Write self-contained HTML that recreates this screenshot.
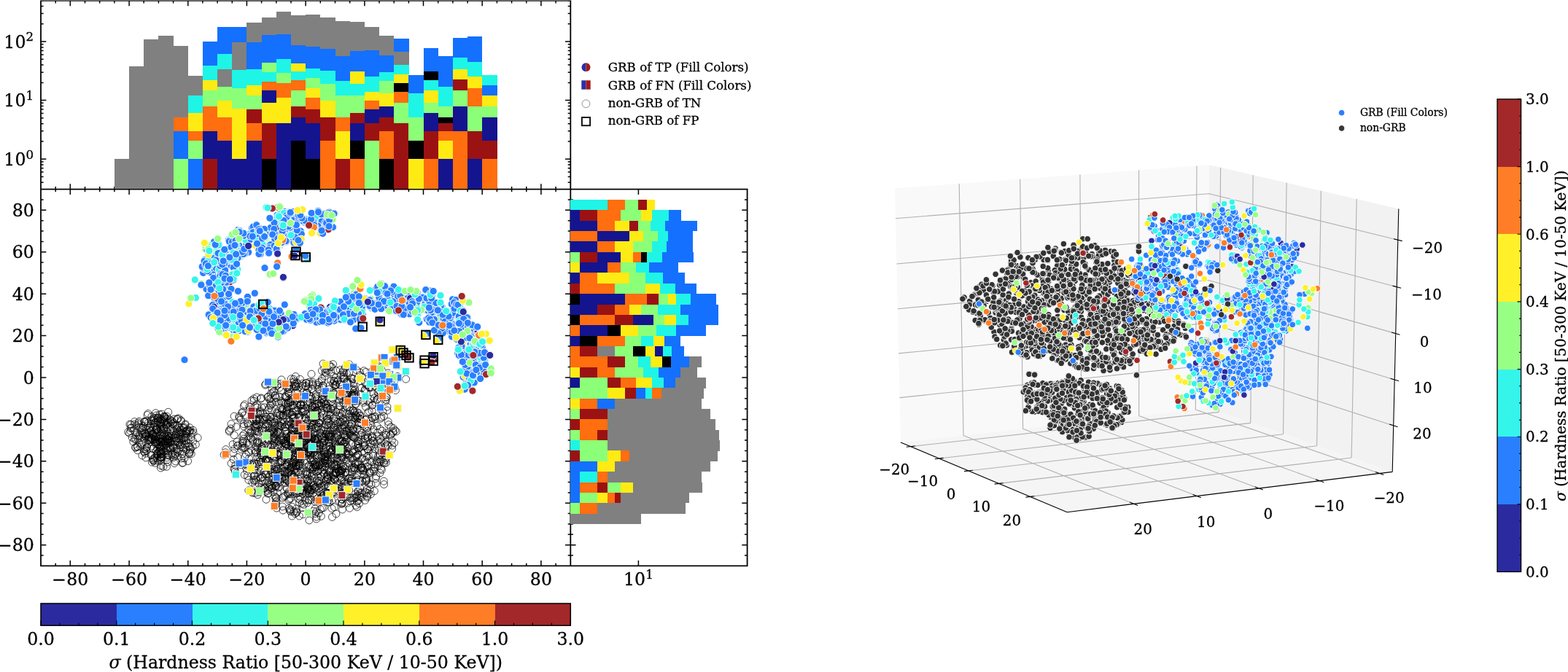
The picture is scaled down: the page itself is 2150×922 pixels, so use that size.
<!DOCTYPE html>
<html lang="en"><head><meta charset="utf-8"><title>GRB t-SNE hardness ratio</title>
<style>html,body{margin:0;padding:0;background:#fff}body{width:2150px;height:922px;overflow:hidden}svg{display:block}text{white-space:pre;stroke:#000;stroke-width:.3px;stroke-linejoin:round}</style>
</head><body>
<svg width="2150" height="922" viewBox="0 0 2150 922" font-family='"DejaVu Serif","Liberation Serif",serif' fill="#000">
<defs>
<circle id="t" r="5" fill="none" stroke="#000" stroke-opacity=".75" stroke-width=".95"/><rect id="p" x="-5.7" y="-5.7" width="11.4" height="11.4" fill="none" stroke="#000" stroke-width="2"/><circle id="cN" r="5.1" fill="#2b2b9f" stroke="#fff" stroke-width="1"/><rect id="sN" x="-5" y="-5" width="10" height="10" fill="#2b2b9f" stroke="#f4f4f4" stroke-width="1"/><circle id="cB" r="5.1" fill="#2a7fff" stroke="#fff" stroke-width="1"/><rect id="sB" x="-5" y="-5" width="10" height="10" fill="#2a7fff" stroke="#f4f4f4" stroke-width="1"/><circle id="cC" r="5.1" fill="#35f5eb" stroke="#fff" stroke-width="1"/><rect id="sC" x="-5" y="-5" width="10" height="10" fill="#35f5eb" stroke="#f4f4f4" stroke-width="1"/><circle id="cG" r="5.1" fill="#98ff85" stroke="#fff" stroke-width="1"/><rect id="sG" x="-5" y="-5" width="10" height="10" fill="#98ff85" stroke="#f4f4f4" stroke-width="1"/><circle id="cY" r="5.1" fill="#fff02a" stroke="#fff" stroke-width="1"/><rect id="sY" x="-5" y="-5" width="10" height="10" fill="#fff02a" stroke="#f4f4f4" stroke-width="1"/><circle id="cO" r="5.1" fill="#ff7d26" stroke="#fff" stroke-width="1"/><rect id="sO" x="-5" y="-5" width="10" height="10" fill="#ff7d26" stroke="#f4f4f4" stroke-width="1"/><circle id="cR" r="5.1" fill="#a2282a" stroke="#fff" stroke-width="1"/><rect id="sR" x="-5" y="-5" width="10" height="10" fill="#a2282a" stroke="#f4f4f4" stroke-width="1"/>
<circle id="d" r="4.3" fill="#333" stroke="#fff" stroke-width="1"/><circle id="eN" r="4.3" fill="#2b2b9f" stroke="#fff" stroke-width="1"/><circle id="eB" r="4.3" fill="#2a7fff" stroke="#fff" stroke-width="1"/><circle id="eC" r="4.3" fill="#35f5eb" stroke="#fff" stroke-width="1"/><circle id="eG" r="4.3" fill="#98ff85" stroke="#fff" stroke-width="1"/><circle id="eY" r="4.3" fill="#fff02a" stroke="#fff" stroke-width="1"/><circle id="eO" r="4.3" fill="#ff7d26" stroke="#fff" stroke-width="1"/><circle id="eR" r="4.3" fill="#a2282a" stroke="#fff" stroke-width="1"/>
<clipPath id="cm"><rect x="56.0" y="259.6" width="726.3" height="516.8"/></clipPath>
</defs>
<g id="scatter" clip-path="url(#cm)">
<use href="#t" x="429.6" y="676.7"/><use href="#t" x="441.0" y="522.8"/><use href="#t" x="180.5" y="586.9"/><use href="#t" x="400.6" y="609.3"/><use href="#t" x="409.2" y="600.2"/><use href="#t" x="210.8" y="582.6"/><use href="#t" x="236.7" y="624.1"/><use href="#t" x="372.0" y="640.1"/><use href="#t" x="433.8" y="712.0"/><use href="#t" x="197.9" y="616.3"/><use href="#t" x="437.1" y="634.7"/><use href="#t" x="506.8" y="531.2"/><use href="#t" x="370.9" y="610.5"/><use href="#t" x="413.5" y="564.2"/><use href="#t" x="392.1" y="564.8"/><use href="#t" x="338.3" y="607.9"/><use href="#t" x="376.6" y="644.5"/><use href="#t" x="443.6" y="666.2"/><use href="#t" x="461.4" y="638.4"/><use href="#t" x="434.2" y="563.9"/><use href="#t" x="386.2" y="651.3"/><use href="#t" x="467.3" y="645.7"/><use href="#t" x="467.2" y="612.7"/><use href="#t" x="499.6" y="651.5"/><use href="#t" x="217.8" y="573.2"/><use href="#t" x="217.0" y="620.3"/><use href="#t" x="443.1" y="610.8"/><use href="#t" x="190.7" y="582.2"/><use href="#t" x="437.8" y="660.2"/><use href="#t" x="257.2" y="589.3"/><use href="#t" x="330.9" y="616.6"/><use href="#t" x="386.9" y="561.7"/><use href="#t" x="393.1" y="563.2"/><use href="#t" x="482.2" y="641.6"/><use href="#t" x="188.6" y="612.6"/><use href="#t" x="470.0" y="667.1"/><use href="#t" x="400.1" y="524.9"/><use href="#t" x="234.0" y="579.4"/><use href="#t" x="376.6" y="622.0"/><use href="#t" x="446.8" y="554.7"/><use href="#t" x="454.9" y="617.7"/><use href="#t" x="436.7" y="646.3"/><use href="#t" x="190.0" y="580.1"/><use href="#t" x="435.3" y="528.1"/><use href="#t" x="400.4" y="708.0"/><use href="#t" x="254.9" y="597.5"/><use href="#t" x="447.9" y="571.0"/><use href="#t" x="371.3" y="665.5"/><use href="#t" x="457.8" y="522.2"/><use href="#t" x="390.4" y="608.6"/><use href="#t" x="460.5" y="527.7"/><use href="#t" x="419.6" y="588.4"/><use href="#t" x="429.2" y="573.8"/><use href="#t" x="340.9" y="583.8"/><use href="#t" x="363.0" y="574.8"/><use href="#t" x="411.8" y="620.1"/><use href="#t" x="469.5" y="644.4"/><use href="#t" x="397.4" y="700.6"/><use href="#t" x="494.0" y="575.1"/><use href="#t" x="466.6" y="605.2"/><use href="#t" x="446.1" y="510.2"/><use href="#t" x="484.3" y="599.3"/><use href="#t" x="370.2" y="524.8"/><use href="#t" x="382.3" y="653.9"/><use href="#t" x="400.5" y="569.2"/><use href="#t" x="466.5" y="620.0"/><use href="#t" x="524.1" y="591.2"/><use href="#t" x="332.3" y="612.2"/><use href="#t" x="374.1" y="653.1"/><use href="#t" x="219.3" y="612.8"/><use href="#t" x="446.3" y="660.9"/><use href="#t" x="428.1" y="615.5"/><use href="#t" x="529.2" y="535.8"/><use href="#t" x="427.5" y="671.7"/><use href="#t" x="368.0" y="544.0"/><use href="#t" x="415.5" y="565.3"/><use href="#t" x="433.1" y="543.7"/><use href="#t" x="503.3" y="671.3"/><use href="#t" x="185.8" y="613.8"/><use href="#t" x="345.1" y="594.7"/><use href="#t" x="407.3" y="659.1"/><use href="#t" x="411.2" y="621.6"/><use href="#t" x="412.9" y="561.0"/><use href="#t" x="457.7" y="612.7"/><use href="#t" x="332.3" y="565.2"/><use href="#t" x="416.6" y="543.7"/><use href="#t" x="323.4" y="649.7"/><use href="#t" x="213.2" y="580.0"/><use href="#t" x="201.1" y="597.0"/><use href="#t" x="380.3" y="676.1"/><use href="#t" x="349.9" y="664.9"/><use href="#t" x="527.3" y="517.4"/><use href="#t" x="249.8" y="635.3"/><use href="#t" x="440.1" y="653.7"/><use href="#t" x="372.4" y="596.6"/><use href="#t" x="388.5" y="569.4"/><use href="#t" x="471.4" y="607.5"/><use href="#t" x="406.1" y="637.8"/><use href="#t" x="400.9" y="568.7"/><use href="#t" x="359.6" y="613.3"/><use href="#t" x="351.1" y="577.5"/><use href="#t" x="225.7" y="572.9"/><use href="#t" x="252.7" y="586.1"/><use href="#t" x="525.0" y="510.1"/><use href="#t" x="179.0" y="587.4"/><use href="#t" x="354.4" y="675.2"/><use href="#t" x="417.1" y="615.4"/><use href="#t" x="345.1" y="549.3"/><use href="#t" x="375.2" y="598.3"/><use href="#t" x="475.0" y="631.2"/><use href="#t" x="443.1" y="559.6"/><use href="#t" x="443.9" y="619.4"/><use href="#t" x="210.0" y="577.6"/><use href="#t" x="220.1" y="575.8"/><use href="#t" x="457.6" y="573.8"/><use href="#t" x="526.0" y="634.0"/><use href="#t" x="403.7" y="615.2"/><use href="#t" x="380.7" y="564.7"/><use href="#t" x="392.3" y="605.1"/><use href="#t" x="234.2" y="588.8"/><use href="#t" x="254.1" y="581.8"/><use href="#t" x="504.7" y="584.9"/><use href="#t" x="385.8" y="602.9"/><use href="#t" x="344.5" y="601.4"/><use href="#t" x="482.6" y="647.8"/><use href="#t" x="427.3" y="561.8"/><use href="#t" x="227.1" y="605.3"/><use href="#t" x="451.3" y="500.6"/><use href="#t" x="449.9" y="631.6"/><use href="#t" x="398.3" y="651.4"/><use href="#t" x="378.1" y="657.2"/><use href="#t" x="352.3" y="606.7"/><use href="#t" x="545.1" y="516.5"/><use href="#t" x="384.0" y="593.2"/><use href="#t" x="221.2" y="622.0"/><use href="#t" x="516.8" y="584.4"/><use href="#t" x="454.9" y="676.8"/><use href="#t" x="542.4" y="535.5"/><use href="#t" x="385.6" y="550.5"/><use href="#t" x="223.1" y="617.2"/><use href="#t" x="208.1" y="601.7"/><use href="#t" x="338.7" y="646.2"/><use href="#t" x="501.9" y="656.6"/><use href="#t" x="424.8" y="616.5"/><use href="#t" x="374.0" y="589.1"/><use href="#t" x="409.2" y="531.3"/><use href="#t" x="341.4" y="629.0"/><use href="#t" x="198.7" y="578.4"/><use href="#t" x="495.9" y="532.3"/><use href="#t" x="481.1" y="659.8"/><use href="#t" x="515.1" y="656.6"/><use href="#t" x="244.5" y="618.0"/><use href="#t" x="391.0" y="545.1"/><use href="#t" x="467.6" y="630.9"/><use href="#t" x="471.4" y="582.6"/><use href="#t" x="207.9" y="571.5"/><use href="#t" x="355.9" y="674.9"/><use href="#t" x="423.9" y="524.2"/><use href="#t" x="490.8" y="573.7"/><use href="#t" x="502.2" y="575.0"/><use href="#t" x="214.3" y="570.0"/><use href="#t" x="376.3" y="620.1"/><use href="#t" x="239.2" y="635.6"/><use href="#t" x="421.5" y="689.8"/><use href="#t" x="223.9" y="640.2"/><use href="#t" x="442.7" y="680.3"/><use href="#t" x="484.2" y="631.4"/><use href="#t" x="468.5" y="646.0"/><use href="#t" x="233.4" y="605.6"/><use href="#t" x="457.5" y="623.1"/><use href="#t" x="423.3" y="589.1"/><use href="#t" x="454.7" y="550.9"/><use href="#t" x="221.6" y="626.7"/><use href="#t" x="247.6" y="619.0"/><use href="#t" x="526.4" y="530.8"/><use href="#t" x="379.8" y="623.2"/><use href="#t" x="379.9" y="529.4"/><use href="#t" x="196.2" y="584.5"/><use href="#t" x="186.6" y="596.7"/><use href="#t" x="378.4" y="667.5"/><use href="#t" x="507.2" y="532.0"/><use href="#t" x="370.2" y="664.1"/><use href="#t" x="418.0" y="604.1"/><use href="#t" x="508.7" y="612.4"/><use href="#t" x="392.3" y="591.1"/><use href="#t" x="430.6" y="577.8"/><use href="#t" x="431.9" y="704.9"/><use href="#t" x="221.0" y="589.5"/><use href="#t" x="350.6" y="591.5"/><use href="#t" x="399.7" y="650.9"/><use href="#t" x="409.7" y="573.8"/><use href="#t" x="319.2" y="609.7"/><use href="#t" x="469.1" y="543.2"/><use href="#t" x="271.1" y="600.6"/><use href="#t" x="383.1" y="646.4"/><use href="#t" x="212.5" y="573.6"/><use href="#t" x="391.0" y="591.9"/><use href="#t" x="388.8" y="604.1"/><use href="#t" x="484.3" y="587.9"/><use href="#t" x="458.9" y="600.8"/><use href="#t" x="450.4" y="577.5"/><use href="#t" x="255.5" y="604.5"/><use href="#t" x="486.2" y="645.0"/><use href="#t" x="425.6" y="580.7"/><use href="#t" x="453.8" y="659.9"/><use href="#t" x="366.9" y="632.2"/><use href="#t" x="409.1" y="572.5"/><use href="#t" x="521.0" y="623.9"/><use href="#t" x="396.1" y="661.0"/><use href="#t" x="209.7" y="630.6"/><use href="#t" x="389.8" y="579.0"/><use href="#t" x="471.9" y="519.4"/><use href="#t" x="419.9" y="568.1"/><use href="#t" x="367.7" y="673.1"/><use href="#t" x="385.3" y="580.0"/><use href="#t" x="482.7" y="662.2"/><use href="#t" x="424.7" y="570.6"/><use href="#t" x="411.1" y="660.5"/><use href="#t" x="394.7" y="677.9"/><use href="#t" x="468.5" y="691.2"/><use href="#t" x="350.0" y="556.9"/><use href="#t" x="457.9" y="586.9"/><use href="#t" x="404.6" y="529.3"/><use href="#t" x="384.2" y="621.7"/><use href="#t" x="430.0" y="641.0"/><use href="#t" x="464.9" y="647.9"/><use href="#t" x="380.6" y="643.7"/><use href="#t" x="482.0" y="643.1"/><use href="#t" x="381.6" y="620.7"/><use href="#t" x="352.3" y="583.9"/><use href="#t" x="211.5" y="594.0"/><use href="#t" x="384.9" y="604.2"/><use href="#t" x="414.7" y="674.0"/><use href="#t" x="443.1" y="499.0"/><use href="#t" x="438.0" y="638.5"/><use href="#t" x="487.6" y="610.5"/><use href="#t" x="469.4" y="616.5"/><use href="#t" x="231.5" y="601.0"/><use href="#t" x="228.0" y="585.8"/><use href="#t" x="486.3" y="635.4"/><use href="#t" x="262.7" y="594.0"/><use href="#t" x="438.6" y="638.1"/><use href="#t" x="487.9" y="569.4"/><use href="#t" x="237.8" y="627.6"/><use href="#t" x="503.9" y="640.1"/><use href="#t" x="214.7" y="580.0"/><use href="#t" x="190.3" y="586.2"/><use href="#t" x="510.2" y="556.2"/><use href="#t" x="452.9" y="632.6"/><use href="#t" x="490.3" y="634.6"/><use href="#t" x="401.2" y="586.5"/><use href="#t" x="397.1" y="598.7"/><use href="#t" x="543.3" y="592.0"/><use href="#t" x="480.0" y="595.8"/><use href="#t" x="382.2" y="605.5"/><use href="#t" x="440.4" y="565.8"/><use href="#t" x="207.9" y="590.3"/><use href="#t" x="207.5" y="577.2"/><use href="#t" x="228.5" y="591.5"/><use href="#t" x="464.1" y="609.7"/><use href="#t" x="448.7" y="677.8"/><use href="#t" x="380.4" y="576.1"/><use href="#t" x="337.5" y="642.0"/><use href="#t" x="467.2" y="638.0"/><use href="#t" x="486.5" y="573.0"/><use href="#t" x="224.7" y="574.9"/><use href="#t" x="475.4" y="612.3"/><use href="#t" x="371.3" y="546.7"/><use href="#t" x="486.3" y="542.4"/><use href="#t" x="408.0" y="596.6"/><use href="#t" x="243.3" y="575.1"/><use href="#t" x="428.0" y="627.8"/><use href="#t" x="508.2" y="678.2"/><use href="#t" x="466.8" y="606.4"/><use href="#t" x="428.1" y="578.8"/><use href="#t" x="360.2" y="654.9"/><use href="#t" x="378.9" y="646.1"/><use href="#t" x="342.3" y="635.8"/><use href="#t" x="371.4" y="540.0"/><use href="#t" x="224.9" y="571.5"/><use href="#t" x="504.3" y="599.4"/><use href="#t" x="485.1" y="529.8"/><use href="#t" x="402.6" y="677.4"/><use href="#t" x="422.2" y="660.4"/><use href="#t" x="221.8" y="619.8"/><use href="#t" x="399.3" y="597.6"/><use href="#t" x="534.3" y="535.1"/><use href="#t" x="240.1" y="622.5"/><use href="#t" x="221.8" y="568.2"/><use href="#t" x="433.0" y="541.2"/><use href="#t" x="386.0" y="535.9"/><use href="#t" x="482.6" y="541.6"/><use href="#t" x="230.3" y="618.9"/><use href="#t" x="411.9" y="625.3"/><use href="#t" x="377.3" y="667.0"/><use href="#t" x="493.2" y="514.9"/><use href="#t" x="480.3" y="655.8"/><use href="#t" x="477.4" y="525.1"/><use href="#t" x="485.2" y="536.8"/><use href="#t" x="446.7" y="591.0"/><use href="#t" x="400.8" y="674.9"/><use href="#t" x="425.1" y="543.5"/><use href="#t" x="426.5" y="573.1"/><use href="#t" x="530.7" y="610.2"/><use href="#t" x="436.1" y="639.0"/><use href="#t" x="522.3" y="606.1"/><use href="#t" x="231.4" y="598.5"/><use href="#t" x="453.2" y="541.3"/><use href="#t" x="531.0" y="563.2"/><use href="#t" x="339.4" y="653.0"/><use href="#t" x="427.9" y="559.0"/><use href="#t" x="187.3" y="593.9"/><use href="#t" x="450.8" y="676.9"/><use href="#t" x="473.2" y="647.8"/><use href="#t" x="460.3" y="590.3"/><use href="#t" x="254.7" y="600.2"/><use href="#t" x="422.1" y="600.1"/><use href="#t" x="419.1" y="591.1"/><use href="#t" x="466.3" y="652.4"/><use href="#t" x="369.6" y="594.5"/><use href="#t" x="363.8" y="645.8"/><use href="#t" x="230.3" y="580.8"/><use href="#t" x="422.2" y="669.5"/><use href="#t" x="255.9" y="594.8"/><use href="#t" x="516.1" y="511.5"/><use href="#t" x="437.4" y="659.2"/><use href="#t" x="481.1" y="597.6"/><use href="#t" x="204.2" y="593.5"/><use href="#t" x="512.3" y="540.6"/><use href="#t" x="486.1" y="592.4"/><use href="#t" x="217.5" y="592.1"/><use href="#t" x="469.1" y="643.9"/><use href="#t" x="434.8" y="617.3"/><use href="#t" x="235.8" y="577.8"/><use href="#t" x="357.9" y="624.1"/><use href="#t" x="465.6" y="688.2"/><use href="#t" x="419.8" y="625.5"/><use href="#t" x="370.6" y="644.6"/><use href="#t" x="444.8" y="650.1"/><use href="#t" x="530.4" y="545.1"/><use href="#t" x="383.4" y="544.2"/><use href="#t" x="254.9" y="593.2"/><use href="#t" x="372.4" y="669.5"/><use href="#t" x="444.0" y="621.8"/><use href="#t" x="462.6" y="589.1"/><use href="#t" x="380.7" y="663.4"/><use href="#t" x="454.7" y="627.8"/><use href="#t" x="477.7" y="624.7"/><use href="#t" x="354.9" y="633.9"/><use href="#t" x="524.3" y="518.9"/><use href="#t" x="472.7" y="585.7"/><use href="#t" x="489.2" y="688.1"/><use href="#t" x="449.8" y="656.8"/><use href="#t" x="503.4" y="680.5"/><use href="#t" x="396.5" y="577.8"/><use href="#t" x="438.7" y="571.2"/><use href="#t" x="446.2" y="665.4"/><use href="#t" x="462.7" y="633.4"/><use href="#t" x="363.6" y="586.0"/><use href="#t" x="469.5" y="588.7"/><use href="#t" x="360.4" y="566.5"/><use href="#t" x="470.4" y="565.3"/><use href="#t" x="535.9" y="596.0"/><use href="#t" x="434.6" y="679.7"/><use href="#t" x="230.7" y="598.2"/><use href="#t" x="252.9" y="604.4"/><use href="#t" x="447.5" y="583.2"/><use href="#t" x="433.6" y="574.6"/><use href="#t" x="483.9" y="621.1"/><use href="#t" x="349.3" y="651.6"/><use href="#t" x="411.9" y="682.2"/><use href="#t" x="190.8" y="607.2"/><use href="#t" x="420.5" y="602.8"/><use href="#t" x="452.8" y="620.6"/><use href="#t" x="446.7" y="684.9"/><use href="#t" x="421.4" y="673.1"/><use href="#t" x="449.0" y="656.4"/><use href="#t" x="514.5" y="616.0"/><use href="#t" x="477.1" y="628.3"/><use href="#t" x="514.4" y="552.0"/><use href="#t" x="216.3" y="572.9"/><use href="#t" x="510.6" y="598.3"/><use href="#t" x="429.2" y="528.8"/><use href="#t" x="500.4" y="534.3"/><use href="#t" x="389.3" y="681.2"/><use href="#t" x="532.2" y="511.9"/><use href="#t" x="220.4" y="582.6"/><use href="#t" x="221.1" y="622.8"/><use href="#t" x="438.3" y="664.4"/><use href="#t" x="355.3" y="664.5"/><use href="#t" x="463.4" y="612.0"/><use href="#t" x="381.3" y="624.4"/><use href="#t" x="365.5" y="629.4"/><use href="#t" x="475.6" y="524.3"/><use href="#t" x="349.2" y="636.8"/><use href="#t" x="218.9" y="568.9"/><use href="#t" x="434.3" y="638.7"/><use href="#t" x="351.3" y="582.4"/><use href="#t" x="372.8" y="618.0"/><use href="#t" x="406.8" y="601.8"/><use href="#t" x="488.7" y="660.0"/><use href="#t" x="224.3" y="594.5"/><use href="#t" x="411.2" y="609.6"/><use href="#t" x="503.9" y="615.8"/><use href="#t" x="393.8" y="558.6"/><use href="#t" x="421.3" y="651.7"/><use href="#t" x="453.6" y="615.2"/><use href="#t" x="385.9" y="584.9"/><use href="#t" x="488.7" y="626.5"/><use href="#t" x="208.0" y="612.3"/><use href="#t" x="512.9" y="646.4"/><use href="#t" x="482.0" y="542.9"/><use href="#t" x="204.7" y="600.1"/><use href="#t" x="442.5" y="680.1"/><use href="#t" x="414.3" y="691.0"/><use href="#t" x="486.2" y="564.9"/><use href="#t" x="445.9" y="626.0"/><use href="#t" x="433.8" y="586.6"/><use href="#t" x="414.7" y="677.5"/><use href="#t" x="419.7" y="610.3"/><use href="#t" x="510.6" y="600.7"/><use href="#t" x="397.2" y="578.7"/><use href="#t" x="519.5" y="618.2"/><use href="#t" x="419.5" y="574.3"/><use href="#t" x="350.3" y="585.3"/><use href="#t" x="194.6" y="590.4"/><use href="#t" x="526.5" y="664.6"/><use href="#t" x="426.3" y="631.4"/><use href="#t" x="220.2" y="623.7"/><use href="#t" x="395.9" y="686.3"/><use href="#t" x="359.9" y="575.9"/><use href="#t" x="491.0" y="624.2"/><use href="#t" x="369.8" y="587.0"/><use href="#t" x="446.6" y="538.7"/><use href="#t" x="184.6" y="582.3"/><use href="#t" x="404.1" y="600.7"/><use href="#t" x="420.2" y="525.4"/><use href="#t" x="377.3" y="543.2"/><use href="#t" x="385.8" y="634.3"/><use href="#t" x="225.3" y="571.3"/><use href="#t" x="436.1" y="586.2"/><use href="#t" x="482.2" y="682.6"/><use href="#t" x="460.7" y="508.4"/><use href="#t" x="500.7" y="674.8"/><use href="#t" x="194.9" y="625.0"/><use href="#t" x="228.4" y="640.3"/><use href="#t" x="530.9" y="558.1"/><use href="#t" x="425.0" y="547.1"/><use href="#t" x="449.1" y="574.7"/><use href="#t" x="335.2" y="651.5"/><use href="#t" x="491.4" y="549.7"/><use href="#t" x="352.6" y="559.2"/><use href="#t" x="376.1" y="627.2"/><use href="#t" x="507.3" y="649.1"/><use href="#t" x="375.5" y="625.5"/><use href="#t" x="470.4" y="552.4"/><use href="#t" x="407.7" y="600.0"/><use href="#t" x="212.7" y="635.2"/><use href="#t" x="227.6" y="614.6"/><use href="#t" x="257.6" y="632.7"/><use href="#t" x="502.4" y="675.9"/><use href="#t" x="369.4" y="668.5"/><use href="#t" x="460.9" y="705.0"/><use href="#t" x="527.1" y="619.6"/><use href="#t" x="403.7" y="627.2"/><use href="#t" x="485.2" y="641.4"/><use href="#t" x="445.7" y="632.5"/><use href="#t" x="346.2" y="570.8"/><use href="#t" x="398.7" y="550.7"/><use href="#t" x="216.2" y="632.1"/><use href="#t" x="349.6" y="676.5"/><use href="#t" x="333.1" y="606.9"/><use href="#t" x="359.2" y="605.7"/><use href="#t" x="470.3" y="641.5"/><use href="#t" x="431.3" y="602.7"/><use href="#t" x="336.2" y="614.3"/><use href="#t" x="347.9" y="635.6"/><use href="#t" x="483.8" y="562.7"/><use href="#t" x="454.4" y="596.5"/><use href="#t" x="332.6" y="598.1"/><use href="#t" x="449.6" y="636.4"/><use href="#t" x="378.6" y="682.5"/><use href="#t" x="223.1" y="575.5"/><use href="#t" x="484.0" y="534.0"/><use href="#t" x="374.7" y="600.9"/><use href="#t" x="503.1" y="626.7"/><use href="#t" x="242.4" y="615.6"/><use href="#t" x="480.2" y="687.4"/><use href="#t" x="236.8" y="581.7"/><use href="#t" x="471.4" y="520.1"/><use href="#t" x="491.0" y="687.1"/><use href="#t" x="430.3" y="593.1"/><use href="#t" x="411.2" y="625.7"/><use href="#t" x="358.5" y="634.5"/><use href="#t" x="408.9" y="623.9"/><use href="#t" x="246.0" y="596.1"/><use href="#t" x="498.4" y="552.3"/><use href="#t" x="391.0" y="612.0"/><use href="#t" x="228.9" y="612.0"/><use href="#t" x="397.7" y="645.9"/><use href="#t" x="493.4" y="613.7"/><use href="#t" x="385.9" y="520.9"/><use href="#t" x="422.3" y="667.9"/><use href="#t" x="386.9" y="632.5"/><use href="#t" x="462.4" y="627.4"/><use href="#t" x="421.1" y="650.4"/><use href="#t" x="410.1" y="610.2"/><use href="#t" x="349.0" y="591.0"/><use href="#t" x="212.3" y="579.7"/><use href="#t" x="395.4" y="676.7"/><use href="#t" x="484.2" y="563.7"/><use href="#t" x="249.3" y="623.1"/><use href="#t" x="433.5" y="581.6"/><use href="#t" x="483.8" y="589.6"/><use href="#t" x="396.9" y="624.5"/><use href="#t" x="444.7" y="678.6"/><use href="#t" x="487.7" y="553.9"/><use href="#t" x="333.1" y="614.6"/><use href="#t" x="459.6" y="648.9"/><use href="#t" x="216.9" y="577.7"/><use href="#t" x="416.3" y="543.5"/><use href="#t" x="463.1" y="585.1"/><use href="#t" x="458.9" y="539.3"/><use href="#t" x="356.9" y="646.5"/><use href="#t" x="474.0" y="639.5"/><use href="#t" x="399.0" y="582.2"/><use href="#t" x="359.9" y="627.9"/><use href="#t" x="461.1" y="595.5"/><use href="#t" x="260.1" y="586.7"/><use href="#t" x="449.0" y="630.7"/><use href="#t" x="437.4" y="599.9"/><use href="#t" x="210.0" y="595.9"/><use href="#t" x="373.5" y="553.8"/><use href="#t" x="432.0" y="545.5"/><use href="#t" x="468.0" y="546.1"/><use href="#t" x="443.1" y="624.7"/><use href="#t" x="457.2" y="664.0"/><use href="#t" x="496.2" y="641.3"/><use href="#t" x="365.2" y="641.0"/><use href="#t" x="405.0" y="563.1"/><use href="#t" x="228.9" y="597.2"/><use href="#t" x="367.0" y="623.6"/><use href="#t" x="365.4" y="572.3"/><use href="#t" x="460.4" y="527.5"/><use href="#t" x="469.3" y="625.4"/><use href="#t" x="447.9" y="579.2"/><use href="#t" x="361.9" y="576.8"/><use href="#t" x="470.8" y="639.2"/><use href="#t" x="352.9" y="567.7"/><use href="#t" x="366.9" y="603.4"/><use href="#t" x="517.8" y="593.4"/><use href="#t" x="456.6" y="546.8"/><use href="#t" x="380.8" y="583.9"/><use href="#t" x="517.4" y="598.8"/><use href="#t" x="336.8" y="636.6"/><use href="#t" x="526.3" y="571.1"/><use href="#t" x="364.1" y="630.6"/><use href="#t" x="498.2" y="549.7"/><use href="#t" x="377.0" y="647.4"/><use href="#t" x="400.3" y="638.0"/><use href="#t" x="401.3" y="565.5"/><use href="#t" x="406.9" y="660.7"/><use href="#t" x="405.6" y="608.8"/><use href="#t" x="483.0" y="686.5"/><use href="#t" x="454.3" y="598.8"/><use href="#t" x="435.5" y="624.6"/><use href="#t" x="345.7" y="636.3"/><use href="#t" x="464.1" y="670.3"/><use href="#t" x="454.8" y="602.7"/><use href="#t" x="435.9" y="653.4"/><use href="#t" x="470.8" y="576.4"/><use href="#t" x="506.1" y="530.9"/><use href="#t" x="509.9" y="572.4"/><use href="#t" x="471.8" y="511.3"/><use href="#t" x="535.5" y="597.2"/><use href="#t" x="427.1" y="614.8"/><use href="#t" x="249.5" y="607.2"/><use href="#t" x="420.2" y="646.2"/><use href="#t" x="375.7" y="536.6"/><use href="#t" x="344.2" y="592.6"/><use href="#t" x="485.2" y="541.4"/><use href="#t" x="456.5" y="557.8"/><use href="#t" x="214.4" y="618.4"/><use href="#t" x="357.0" y="563.8"/><use href="#t" x="213.7" y="609.6"/><use href="#t" x="435.3" y="662.0"/><use href="#t" x="440.5" y="589.0"/><use href="#t" x="400.9" y="547.8"/><use href="#t" x="376.3" y="587.5"/><use href="#t" x="499.0" y="645.6"/><use href="#t" x="447.3" y="608.8"/><use href="#t" x="423.4" y="677.5"/><use href="#t" x="357.4" y="655.8"/><use href="#t" x="406.2" y="599.0"/><use href="#t" x="436.2" y="616.5"/><use href="#t" x="414.8" y="641.8"/><use href="#t" x="431.1" y="571.4"/><use href="#t" x="458.4" y="523.3"/><use href="#t" x="500.4" y="585.9"/><use href="#t" x="472.0" y="663.4"/><use href="#t" x="432.6" y="604.3"/><use href="#t" x="202.6" y="584.0"/><use href="#t" x="340.9" y="589.4"/><use href="#t" x="513.3" y="609.5"/><use href="#t" x="447.1" y="595.6"/><use href="#t" x="433.7" y="604.5"/><use href="#t" x="473.4" y="504.2"/><use href="#t" x="378.1" y="692.1"/><use href="#t" x="192.7" y="613.1"/><use href="#t" x="432.7" y="668.3"/><use href="#t" x="395.4" y="566.7"/><use href="#t" x="511.9" y="643.8"/><use href="#t" x="376.5" y="612.3"/><use href="#t" x="249.3" y="590.0"/><use href="#t" x="420.9" y="589.4"/><use href="#t" x="469.9" y="510.5"/><use href="#t" x="409.6" y="657.0"/><use href="#t" x="393.3" y="615.3"/><use href="#t" x="375.3" y="620.2"/><use href="#t" x="459.9" y="612.5"/><use href="#t" x="486.9" y="637.3"/><use href="#t" x="474.6" y="541.0"/><use href="#t" x="521.5" y="630.6"/><use href="#t" x="407.9" y="539.4"/><use href="#t" x="397.7" y="598.7"/><use href="#t" x="441.5" y="519.9"/><use href="#t" x="444.2" y="607.3"/><use href="#t" x="224.9" y="586.7"/><use href="#t" x="456.6" y="499.7"/><use href="#t" x="410.4" y="547.5"/><use href="#t" x="179.0" y="591.6"/><use href="#t" x="501.8" y="660.6"/><use href="#t" x="435.9" y="666.7"/><use href="#t" x="426.0" y="620.4"/><use href="#t" x="510.5" y="573.8"/><use href="#t" x="476.1" y="548.9"/><use href="#t" x="369.6" y="622.5"/><use href="#t" x="411.9" y="554.8"/><use href="#t" x="500.7" y="602.0"/><use href="#t" x="458.7" y="636.9"/><use href="#t" x="423.7" y="603.7"/><use href="#t" x="214.5" y="594.1"/><use href="#t" x="438.4" y="535.8"/><use href="#t" x="410.6" y="675.8"/><use href="#t" x="323.9" y="585.6"/><use href="#t" x="509.6" y="633.7"/><use href="#t" x="490.9" y="623.0"/><use href="#t" x="446.3" y="639.5"/><use href="#t" x="188.3" y="613.1"/><use href="#t" x="435.4" y="602.4"/><use href="#t" x="255.2" y="617.3"/><use href="#t" x="446.7" y="511.9"/><use href="#t" x="441.8" y="547.0"/><use href="#t" x="493.9" y="681.8"/><use href="#t" x="359.0" y="591.6"/><use href="#t" x="317.0" y="581.7"/><use href="#t" x="450.6" y="607.4"/><use href="#t" x="240.7" y="583.6"/><use href="#t" x="475.6" y="681.7"/><use href="#t" x="406.2" y="599.4"/><use href="#t" x="339.4" y="580.6"/><use href="#t" x="344.7" y="618.0"/><use href="#t" x="427.5" y="600.9"/><use href="#t" x="382.2" y="582.6"/><use href="#t" x="447.0" y="595.9"/><use href="#t" x="335.2" y="569.9"/><use href="#t" x="348.9" y="659.8"/><use href="#t" x="215.4" y="628.8"/><use href="#t" x="431.6" y="655.9"/><use href="#t" x="463.5" y="663.6"/><use href="#t" x="390.7" y="637.3"/><use href="#t" x="407.9" y="673.8"/><use href="#t" x="349.8" y="617.7"/><use href="#t" x="377.3" y="542.6"/><use href="#t" x="321.5" y="615.9"/><use href="#t" x="368.8" y="622.0"/><use href="#t" x="392.4" y="625.5"/><use href="#t" x="201.2" y="577.6"/><use href="#t" x="335.8" y="626.6"/><use href="#t" x="413.3" y="625.4"/><use href="#t" x="433.7" y="701.8"/><use href="#t" x="426.0" y="628.7"/><use href="#t" x="446.3" y="636.0"/><use href="#t" x="490.8" y="611.4"/><use href="#t" x="243.2" y="620.4"/><use href="#t" x="412.2" y="554.0"/><use href="#t" x="476.4" y="623.2"/><use href="#t" x="522.9" y="572.4"/><use href="#t" x="403.3" y="645.1"/><use href="#t" x="389.8" y="627.6"/><use href="#t" x="392.5" y="657.1"/><use href="#t" x="509.4" y="646.5"/><use href="#t" x="393.5" y="561.6"/><use href="#t" x="487.3" y="682.9"/><use href="#t" x="230.1" y="634.0"/><use href="#t" x="262.2" y="622.6"/><use href="#t" x="395.8" y="530.7"/><use href="#t" x="541.7" y="590.6"/><use href="#t" x="493.7" y="570.5"/><use href="#t" x="406.8" y="701.9"/><use href="#t" x="539.1" y="591.9"/><use href="#t" x="535.9" y="585.7"/><use href="#t" x="458.8" y="640.1"/><use href="#t" x="488.4" y="636.6"/><use href="#t" x="505.4" y="676.7"/><use href="#t" x="192.3" y="601.0"/><use href="#t" x="419.4" y="675.7"/><use href="#t" x="488.1" y="693.4"/><use href="#t" x="386.9" y="656.6"/><use href="#t" x="439.0" y="610.7"/><use href="#t" x="506.4" y="552.4"/><use href="#t" x="501.5" y="558.2"/><use href="#t" x="228.8" y="627.9"/><use href="#t" x="400.8" y="615.0"/><use href="#t" x="465.0" y="570.0"/><use href="#t" x="368.3" y="662.4"/><use href="#t" x="355.4" y="607.9"/><use href="#t" x="556.6" y="520.1"/><use href="#t" x="445.0" y="604.8"/><use href="#t" x="415.5" y="619.4"/><use href="#t" x="422.5" y="621.4"/><use href="#t" x="492.4" y="615.1"/><use href="#t" x="179.6" y="582.5"/><use href="#t" x="444.5" y="644.5"/><use href="#t" x="503.5" y="682.2"/><use href="#t" x="503.9" y="527.9"/><use href="#t" x="497.8" y="644.4"/><use href="#t" x="401.2" y="556.6"/><use href="#t" x="395.0" y="648.1"/><use href="#t" x="250.8" y="622.9"/><use href="#t" x="484.2" y="645.0"/><use href="#t" x="428.3" y="583.5"/><use href="#t" x="431.6" y="624.5"/><use href="#t" x="424.7" y="657.6"/><use href="#t" x="417.6" y="595.5"/><use href="#t" x="228.6" y="601.7"/><use href="#t" x="376.4" y="627.6"/><use href="#t" x="431.0" y="603.8"/><use href="#t" x="392.4" y="569.6"/><use href="#t" x="448.9" y="689.0"/><use href="#t" x="362.0" y="669.7"/><use href="#t" x="491.3" y="609.2"/><use href="#t" x="461.4" y="616.7"/><use href="#t" x="406.5" y="564.1"/><use href="#t" x="372.7" y="562.9"/><use href="#t" x="206.2" y="587.2"/><use href="#t" x="460.6" y="565.1"/><use href="#t" x="408.7" y="639.4"/><use href="#t" x="423.3" y="670.7"/><use href="#t" x="442.5" y="607.8"/><use href="#t" x="432.1" y="554.5"/><use href="#t" x="352.3" y="636.2"/><use href="#t" x="468.5" y="627.7"/><use href="#t" x="199.8" y="595.2"/><use href="#t" x="401.1" y="665.2"/><use href="#t" x="414.1" y="606.0"/><use href="#t" x="215.7" y="625.2"/><use href="#t" x="357.5" y="631.1"/><use href="#t" x="450.7" y="685.9"/><use href="#t" x="412.5" y="621.2"/><use href="#t" x="424.3" y="685.5"/><use href="#t" x="459.8" y="608.8"/><use href="#t" x="186.1" y="602.2"/><use href="#t" x="230.9" y="623.9"/><use href="#t" x="190.7" y="578.2"/><use href="#t" x="347.4" y="598.8"/><use href="#t" x="252.0" y="587.8"/><use href="#t" x="531.6" y="519.2"/><use href="#t" x="388.2" y="576.3"/><use href="#t" x="439.2" y="698.7"/><use href="#t" x="197.9" y="619.9"/><use href="#t" x="451.5" y="580.7"/><use href="#t" x="426.7" y="685.7"/><use href="#t" x="391.0" y="657.8"/><use href="#t" x="540.2" y="524.1"/><use href="#t" x="414.9" y="591.1"/><use href="#t" x="419.7" y="530.2"/><use href="#t" x="405.2" y="614.2"/><use href="#t" x="462.8" y="642.0"/><use href="#t" x="448.5" y="560.3"/><use href="#t" x="349.0" y="653.0"/><use href="#t" x="435.2" y="547.8"/><use href="#t" x="456.0" y="617.6"/><use href="#t" x="214.1" y="605.0"/><use href="#t" x="452.6" y="599.1"/><use href="#t" x="244.7" y="573.9"/><use href="#t" x="391.3" y="680.2"/><use href="#t" x="255.2" y="591.7"/><use href="#t" x="466.4" y="566.9"/><use href="#t" x="528.6" y="631.2"/><use href="#t" x="432.0" y="698.1"/><use href="#t" x="489.8" y="565.8"/><use href="#t" x="363.7" y="528.2"/><use href="#t" x="209.8" y="615.8"/><use href="#t" x="207.3" y="624.1"/><use href="#t" x="200.6" y="589.7"/><use href="#t" x="401.2" y="586.9"/><use href="#t" x="362.5" y="611.2"/><use href="#t" x="231.3" y="603.1"/><use href="#t" x="366.6" y="659.6"/><use href="#t" x="369.9" y="671.1"/><use href="#t" x="396.8" y="528.7"/><use href="#t" x="415.9" y="597.4"/><use href="#t" x="408.1" y="631.7"/><use href="#t" x="411.5" y="635.4"/><use href="#t" x="433.4" y="671.5"/><use href="#t" x="366.9" y="575.4"/><use href="#t" x="484.1" y="590.8"/><use href="#t" x="426.3" y="604.8"/><use href="#t" x="426.4" y="603.4"/><use href="#t" x="388.1" y="570.4"/><use href="#t" x="406.4" y="618.7"/><use href="#t" x="220.4" y="589.5"/><use href="#t" x="222.5" y="607.0"/><use href="#t" x="197.8" y="579.2"/><use href="#t" x="406.2" y="621.7"/><use href="#t" x="368.3" y="631.7"/><use href="#t" x="425.4" y="624.4"/><use href="#t" x="514.5" y="571.3"/><use href="#t" x="404.9" y="550.2"/><use href="#t" x="210.9" y="574.1"/><use href="#t" x="415.1" y="607.5"/><use href="#t" x="451.0" y="607.1"/><use href="#t" x="491.2" y="637.4"/><use href="#t" x="494.6" y="645.1"/><use href="#t" x="465.8" y="632.2"/><use href="#t" x="409.5" y="620.2"/><use href="#t" x="220.4" y="607.1"/><use href="#t" x="437.8" y="612.3"/><use href="#t" x="400.2" y="589.0"/><use href="#t" x="462.9" y="623.6"/><use href="#t" x="334.2" y="602.0"/><use href="#t" x="366.8" y="545.0"/><use href="#t" x="485.8" y="550.5"/><use href="#t" x="398.6" y="546.6"/><use href="#t" x="358.3" y="546.0"/><use href="#t" x="471.5" y="660.6"/><use href="#t" x="472.6" y="672.5"/><use href="#t" x="465.4" y="646.8"/><use href="#t" x="371.1" y="626.0"/><use href="#t" x="374.5" y="593.8"/><use href="#t" x="476.9" y="662.2"/><use href="#t" x="441.4" y="627.6"/><use href="#t" x="498.8" y="508.7"/><use href="#t" x="217.2" y="604.6"/><use href="#t" x="525.0" y="598.5"/><use href="#t" x="264.7" y="605.3"/><use href="#t" x="374.0" y="638.6"/><use href="#t" x="228.7" y="571.2"/><use href="#t" x="478.8" y="635.7"/><use href="#t" x="352.8" y="626.9"/><use href="#t" x="252.9" y="600.2"/><use href="#t" x="513.7" y="641.0"/><use href="#t" x="452.1" y="528.9"/><use href="#t" x="363.9" y="674.3"/><use href="#t" x="401.9" y="634.5"/><use href="#t" x="221.0" y="627.9"/><use href="#t" x="493.7" y="570.1"/><use href="#t" x="349.8" y="621.0"/><use href="#t" x="467.6" y="621.8"/><use href="#t" x="388.4" y="646.5"/><use href="#t" x="309.0" y="620.8"/><use href="#t" x="410.8" y="639.6"/><use href="#t" x="455.1" y="546.3"/><use href="#t" x="494.0" y="581.0"/><use href="#t" x="466.0" y="527.4"/><use href="#t" x="442.1" y="603.0"/><use href="#t" x="348.0" y="550.0"/><use href="#t" x="411.4" y="520.3"/><use href="#t" x="226.7" y="605.8"/><use href="#t" x="220.4" y="642.0"/><use href="#t" x="403.6" y="586.5"/><use href="#t" x="351.1" y="640.0"/><use href="#t" x="501.8" y="527.2"/><use href="#t" x="448.4" y="676.0"/><use href="#t" x="479.4" y="546.8"/><use href="#t" x="508.9" y="547.3"/><use href="#t" x="371.2" y="614.1"/><use href="#t" x="254.3" y="610.3"/><use href="#t" x="485.3" y="641.8"/><use href="#t" x="383.3" y="569.1"/><use href="#t" x="378.3" y="666.1"/><use href="#t" x="386.5" y="656.8"/><use href="#t" x="419.4" y="581.1"/><use href="#t" x="455.1" y="697.7"/><use href="#t" x="433.5" y="647.6"/><use href="#t" x="449.1" y="626.4"/><use href="#t" x="424.6" y="605.2"/><use href="#t" x="246.5" y="590.5"/><use href="#t" x="211.1" y="632.4"/><use href="#t" x="398.6" y="624.3"/><use href="#t" x="434.2" y="571.6"/><use href="#t" x="379.0" y="687.6"/><use href="#t" x="378.7" y="656.3"/><use href="#t" x="448.0" y="559.6"/><use href="#t" x="451.4" y="689.2"/><use href="#t" x="215.7" y="573.9"/><use href="#t" x="421.1" y="538.1"/><use href="#t" x="422.6" y="576.6"/><use href="#t" x="374.3" y="580.7"/><use href="#t" x="364.7" y="632.8"/><use href="#t" x="397.0" y="533.7"/><use href="#t" x="210.1" y="585.7"/><use href="#t" x="205.9" y="591.6"/><use href="#t" x="476.3" y="589.5"/><use href="#t" x="441.3" y="530.9"/><use href="#t" x="367.4" y="677.3"/><use href="#t" x="495.9" y="682.4"/><use href="#t" x="444.6" y="604.9"/><use href="#t" x="224.0" y="605.3"/><use href="#t" x="406.1" y="639.9"/><use href="#t" x="487.1" y="550.1"/><use href="#t" x="399.5" y="659.0"/><use href="#t" x="388.0" y="604.0"/><use href="#t" x="232.8" y="575.8"/><use href="#t" x="396.9" y="662.8"/><use href="#t" x="529.2" y="628.5"/><use href="#t" x="420.4" y="657.7"/><use href="#t" x="423.6" y="526.8"/><use href="#t" x="495.9" y="581.5"/><use href="#t" x="502.1" y="658.8"/><use href="#t" x="204.1" y="604.2"/><use href="#t" x="466.5" y="615.1"/><use href="#t" x="382.8" y="655.6"/><use href="#t" x="332.7" y="608.6"/><use href="#t" x="449.8" y="667.6"/><use href="#t" x="475.8" y="596.9"/><use href="#t" x="506.4" y="648.8"/><use href="#t" x="485.3" y="683.2"/><use href="#t" x="396.1" y="697.6"/><use href="#t" x="230.6" y="607.3"/><use href="#t" x="471.7" y="599.8"/><use href="#t" x="429.7" y="701.3"/><use href="#t" x="491.4" y="583.3"/><use href="#t" x="471.3" y="617.2"/><use href="#t" x="408.4" y="526.7"/><use href="#t" x="467.5" y="514.6"/><use href="#t" x="385.3" y="577.8"/><use href="#t" x="219.9" y="596.6"/><use href="#t" x="243.4" y="607.0"/><use href="#t" x="397.8" y="677.9"/><use href="#t" x="443.7" y="627.2"/><use href="#t" x="260.8" y="617.3"/><use href="#t" x="225.5" y="605.7"/><use href="#t" x="500.2" y="611.4"/><use href="#t" x="454.9" y="550.7"/><use href="#t" x="395.9" y="674.5"/><use href="#t" x="393.2" y="669.4"/><use href="#t" x="496.1" y="676.0"/><use href="#t" x="366.1" y="630.9"/><use href="#t" x="309.7" y="616.6"/><use href="#t" x="402.7" y="520.4"/><use href="#t" x="195.5" y="595.8"/><use href="#t" x="219.5" y="580.0"/><use href="#t" x="401.5" y="574.2"/><use href="#t" x="202.7" y="609.2"/><use href="#t" x="398.2" y="600.8"/><use href="#t" x="448.2" y="632.3"/><use href="#t" x="239.3" y="625.1"/><use href="#t" x="215.8" y="615.7"/><use href="#t" x="502.8" y="634.4"/><use href="#t" x="233.9" y="584.4"/><use href="#t" x="398.6" y="683.7"/><use href="#t" x="233.3" y="600.7"/><use href="#t" x="431.1" y="620.1"/><use href="#t" x="491.7" y="614.6"/><use href="#t" x="406.1" y="642.5"/><use href="#t" x="253.1" y="609.2"/><use href="#t" x="403.7" y="653.8"/><use href="#t" x="228.3" y="582.9"/><use href="#t" x="322.8" y="638.4"/><use href="#t" x="466.1" y="579.2"/><use href="#t" x="356.9" y="620.6"/><use href="#t" x="393.0" y="582.8"/><use href="#t" x="444.3" y="554.8"/><use href="#t" x="221.2" y="605.9"/><use href="#t" x="515.2" y="663.0"/><use href="#t" x="210.5" y="629.1"/><use href="#t" x="395.8" y="548.8"/><use href="#t" x="508.3" y="577.5"/><use href="#t" x="353.6" y="586.6"/><use href="#t" x="454.4" y="654.4"/><use href="#t" x="526.3" y="660.2"/><use href="#t" x="419.8" y="674.2"/><use href="#t" x="202.8" y="603.6"/><use href="#t" x="395.2" y="558.8"/><use href="#t" x="430.7" y="645.9"/><use href="#t" x="506.1" y="564.5"/><use href="#t" x="198.3" y="595.1"/><use href="#t" x="441.5" y="697.1"/><use href="#t" x="404.4" y="626.2"/><use href="#t" x="428.3" y="634.1"/><use href="#t" x="238.5" y="600.4"/><use href="#t" x="514.7" y="574.5"/><use href="#t" x="425.2" y="649.6"/><use href="#t" x="387.2" y="616.2"/><use href="#t" x="441.1" y="548.6"/><use href="#t" x="426.7" y="672.2"/><use href="#t" x="469.5" y="618.9"/><use href="#t" x="453.8" y="510.7"/><use href="#t" x="220.1" y="619.4"/><use href="#t" x="473.9" y="568.1"/><use href="#t" x="250.4" y="601.6"/><use href="#t" x="492.2" y="680.3"/><use href="#t" x="491.0" y="608.6"/><use href="#t" x="500.1" y="641.6"/><use href="#t" x="420.5" y="539.5"/><use href="#t" x="418.8" y="656.8"/><use href="#t" x="423.3" y="620.3"/><use href="#t" x="472.6" y="606.8"/><use href="#t" x="379.2" y="697.1"/><use href="#t" x="458.7" y="657.4"/><use href="#t" x="394.8" y="538.2"/><use href="#t" x="389.9" y="606.6"/><use href="#t" x="514.7" y="504.4"/><use href="#t" x="458.6" y="657.7"/><use href="#t" x="209.9" y="631.8"/><use href="#t" x="353.6" y="654.0"/><use href="#t" x="425.7" y="568.9"/><use href="#t" x="332.6" y="605.1"/><use href="#t" x="213.1" y="607.3"/><use href="#t" x="431.3" y="687.9"/><use href="#t" x="215.3" y="589.4"/><use href="#t" x="514.0" y="529.7"/><use href="#t" x="458.9" y="607.3"/><use href="#t" x="437.6" y="616.1"/><use href="#t" x="464.3" y="562.0"/><use href="#t" x="503.9" y="550.5"/><use href="#t" x="458.7" y="528.8"/><use href="#t" x="243.8" y="594.8"/><use href="#t" x="188.9" y="601.9"/><use href="#t" x="400.2" y="641.1"/><use href="#t" x="258.3" y="612.4"/><use href="#t" x="453.8" y="568.8"/><use href="#t" x="451.5" y="595.5"/><use href="#t" x="242.8" y="574.8"/><use href="#t" x="217.5" y="609.7"/><use href="#t" x="201.2" y="614.0"/><use href="#t" x="510.0" y="563.6"/><use href="#t" x="486.5" y="600.7"/><use href="#t" x="483.5" y="503.4"/><use href="#t" x="414.6" y="696.6"/><use href="#t" x="409.4" y="635.0"/><use href="#t" x="260.5" y="619.9"/><use href="#t" x="260.0" y="613.0"/><use href="#t" x="416.5" y="692.3"/><use href="#t" x="481.1" y="523.9"/><use href="#t" x="410.9" y="638.4"/><use href="#t" x="436.1" y="646.0"/><use href="#t" x="404.5" y="583.1"/><use href="#t" x="346.6" y="603.4"/><use href="#t" x="462.6" y="628.8"/><use href="#t" x="224.9" y="588.0"/><use href="#t" x="325.0" y="606.1"/><use href="#t" x="490.2" y="519.3"/><use href="#t" x="478.0" y="581.6"/><use href="#t" x="453.0" y="503.1"/><use href="#t" x="446.4" y="681.4"/><use href="#t" x="394.0" y="567.0"/><use href="#t" x="372.1" y="647.8"/><use href="#t" x="524.3" y="541.1"/><use href="#t" x="347.4" y="574.7"/><use href="#t" x="206.5" y="603.2"/><use href="#t" x="515.9" y="653.7"/><use href="#t" x="418.8" y="686.0"/><use href="#t" x="366.4" y="581.0"/><use href="#t" x="512.6" y="512.6"/><use href="#t" x="519.4" y="535.7"/><use href="#t" x="417.6" y="609.9"/><use href="#t" x="474.5" y="664.1"/><use href="#t" x="199.4" y="598.9"/><use href="#t" x="505.3" y="625.5"/><use href="#t" x="426.5" y="544.2"/><use href="#t" x="421.6" y="601.1"/><use href="#t" x="417.2" y="614.5"/><use href="#t" x="386.4" y="604.4"/><use href="#t" x="478.5" y="567.6"/><use href="#t" x="387.5" y="561.9"/><use href="#t" x="184.5" y="602.5"/><use href="#t" x="322.5" y="646.8"/><use href="#t" x="214.9" y="607.0"/><use href="#t" x="427.4" y="653.1"/><use href="#t" x="459.8" y="614.9"/><use href="#t" x="216.0" y="622.4"/><use href="#t" x="366.3" y="640.2"/><use href="#t" x="451.3" y="682.4"/><use href="#t" x="453.7" y="561.2"/><use href="#t" x="207.1" y="581.3"/><use href="#t" x="348.7" y="585.2"/><use href="#t" x="233.4" y="606.9"/><use href="#t" x="379.5" y="661.4"/><use href="#t" x="521.1" y="648.9"/><use href="#t" x="424.9" y="629.0"/><use href="#t" x="392.2" y="609.4"/><use href="#t" x="471.2" y="650.8"/><use href="#t" x="539.6" y="530.6"/><use href="#t" x="396.4" y="540.4"/><use href="#t" x="489.9" y="614.1"/><use href="#t" x="481.7" y="659.9"/><use href="#t" x="473.9" y="582.5"/><use href="#t" x="472.1" y="583.8"/><use href="#t" x="535.5" y="526.3"/><use href="#t" x="418.0" y="540.4"/><use href="#t" x="243.3" y="625.3"/><use href="#t" x="537.8" y="527.9"/><use href="#t" x="471.8" y="553.9"/><use href="#t" x="405.7" y="667.7"/><use href="#t" x="470.0" y="627.2"/><use href="#t" x="506.0" y="663.7"/><use href="#t" x="400.7" y="616.1"/><use href="#t" x="450.4" y="599.2"/><use href="#t" x="378.9" y="595.0"/><use href="#t" x="348.9" y="644.6"/><use href="#t" x="465.4" y="674.5"/><use href="#t" x="216.9" y="602.7"/><use href="#t" x="443.9" y="685.0"/><use href="#t" x="474.1" y="549.6"/><use href="#t" x="517.7" y="634.1"/><use href="#t" x="400.4" y="607.2"/><use href="#t" x="515.5" y="502.0"/><use href="#t" x="396.2" y="540.0"/><use href="#t" x="351.4" y="581.3"/><use href="#t" x="426.7" y="622.0"/><use href="#t" x="443.4" y="634.4"/><use href="#t" x="355.8" y="582.0"/><use href="#t" x="346.4" y="676.2"/><use href="#t" x="479.3" y="558.5"/><use href="#t" x="242.2" y="595.8"/><use href="#t" x="480.2" y="683.4"/><use href="#t" x="487.4" y="574.2"/><use href="#t" x="460.9" y="643.1"/><use href="#t" x="427.9" y="600.8"/><use href="#t" x="522.1" y="612.8"/><use href="#t" x="239.7" y="609.8"/><use href="#t" x="403.4" y="581.3"/><use href="#t" x="219.5" y="631.7"/><use href="#t" x="325.5" y="611.7"/><use href="#t" x="410.4" y="708.0"/><use href="#t" x="419.1" y="529.7"/><use href="#t" x="473.7" y="648.6"/><use href="#t" x="493.6" y="669.6"/><use href="#t" x="370.8" y="572.7"/><use href="#t" x="422.5" y="532.8"/><use href="#t" x="357.4" y="668.2"/><use href="#t" x="496.6" y="660.5"/><use href="#t" x="460.8" y="649.7"/><use href="#t" x="203.5" y="598.7"/><use href="#t" x="416.3" y="623.0"/><use href="#t" x="268.3" y="609.9"/><use href="#t" x="528.6" y="612.7"/><use href="#t" x="394.3" y="595.4"/><use href="#t" x="219.9" y="622.0"/><use href="#t" x="473.4" y="591.4"/><use href="#t" x="496.1" y="641.5"/><use href="#t" x="449.3" y="623.2"/><use href="#t" x="470.8" y="508.2"/><use href="#t" x="422.6" y="553.8"/><use href="#t" x="234.5" y="615.1"/><use href="#t" x="219.1" y="584.6"/><use href="#t" x="410.2" y="612.6"/><use href="#t" x="457.4" y="652.1"/><use href="#t" x="218.0" y="618.7"/><use href="#t" x="252.9" y="628.8"/><use href="#t" x="242.2" y="605.0"/><use href="#t" x="385.9" y="632.9"/><use href="#t" x="446.0" y="632.4"/><use href="#t" x="340.2" y="581.5"/><use href="#t" x="497.4" y="642.9"/><use href="#t" x="445.2" y="622.7"/><use href="#t" x="405.6" y="537.4"/><use href="#t" x="432.2" y="559.1"/><use href="#t" x="259.3" y="621.6"/><use href="#t" x="483.0" y="541.5"/><use href="#t" x="433.3" y="615.3"/><use href="#t" x="491.3" y="673.2"/><use href="#t" x="375.5" y="626.2"/><use href="#t" x="500.4" y="524.9"/><use href="#t" x="352.5" y="592.1"/><use href="#t" x="351.2" y="620.1"/><use href="#t" x="352.7" y="608.0"/><use href="#t" x="403.2" y="530.3"/><use href="#t" x="340.9" y="620.8"/><use href="#t" x="208.3" y="595.8"/><use href="#t" x="417.5" y="587.8"/><use href="#t" x="406.7" y="607.3"/><use href="#t" x="524.2" y="622.1"/><use href="#t" x="497.8" y="646.0"/><use href="#t" x="500.9" y="576.3"/><use href="#t" x="342.9" y="594.3"/><use href="#t" x="214.2" y="599.7"/><use href="#t" x="226.1" y="571.9"/><use href="#t" x="222.0" y="584.7"/><use href="#t" x="487.7" y="570.8"/><use href="#t" x="489.4" y="695.7"/><use href="#t" x="328.1" y="573.1"/><use href="#t" x="421.7" y="613.1"/><use href="#t" x="532.3" y="528.1"/><use href="#t" x="369.4" y="575.8"/><use href="#t" x="412.8" y="646.2"/><use href="#t" x="476.3" y="538.4"/><use href="#t" x="382.9" y="610.0"/><use href="#t" x="487.2" y="677.8"/><use href="#t" x="491.5" y="633.4"/><use href="#t" x="224.6" y="590.0"/><use href="#t" x="481.3" y="539.1"/><use href="#t" x="399.2" y="641.4"/><use href="#t" x="409.9" y="603.1"/><use href="#t" x="259.6" y="622.4"/><use href="#t" x="220.4" y="579.9"/><use href="#t" x="441.5" y="508.7"/><use href="#t" x="521.8" y="561.0"/><use href="#t" x="385.2" y="642.0"/><use href="#t" x="474.7" y="673.3"/><use href="#t" x="408.3" y="559.6"/><use href="#t" x="326.0" y="627.4"/><use href="#t" x="262.2" y="599.8"/><use href="#t" x="175.7" y="592.8"/><use href="#t" x="444.9" y="505.5"/><use href="#t" x="363.7" y="658.8"/><use href="#t" x="487.6" y="555.0"/><use href="#t" x="447.6" y="658.0"/><use href="#t" x="345.1" y="674.8"/><use href="#t" x="177.5" y="594.4"/><use href="#t" x="472.4" y="620.6"/><use href="#t" x="230.0" y="602.3"/><use href="#t" x="184.5" y="578.6"/><use href="#t" x="523.3" y="644.6"/><use href="#t" x="521.3" y="511.4"/><use href="#t" x="440.6" y="667.4"/><use href="#t" x="441.7" y="639.5"/><use href="#t" x="461.8" y="524.1"/><use href="#t" x="489.9" y="588.1"/><use href="#t" x="220.5" y="627.8"/><use href="#t" x="485.8" y="616.8"/><use href="#t" x="440.5" y="589.9"/><use href="#t" x="415.4" y="705.8"/><use href="#t" x="383.7" y="661.9"/><use href="#t" x="511.2" y="625.3"/><use href="#t" x="480.6" y="628.4"/><use href="#t" x="210.4" y="576.3"/><use href="#t" x="451.7" y="612.3"/><use href="#t" x="250.7" y="614.3"/><use href="#t" x="230.0" y="599.1"/><use href="#t" x="219.0" y="619.5"/><use href="#t" x="447.0" y="614.2"/><use href="#t" x="352.8" y="555.9"/><use href="#t" x="356.7" y="565.5"/><use href="#t" x="220.8" y="638.8"/><use href="#t" x="475.5" y="678.2"/><use href="#t" x="392.7" y="599.1"/><use href="#t" x="427.7" y="556.7"/><use href="#t" x="410.2" y="637.1"/><use href="#t" x="231.6" y="595.4"/><use href="#t" x="471.1" y="595.1"/><use href="#t" x="446.5" y="626.2"/><use href="#t" x="203.0" y="567.5"/><use href="#t" x="427.8" y="598.8"/><use href="#t" x="476.3" y="523.0"/><use href="#t" x="411.7" y="594.4"/><use href="#t" x="409.8" y="594.2"/><use href="#t" x="442.1" y="681.8"/><use href="#t" x="216.9" y="592.5"/><use href="#t" x="432.4" y="564.5"/><use href="#t" x="238.2" y="605.8"/><use href="#t" x="248.3" y="593.2"/><use href="#t" x="528.6" y="532.0"/><use href="#t" x="402.1" y="597.6"/><use href="#t" x="411.4" y="626.7"/><use href="#t" x="453.5" y="565.9"/><use href="#t" x="444.2" y="649.8"/><use href="#t" x="532.8" y="582.7"/><use href="#t" x="435.1" y="563.3"/><use href="#t" x="477.3" y="657.4"/><use href="#t" x="373.8" y="538.7"/><use href="#t" x="247.1" y="610.0"/><use href="#t" x="469.5" y="605.5"/><use href="#t" x="444.0" y="551.9"/><use href="#t" x="391.6" y="662.7"/><use href="#t" x="511.1" y="604.4"/><use href="#t" x="464.8" y="603.2"/><use href="#t" x="482.5" y="581.5"/><use href="#t" x="219.4" y="606.2"/><use href="#t" x="374.8" y="600.2"/><use href="#t" x="454.7" y="620.3"/><use href="#t" x="427.0" y="513.2"/><use href="#t" x="426.4" y="592.4"/><use href="#t" x="385.3" y="600.9"/><use href="#t" x="347.9" y="653.2"/><use href="#t" x="391.2" y="543.6"/><use href="#t" x="209.4" y="603.2"/><use href="#t" x="425.0" y="671.4"/><use href="#t" x="403.5" y="654.2"/><use href="#t" x="373.8" y="648.8"/><use href="#t" x="399.3" y="595.6"/><use href="#t" x="478.7" y="672.7"/><use href="#t" x="522.7" y="503.7"/><use href="#t" x="197.5" y="602.2"/><use href="#t" x="517.9" y="501.5"/><use href="#t" x="459.9" y="571.7"/><use href="#t" x="459.2" y="637.9"/><use href="#t" x="242.2" y="588.4"/><use href="#t" x="357.4" y="568.3"/><use href="#t" x="512.9" y="516.7"/><use href="#t" x="511.6" y="622.4"/><use href="#t" x="518.0" y="537.9"/><use href="#t" x="488.8" y="625.4"/><use href="#t" x="475.7" y="542.1"/><use href="#t" x="495.1" y="597.2"/><use href="#t" x="500.3" y="600.9"/><use href="#t" x="456.6" y="526.9"/><use href="#t" x="376.1" y="605.7"/><use href="#t" x="422.1" y="662.8"/><use href="#t" x="465.2" y="543.5"/><use href="#t" x="403.9" y="662.1"/><use href="#t" x="532.3" y="611.4"/><use href="#t" x="456.8" y="539.3"/><use href="#t" x="441.5" y="647.2"/><use href="#t" x="228.6" y="617.3"/><use href="#t" x="457.3" y="585.9"/><use href="#t" x="401.4" y="550.2"/><use href="#t" x="509.1" y="583.7"/><use href="#t" x="191.1" y="599.0"/><use href="#t" x="192.8" y="586.7"/><use href="#t" x="410.3" y="571.5"/><use href="#t" x="426.2" y="640.5"/><use href="#t" x="475.8" y="559.0"/><use href="#t" x="479.0" y="572.6"/><use href="#t" x="373.0" y="591.6"/><use href="#t" x="488.5" y="655.7"/><use href="#t" x="473.1" y="642.8"/><use href="#t" x="461.3" y="637.0"/><use href="#t" x="438.5" y="684.6"/><use href="#t" x="415.7" y="588.6"/><use href="#t" x="459.9" y="671.6"/><use href="#t" x="491.8" y="579.6"/><use href="#t" x="397.8" y="566.6"/><use href="#t" x="475.1" y="592.0"/><use href="#t" x="494.0" y="574.6"/><use href="#t" x="458.5" y="656.5"/><use href="#t" x="462.2" y="596.3"/><use href="#t" x="444.1" y="590.6"/><use href="#t" x="428.6" y="526.7"/><use href="#t" x="370.3" y="578.0"/><use href="#t" x="422.3" y="568.1"/><use href="#t" x="405.5" y="530.5"/><use href="#t" x="453.0" y="660.3"/><use href="#t" x="454.9" y="686.6"/><use href="#t" x="358.1" y="643.1"/><use href="#t" x="440.2" y="663.2"/><use href="#t" x="220.2" y="612.3"/><use href="#t" x="421.9" y="551.3"/><use href="#t" x="409.5" y="618.3"/><use href="#t" x="410.5" y="689.8"/><use href="#t" x="468.1" y="654.6"/><use href="#t" x="492.1" y="663.1"/><use href="#t" x="194.1" y="593.1"/><use href="#t" x="411.8" y="555.8"/><use href="#t" x="438.8" y="576.9"/><use href="#t" x="198.1" y="578.3"/><use href="#t" x="511.7" y="605.4"/><use href="#t" x="408.8" y="588.3"/><use href="#t" x="331.9" y="566.8"/><use href="#t" x="236.7" y="610.6"/><use href="#t" x="450.1" y="583.6"/><use href="#t" x="460.4" y="517.9"/><use href="#t" x="218.7" y="605.4"/><use href="#t" x="376.4" y="612.4"/><use href="#t" x="459.8" y="528.8"/><use href="#t" x="501.7" y="536.5"/><use href="#t" x="418.8" y="593.8"/><use href="#t" x="505.1" y="618.8"/><use href="#t" x="504.1" y="616.2"/><use href="#t" x="459.4" y="540.9"/><use href="#t" x="465.6" y="592.2"/><use href="#t" x="404.6" y="704.8"/><use href="#t" x="378.3" y="688.8"/><use href="#t" x="529.1" y="533.3"/><use href="#t" x="369.4" y="547.7"/><use href="#t" x="440.6" y="553.1"/><use href="#t" x="391.9" y="609.4"/><use href="#t" x="389.9" y="552.1"/><use href="#t" x="407.7" y="552.6"/><use href="#t" x="353.9" y="567.1"/><use href="#t" x="260.7" y="590.8"/><use href="#t" x="537.6" y="611.2"/><use href="#t" x="410.5" y="594.3"/><use href="#t" x="411.7" y="654.1"/><use href="#t" x="212.7" y="606.5"/><use href="#t" x="440.3" y="708.3"/><use href="#t" x="476.6" y="690.1"/><use href="#t" x="397.6" y="632.3"/><use href="#t" x="352.9" y="648.4"/><use href="#t" x="376.6" y="584.7"/><use href="#t" x="392.7" y="594.9"/><use href="#t" x="245.8" y="593.2"/><use href="#t" x="429.3" y="607.1"/><use href="#t" x="454.7" y="618.6"/><use href="#t" x="485.4" y="566.6"/><use href="#t" x="468.7" y="691.2"/><use href="#t" x="234.4" y="597.9"/><use href="#t" x="475.0" y="622.2"/><use href="#t" x="508.2" y="608.0"/><use href="#t" x="226.2" y="610.0"/><use href="#t" x="358.7" y="616.4"/><use href="#t" x="378.7" y="640.5"/><use href="#t" x="236.4" y="581.6"/><use href="#t" x="462.4" y="669.2"/><use href="#t" x="462.9" y="578.6"/><use href="#t" x="391.1" y="586.0"/><use href="#t" x="330.1" y="575.8"/><use href="#t" x="353.3" y="678.8"/><use href="#t" x="234.7" y="607.0"/><use href="#t" x="398.4" y="643.5"/><use href="#t" x="422.0" y="613.7"/><use href="#t" x="220.5" y="574.7"/><use href="#t" x="431.7" y="558.7"/><use href="#t" x="469.1" y="689.6"/><use href="#t" x="379.3" y="622.3"/><use href="#t" x="469.5" y="699.0"/><use href="#t" x="422.2" y="671.9"/><use href="#t" x="413.1" y="630.0"/><use href="#t" x="241.8" y="595.0"/><use href="#t" x="433.7" y="568.0"/><use href="#t" x="320.2" y="630.3"/><use href="#t" x="440.4" y="683.5"/><use href="#t" x="449.3" y="575.3"/><use href="#t" x="231.7" y="625.2"/><use href="#t" x="523.7" y="630.0"/><use href="#t" x="386.9" y="564.4"/><use href="#t" x="351.3" y="658.7"/><use href="#t" x="500.8" y="631.5"/><use href="#t" x="214.9" y="622.9"/><use href="#t" x="250.8" y="634.9"/><use href="#t" x="474.0" y="609.9"/><use href="#t" x="424.0" y="713.9"/><use href="#t" x="371.2" y="551.0"/><use href="#t" x="504.9" y="601.1"/><use href="#t" x="485.0" y="519.9"/><use href="#t" x="480.2" y="584.4"/><use href="#t" x="406.3" y="677.1"/><use href="#t" x="223.0" y="588.7"/><use href="#t" x="457.3" y="516.1"/><use href="#t" x="234.7" y="595.6"/><use href="#t" x="364.1" y="571.9"/><use href="#t" x="441.8" y="641.3"/><use href="#t" x="482.8" y="655.6"/><use href="#t" x="399.1" y="581.2"/><use href="#t" x="376.6" y="579.4"/><use href="#t" x="479.9" y="563.9"/><use href="#t" x="248.6" y="628.9"/><use href="#t" x="454.5" y="582.8"/><use href="#t" x="229.8" y="603.2"/><use href="#t" x="397.9" y="552.6"/><use href="#t" x="478.7" y="511.6"/><use href="#t" x="521.5" y="550.1"/><use href="#t" x="466.4" y="649.3"/><use href="#t" x="529.1" y="544.9"/><use href="#t" x="403.7" y="631.1"/><use href="#t" x="427.8" y="547.3"/><use href="#t" x="424.9" y="675.4"/><use href="#t" x="216.4" y="598.4"/><use href="#t" x="188.6" y="617.8"/><use href="#t" x="394.7" y="643.6"/><use href="#t" x="443.0" y="529.2"/><use href="#t" x="233.5" y="614.6"/><use href="#t" x="426.9" y="586.4"/><use href="#t" x="372.8" y="666.5"/><use href="#t" x="440.5" y="553.5"/><use href="#t" x="503.3" y="587.3"/><use href="#t" x="442.1" y="542.1"/><use href="#t" x="334.4" y="584.9"/><use href="#t" x="307.1" y="624.0"/><use href="#t" x="467.4" y="646.5"/><use href="#t" x="368.1" y="620.3"/><use href="#t" x="407.6" y="534.7"/><use href="#t" x="405.3" y="516.5"/><use href="#t" x="513.3" y="673.7"/><use href="#t" x="461.4" y="618.6"/><use href="#t" x="464.4" y="616.7"/><use href="#t" x="400.8" y="666.4"/><use href="#t" x="228.9" y="583.0"/><use href="#t" x="199.8" y="615.5"/><use href="#t" x="430.1" y="576.7"/><use href="#t" x="357.0" y="618.6"/><use href="#t" x="429.3" y="621.5"/><use href="#t" x="335.5" y="554.9"/><use href="#t" x="214.7" y="608.5"/><use href="#t" x="491.1" y="658.4"/><use href="#t" x="422.6" y="620.2"/><use href="#t" x="518.4" y="524.9"/><use href="#t" x="246.0" y="587.0"/><use href="#t" x="451.1" y="667.0"/><use href="#t" x="395.4" y="624.3"/><use href="#t" x="229.5" y="603.9"/><use href="#t" x="516.2" y="632.5"/><use href="#t" x="432.3" y="669.2"/><use href="#t" x="419.5" y="584.7"/><use href="#t" x="489.3" y="508.1"/><use href="#t" x="517.6" y="523.9"/><use href="#t" x="453.9" y="522.3"/><use href="#t" x="422.8" y="591.1"/><use href="#t" x="447.8" y="576.6"/><use href="#t" x="240.9" y="605.5"/><use href="#t" x="429.4" y="595.7"/><use href="#t" x="256.7" y="591.2"/><use href="#t" x="414.3" y="672.1"/><use href="#t" x="355.2" y="592.4"/><use href="#t" x="352.1" y="545.0"/><use href="#t" x="379.1" y="643.5"/><use href="#t" x="219.3" y="601.5"/><use href="#t" x="496.6" y="517.1"/><use href="#t" x="413.2" y="598.5"/><use href="#t" x="487.6" y="598.3"/><use href="#t" x="408.6" y="667.5"/><use href="#t" x="362.0" y="591.4"/><use href="#t" x="474.5" y="543.1"/><use href="#t" x="240.7" y="597.4"/><use href="#t" x="226.0" y="577.7"/><use href="#t" x="376.2" y="608.1"/><use href="#t" x="481.7" y="518.6"/><use href="#t" x="496.4" y="594.2"/><use href="#t" x="381.5" y="567.2"/><use href="#t" x="391.6" y="553.9"/><use href="#t" x="360.2" y="587.7"/><use href="#t" x="334.3" y="595.9"/><use href="#t" x="446.3" y="540.3"/><use href="#t" x="510.4" y="508.8"/><use href="#t" x="459.3" y="658.7"/><use href="#t" x="258.2" y="603.3"/><use href="#t" x="209.6" y="594.8"/><use href="#t" x="458.4" y="695.9"/><use href="#t" x="420.3" y="613.9"/><use href="#t" x="396.2" y="647.6"/><use href="#t" x="224.4" y="619.6"/><use href="#t" x="418.2" y="572.8"/><use href="#t" x="191.1" y="597.5"/><use href="#t" x="200.7" y="618.6"/><use href="#t" x="502.7" y="596.1"/><use href="#t" x="417.8" y="564.3"/><use href="#t" x="238.0" y="580.0"/><use href="#t" x="420.0" y="647.7"/><use href="#t" x="513.5" y="572.1"/><use href="#t" x="487.4" y="643.3"/><use href="#t" x="372.6" y="643.3"/><use href="#t" x="475.4" y="618.5"/><use href="#t" x="517.7" y="605.3"/><use href="#t" x="397.8" y="658.6"/><use href="#t" x="427.1" y="533.6"/><use href="#t" x="437.8" y="669.3"/><use href="#t" x="343.1" y="562.0"/><use href="#t" x="449.6" y="596.5"/><use href="#t" x="451.5" y="598.2"/><use href="#t" x="468.8" y="533.7"/><use href="#t" x="230.3" y="605.2"/><use href="#t" x="361.0" y="625.9"/><use href="#t" x="404.5" y="630.9"/><use href="#t" x="223.2" y="625.7"/><use href="#t" x="495.4" y="642.2"/><use href="#t" x="417.7" y="605.6"/><use href="#t" x="403.5" y="674.3"/><use href="#t" x="432.7" y="641.2"/><use href="#t" x="511.0" y="555.7"/><use href="#t" x="397.6" y="551.6"/><use href="#t" x="468.2" y="684.9"/><use href="#t" x="385.6" y="632.3"/><use href="#t" x="264.1" y="612.6"/><use href="#t" x="367.1" y="611.1"/><use href="#t" x="485.1" y="600.4"/><use href="#t" x="360.7" y="619.8"/><use href="#t" x="408.7" y="647.8"/><use href="#t" x="456.9" y="627.4"/><use href="#t" x="406.6" y="703.5"/><use href="#t" x="473.8" y="599.4"/><use href="#t" x="418.9" y="650.6"/><use href="#t" x="382.8" y="668.3"/><use href="#t" x="408.6" y="683.7"/><use href="#t" x="539.3" y="587.6"/><use href="#t" x="265.0" y="593.6"/><use href="#t" x="248.1" y="576.6"/><use href="#t" x="355.4" y="575.5"/><use href="#t" x="449.0" y="508.3"/><use href="#t" x="483.4" y="519.5"/><use href="#t" x="346.6" y="638.5"/><use href="#t" x="463.3" y="597.5"/><use href="#t" x="221.1" y="617.4"/><use href="#t" x="393.7" y="636.8"/><use href="#t" x="414.7" y="529.1"/><use href="#t" x="468.3" y="667.8"/><use href="#t" x="362.4" y="617.9"/><use href="#t" x="529.0" y="548.3"/><use href="#t" x="468.6" y="659.0"/><use href="#t" x="183.4" y="590.4"/><use href="#t" x="449.0" y="592.3"/><use href="#t" x="456.5" y="616.7"/><use href="#t" x="390.5" y="648.0"/><use href="#t" x="469.1" y="579.4"/><use href="#t" x="368.1" y="676.5"/><use href="#t" x="432.3" y="597.0"/><use href="#t" x="509.0" y="665.0"/><use href="#t" x="227.8" y="575.4"/><use href="#t" x="419.8" y="525.4"/><use href="#t" x="468.9" y="685.2"/><use href="#t" x="451.9" y="599.6"/><use href="#t" x="259.1" y="591.1"/><use href="#t" x="429.5" y="557.2"/><use href="#t" x="445.9" y="629.2"/><use href="#t" x="490.7" y="674.8"/><use href="#t" x="445.2" y="630.8"/><use href="#t" x="398.7" y="702.1"/><use href="#t" x="487.8" y="541.0"/><use href="#t" x="512.2" y="589.3"/><use href="#t" x="452.8" y="591.0"/><use href="#t" x="470.3" y="574.3"/><use href="#t" x="358.6" y="612.8"/><use href="#t" x="465.5" y="646.4"/><use href="#t" x="420.3" y="594.3"/><use href="#t" x="364.6" y="592.0"/><use href="#t" x="437.0" y="580.4"/><use href="#t" x="414.6" y="573.9"/><use href="#t" x="365.0" y="685.3"/><use href="#t" x="453.6" y="634.1"/><use href="#t" x="432.4" y="565.9"/><use href="#t" x="427.5" y="617.9"/><use href="#t" x="241.4" y="601.2"/><use href="#t" x="393.0" y="531.2"/><use href="#t" x="372.4" y="578.8"/><use href="#t" x="320.9" y="643.2"/><use href="#t" x="437.6" y="614.8"/><use href="#t" x="518.3" y="639.1"/><use href="#t" x="489.7" y="571.7"/><use href="#t" x="429.5" y="667.0"/><use href="#t" x="228.9" y="631.0"/><use href="#t" x="353.9" y="574.4"/><use href="#t" x="431.8" y="602.8"/><use href="#t" x="384.1" y="634.8"/><use href="#t" x="339.7" y="636.7"/><use href="#t" x="380.9" y="591.6"/><use href="#t" x="524.9" y="564.6"/><use href="#t" x="363.2" y="669.8"/><use href="#t" x="215.3" y="586.9"/><use href="#t" x="513.4" y="545.9"/><use href="#t" x="471.3" y="517.3"/><use href="#t" x="464.8" y="556.5"/><use href="#t" x="374.3" y="658.1"/><use href="#t" x="426.8" y="609.8"/><use href="#t" x="362.7" y="558.9"/><use href="#t" x="444.7" y="549.1"/><use href="#t" x="445.6" y="620.6"/><use href="#t" x="506.8" y="612.9"/><use href="#t" x="458.3" y="590.0"/><use href="#t" x="233.6" y="576.9"/><use href="#t" x="465.7" y="617.1"/><use href="#t" x="474.4" y="623.9"/><use href="#t" x="233.4" y="613.2"/><use href="#t" x="388.4" y="617.0"/><use href="#t" x="393.1" y="638.6"/><use href="#t" x="379.5" y="570.8"/><use href="#t" x="481.7" y="591.9"/><use href="#t" x="386.8" y="599.0"/><use href="#t" x="484.0" y="573.1"/><use href="#t" x="204.7" y="602.9"/><use href="#t" x="428.5" y="562.8"/><use href="#t" x="203.3" y="601.0"/><use href="#t" x="433.9" y="709.1"/><use href="#t" x="330.3" y="637.8"/><use href="#t" x="367.5" y="649.9"/><use href="#t" x="381.3" y="623.6"/><use href="#t" x="448.7" y="644.1"/><use href="#t" x="479.5" y="550.0"/><use href="#t" x="334.7" y="614.3"/><use href="#t" x="449.0" y="651.8"/><use href="#t" x="478.6" y="623.0"/><use href="#t" x="435.6" y="564.3"/><use href="#t" x="461.2" y="582.7"/><use href="#t" x="407.5" y="555.8"/><use href="#t" x="431.0" y="637.9"/><use href="#t" x="451.4" y="644.0"/><use href="#t" x="481.9" y="576.2"/><use href="#t" x="337.9" y="638.4"/><use href="#t" x="369.2" y="526.5"/><use href="#t" x="224.0" y="609.9"/><use href="#t" x="402.9" y="701.9"/><use href="#t" x="202.0" y="569.5"/><use href="#t" x="435.3" y="601.1"/><use href="#t" x="498.7" y="612.7"/><use href="#t" x="479.4" y="588.5"/><use href="#t" x="423.0" y="686.5"/><use href="#t" x="529.2" y="594.2"/><use href="#t" x="414.5" y="663.5"/><use href="#t" x="372.2" y="590.9"/><use href="#t" x="399.4" y="612.8"/><use href="#t" x="357.8" y="624.1"/><use href="#t" x="376.5" y="527.3"/><use href="#t" x="352.1" y="576.5"/><use href="#t" x="386.7" y="655.3"/><use href="#t" x="368.7" y="603.9"/><use href="#t" x="425.3" y="622.8"/><use href="#t" x="442.0" y="595.1"/><use href="#t" x="406.8" y="587.0"/><use href="#t" x="386.0" y="552.5"/><use href="#t" x="430.1" y="650.6"/><use href="#t" x="482.4" y="628.5"/><use href="#t" x="220.2" y="602.1"/><use href="#t" x="253.8" y="583.1"/><use href="#t" x="527.6" y="608.7"/><use href="#t" x="411.1" y="642.4"/><use href="#t" x="461.1" y="610.0"/><use href="#t" x="236.6" y="621.6"/><use href="#t" x="501.6" y="510.4"/><use href="#t" x="466.0" y="542.0"/><use href="#t" x="377.0" y="681.3"/><use href="#t" x="403.3" y="654.9"/><use href="#t" x="453.5" y="560.7"/><use href="#t" x="411.5" y="589.1"/><use href="#t" x="252.6" y="601.0"/><use href="#t" x="432.7" y="639.0"/><use href="#t" x="197.3" y="619.6"/><use href="#t" x="346.7" y="606.0"/><use href="#t" x="393.8" y="659.2"/><use href="#t" x="443.6" y="676.9"/><use href="#t" x="404.4" y="526.6"/><use href="#t" x="206.3" y="605.8"/><use href="#t" x="437.4" y="580.1"/><use href="#t" x="384.2" y="648.7"/><use href="#t" x="221.6" y="592.0"/><use href="#t" x="425.0" y="643.5"/><use href="#t" x="433.1" y="640.7"/><use href="#t" x="363.2" y="605.2"/><use href="#t" x="428.8" y="524.3"/><use href="#t" x="392.7" y="544.9"/><use href="#t" x="394.7" y="552.5"/><use href="#t" x="529.3" y="634.8"/><use href="#t" x="467.6" y="626.5"/><use href="#t" x="409.4" y="657.4"/><use href="#t" x="430.1" y="571.4"/><use href="#t" x="405.8" y="530.1"/><use href="#t" x="374.9" y="675.0"/><use href="#t" x="395.3" y="553.4"/><use href="#t" x="436.9" y="524.9"/><use href="#t" x="247.4" y="613.4"/><use href="#t" x="516.9" y="548.2"/><use href="#t" x="423.8" y="638.4"/><use href="#t" x="403.8" y="572.1"/><use href="#t" x="421.9" y="551.2"/><use href="#t" x="388.7" y="606.9"/><use href="#t" x="198.3" y="594.5"/><use href="#t" x="406.0" y="634.2"/><use href="#t" x="541.3" y="531.4"/><use href="#t" x="434.9" y="687.8"/><use href="#t" x="378.7" y="545.7"/><use href="#t" x="497.1" y="628.6"/><use href="#t" x="410.2" y="628.8"/><use href="#t" x="495.0" y="541.1"/><use href="#t" x="470.1" y="615.3"/><use href="#t" x="429.4" y="642.1"/><use href="#t" x="359.8" y="590.3"/><use href="#t" x="444.4" y="667.0"/><use href="#t" x="517.2" y="548.3"/><use href="#t" x="431.9" y="601.5"/><use href="#t" x="441.2" y="626.5"/><use href="#t" x="437.2" y="556.9"/><use href="#t" x="462.0" y="593.5"/><use href="#t" x="449.3" y="654.3"/><use href="#t" x="528.9" y="597.1"/><use href="#t" x="460.3" y="648.9"/><use href="#t" x="230.7" y="565.3"/><use href="#t" x="493.7" y="676.7"/><use href="#t" x="540.6" y="607.6"/><use href="#t" x="403.0" y="572.9"/><use href="#t" x="392.8" y="610.9"/><use href="#t" x="481.9" y="657.0"/><use href="#t" x="437.0" y="704.1"/><use href="#t" x="454.7" y="503.6"/><use href="#t" x="357.0" y="672.6"/><use href="#t" x="415.1" y="560.6"/><use href="#t" x="399.8" y="654.1"/><use href="#t" x="380.8" y="593.5"/><use href="#t" x="450.9" y="596.3"/><use href="#t" x="402.2" y="636.2"/><use href="#t" x="455.1" y="639.1"/><use href="#t" x="245.7" y="607.3"/><use href="#t" x="386.4" y="581.7"/><use href="#t" x="213.7" y="598.5"/><use href="#t" x="426.2" y="661.5"/><use href="#t" x="355.9" y="628.3"/><use href="#t" x="239.7" y="584.4"/><use href="#t" x="452.3" y="648.8"/><use href="#t" x="461.3" y="648.6"/><use href="#t" x="430.5" y="614.3"/><use href="#t" x="487.6" y="618.9"/><use href="#t" x="204.7" y="587.5"/><use href="#t" x="466.7" y="557.0"/><use href="#t" x="483.5" y="599.5"/><use href="#t" x="462.9" y="643.4"/><use href="#t" x="506.7" y="647.0"/><use href="#t" x="401.1" y="579.6"/><use href="#t" x="240.7" y="632.9"/><use href="#t" x="244.3" y="601.0"/><use href="#t" x="477.0" y="615.1"/><use href="#t" x="479.7" y="593.8"/><use href="#t" x="482.3" y="598.4"/><use href="#t" x="243.3" y="583.5"/><use href="#t" x="435.1" y="607.9"/><use href="#t" x="421.9" y="619.8"/><use href="#t" x="405.6" y="621.4"/><use href="#t" x="529.8" y="534.3"/><use href="#t" x="398.1" y="641.4"/><use href="#t" x="406.4" y="697.9"/><use href="#t" x="260.1" y="592.5"/><use href="#t" x="358.6" y="669.9"/><use href="#t" x="368.2" y="639.4"/><use href="#t" x="395.3" y="606.4"/><use href="#t" x="428.3" y="558.0"/><use href="#t" x="410.3" y="582.8"/><use href="#t" x="353.2" y="614.2"/><use href="#t" x="400.6" y="695.5"/><use href="#t" x="422.5" y="606.4"/><use href="#t" x="522.0" y="633.0"/><use href="#t" x="384.9" y="559.8"/><use href="#t" x="195.4" y="587.2"/><use href="#t" x="494.2" y="522.7"/><use href="#t" x="491.5" y="605.1"/><use href="#t" x="247.9" y="595.4"/><use href="#t" x="456.5" y="562.0"/><use href="#t" x="407.9" y="676.9"/><use href="#t" x="518.9" y="541.2"/><use href="#t" x="399.3" y="519.8"/><use href="#t" x="438.8" y="636.3"/><use href="#t" x="424.7" y="552.1"/><use href="#t" x="537.5" y="615.9"/><use href="#t" x="364.3" y="527.0"/><use href="#t" x="537.3" y="604.4"/><use href="#t" x="426.1" y="617.3"/><use href="#t" x="383.5" y="651.3"/><use href="#t" x="428.3" y="589.4"/><use href="#t" x="486.1" y="539.5"/><use href="#t" x="518.3" y="626.4"/><use href="#t" x="469.1" y="669.4"/><use href="#t" x="442.5" y="601.3"/><use href="#t" x="373.9" y="610.5"/><use href="#t" x="187.2" y="583.9"/><use href="#t" x="225.4" y="578.9"/><use href="#t" x="397.0" y="684.7"/><use href="#t" x="520.9" y="588.6"/><use href="#t" x="461.5" y="600.7"/><use href="#t" x="418.8" y="608.2"/><use href="#t" x="457.3" y="675.4"/><use href="#t" x="343.5" y="600.2"/><use href="#t" x="442.2" y="573.4"/><use href="#t" x="419.1" y="678.0"/><use href="#t" x="317.1" y="635.7"/><use href="#t" x="441.0" y="678.7"/><use href="#t" x="224.9" y="608.1"/><use href="#t" x="429.7" y="665.9"/><use href="#t" x="384.7" y="526.6"/><use href="#t" x="448.0" y="538.7"/><use href="#t" x="213.4" y="589.1"/><use href="#t" x="395.7" y="627.2"/><use href="#t" x="321.9" y="644.1"/><use href="#t" x="472.5" y="613.4"/><use href="#t" x="371.8" y="659.4"/><use href="#t" x="314.4" y="592.1"/><use href="#t" x="402.1" y="614.4"/><use href="#t" x="459.5" y="578.0"/><use href="#t" x="261.6" y="615.5"/><use href="#t" x="443.9" y="599.1"/><use href="#t" x="438.9" y="593.6"/><use href="#t" x="374.0" y="602.5"/><use href="#t" x="451.9" y="646.8"/><use href="#t" x="319.9" y="621.9"/><use href="#t" x="489.0" y="681.8"/><use href="#t" x="419.6" y="664.8"/><use href="#t" x="449.7" y="666.9"/><use href="#t" x="437.3" y="579.5"/><use href="#t" x="490.1" y="605.3"/><use href="#t" x="500.5" y="686.4"/><use href="#t" x="353.5" y="605.9"/><use href="#t" x="396.5" y="645.5"/><use href="#t" x="417.5" y="667.5"/><use href="#t" x="493.7" y="511.1"/><use href="#t" x="434.6" y="554.8"/><use href="#t" x="382.4" y="589.2"/><use href="#t" x="412.7" y="556.0"/><use href="#t" x="357.7" y="547.1"/><use href="#t" x="395.5" y="610.9"/><use href="#t" x="400.5" y="651.0"/><use href="#t" x="375.6" y="592.3"/><use href="#t" x="436.8" y="553.7"/><use href="#t" x="500.2" y="597.9"/><use href="#t" x="430.7" y="670.2"/><use href="#t" x="231.1" y="614.3"/><use href="#t" x="475.3" y="512.2"/><use href="#t" x="383.1" y="532.0"/><use href="#t" x="415.2" y="615.6"/><use href="#t" x="181.3" y="600.3"/><use href="#t" x="391.8" y="618.5"/><use href="#t" x="327.9" y="571.1"/><use href="#t" x="398.3" y="699.1"/><use href="#t" x="519.1" y="612.9"/><use href="#t" x="519.8" y="634.3"/><use href="#t" x="229.5" y="607.9"/><use href="#t" x="213.4" y="599.2"/><use href="#t" x="376.5" y="663.7"/><use href="#t" x="503.0" y="659.6"/><use href="#t" x="334.4" y="557.1"/><use href="#t" x="413.8" y="670.5"/><use href="#t" x="394.3" y="647.9"/><use href="#t" x="383.9" y="584.1"/><use href="#t" x="402.2" y="573.4"/><use href="#t" x="429.8" y="572.5"/><use href="#t" x="405.4" y="638.9"/><use href="#t" x="476.1" y="600.9"/><use href="#t" x="364.2" y="581.9"/><use href="#t" x="347.9" y="564.5"/><use href="#t" x="369.6" y="593.5"/><use href="#t" x="397.8" y="602.8"/><use href="#t" x="212.5" y="627.8"/><use href="#t" x="482.9" y="571.3"/><use href="#t" x="449.4" y="651.0"/><use href="#t" x="507.1" y="671.6"/><use href="#t" x="226.7" y="599.0"/><use href="#t" x="443.7" y="696.7"/><use href="#t" x="384.2" y="647.9"/><use href="#t" x="371.2" y="555.3"/><use href="#t" x="412.7" y="588.2"/><use href="#t" x="360.0" y="654.5"/><use href="#t" x="435.1" y="611.9"/><use href="#t" x="233.7" y="617.6"/><use href="#t" x="251.3" y="586.9"/><use href="#t" x="243.5" y="590.3"/><use href="#t" x="370.3" y="556.5"/><use href="#t" x="459.7" y="614.6"/><use href="#t" x="201.4" y="613.6"/><use href="#t" x="369.2" y="628.8"/><use href="#t" x="237.7" y="613.6"/><use href="#t" x="410.9" y="572.1"/><use href="#t" x="432.6" y="634.6"/><use href="#t" x="443.0" y="614.6"/><use href="#t" x="491.9" y="566.9"/><use href="#t" x="451.8" y="534.0"/><use href="#t" x="423.5" y="703.8"/><use href="#t" x="202.7" y="594.8"/><use href="#t" x="413.5" y="614.1"/><use href="#t" x="365.1" y="650.6"/><use href="#t" x="457.0" y="652.6"/><use href="#t" x="452.2" y="569.3"/><use href="#t" x="411.6" y="629.9"/><use href="#t" x="456.6" y="554.4"/><use href="#t" x="214.4" y="589.2"/><use href="#t" x="207.2" y="601.4"/><use href="#t" x="435.4" y="683.6"/><use href="#t" x="202.8" y="580.7"/><use href="#t" x="489.8" y="680.1"/><use href="#t" x="390.3" y="646.6"/><use href="#t" x="448.6" y="677.2"/><use href="#t" x="447.4" y="505.9"/><use href="#t" x="438.5" y="623.8"/><use href="#t" x="424.6" y="667.3"/><use href="#t" x="401.4" y="606.4"/><use href="#t" x="456.8" y="650.6"/><use href="#t" x="381.1" y="668.8"/><use href="#t" x="399.9" y="605.4"/><use href="#t" x="361.5" y="648.1"/><use href="#t" x="425.2" y="673.1"/><use href="#t" x="380.6" y="615.5"/><use href="#t" x="441.1" y="557.4"/><use href="#t" x="209.4" y="597.9"/><use href="#t" x="372.9" y="533.3"/><use href="#t" x="513.7" y="637.1"/><use href="#t" x="399.7" y="602.2"/><use href="#t" x="521.9" y="537.7"/><use href="#t" x="460.8" y="620.5"/><use href="#t" x="430.7" y="581.8"/><use href="#t" x="221.3" y="627.7"/><use href="#t" x="397.1" y="584.5"/><use href="#t" x="223.5" y="602.6"/><use href="#t" x="440.9" y="624.0"/><use href="#t" x="529.0" y="596.2"/><use href="#t" x="395.9" y="634.0"/><use href="#t" x="248.6" y="602.8"/><use href="#t" x="466.4" y="507.5"/><use href="#t" x="473.9" y="556.8"/><use href="#t" x="463.4" y="521.8"/><use href="#t" x="491.5" y="580.6"/><use href="#t" x="372.9" y="669.9"/><use href="#t" x="368.1" y="619.5"/><use href="#t" x="400.2" y="650.5"/><use href="#t" x="248.3" y="578.0"/><use href="#t" x="447.0" y="501.4"/><use href="#t" x="208.4" y="634.1"/><use href="#t" x="238.9" y="575.0"/><use href="#t" x="334.2" y="581.7"/><use href="#t" x="345.9" y="662.1"/><use href="#t" x="467.2" y="578.9"/><use href="#t" x="440.4" y="597.3"/><use href="#t" x="483.2" y="619.8"/><use href="#t" x="494.5" y="641.3"/><use href="#t" x="246.7" y="610.8"/><use href="#t" x="475.6" y="525.9"/><use href="#t" x="421.6" y="657.4"/><use href="#t" x="427.2" y="609.3"/><use href="#t" x="410.6" y="664.1"/><use href="#t" x="473.6" y="667.6"/><use href="#t" x="401.4" y="556.0"/><use href="#t" x="403.6" y="523.6"/><use href="#t" x="410.7" y="685.2"/><use href="#t" x="390.6" y="631.3"/><use href="#t" x="486.6" y="534.6"/><use href="#t" x="393.6" y="658.8"/><use href="#t" x="514.0" y="526.6"/><use href="#t" x="350.7" y="587.6"/><use href="#t" x="194.7" y="609.5"/><use href="#t" x="479.4" y="697.2"/><use href="#t" x="492.5" y="690.8"/><use href="#t" x="340.7" y="610.7"/><use href="#t" x="395.8" y="639.3"/><use href="#t" x="393.6" y="564.7"/><use href="#t" x="507.7" y="632.7"/><use href="#t" x="460.2" y="541.6"/><use href="#t" x="428.1" y="644.2"/><use href="#t" x="502.5" y="656.8"/><use href="#t" x="378.7" y="683.9"/><use href="#t" x="212.4" y="602.9"/><use href="#t" x="224.6" y="579.7"/><use href="#t" x="384.4" y="569.7"/><use href="#t" x="368.0" y="581.2"/><use href="#t" x="475.1" y="603.9"/><use href="#t" x="314.3" y="590.4"/><use href="#t" x="444.7" y="586.4"/><use href="#t" x="416.0" y="551.7"/><use href="#t" x="442.4" y="635.2"/><use href="#t" x="340.9" y="658.5"/><use href="#t" x="478.7" y="499.7"/><use href="#t" x="381.7" y="636.5"/><use href="#t" x="321.1" y="571.1"/><use href="#t" x="422.5" y="639.9"/><use href="#t" x="394.1" y="532.4"/><use href="#t" x="221.9" y="577.2"/><use href="#t" x="458.5" y="623.2"/><use href="#t" x="402.9" y="632.9"/><use href="#t" x="436.8" y="533.5"/><use href="#t" x="416.3" y="562.7"/><use href="#t" x="388.0" y="700.1"/><use href="#t" x="414.7" y="526.2"/><use href="#t" x="438.6" y="609.3"/><use href="#t" x="442.6" y="547.9"/><use href="#t" x="473.6" y="578.4"/><use href="#t" x="399.9" y="595.7"/><use href="#t" x="401.0" y="620.0"/><use href="#t" x="538.8" y="593.7"/><use href="#t" x="384.2" y="633.8"/><use href="#t" x="230.3" y="579.1"/><use href="#t" x="458.4" y="639.0"/><use href="#t" x="422.8" y="599.1"/><use href="#t" x="213.5" y="566.7"/><use href="#t" x="494.6" y="603.5"/><use href="#t" x="199.1" y="598.1"/><use href="#t" x="445.2" y="516.3"/><use href="#t" x="177.9" y="582.2"/><use href="#t" x="245.6" y="602.1"/><use href="#t" x="499.5" y="621.4"/><use href="#t" x="348.0" y="658.4"/><use href="#t" x="342.1" y="558.1"/><use href="#t" x="215.5" y="605.5"/><use href="#t" x="199.9" y="627.9"/><use href="#t" x="504.0" y="591.5"/><use href="#t" x="360.6" y="633.2"/><use href="#t" x="451.5" y="603.2"/><use href="#t" x="482.7" y="535.2"/><use href="#t" x="528.6" y="550.9"/><use href="#t" x="460.3" y="674.9"/><use href="#t" x="466.3" y="656.2"/><use href="#t" x="381.5" y="527.1"/><use href="#t" x="371.2" y="571.6"/><use href="#t" x="199.5" y="622.2"/><use href="#t" x="359.9" y="659.9"/><use href="#t" x="396.2" y="583.2"/><use href="#t" x="420.6" y="631.8"/><use href="#t" x="447.8" y="654.5"/><use href="#t" x="408.6" y="599.3"/><use href="#t" x="473.9" y="606.5"/><use href="#t" x="216.7" y="577.8"/><use href="#t" x="432.7" y="587.9"/><use href="#t" x="436.3" y="585.4"/><use href="#t" x="467.1" y="571.9"/><use href="#t" x="510.3" y="600.2"/><use href="#t" x="340.8" y="672.9"/><use href="#t" x="258.2" y="608.3"/><use href="#t" x="405.4" y="648.6"/><use href="#t" x="387.4" y="695.0"/><use href="#t" x="446.2" y="627.2"/><use href="#t" x="431.8" y="637.2"/><use href="#t" x="442.7" y="529.0"/><use href="#t" x="316.4" y="588.1"/><use href="#t" x="237.8" y="591.2"/><use href="#t" x="219.9" y="627.6"/><use href="#t" x="376.2" y="595.0"/><use href="#t" x="407.1" y="525.0"/><use href="#t" x="220.1" y="588.4"/><use href="#t" x="453.5" y="637.2"/><use href="#t" x="413.8" y="611.4"/><use href="#t" x="455.5" y="709.4"/><use href="#t" x="416.5" y="556.5"/><use href="#t" x="473.1" y="596.8"/><use href="#t" x="220.0" y="615.0"/><use href="#t" x="430.0" y="632.0"/><use href="#t" x="413.4" y="581.8"/><use href="#t" x="525.4" y="538.2"/><use href="#t" x="356.2" y="575.8"/><use href="#t" x="380.4" y="656.9"/><use href="#t" x="495.9" y="629.4"/><use href="#t" x="419.2" y="602.0"/><use href="#t" x="400.4" y="597.2"/><use href="#t" x="207.2" y="624.8"/><use href="#t" x="337.5" y="623.6"/><use href="#t" x="446.4" y="559.3"/><use href="#t" x="249.7" y="593.9"/><use href="#t" x="446.3" y="554.5"/><use href="#t" x="326.0" y="611.2"/><use href="#t" x="247.4" y="598.8"/><use href="#t" x="364.1" y="649.8"/><use href="#t" x="394.9" y="601.2"/><use href="#t" x="345.1" y="577.8"/><use href="#t" x="264.7" y="590.3"/><use href="#t" x="377.8" y="602.7"/><use href="#t" x="521.8" y="602.1"/><use href="#t" x="358.9" y="602.9"/><use href="#t" x="489.2" y="651.5"/><use href="#t" x="400.6" y="634.6"/><use href="#t" x="484.8" y="543.0"/><use href="#t" x="428.9" y="564.5"/><use href="#t" x="408.9" y="567.8"/><use href="#t" x="478.3" y="656.2"/><use href="#t" x="449.6" y="560.2"/><use href="#t" x="401.9" y="659.2"/><use href="#t" x="449.8" y="603.0"/><use href="#t" x="235.0" y="623.3"/><use href="#t" x="393.6" y="671.0"/><use href="#t" x="496.8" y="659.2"/><use href="#t" x="400.1" y="665.6"/><use href="#t" x="493.0" y="590.2"/><use href="#t" x="403.0" y="583.1"/><use href="#t" x="445.4" y="544.2"/><use href="#t" x="470.7" y="537.5"/><use href="#t" x="471.4" y="515.0"/><use href="#t" x="351.1" y="612.9"/><use href="#t" x="212.0" y="602.0"/><use href="#t" x="422.0" y="671.0"/><use href="#t" x="521.8" y="574.2"/><use href="#t" x="484.6" y="526.1"/><use href="#t" x="499.9" y="535.8"/><use href="#t" x="215.2" y="589.1"/><use href="#t" x="387.3" y="682.9"/><use href="#t" x="340.8" y="598.2"/><use href="#t" x="420.7" y="539.2"/><use href="#t" x="351.4" y="577.4"/><use href="#t" x="222.0" y="612.1"/><use href="#t" x="382.6" y="553.3"/><use href="#t" x="446.3" y="639.9"/><use href="#t" x="497.5" y="606.9"/><use href="#t" x="358.6" y="558.9"/><use href="#t" x="374.8" y="574.5"/><use href="#t" x="504.2" y="566.1"/><use href="#t" x="227.0" y="599.0"/><use href="#t" x="526.9" y="635.7"/><use href="#t" x="522.2" y="643.0"/><use href="#t" x="458.8" y="584.1"/><use href="#t" x="380.5" y="605.4"/><use href="#t" x="364.5" y="630.6"/><use href="#t" x="437.4" y="530.6"/><use href="#t" x="465.7" y="549.0"/><use href="#t" x="480.9" y="569.9"/><use href="#t" x="469.4" y="587.0"/><use href="#t" x="461.0" y="677.1"/><use href="#t" x="348.0" y="546.9"/><use href="#t" x="396.6" y="533.3"/><use href="#t" x="470.7" y="609.5"/><use href="#t" x="468.7" y="605.1"/><use href="#t" x="434.7" y="636.8"/><use href="#t" x="360.3" y="671.1"/><use href="#t" x="529.6" y="605.9"/><use href="#t" x="182.8" y="606.1"/><use href="#t" x="379.2" y="566.8"/><use href="#t" x="468.8" y="568.2"/><use href="#t" x="532.2" y="578.5"/><use href="#t" x="352.0" y="575.3"/><use href="#t" x="466.2" y="528.0"/><use href="#t" x="449.8" y="565.0"/><use href="#t" x="185.9" y="614.2"/><use href="#t" x="373.6" y="604.4"/><use href="#t" x="369.5" y="559.6"/><use href="#t" x="321.1" y="597.0"/><use href="#t" x="368.1" y="562.3"/><use href="#t" x="378.3" y="551.4"/><use href="#t" x="434.7" y="659.6"/><use href="#t" x="369.3" y="655.2"/><use href="#t" x="467.7" y="649.5"/><use href="#t" x="381.4" y="586.6"/><use href="#t" x="430.7" y="681.4"/><use href="#t" x="220.8" y="630.4"/><use href="#sB" x="538.9" y="495.8"/><use href="#sG" x="544.9" y="495.3"/><use href="#sO" x="516.4" y="526.7"/><use href="#sY" x="513.9" y="521.9"/><use href="#sG" x="517.0" y="517.3"/><use href="#sB" x="526.0" y="522.2"/><use href="#sY" x="545.2" y="502.5"/><use href="#sO" x="515.5" y="506.9"/><use href="#sO" x="523.3" y="490.9"/><use href="#sY" x="513.3" y="497.9"/><use href="#sB" x="534.6" y="513.5"/><use href="#sB" x="545.9" y="518.1"/><use href="#sY" x="532.2" y="514.9"/><use href="#sB" x="515.8" y="509.7"/><use href="#sY" x="446.4" y="500.2"/><use href="#sY" x="475.4" y="500.2"/><use href="#sB" x="484.7" y="503.8"/><use href="#sG" x="374.8" y="524.7"/><use href="#sB" x="367.4" y="524.1"/><use href="#sO" x="391.4" y="526.7"/><use href="#sY" x="493.5" y="519.4"/><use href="#sB" x="474.6" y="530.6"/><use href="#sB" x="446.4" y="536.8"/><use href="#sG" x="454.8" y="542.8"/><use href="#sO" x="468.1" y="539.1"/><use href="#sO" x="406.3" y="543.9"/><use href="#sB" x="418.5" y="543.3"/><use href="#sO" x="476.6" y="550.9"/><use href="#sB" x="486.7" y="548.7"/><use href="#sC" x="501.1" y="543.9"/><use href="#sO" x="524.5" y="543.3"/><use href="#sB" x="521.4" y="559.1"/><use href="#sY" x="545.4" y="560.2"/><use href="#sR" x="345.1" y="563.6"/><use href="#sR" x="344.3" y="570.4"/><use href="#sG" x="430.3" y="570.1"/><use href="#sR" x="409.2" y="580.8"/><use href="#sO" x="414.8" y="587.0"/><use href="#sR" x="420.2" y="596.1"/><use href="#sO" x="500.5" y="580.0"/><use href="#sG" x="364.9" y="598.6"/><use href="#sO" x="403.5" y="601.7"/><use href="#sG" x="409.4" y="608.2"/><use href="#sC" x="428.1" y="613.3"/><use href="#sG" x="363.5" y="619.7"/><use href="#sY" x="373.9" y="621.4"/><use href="#sG" x="393.1" y="623.4"/><use href="#sO" x="412.5" y="624.3"/><use href="#sG" x="465.8" y="616.9"/><use href="#sR" x="525.3" y="619.2"/><use href="#sY" x="534.1" y="624.3"/><use href="#sO" x="309.3" y="623.1"/><use href="#sB" x="336.4" y="634.1"/><use href="#sB" x="327.9" y="635.8"/><use href="#sY" x="344.0" y="642.6"/><use href="#sY" x="365.4" y="640.3"/><use href="#sC" x="323.4" y="651.0"/><use href="#sB" x="379.3" y="655.3"/><use href="#sR" x="410.0" y="662.3"/><use href="#sO" x="402.1" y="659.2"/><use href="#sG" x="409.4" y="670.5"/><use href="#sO" x="401.3" y="669.7"/><use href="#sY" x="342.3" y="673.9"/><use href="#sG" x="356.1" y="673.9"/><use href="#sY" x="457.4" y="670.2"/><use href="#sY" x="476.8" y="671.9"/><use href="#sB" x="489.0" y="663.5"/><use href="#sY" x="451.5" y="679.2"/><use href="#sR" x="468.9" y="679.5"/><use href="#sO" x="437.1" y="686.9"/><use href="#sB" x="446.4" y="686.0"/><use href="#sO" x="376.2" y="694.5"/><use href="#sG" x="422.4" y="703.2"/><use href="#sY" x="538.0" y="479.9"/><use href="#sB" x="527.0" y="490.3"/><use href="#sB" x="544.5" y="490.3"/><use href="#sY" x="528.2" y="498.2"/><use href="#sO" x="540.9" y="494.0"/><use href="#sO" x="512.7" y="505.8"/><use href="#sG" x="521.7" y="505.8"/><use href="#sB" x="543.7" y="501.0"/><use href="#sB" x="508.4" y="514.3"/><use href="#sB" x="524.8" y="516.0"/><use href="#sG" x="539.4" y="517.9"/><use href="#sC" x="556.4" y="509.5"/><use href="#sN" x="516.3" y="523.6"/><use href="#sC" x="507.3" y="526.4"/><use href="#sB" x="533.8" y="523.6"/><use href="#sC" x="522.0" y="532.6"/><use href="#sB" x="540.9" y="530.6"/><use href="#sO" x="534.4" y="534.9"/><use href="#cB" x="616.6" y="443.7"/><use href="#cB" x="364.4" y="318.5"/><use href="#cB" x="385.0" y="432.6"/><use href="#cB" x="334.5" y="446.7"/><use href="#cB" x="621.7" y="438.9"/><use href="#cB" x="616.1" y="436.4"/><use href="#cB" x="597.5" y="427.0"/><use href="#cB" x="492.2" y="421.4"/><use href="#cB" x="302.9" y="351.9"/><use href="#cB" x="331.9" y="347.6"/><use href="#cB" x="312.8" y="436.1"/><use href="#cB" x="638.2" y="491.2"/><use href="#cB" x="356.0" y="336.9"/><use href="#cR" x="647.4" y="461.9"/><use href="#cB" x="486.5" y="435.8"/><use href="#cB" x="334.5" y="344.1"/><use href="#cB" x="350.3" y="332.7"/><use href="#cB" x="436.0" y="311.8"/><use href="#cB" x="385.8" y="321.9"/><use href="#cB" x="400.4" y="310.6"/><use href="#cC" x="382.9" y="327.0"/><use href="#cB" x="416.3" y="304.9"/><use href="#cB" x="629.1" y="488.3"/><use href="#cB" x="326.9" y="441.9"/><use href="#cB" x="500.3" y="409.2"/><use href="#cB" x="308.6" y="425.1"/><use href="#cB" x="670.0" y="509.8"/><use href="#cC" x="303.0" y="376.5"/><use href="#cB" x="433.8" y="442.2"/><use href="#cB" x="552.8" y="417.9"/><use href="#cB" x="304.7" y="418.1"/><use href="#cB" x="307.3" y="427.4"/><use href="#cB" x="361.2" y="327.1"/><use href="#cB" x="330.1" y="351.9"/><use href="#cC" x="485.7" y="429.7"/><use href="#cB" x="586.9" y="408.3"/><use href="#cB" x="667.5" y="505.5"/><use href="#cB" x="298.9" y="405.8"/><use href="#cB" x="624.5" y="444.2"/><use href="#cB" x="375.3" y="445.6"/><use href="#cN" x="641.5" y="497.9"/><use href="#cB" x="653.5" y="507.2"/><use href="#cB" x="326.5" y="425.3"/><use href="#cC" x="296.9" y="337.8"/><use href="#cB" x="544.4" y="425.7"/><use href="#cB" x="647.1" y="470.8"/><use href="#cB" x="489.0" y="432.7"/><use href="#cB" x="645.1" y="509.8"/><use href="#cB" x="299.0" y="381.9"/><use href="#cB" x="635.3" y="442.3"/><use href="#cB" x="300.0" y="347.4"/><use href="#cB" x="610.3" y="441.5"/><use href="#cB" x="617.5" y="440.5"/><use href="#cB" x="518.6" y="417.7"/><use href="#cB" x="638.3" y="482.5"/><use href="#cB" x="653.5" y="465.6"/><use href="#cB" x="655.9" y="463.5"/><use href="#cG" x="424.5" y="420.7"/><use href="#cC" x="571.6" y="432.4"/><use href="#cB" x="649.8" y="471.1"/><use href="#cO" x="606.6" y="440.3"/><use href="#cB" x="593.3" y="421.3"/><use href="#cB" x="644.8" y="490.2"/><use href="#cB" x="362.8" y="334.6"/><use href="#cC" x="490.6" y="427.7"/><use href="#cB" x="627.7" y="485.0"/><use href="#cB" x="291.8" y="356.5"/><use href="#cB" x="315.3" y="449.5"/><use href="#cB" x="374.9" y="335.5"/><use href="#cB" x="639.9" y="498.0"/><use href="#cC" x="421.9" y="433.2"/><use href="#cR" x="480.2" y="431.5"/><use href="#cB" x="632.9" y="413.5"/><use href="#cB" x="454.6" y="439.7"/><use href="#cB" x="295.6" y="367.8"/><use href="#cC" x="620.3" y="431.4"/><use href="#cC" x="620.7" y="447.5"/><use href="#cB" x="441.3" y="434.1"/><use href="#cB" x="606.0" y="420.6"/><use href="#cN" x="326.1" y="436.4"/><use href="#cO" x="651.4" y="456.6"/><use href="#cB" x="312.1" y="352.1"/><use href="#cG" x="428.4" y="404.7"/><use href="#cB" x="592.7" y="407.9"/><use href="#cG" x="382.5" y="308.4"/><use href="#cB" x="329.8" y="344.6"/><use href="#cB" x="496.6" y="426.6"/><use href="#cC" x="327.7" y="353.3"/><use href="#cB" x="635.1" y="486.0"/><use href="#cB" x="649.2" y="470.7"/><use href="#cB" x="397.7" y="290.4"/><use href="#cB" x="305.1" y="384.8"/><use href="#cB" x="403.0" y="431.4"/><use href="#cB" x="650.7" y="454.9"/><use href="#cB" x="571.1" y="407.3"/><use href="#cB" x="654.5" y="470.6"/><use href="#cB" x="329.7" y="431.3"/><use href="#cO" x="310.7" y="403.2"/><use href="#cB" x="383.9" y="308.3"/><use href="#cB" x="390.9" y="317.4"/><use href="#cB" x="586.5" y="406.2"/><use href="#cB" x="318.8" y="437.9"/><use href="#cB" x="343.8" y="331.6"/><use href="#cB" x="436.4" y="301.7"/><use href="#cC" x="308.1" y="370.8"/><use href="#cC" x="356.5" y="316.0"/><use href="#cB" x="307.3" y="385.1"/><use href="#cB" x="652.1" y="512.9"/><use href="#cB" x="388.5" y="438.2"/><use href="#cB" x="658.0" y="472.0"/><use href="#cB" x="306.4" y="357.4"/><use href="#cB" x="308.8" y="450.6"/><use href="#cB" x="487.3" y="422.7"/><use href="#cB" x="454.2" y="438.7"/><use href="#cC" x="359.0" y="340.5"/><use href="#cB" x="580.2" y="415.2"/><use href="#cC" x="324.8" y="367.2"/><use href="#cB" x="558.8" y="414.0"/><use href="#cB" x="324.2" y="451.4"/><use href="#cB" x="455.7" y="427.4"/><use href="#cB" x="293.5" y="371.8"/><use href="#cB" x="627.7" y="420.9"/><use href="#cN" x="430.3" y="293.9"/><use href="#cB" x="627.6" y="442.7"/><use href="#cB" x="297.4" y="334.4"/><use href="#cB" x="301.8" y="358.0"/><use href="#cC" x="284.1" y="342.2"/><use href="#cB" x="390.7" y="290.6"/><use href="#cY" x="635.0" y="441.8"/><use href="#cB" x="622.4" y="429.4"/><use href="#cB" x="529.4" y="394.6"/><use href="#cB" x="316.5" y="345.9"/><use href="#cB" x="365.5" y="326.8"/><use href="#cB" x="308.5" y="380.7"/><use href="#cB" x="459.3" y="433.6"/><use href="#cB" x="598.4" y="437.9"/><use href="#cB" x="459.2" y="431.9"/><use href="#cB" x="278.7" y="374.4"/><use href="#cB" x="359.4" y="324.8"/><use href="#cB" x="630.6" y="425.9"/><use href="#cB" x="481.9" y="404.9"/><use href="#cB" x="407.5" y="327.2"/><use href="#cB" x="496.6" y="420.4"/><use href="#cB" x="323.0" y="372.9"/><use href="#cB" x="318.2" y="329.4"/><use href="#cB" x="640.6" y="485.5"/><use href="#cB" x="622.2" y="419.8"/><use href="#cB" x="382.6" y="438.7"/><use href="#cC" x="430.9" y="311.6"/><use href="#cB" x="318.6" y="435.8"/><use href="#cB" x="303.6" y="423.0"/><use href="#cB" x="486.8" y="426.5"/><use href="#cB" x="330.0" y="444.6"/><use href="#cB" x="312.6" y="349.3"/><use href="#cB" x="621.1" y="430.3"/><use href="#cB" x="333.2" y="422.3"/><use href="#cB" x="332.1" y="340.9"/><use href="#cB" x="494.0" y="429.6"/><use href="#cB" x="383.8" y="336.7"/><use href="#cB" x="449.1" y="430.2"/><use href="#cB" x="332.9" y="438.9"/><use href="#cB" x="635.5" y="515.4"/><use href="#cB" x="289.7" y="356.9"/><use href="#cB" x="579.1" y="407.4"/><use href="#cB" x="597.5" y="442.2"/><use href="#cB" x="531.1" y="397.3"/><use href="#cB" x="579.9" y="415.8"/><use href="#cB" x="443.4" y="440.7"/><use href="#cG" x="597.9" y="418.6"/><use href="#cB" x="300.5" y="366.1"/><use href="#cG" x="620.9" y="440.1"/><use href="#cC" x="642.7" y="455.3"/><use href="#cC" x="338.2" y="323.9"/><use href="#cB" x="348.8" y="315.8"/><use href="#cC" x="519.8" y="399.6"/><use href="#cB" x="331.9" y="348.5"/><use href="#cB" x="372.1" y="335.8"/><use href="#cB" x="353.4" y="448.4"/><use href="#cB" x="328.8" y="345.3"/><use href="#cB" x="588.3" y="411.3"/><use href="#cB" x="439.2" y="307.7"/><use href="#cB" x="451.3" y="302.2"/><use href="#cB" x="362.4" y="432.3"/><use href="#cB" x="388.8" y="449.9"/><use href="#cB" x="324.5" y="350.3"/><use href="#cB" x="343.3" y="442.5"/><use href="#cB" x="653.7" y="468.8"/><use href="#cG" x="598.1" y="456.3"/><use href="#cB" x="643.6" y="528.7"/><use href="#cB" x="508.6" y="422.4"/><use href="#cB" x="639.8" y="450.4"/><use href="#cB" x="638.6" y="500.0"/><use href="#cB" x="293.8" y="444.0"/><use href="#cB" x="558.4" y="426.4"/><use href="#cB" x="295.0" y="372.6"/><use href="#cB" x="286.2" y="431.8"/><use href="#cB" x="596.9" y="419.4"/><use href="#cB" x="585.3" y="437.8"/><use href="#cB" x="303.4" y="346.9"/><use href="#cY" x="573.4" y="414.5"/><use href="#cB" x="391.7" y="308.5"/><use href="#cB" x="345.5" y="312.4"/><use href="#cB" x="306.7" y="448.3"/><use href="#cB" x="322.8" y="445.2"/><use href="#cC" x="633.4" y="424.6"/><use href="#cC" x="355.4" y="346.2"/><use href="#cB" x="352.6" y="320.4"/><use href="#cB" x="522.4" y="411.2"/><use href="#cB" x="309.6" y="355.8"/><use href="#cY" x="413.1" y="299.9"/><use href="#cC" x="351.4" y="326.0"/><use href="#cC" x="305.2" y="410.1"/><use href="#cB" x="365.6" y="435.3"/><use href="#cB" x="529.1" y="410.6"/><use href="#cB" x="336.6" y="416.9"/><use href="#cB" x="359.0" y="438.6"/><use href="#cG" x="388.7" y="330.3"/><use href="#cN" x="641.5" y="484.7"/><use href="#cC" x="342.2" y="320.6"/><use href="#cC" x="401.0" y="321.4"/><use href="#cB" x="301.9" y="375.4"/><use href="#cB" x="470.1" y="423.3"/><use href="#cG" x="336.2" y="425.2"/><use href="#cB" x="308.1" y="450.2"/><use href="#cB" x="645.6" y="496.5"/><use href="#cB" x="321.4" y="333.4"/><use href="#cB" x="319.3" y="354.3"/><use href="#cB" x="385.1" y="430.1"/><use href="#cB" x="291.7" y="361.2"/><use href="#cC" x="471.6" y="439.2"/><use href="#cB" x="589.8" y="417.2"/><use href="#cB" x="390.1" y="298.7"/><use href="#cB" x="337.8" y="334.2"/><use href="#cB" x="359.3" y="440.2"/><use href="#cB" x="510.3" y="421.4"/><use href="#cB" x="312.7" y="394.7"/><use href="#cB" x="386.7" y="333.0"/><use href="#cB" x="405.3" y="329.8"/><use href="#cB" x="350.1" y="424.1"/><use href="#cY" x="444.4" y="311.7"/><use href="#cB" x="651.8" y="496.0"/><use href="#cB" x="662.7" y="493.4"/><use href="#cC" x="332.3" y="342.9"/><use href="#cB" x="451.4" y="313.9"/><use href="#cB" x="643.0" y="464.1"/><use href="#cB" x="279.2" y="368.8"/><use href="#cB" x="399.0" y="309.0"/><use href="#cC" x="354.6" y="335.1"/><use href="#cB" x="642.0" y="454.0"/><use href="#cB" x="365.5" y="457.2"/><use href="#cB" x="528.6" y="402.4"/><use href="#cB" x="531.5" y="411.3"/><use href="#cC" x="287.7" y="338.3"/><use href="#cB" x="316.4" y="347.2"/><use href="#cB" x="382.9" y="455.3"/><use href="#cB" x="300.1" y="447.5"/><use href="#cB" x="440.0" y="307.7"/><use href="#cB" x="359.2" y="430.1"/><use href="#cC" x="569.0" y="429.2"/><use href="#cB" x="474.2" y="429.8"/><use href="#cC" x="569.2" y="403.4"/><use href="#cB" x="627.5" y="479.9"/><use href="#cB" x="444.3" y="434.6"/><use href="#cB" x="383.5" y="304.8"/><use href="#cB" x="393.6" y="445.4"/><use href="#cB" x="611.2" y="434.1"/><use href="#cB" x="379.9" y="295.3"/><use href="#cB" x="648.6" y="471.9"/><use href="#cB" x="377.7" y="456.2"/><use href="#cG" x="281.7" y="342.4"/><use href="#cB" x="284.8" y="368.7"/><use href="#cB" x="447.2" y="434.4"/><use href="#cC" x="663.1" y="509.0"/><use href="#cC" x="626.0" y="416.0"/><use href="#cC" x="384.5" y="290.7"/><use href="#cG" x="361.9" y="317.0"/><use href="#cC" x="325.8" y="369.7"/><use href="#cB" x="553.2" y="420.7"/><use href="#cC" x="630.5" y="441.7"/><use href="#cB" x="613.8" y="448.2"/><use href="#cB" x="386.7" y="327.9"/><use href="#cC" x="317.4" y="376.7"/><use href="#cB" x="298.4" y="380.1"/><use href="#cB" x="639.1" y="518.6"/><use href="#cB" x="429.7" y="426.7"/><use href="#cB" x="649.5" y="483.7"/><use href="#cB" x="637.9" y="490.5"/><use href="#cB" x="329.8" y="445.3"/><use href="#cB" x="329.9" y="346.8"/><use href="#cB" x="296.6" y="422.4"/><use href="#cB" x="353.5" y="443.9"/><use href="#cB" x="432.4" y="311.1"/><use href="#cB" x="628.5" y="444.8"/><use href="#cB" x="321.2" y="334.2"/><use href="#cG" x="400.5" y="305.7"/><use href="#cB" x="288.7" y="373.8"/><use href="#cB" x="543.0" y="400.0"/><use href="#cB" x="493.0" y="408.6"/><use href="#cB" x="351.9" y="444.4"/><use href="#cB" x="591.8" y="401.5"/><use href="#cB" x="322.6" y="329.0"/><use href="#cB" x="387.9" y="298.7"/><use href="#cB" x="550.1" y="417.1"/><use href="#cB" x="396.0" y="438.8"/><use href="#cB" x="462.2" y="436.8"/><use href="#cG" x="275.9" y="389.0"/><use href="#cB" x="406.3" y="328.8"/><use href="#cB" x="549.9" y="431.0"/><use href="#cB" x="385.2" y="315.9"/><use href="#cB" x="604.7" y="448.2"/><use href="#cB" x="488.0" y="405.4"/><use href="#cB" x="438.4" y="304.4"/><use href="#cG" x="321.9" y="355.5"/><use href="#cB" x="470.8" y="416.8"/><use href="#cB" x="356.2" y="315.2"/><use href="#cB" x="656.8" y="464.7"/><use href="#cB" x="471.0" y="434.5"/><use href="#cC" x="420.2" y="300.9"/><use href="#cB" x="356.9" y="314.5"/><use href="#cC" x="362.6" y="328.9"/><use href="#cC" x="321.8" y="366.4"/><use href="#cB" x="319.7" y="439.2"/><use href="#cC" x="529.3" y="411.6"/><use href="#cB" x="299.5" y="378.9"/><use href="#cB" x="604.4" y="419.8"/><use href="#cO" x="508.2" y="419.4"/><use href="#cB" x="539.9" y="393.1"/><use href="#cC" x="600.4" y="423.9"/><use href="#cB" x="381.3" y="462.2"/><use href="#cB" x="295.0" y="415.7"/><use href="#cC" x="621.6" y="448.9"/><use href="#cB" x="289.2" y="357.5"/><use href="#cB" x="303.4" y="420.5"/><use href="#cB" x="300.2" y="429.0"/><use href="#cB" x="313.9" y="386.7"/><use href="#cB" x="603.8" y="435.0"/><use href="#cN" x="586.6" y="412.0"/><use href="#cB" x="637.5" y="437.6"/><use href="#cB" x="326.2" y="315.5"/><use href="#cB" x="522.9" y="389.2"/><use href="#cC" x="612.5" y="444.7"/><use href="#cB" x="395.4" y="315.5"/><use href="#cB" x="328.7" y="429.4"/><use href="#cB" x="371.9" y="454.1"/><use href="#cB" x="326.4" y="431.7"/><use href="#cB" x="636.7" y="478.7"/><use href="#cB" x="334.2" y="347.9"/><use href="#cB" x="327.2" y="448.2"/><use href="#cB" x="443.2" y="307.5"/><use href="#cB" x="296.9" y="401.7"/><use href="#cC" x="644.0" y="485.3"/><use href="#cB" x="523.1" y="417.0"/><use href="#cB" x="278.2" y="366.9"/><use href="#cB" x="392.4" y="331.8"/><use href="#cB" x="572.2" y="421.9"/><use href="#cB" x="292.8" y="370.4"/><use href="#cB" x="351.4" y="315.8"/><use href="#cB" x="392.8" y="445.1"/><use href="#cB" x="631.9" y="435.2"/><use href="#cB" x="652.2" y="499.9"/><use href="#cB" x="585.3" y="425.9"/><use href="#cB" x="404.5" y="438.1"/><use href="#cB" x="634.6" y="483.3"/><use href="#cO" x="491.8" y="417.9"/><use href="#cB" x="313.8" y="406.8"/><use href="#cB" x="625.4" y="461.6"/><use href="#cB" x="439.1" y="441.6"/><use href="#cB" x="529.6" y="422.1"/><use href="#cB" x="440.6" y="438.9"/><use href="#cB" x="583.6" y="421.4"/><use href="#cB" x="363.8" y="436.3"/><use href="#cG" x="451.7" y="429.5"/><use href="#cB" x="321.0" y="382.8"/><use href="#cB" x="626.9" y="447.5"/><use href="#cB" x="335.4" y="439.4"/><use href="#cB" x="634.9" y="460.5"/><use href="#cB" x="372.1" y="341.9"/><use href="#cB" x="347.8" y="420.8"/><use href="#cB" x="637.5" y="447.2"/><use href="#cB" x="643.7" y="501.8"/><use href="#cB" x="519.6" y="417.9"/><use href="#cB" x="400.8" y="298.2"/><use href="#cB" x="377.3" y="327.2"/><use href="#cN" x="387.8" y="327.5"/><use href="#cB" x="283.0" y="396.6"/><use href="#cB" x="374.8" y="440.3"/><use href="#cB" x="387.7" y="319.3"/><use href="#cB" x="298.8" y="378.1"/><use href="#cB" x="520.8" y="418.2"/><use href="#cB" x="642.7" y="517.2"/><use href="#cB" x="651.3" y="452.6"/><use href="#cG" x="395.9" y="290.8"/><use href="#cB" x="371.5" y="313.0"/><use href="#cB" x="634.1" y="448.1"/><use href="#cB" x="624.9" y="451.2"/><use href="#cB" x="595.4" y="442.5"/><use href="#cB" x="309.1" y="359.2"/><use href="#cB" x="330.1" y="422.1"/><use href="#cG" x="322.7" y="369.7"/><use href="#cB" x="670.2" y="505.5"/><use href="#cB" x="624.3" y="445.4"/><use href="#cB" x="456.4" y="311.7"/><use href="#cB" x="323.8" y="442.7"/><use href="#cB" x="451.3" y="291.1"/><use href="#cB" x="466.9" y="438.9"/><use href="#cB" x="660.8" y="495.3"/><use href="#cB" x="356.3" y="345.3"/><use href="#cB" x="668.7" y="506.9"/><use href="#cB" x="656.8" y="507.7"/><use href="#cB" x="634.7" y="491.1"/><use href="#cB" x="308.6" y="420.0"/><use href="#cB" x="520.0" y="415.5"/><use href="#cB" x="321.5" y="342.4"/><use href="#cB" x="450.8" y="302.9"/><use href="#cB" x="283.6" y="342.0"/><use href="#cB" x="405.1" y="332.7"/><use href="#cB" x="395.2" y="291.2"/><use href="#cB" x="492.5" y="411.2"/><use href="#cB" x="382.8" y="308.6"/><use href="#cB" x="434.3" y="310.8"/><use href="#cB" x="595.1" y="434.6"/><use href="#cB" x="476.6" y="418.6"/><use href="#cB" x="634.3" y="435.7"/><use href="#cB" x="362.2" y="316.8"/><use href="#cB" x="313.4" y="329.2"/><use href="#cB" x="354.9" y="422.4"/><use href="#cG" x="296.1" y="342.8"/><use href="#cC" x="571.3" y="418.3"/><use href="#cB" x="298.0" y="449.4"/><use href="#cG" x="281.4" y="336.7"/><use href="#cB" x="630.1" y="410.0"/><use href="#cC" x="316.4" y="441.1"/><use href="#cB" x="294.0" y="409.1"/><use href="#cB" x="320.5" y="453.8"/><use href="#cB" x="623.4" y="412.6"/><use href="#cB" x="545.0" y="405.1"/><use href="#cB" x="446.0" y="297.7"/><use href="#cB" x="300.3" y="335.7"/><use href="#cB" x="477.1" y="422.5"/><use href="#cC" x="399.9" y="320.9"/><use href="#cB" x="654.2" y="478.3"/><use href="#cC" x="527.0" y="400.6"/><use href="#cR" x="640.0" y="524.3"/><use href="#cB" x="522.2" y="401.3"/><use href="#cB" x="652.9" y="473.8"/><use href="#cB" x="622.3" y="436.8"/><use href="#cB" x="640.6" y="519.7"/><use href="#cC" x="445.3" y="300.4"/><use href="#cB" x="559.3" y="406.0"/><use href="#cC" x="637.3" y="435.6"/><use href="#cC" x="294.1" y="427.8"/><use href="#cB" x="340.7" y="346.1"/><use href="#cB" x="292.8" y="403.1"/><use href="#cB" x="624.0" y="452.1"/><use href="#cB" x="594.5" y="421.2"/><use href="#cB" x="658.2" y="497.0"/><use href="#cB" x="335.8" y="348.1"/><use href="#cC" x="659.0" y="486.1"/><use href="#cC" x="318.9" y="414.6"/><use href="#cB" x="489.1" y="428.5"/><use href="#cB" x="571.7" y="412.3"/><use href="#cB" x="309.6" y="388.8"/><use href="#cB" x="669.7" y="509.5"/><use href="#cB" x="401.9" y="290.5"/><use href="#cN" x="356.8" y="449.2"/><use href="#cB" x="343.3" y="436.1"/><use href="#cB" x="484.8" y="428.1"/><use href="#cB" x="626.1" y="444.4"/><use href="#cB" x="305.9" y="362.4"/><use href="#cB" x="601.8" y="451.3"/><use href="#cB" x="441.5" y="294.8"/><use href="#cB" x="300.1" y="346.4"/><use href="#cB" x="302.4" y="429.4"/><use href="#cB" x="300.2" y="360.3"/><use href="#cY" x="379.3" y="309.0"/><use href="#cB" x="437.6" y="424.0"/><use href="#cB" x="651.2" y="484.3"/><use href="#cB" x="290.4" y="420.6"/><use href="#cN" x="390.8" y="304.3"/><use href="#cB" x="507.2" y="420.5"/><use href="#cB" x="323.8" y="418.8"/><use href="#cB" x="377.7" y="439.9"/><use href="#cB" x="361.8" y="447.2"/><use href="#cB" x="331.9" y="341.7"/><use href="#cB" x="372.7" y="334.7"/><use href="#cB" x="558.6" y="424.5"/><use href="#cB" x="309.8" y="428.9"/><use href="#cB" x="363.2" y="420.1"/><use href="#cB" x="570.5" y="406.4"/><use href="#cB" x="641.4" y="435.9"/><use href="#cB" x="347.1" y="311.2"/><use href="#cB" x="367.1" y="341.0"/><use href="#cB" x="625.7" y="447.6"/><use href="#cB" x="614.4" y="445.2"/><use href="#cB" x="471.4" y="419.9"/><use href="#cB" x="642.0" y="457.8"/><use href="#cB" x="297.1" y="357.6"/><use href="#cB" x="631.5" y="415.0"/><use href="#cB" x="333.3" y="443.0"/><use href="#cG" x="418.8" y="414.9"/><use href="#cY" x="425.2" y="412.5"/><use href="#cB" x="638.1" y="514.2"/><use href="#cB" x="595.6" y="434.7"/><use href="#cB" x="616.4" y="434.6"/><use href="#cB" x="447.2" y="296.3"/><use href="#cB" x="324.7" y="333.4"/><use href="#cN" x="593.5" y="432.9"/><use href="#cB" x="436.5" y="292.1"/><use href="#cB" x="507.1" y="419.9"/><use href="#cO" x="473.3" y="418.2"/><use href="#cB" x="423.6" y="304.4"/><use href="#cB" x="373.4" y="435.2"/><use href="#cB" x="494.2" y="430.1"/><use href="#cB" x="443.2" y="301.1"/><use href="#cB" x="357.0" y="348.7"/><use href="#cB" x="368.1" y="456.6"/><use href="#cB" x="341.8" y="448.0"/><use href="#cB" x="308.3" y="427.6"/><use href="#cB" x="589.5" y="399.1"/><use href="#cB" x="629.1" y="454.9"/><use href="#cG" x="525.5" y="418.4"/><use href="#cC" x="431.4" y="309.9"/><use href="#cB" x="289.2" y="367.9"/><use href="#cB" x="633.2" y="452.2"/><use href="#cB" x="596.1" y="441.2"/><use href="#cB" x="646.1" y="494.9"/><use href="#cG" x="426.6" y="406.7"/><use href="#cC" x="644.1" y="494.3"/><use href="#cB" x="303.2" y="433.5"/><use href="#cG" x="364.5" y="443.3"/><use href="#cB" x="550.4" y="402.1"/><use href="#cB" x="664.8" y="504.2"/><use href="#cB" x="631.1" y="430.9"/><use href="#cB" x="624.2" y="451.7"/><use href="#cC" x="402.4" y="294.5"/><use href="#cB" x="408.1" y="296.8"/><use href="#cO" x="312.9" y="437.2"/><use href="#cB" x="647.1" y="460.6"/><use href="#cB" x="590.2" y="408.2"/><use href="#cB" x="648.8" y="519.6"/><use href="#cG" x="343.3" y="435.9"/><use href="#cC" x="355.9" y="314.6"/><use href="#cB" x="617.9" y="447.3"/><use href="#cB" x="318.6" y="335.0"/><use href="#cC" x="627.4" y="443.0"/><use href="#cB" x="332.7" y="349.3"/><use href="#cB" x="341.5" y="433.7"/><use href="#cB" x="369.7" y="423.5"/><use href="#cB" x="400.2" y="444.5"/><use href="#cB" x="404.3" y="301.9"/><use href="#cB" x="316.5" y="428.8"/><use href="#cB" x="424.5" y="411.2"/><use href="#cB" x="478.7" y="413.4"/><use href="#cB" x="443.3" y="293.4"/><use href="#cB" x="547.4" y="428.4"/><use href="#cB" x="626.6" y="449.9"/><use href="#cB" x="514.1" y="424.3"/><use href="#cB" x="618.8" y="433.3"/><use href="#cN" x="403.7" y="320.2"/><use href="#cB" x="306.5" y="400.9"/><use href="#cB" x="310.2" y="378.1"/><use href="#cB" x="472.3" y="438.9"/><use href="#cB" x="437.3" y="312.1"/><use href="#cB" x="311.7" y="350.7"/><use href="#cB" x="323.4" y="353.1"/><use href="#cB" x="616.5" y="438.0"/><use href="#cB" x="638.8" y="517.2"/><use href="#cB" x="316.5" y="420.6"/><use href="#cB" x="322.3" y="340.6"/><use href="#cC" x="324.8" y="448.9"/><use href="#cB" x="362.3" y="431.8"/><use href="#cB" x="601.3" y="459.5"/><use href="#cB" x="628.2" y="451.0"/><use href="#cB" x="343.9" y="441.8"/><use href="#cB" x="446.6" y="429.0"/><use href="#cB" x="428.5" y="433.8"/><use href="#cB" x="626.3" y="419.2"/><use href="#cB" x="597.1" y="420.3"/><use href="#cB" x="635.6" y="479.4"/><use href="#cC" x="301.2" y="414.8"/><use href="#cC" x="339.8" y="329.0"/><use href="#cB" x="291.5" y="421.3"/><use href="#cC" x="296.7" y="349.4"/><use href="#cB" x="296.1" y="367.5"/><use href="#cB" x="572.1" y="425.4"/><use href="#cB" x="498.6" y="411.2"/><use href="#cB" x="384.5" y="452.9"/><use href="#cB" x="399.7" y="329.0"/><use href="#cY" x="317.8" y="435.9"/><use href="#cB" x="649.7" y="486.9"/><use href="#cC" x="355.0" y="336.4"/><use href="#cC" x="537.7" y="414.6"/><use href="#cN" x="310.0" y="376.6"/><use href="#cB" x="654.1" y="495.2"/><use href="#cB" x="651.5" y="464.5"/><use href="#cB" x="360.7" y="320.0"/><use href="#cB" x="608.0" y="443.8"/><use href="#cB" x="359.1" y="437.7"/><use href="#cB" x="383.1" y="324.1"/><use href="#cB" x="325.8" y="439.1"/><use href="#cB" x="543.6" y="410.9"/><use href="#cB" x="393.1" y="311.5"/><use href="#cB" x="643.7" y="474.1"/><use href="#cB" x="530.6" y="402.1"/><use href="#cC" x="315.2" y="328.2"/><use href="#cB" x="331.6" y="431.1"/><use href="#cB" x="644.2" y="464.6"/><use href="#cB" x="297.8" y="357.7"/><use href="#cB" x="650.7" y="498.3"/><use href="#cB" x="305.1" y="368.8"/><use href="#cB" x="314.0" y="357.8"/><use href="#cB" x="348.6" y="447.8"/><use href="#cB" x="653.7" y="513.7"/><use href="#cB" x="644.4" y="530.2"/><use href="#cB" x="278.8" y="368.0"/><use href="#cB" x="300.0" y="436.7"/><use href="#cG" x="534.0" y="419.5"/><use href="#cB" x="638.2" y="504.2"/><use href="#cY" x="523.3" y="390.6"/><use href="#cB" x="602.0" y="450.1"/><use href="#cB" x="587.2" y="426.4"/><use href="#cC" x="483.0" y="436.7"/><use href="#cB" x="293.4" y="398.3"/><use href="#cB" x="661.7" y="500.8"/><use href="#cB" x="479.2" y="426.8"/><use href="#cB" x="359.3" y="432.5"/><use href="#cB" x="362.0" y="448.0"/><use href="#cB" x="351.8" y="308.7"/><use href="#cB" x="379.5" y="339.9"/><use href="#cB" x="327.6" y="336.6"/><use href="#cB" x="362.6" y="326.7"/><use href="#cC" x="413.7" y="301.6"/><use href="#cC" x="383.2" y="300.9"/><use href="#cC" x="642.2" y="453.4"/><use href="#cB" x="326.5" y="435.6"/><use href="#cB" x="389.5" y="446.4"/><use href="#cB" x="465.1" y="423.3"/><use href="#cB" x="542.4" y="409.9"/><use href="#cB" x="352.0" y="328.5"/><use href="#cC" x="306.8" y="386.9"/><use href="#cB" x="319.5" y="328.9"/><use href="#cB" x="308.1" y="423.2"/><use href="#cB" x="538.0" y="402.0"/><use href="#cB" x="612.9" y="453.8"/><use href="#cB" x="642.3" y="524.9"/><use href="#cB" x="563.9" y="411.4"/><use href="#cB" x="620.6" y="410.8"/><use href="#cB" x="542.4" y="427.0"/><use href="#cB" x="363.2" y="321.4"/><use href="#cY" x="373.9" y="308.9"/><use href="#cB" x="571.3" y="422.0"/><use href="#cB" x="402.9" y="332.9"/><use href="#cB" x="637.7" y="445.2"/><use href="#cB" x="646.9" y="456.7"/><use href="#cN" x="304.8" y="426.6"/><use href="#cB" x="320.4" y="356.9"/><use href="#cB" x="531.3" y="402.3"/><use href="#cB" x="531.4" y="413.0"/><use href="#cB" x="448.5" y="433.6"/><use href="#cB" x="509.0" y="411.7"/><use href="#cB" x="400.1" y="311.6"/><use href="#cB" x="441.5" y="434.4"/><use href="#cG" x="355.6" y="333.7"/><use href="#cB" x="347.6" y="318.4"/><use href="#cB" x="540.8" y="409.9"/><use href="#cB" x="403.5" y="304.7"/><use href="#cB" x="303.4" y="353.1"/><use href="#cB" x="664.3" y="489.0"/><use href="#cB" x="613.7" y="454.1"/><use href="#cB" x="393.4" y="325.4"/><use href="#cC" x="426.1" y="439.3"/><use href="#cB" x="629.3" y="487.4"/><use href="#cB" x="295.3" y="415.3"/><use href="#cB" x="515.7" y="396.0"/><use href="#cB" x="520.3" y="404.4"/><use href="#cB" x="649.7" y="511.1"/><use href="#cB" x="346.6" y="438.4"/><use href="#cB" x="632.4" y="434.6"/><use href="#cB" x="328.7" y="437.9"/><use href="#cB" x="342.3" y="329.7"/><use href="#cB" x="380.1" y="342.5"/><use href="#cR" x="647.3" y="490.3"/><use href="#cB" x="407.3" y="328.7"/><use href="#cB" x="454.0" y="439.9"/><use href="#cB" x="491.3" y="416.7"/><use href="#cB" x="641.3" y="459.1"/><use href="#cB" x="308.2" y="372.6"/><use href="#cN" x="419.9" y="304.6"/><use href="#cC" x="306.8" y="400.8"/><use href="#cB" x="385.6" y="312.6"/><use href="#cC" x="635.4" y="426.9"/><use href="#cC" x="336.7" y="329.3"/><use href="#cB" x="636.8" y="449.7"/><use href="#cB" x="450.6" y="308.7"/><use href="#cB" x="382.1" y="434.6"/><use href="#cB" x="376.2" y="310.1"/><use href="#cB" x="590.0" y="422.1"/><use href="#cB" x="607.8" y="435.3"/><use href="#cB" x="441.1" y="303.7"/><use href="#cC" x="604.7" y="453.8"/><use href="#cB" x="313.9" y="384.4"/><use href="#cB" x="629.5" y="447.3"/><use href="#cB" x="368.0" y="347.5"/><use href="#cB" x="455.5" y="431.9"/><use href="#cB" x="293.5" y="331.9"/><use href="#cN" x="635.4" y="473.1"/><use href="#cC" x="620.4" y="426.5"/><use href="#cB" x="655.6" y="502.3"/><use href="#cC" x="307.0" y="426.3"/><use href="#cB" x="293.0" y="420.6"/><use href="#cB" x="661.2" y="476.5"/><use href="#cB" x="311.6" y="341.5"/><use href="#cG" x="601.4" y="437.5"/><use href="#cB" x="641.9" y="457.2"/><use href="#cN" x="604.5" y="428.1"/><use href="#cB" x="641.7" y="483.0"/><use href="#cB" x="466.7" y="438.3"/><use href="#cB" x="619.3" y="417.2"/><use href="#cB" x="601.1" y="441.3"/><use href="#cB" x="378.5" y="325.5"/><use href="#cG" x="364.8" y="327.4"/><use href="#cB" x="468.7" y="430.6"/><use href="#cB" x="605.7" y="434.1"/><use href="#cC" x="342.1" y="324.6"/><use href="#cB" x="368.3" y="436.3"/><use href="#cB" x="299.1" y="347.4"/><use href="#cB" x="663.5" y="513.0"/><use href="#cB" x="306.2" y="455.6"/><use href="#cB" x="296.6" y="424.2"/><use href="#cB" x="411.9" y="303.6"/><use href="#cC" x="324.1" y="336.4"/><use href="#cB" x="446.8" y="305.6"/><use href="#cB" x="630.0" y="411.1"/><use href="#cB" x="327.8" y="344.5"/><use href="#cB" x="524.2" y="396.2"/><use href="#cB" x="275.9" y="390.9"/><use href="#cB" x="302.5" y="391.3"/><use href="#cB" x="436.2" y="289.4"/><use href="#cB" x="403.0" y="312.9"/><use href="#cB" x="348.8" y="435.7"/><use href="#cB" x="648.0" y="472.8"/><use href="#cC" x="436.8" y="311.2"/><use href="#cB" x="571.8" y="414.5"/><use href="#cB" x="316.9" y="364.4"/><use href="#cB" x="397.1" y="295.9"/><use href="#cC" x="301.4" y="374.7"/><use href="#cB" x="511.4" y="414.7"/><use href="#cN" x="649.5" y="453.1"/><use href="#cC" x="611.9" y="435.9"/><use href="#cB" x="354.8" y="434.7"/><use href="#cC" x="350.3" y="425.7"/><use href="#cB" x="314.2" y="331.1"/><use href="#cB" x="328.3" y="316.5"/><use href="#cB" x="426.4" y="423.8"/><use href="#cB" x="547.1" y="425.0"/><use href="#cC" x="384.9" y="299.1"/><use href="#cB" x="534.5" y="416.8"/><use href="#cB" x="649.9" y="520.4"/><use href="#cB" x="308.9" y="383.5"/><use href="#cB" x="619.1" y="457.3"/><use href="#cC" x="300.2" y="369.7"/><use href="#cB" x="321.0" y="423.6"/><use href="#cB" x="607.3" y="457.1"/><use href="#cB" x="397.3" y="441.3"/><use href="#cO" x="375.5" y="323.2"/><use href="#cB" x="301.9" y="442.3"/><use href="#cB" x="388.9" y="320.6"/><use href="#cB" x="305.0" y="364.7"/><use href="#cB" x="301.9" y="395.5"/><use href="#cB" x="519.4" y="418.4"/><use href="#cB" x="636.3" y="477.2"/><use href="#cY" x="642.1" y="484.9"/><use href="#cB" x="665.4" y="494.2"/><use href="#cB" x="522.4" y="418.6"/><use href="#cB" x="452.9" y="296.6"/><use href="#cB" x="649.5" y="493.4"/><use href="#cB" x="303.8" y="429.6"/><use href="#cB" x="548.3" y="426.5"/><use href="#cB" x="549.0" y="422.8"/><use href="#cB" x="479.2" y="406.9"/><use href="#cB" x="585.3" y="422.0"/><use href="#cB" x="397.9" y="312.7"/><use href="#cB" x="386.4" y="309.5"/><use href="#cB" x="630.0" y="436.6"/><use href="#cR" x="315.2" y="386.9"/><use href="#cB" x="286.8" y="390.7"/><use href="#cB" x="522.7" y="423.7"/><use href="#cB" x="318.6" y="331.8"/><use href="#cB" x="588.6" y="437.1"/><use href="#cB" x="303.7" y="442.7"/><use href="#cN" x="623.3" y="416.9"/><use href="#cB" x="614.8" y="441.7"/><use href="#cB" x="332.2" y="438.9"/><use href="#cB" x="394.4" y="297.0"/><use href="#cB" x="333.0" y="346.1"/><use href="#cB" x="291.7" y="418.4"/><use href="#cC" x="321.6" y="348.1"/><use href="#cB" x="548.5" y="424.0"/><use href="#cB" x="383.4" y="318.7"/><use href="#cB" x="330.5" y="347.3"/><use href="#cG" x="485.6" y="401.6"/><use href="#cB" x="297.1" y="396.6"/><use href="#cB" x="308.1" y="374.2"/><use href="#cB" x="446.2" y="441.6"/><use href="#cB" x="319.3" y="423.9"/><use href="#cC" x="305.1" y="349.1"/><use href="#cB" x="561.2" y="415.9"/><use href="#cB" x="385.7" y="452.8"/><use href="#cB" x="654.0" y="489.0"/><use href="#cB" x="458.3" y="440.2"/><use href="#cB" x="605.8" y="450.6"/><use href="#cB" x="606.2" y="444.1"/><use href="#cB" x="325.4" y="325.4"/><use href="#cB" x="542.3" y="411.7"/><use href="#cB" x="359.4" y="329.9"/><use href="#cB" x="449.8" y="443.1"/><use href="#cB" x="312.5" y="443.5"/><use href="#cB" x="324.4" y="437.1"/><use href="#cG" x="404.0" y="321.3"/><use href="#cB" x="635.1" y="517.3"/><use href="#cC" x="391.8" y="436.2"/><use href="#cB" x="488.1" y="403.7"/><use href="#cB" x="441.3" y="422.6"/><use href="#cB" x="625.1" y="411.6"/><use href="#cB" x="469.1" y="421.1"/><use href="#cB" x="631.5" y="433.5"/><use href="#cB" x="593.8" y="422.8"/><use href="#cC" x="394.6" y="292.1"/><use href="#cB" x="392.9" y="437.2"/><use href="#cB" x="308.8" y="416.1"/><use href="#cB" x="372.5" y="315.6"/><use href="#cB" x="572.6" y="401.7"/><use href="#cB" x="624.9" y="455.6"/><use href="#cB" x="305.8" y="384.0"/><use href="#cC" x="287.6" y="336.8"/><use href="#cB" x="302.4" y="376.1"/><use href="#cB" x="561.5" y="430.8"/><use href="#cB" x="601.4" y="426.0"/><use href="#cB" x="657.5" y="483.9"/><use href="#cB" x="588.8" y="442.2"/><use href="#cB" x="519.1" y="415.3"/><use href="#cB" x="427.5" y="428.3"/><use href="#cB" x="647.2" y="491.1"/><use href="#cB" x="326.1" y="353.8"/><use href="#cB" x="586.8" y="400.3"/><use href="#cB" x="451.7" y="306.1"/><use href="#cB" x="444.2" y="314.1"/><use href="#cB" x="376.8" y="328.4"/><use href="#cB" x="372.0" y="456.6"/><use href="#cG" x="321.4" y="340.1"/><use href="#cB" x="550.1" y="420.1"/><use href="#cB" x="383.2" y="318.7"/><use href="#cB" x="324.0" y="431.1"/><use href="#cB" x="375.6" y="440.9"/><use href="#cB" x="331.4" y="345.4"/><use href="#cB" x="645.7" y="451.9"/><use href="#cB" x="629.9" y="448.4"/><use href="#cB" x="290.6" y="354.0"/><use href="#cY" x="637.2" y="515.7"/><use href="#cG" x="645.2" y="498.7"/><use href="#cB" x="633.2" y="483.5"/><use href="#cC" x="323.2" y="435.7"/><use href="#cC" x="498.1" y="415.3"/><use href="#cG" x="487.0" y="430.3"/><use href="#cB" x="327.9" y="325.7"/><use href="#cB" x="599.7" y="424.0"/><use href="#cC" x="288.1" y="393.2"/><use href="#cC" x="317.0" y="342.7"/><use href="#cC" x="470.3" y="424.3"/><use href="#cB" x="343.4" y="325.5"/><use href="#cB" x="609.9" y="443.5"/><use href="#cB" x="650.3" y="497.3"/><use href="#cG" x="553.9" y="429.2"/><use href="#cC" x="547.5" y="414.9"/><use href="#cB" x="547.7" y="410.8"/><use href="#cB" x="579.5" y="408.3"/><use href="#cC" x="528.0" y="395.1"/><use href="#cC" x="655.3" y="495.3"/><use href="#cB" x="280.8" y="356.5"/><use href="#cC" x="443.1" y="437.7"/><use href="#cB" x="644.9" y="488.6"/><use href="#cB" x="491.5" y="417.0"/><use href="#cB" x="340.4" y="435.1"/><use href="#cB" x="346.8" y="318.8"/><use href="#cB" x="554.7" y="426.1"/><use href="#cB" x="574.4" y="410.0"/><use href="#cB" x="531.3" y="397.3"/><use href="#cN" x="452.5" y="421.3"/><use href="#cB" x="624.2" y="445.5"/><use href="#cB" x="333.9" y="348.6"/><use href="#cB" x="636.3" y="494.1"/><use href="#cC" x="477.3" y="411.8"/><use href="#cB" x="318.0" y="348.2"/><use href="#cB" x="330.5" y="423.7"/><use href="#cB" x="649.9" y="488.5"/><use href="#cB" x="313.4" y="447.1"/><use href="#cB" x="459.0" y="422.0"/><use href="#cN" x="327.7" y="322.9"/><use href="#cB" x="317.2" y="353.9"/><use href="#cB" x="652.9" y="469.6"/><use href="#cB" x="652.0" y="480.3"/><use href="#cB" x="309.0" y="341.9"/><use href="#cB" x="543.4" y="426.4"/><use href="#cB" x="303.4" y="452.0"/><use href="#cB" x="638.2" y="446.1"/><use href="#cB" x="277.2" y="365.9"/><use href="#cB" x="407.2" y="305.8"/><use href="#cB" x="519.8" y="408.1"/><use href="#cB" x="352.2" y="452.5"/><use href="#cB" x="625.4" y="437.7"/><use href="#cB" x="377.5" y="312.9"/><use href="#cB" x="361.9" y="443.3"/><use href="#cB" x="306.7" y="397.9"/><use href="#cB" x="307.0" y="419.7"/><use href="#cB" x="311.8" y="443.7"/><use href="#cB" x="621.1" y="443.8"/><use href="#cB" x="324.6" y="432.4"/><use href="#cB" x="646.7" y="491.1"/><use href="#cB" x="644.8" y="525.3"/><use href="#cB" x="640.5" y="435.8"/><use href="#cB" x="407.6" y="309.5"/><use href="#cB" x="306.0" y="347.6"/><use href="#cB" x="470.4" y="430.0"/><use href="#cB" x="599.8" y="439.4"/><use href="#cB" x="554.2" y="429.2"/><use href="#cC" x="359.8" y="333.1"/><use href="#cY" x="632.0" y="484.6"/><use href="#cB" x="284.4" y="371.9"/><use href="#cB" x="294.3" y="392.9"/><use href="#cG" x="337.4" y="418.9"/><use href="#cB" x="312.4" y="383.0"/><use href="#cB" x="609.4" y="444.5"/><use href="#cC" x="432.7" y="298.0"/><use href="#cB" x="320.3" y="423.3"/><use href="#cB" x="632.7" y="459.7"/><use href="#cB" x="619.6" y="461.9"/><use href="#cC" x="468.1" y="435.1"/><use href="#cB" x="325.3" y="430.2"/><use href="#cB" x="393.1" y="303.2"/><use href="#cB" x="561.2" y="423.2"/><use href="#cB" x="616.3" y="449.4"/><use href="#cB" x="344.1" y="328.5"/><use href="#cB" x="649.9" y="489.1"/><use href="#cB" x="654.3" y="463.2"/><use href="#cY" x="382.3" y="315.7"/><use href="#cG" x="285.4" y="337.8"/><use href="#cB" x="616.3" y="439.5"/><use href="#cB" x="663.6" y="499.2"/><use href="#cC" x="360.8" y="424.6"/><use href="#cB" x="301.7" y="357.6"/><use href="#cB" x="405.1" y="300.1"/><use href="#cB" x="635.6" y="441.0"/><use href="#cB" x="571.1" y="401.8"/><use href="#cB" x="401.2" y="302.2"/><use href="#cB" x="657.5" y="481.6"/><use href="#cB" x="430.8" y="304.8"/><use href="#cB" x="652.1" y="485.8"/><use href="#cB" x="301.3" y="427.7"/><use href="#cB" x="403.9" y="319.3"/><use href="#cB" x="462.7" y="433.9"/><use href="#cB" x="436.0" y="310.1"/><use href="#cB" x="382.4" y="322.1"/><use href="#cB" x="446.6" y="428.4"/><use href="#cB" x="291.0" y="397.0"/><use href="#cB" x="371.2" y="312.3"/><use href="#cB" x="494.9" y="414.1"/><use href="#cB" x="317.0" y="339.1"/><use href="#cG" x="358.2" y="323.9"/><use href="#cB" x="484.8" y="438.7"/><use href="#cY" x="280.4" y="333.3"/><use href="#cB" x="433.1" y="434.9"/><use href="#cG" x="591.4" y="429.8"/><use href="#cB" x="325.1" y="430.8"/><use href="#cB" x="644.1" y="484.8"/><use href="#cB" x="376.3" y="426.2"/><use href="#cB" x="650.2" y="500.5"/><use href="#cB" x="526.8" y="395.5"/><use href="#cB" x="587.3" y="410.9"/><use href="#cC" x="332.0" y="344.4"/><use href="#cB" x="643.2" y="513.1"/><use href="#cB" x="365.5" y="456.1"/><use href="#cB" x="351.2" y="333.7"/><use href="#cB" x="608.5" y="437.4"/><use href="#cB" x="589.0" y="418.1"/><use href="#cB" x="388.4" y="454.6"/><use href="#cB" x="319.0" y="349.7"/><use href="#cC" x="582.1" y="421.1"/><use href="#cB" x="603.2" y="427.2"/><use href="#cB" x="418.2" y="430.5"/><use href="#cB" x="601.1" y="457.4"/><use href="#cB" x="422.2" y="433.2"/><use href="#cB" x="362.6" y="324.1"/><use href="#cB" x="366.8" y="454.9"/><use href="#cB" x="628.6" y="438.8"/><use href="#cC" x="319.9" y="348.5"/><use href="#cB" x="334.7" y="423.3"/><use href="#cR" x="450.0" y="315.0"/><use href="#cB" x="449.7" y="300.9"/><use href="#cB" x="391.5" y="313.9"/><use href="#cB" x="395.4" y="303.1"/><use href="#cB" x="379.9" y="345.1"/><use href="#cB" x="286.9" y="360.1"/><use href="#cB" x="397.5" y="438.4"/><use href="#cB" x="638.8" y="458.0"/><use href="#cB" x="473.9" y="422.1"/><use href="#cB" x="338.4" y="445.6"/><use href="#cB" x="326.4" y="442.7"/><use href="#cB" x="467.4" y="425.5"/><use href="#cC" x="626.3" y="438.1"/><use href="#cB" x="299.8" y="430.6"/><use href="#cB" x="306.0" y="360.6"/><use href="#cB" x="654.0" y="514.2"/><use href="#cC" x="299.5" y="429.5"/><use href="#cB" x="314.9" y="357.7"/><use href="#cB" x="643.7" y="519.8"/><use href="#cB" x="448.5" y="427.8"/><use href="#cB" x="618.8" y="442.6"/><use href="#cB" x="296.2" y="426.9"/><use href="#cB" x="642.6" y="454.5"/><use href="#cB" x="356.6" y="313.9"/><use href="#cB" x="616.7" y="442.4"/><use href="#cB" x="543.9" y="409.9"/><use href="#cB" x="282.0" y="364.1"/><use href="#cB" x="364.9" y="321.5"/><use href="#cB" x="517.7" y="393.3"/><use href="#cB" x="651.0" y="522.4"/><use href="#cB" x="332.3" y="345.5"/><use href="#cB" x="628.4" y="435.5"/><use href="#cB" x="344.4" y="433.2"/><use href="#cN" x="401.5" y="446.8"/><use href="#cG" x="373.7" y="321.1"/><use href="#cB" x="649.1" y="518.0"/><use href="#cN" x="626.0" y="434.2"/><use href="#cB" x="592.3" y="431.6"/><use href="#cB" x="396.5" y="304.1"/><use href="#cB" x="397.8" y="312.4"/><use href="#cB" x="327.4" y="317.8"/><use href="#cY" x="387.3" y="327.4"/><use href="#cB" x="653.3" y="498.5"/><use href="#cB" x="327.8" y="425.1"/><use href="#cG" x="306.6" y="440.5"/><use href="#cB" x="391.1" y="299.0"/><use href="#cB" x="372.3" y="446.3"/><use href="#cC" x="320.0" y="347.0"/><use href="#cB" x="327.5" y="453.9"/><use href="#cB" x="333.7" y="431.6"/><use href="#cB" x="645.4" y="522.0"/><use href="#cB" x="632.3" y="450.8"/><use href="#cB" x="375.5" y="317.6"/><use href="#cB" x="401.7" y="321.1"/><use href="#cB" x="302.2" y="393.1"/><use href="#cB" x="305.6" y="412.7"/><use href="#cB" x="448.0" y="308.6"/><use href="#cB" x="623.6" y="444.9"/><use href="#cC" x="353.8" y="317.8"/><use href="#cB" x="631.9" y="437.7"/><use href="#cB" x="644.7" y="455.6"/><use href="#cO" x="650.1" y="461.2"/><use href="#cB" x="339.8" y="455.1"/><use href="#cB" x="307.0" y="359.4"/><use href="#cG" x="316.5" y="440.9"/><use href="#cB" x="653.0" y="504.0"/><use href="#cC" x="631.7" y="423.1"/><use href="#cB" x="532.9" y="425.3"/><use href="#cB" x="638.9" y="439.6"/><use href="#cB" x="590.8" y="433.4"/><use href="#cB" x="308.9" y="347.4"/><use href="#cB" x="367.8" y="433.6"/><use href="#cB" x="334.9" y="421.9"/><use href="#cB" x="328.5" y="435.4"/><use href="#cC" x="311.9" y="353.2"/><use href="#cB" x="332.6" y="427.7"/><use href="#cB" x="655.2" y="505.8"/><use href="#cB" x="560.3" y="405.3"/><use href="#cB" x="535.6" y="398.9"/><use href="#cY" x="406.0" y="332.4"/><use href="#cB" x="371.0" y="335.7"/><use href="#cB" x="332.9" y="443.2"/><use href="#cB" x="369.9" y="339.8"/><use href="#cB" x="405.9" y="438.3"/><use href="#cB" x="301.8" y="364.6"/><use href="#cO" x="334.7" y="432.7"/><use href="#cB" x="387.9" y="297.1"/><use href="#cB" x="351.3" y="426.4"/><use href="#cC" x="565.9" y="424.2"/><use href="#cB" x="310.3" y="387.3"/><use href="#cB" x="363.1" y="446.5"/><use href="#cB" x="655.9" y="485.9"/><use href="#cB" x="430.5" y="306.3"/><use href="#cB" x="310.7" y="352.4"/><use href="#cB" x="299.5" y="451.7"/><use href="#cC" x="664.5" y="493.8"/><use href="#cB" x="551.1" y="403.2"/><use href="#cB" x="558.3" y="409.7"/><use href="#cB" x="641.3" y="503.0"/><use href="#cB" x="317.1" y="396.5"/><use href="#cB" x="538.9" y="413.7"/><use href="#cC" x="411.5" y="317.3"/><use href="#cB" x="341.3" y="449.4"/><use href="#cG" x="429.0" y="412.8"/><use href="#cB" x="315.6" y="356.3"/><use href="#cB" x="283.6" y="361.1"/><use href="#cB" x="393.7" y="300.2"/><use href="#cB" x="636.7" y="486.9"/><use href="#cB" x="617.6" y="436.1"/><use href="#cB" x="431.8" y="311.2"/><use href="#cB" x="583.8" y="397.6"/><use href="#cB" x="559.8" y="414.2"/><use href="#cB" x="651.7" y="468.6"/><use href="#cB" x="356.3" y="324.6"/><use href="#cB" x="354.5" y="445.6"/><use href="#cG" x="347.3" y="438.4"/><use href="#cC" x="632.2" y="452.0"/><use href="#cB" x="532.0" y="420.8"/><use href="#cB" x="565.7" y="427.8"/><use href="#cB" x="475.5" y="420.9"/><use href="#cB" x="355.8" y="423.2"/><use href="#cB" x="631.6" y="451.2"/><use href="#cB" x="591.3" y="429.4"/><use href="#cB" x="654.6" y="503.6"/><use href="#cG" x="508.9" y="410.0"/><use href="#cB" x="336.1" y="454.7"/><use href="#cB" x="626.0" y="455.2"/><use href="#cC" x="322.1" y="353.8"/><use href="#cC" x="389.6" y="292.4"/><use href="#cB" x="368.7" y="439.1"/><use href="#cB" x="639.9" y="512.5"/><use href="#cB" x="415.0" y="303.0"/><use href="#cB" x="324.4" y="374.7"/><use href="#cB" x="409.6" y="300.3"/><use href="#cB" x="404.6" y="320.3"/><use href="#cB" x="315.9" y="353.7"/><use href="#cB" x="361.7" y="323.9"/><use href="#cB" x="451.9" y="425.6"/><use href="#cB" x="632.4" y="450.9"/><use href="#cB" x="597.5" y="425.2"/><use href="#cG" x="363.2" y="326.6"/><use href="#cC" x="472.4" y="435.1"/><use href="#cB" x="469.8" y="417.8"/><use href="#cG" x="455.9" y="301.2"/><use href="#cB" x="631.8" y="441.1"/><use href="#cB" x="623.1" y="452.2"/><use href="#cO" x="311.9" y="377.3"/><use href="#cB" x="407.0" y="309.2"/><use href="#cY" x="634.6" y="473.0"/><use href="#cC" x="528.0" y="411.5"/><use href="#cB" x="663.2" y="490.8"/><use href="#cB" x="445.9" y="305.4"/><use href="#cB" x="296.6" y="335.5"/><use href="#cB" x="647.7" y="520.9"/><use href="#cB" x="470.1" y="424.9"/><use href="#cB" x="626.3" y="465.4"/><use href="#cB" x="306.4" y="348.9"/><use href="#cB" x="319.1" y="382.9"/><use href="#cB" x="309.8" y="356.5"/><use href="#cB" x="469.9" y="419.6"/><use href="#cB" x="280.1" y="358.2"/><use href="#cB" x="362.4" y="314.4"/><use href="#cB" x="651.8" y="516.3"/><use href="#cB" x="458.1" y="429.3"/><use href="#cB" x="589.7" y="412.4"/><use href="#cC" x="352.2" y="330.6"/><use href="#cB" x="292.8" y="381.4"/><use href="#cB" x="653.2" y="509.5"/><use href="#cB" x="376.7" y="431.2"/><use href="#cN" x="562.6" y="409.3"/><use href="#cB" x="660.9" y="502.1"/><use href="#cB" x="627.5" y="443.7"/><use href="#cB" x="300.8" y="360.2"/><use href="#cB" x="379.9" y="336.7"/><use href="#cY" x="439.2" y="320.4"/><use href="#cB" x="497.2" y="430.8"/><use href="#cB" x="464.8" y="425.4"/><use href="#cB" x="628.1" y="435.4"/><use href="#cB" x="527.6" y="392.7"/><use href="#cB" x="289.1" y="435.6"/><use href="#cB" x="640.3" y="452.6"/><use href="#cY" x="350.3" y="337.0"/><use href="#cB" x="459.7" y="422.9"/><use href="#cB" x="298.5" y="403.0"/><use href="#cG" x="357.4" y="437.0"/><use href="#cB" x="395.8" y="437.4"/><use href="#cB" x="307.6" y="361.9"/><use href="#cB" x="400.6" y="325.0"/><use href="#cB" x="297.2" y="446.6"/><use href="#cB" x="487.6" y="423.4"/><use href="#cB" x="510.2" y="415.1"/><use href="#cC" x="495.9" y="428.4"/><use href="#cB" x="573.1" y="431.0"/><use href="#cB" x="656.0" y="502.2"/><use href="#cB" x="355.0" y="343.1"/><use href="#cB" x="314.0" y="352.3"/><use href="#cB" x="650.9" y="448.2"/><use href="#cB" x="645.7" y="525.5"/><use href="#cB" x="536.3" y="420.4"/><use href="#cB" x="319.7" y="356.5"/><use href="#cB" x="305.8" y="396.8"/><use href="#cC" x="520.6" y="400.4"/><use href="#cB" x="622.6" y="415.0"/><use href="#cC" x="648.8" y="472.5"/><use href="#cG" x="650.7" y="496.7"/><use href="#cB" x="372.2" y="439.0"/><use href="#cB" x="651.1" y="482.5"/><use href="#cB" x="320.1" y="367.2"/><use href="#cB" x="308.7" y="370.9"/><use href="#cB" x="430.7" y="308.7"/><use href="#cC" x="573.2" y="429.1"/><use href="#cB" x="376.4" y="457.2"/><use href="#cB" x="650.3" y="525.0"/><use href="#cB" x="644.4" y="478.7"/><use href="#cB" x="319.0" y="447.5"/><use href="#cB" x="356.5" y="317.4"/><use href="#cC" x="317.7" y="356.3"/><use href="#cB" x="334.6" y="425.4"/><use href="#cB" x="598.0" y="423.2"/><use href="#cB" x="296.8" y="436.6"/><use href="#cB" x="633.1" y="475.0"/><use href="#cB" x="386.9" y="315.8"/><use href="#cB" x="634.8" y="426.3"/><use href="#cB" x="359.5" y="340.0"/><use href="#cB" x="632.5" y="486.9"/><use href="#cB" x="379.5" y="437.2"/><use href="#cB" x="301.9" y="378.7"/><use href="#cB" x="662.2" y="506.9"/><use href="#cB" x="482.9" y="430.6"/><use href="#cB" x="588.4" y="413.1"/><use href="#cB" x="637.9" y="500.5"/><use href="#cC" x="304.8" y="349.4"/><use href="#cB" x="631.9" y="450.5"/><use href="#cB" x="477.7" y="430.5"/><use href="#cB" x="636.8" y="440.1"/><use href="#cB" x="318.7" y="424.1"/><use href="#cB" x="529.1" y="402.0"/><use href="#cC" x="304.0" y="381.4"/><use href="#cB" x="392.7" y="295.9"/><use href="#cC" x="319.9" y="437.9"/><use href="#cB" x="371.7" y="450.1"/><use href="#cN" x="379.2" y="311.7"/><use href="#cB" x="552.0" y="419.3"/><use href="#cB" x="324.6" y="362.2"/><use href="#cB" x="418.5" y="302.7"/><use href="#cB" x="641.5" y="447.8"/><use href="#cC" x="334.5" y="436.5"/><use href="#cB" x="380.8" y="439.2"/><use href="#cB" x="653.7" y="510.6"/><use href="#cB" x="300.1" y="434.5"/><use href="#cB" x="517.2" y="401.7"/><use href="#cB" x="355.0" y="348.5"/><use href="#cC" x="356.2" y="440.5"/><use href="#cB" x="565.0" y="413.7"/><use href="#cB" x="387.5" y="318.8"/><use href="#cC" x="283.9" y="369.1"/><use href="#cB" x="461.1" y="435.1"/><use href="#cB" x="631.1" y="444.3"/><use href="#cB" x="420.4" y="438.4"/><use href="#cG" x="577.8" y="425.2"/><use href="#cG" x="419.2" y="411.8"/><use href="#cB" x="491.5" y="430.5"/><use href="#cB" x="644.9" y="462.2"/><use href="#cB" x="392.8" y="298.6"/><use href="#cB" x="645.9" y="460.1"/><use href="#cC" x="285.9" y="357.2"/><use href="#cB" x="426.5" y="300.7"/><use href="#cB" x="412.3" y="317.1"/><use href="#cB" x="384.0" y="324.7"/><use href="#cB" x="355.0" y="314.6"/><use href="#cB" x="457.5" y="437.8"/><use href="#cN" x="443.1" y="293.8"/><use href="#cC" x="380.2" y="297.6"/><use href="#cB" x="296.6" y="358.5"/><use href="#cB" x="618.8" y="432.9"/><use href="#cB" x="552.7" y="412.3"/><use href="#cB" x="330.2" y="322.4"/><use href="#cB" x="544.0" y="420.0"/><use href="#cB" x="323.6" y="453.7"/><use href="#cB" x="428.4" y="436.9"/><use href="#cB" x="407.8" y="321.6"/><use href="#cC" x="443.5" y="437.9"/><use href="#cB" x="303.4" y="430.7"/><use href="#cB" x="643.0" y="460.2"/><use href="#cB" x="554.7" y="423.1"/><use href="#cB" x="376.0" y="305.6"/><use href="#cB" x="323.0" y="330.0"/><use href="#cB" x="304.8" y="362.9"/><use href="#cB" x="339.5" y="450.0"/><use href="#cB" x="592.0" y="424.6"/><use href="#cB" x="654.9" y="505.4"/><use href="#cB" x="314.9" y="353.1"/><use href="#cB" x="409.3" y="295.4"/><use href="#cB" x="317.9" y="448.9"/><use href="#cB" x="317.3" y="433.8"/><use href="#cB" x="510.8" y="415.6"/><use href="#cB" x="628.7" y="434.7"/><use href="#cR" x="439.9" y="422.0"/><use href="#cG" x="625.1" y="453.4"/><use href="#cG" x="285.8" y="341.7"/><use href="#cB" x="334.2" y="323.4"/><use href="#cB" x="449.8" y="292.2"/><use href="#cB" x="601.9" y="435.8"/><use href="#cB" x="649.2" y="495.7"/><use href="#cB" x="567.2" y="400.5"/><use href="#cB" x="368.2" y="440.0"/><use href="#cB" x="412.2" y="322.3"/><use href="#cB" x="628.8" y="477.2"/><use href="#cB" x="493.5" y="418.5"/><use href="#cB" x="620.6" y="429.6"/><use href="#cB" x="303.8" y="387.6"/><use href="#cB" x="427.1" y="292.3"/><use href="#cB" x="333.6" y="429.5"/><use href="#cB" x="595.4" y="453.2"/><use href="#cB" x="413.3" y="321.1"/><use href="#cB" x="342.9" y="323.9"/><use href="#cB" x="406.5" y="306.8"/><use href="#cB" x="414.0" y="299.2"/><use href="#cB" x="648.6" y="498.1"/><use href="#cB" x="584.9" y="409.1"/><use href="#cB" x="629.3" y="433.9"/><use href="#cB" x="433.4" y="429.1"/><use href="#cC" x="645.3" y="522.5"/><use href="#cB" x="387.0" y="301.0"/><use href="#cG" x="361.7" y="322.2"/><use href="#cB" x="640.1" y="463.3"/><use href="#cC" x="296.1" y="338.0"/><use href="#cB" x="376.1" y="320.7"/><use href="#cB" x="411.8" y="295.2"/><use href="#cB" x="375.8" y="314.3"/><use href="#cB" x="469.5" y="429.0"/><use href="#cB" x="591.1" y="408.6"/><use href="#cB" x="531.4" y="410.6"/><use href="#cG" x="331.7" y="434.7"/><use href="#cB" x="334.8" y="341.6"/><use href="#cB" x="405.2" y="312.2"/><use href="#cB" x="297.7" y="409.7"/><use href="#cB" x="623.1" y="423.3"/><use href="#cB" x="373.7" y="321.8"/><use href="#cB" x="447.6" y="306.1"/><use href="#cB" x="300.2" y="399.3"/><use href="#cB" x="531.9" y="415.5"/><use href="#cB" x="545.6" y="406.3"/><use href="#cB" x="621.4" y="452.6"/><use href="#cB" x="431.5" y="413.2"/><use href="#cB" x="523.4" y="412.4"/><use href="#cB" x="392.0" y="330.7"/><use href="#cB" x="373.1" y="433.4"/><use href="#cN" x="293.4" y="421.1"/><use href="#cB" x="590.4" y="425.5"/><use href="#cB" x="455.0" y="436.2"/><use href="#cB" x="646.2" y="462.1"/><use href="#cB" x="645.3" y="463.9"/><use href="#cB" x="389.0" y="302.5"/><use href="#cB" x="370.8" y="454.6"/><use href="#cC" x="614.7" y="430.7"/><use href="#cB" x="482.7" y="408.8"/><use href="#cG" x="521.5" y="389.9"/><use href="#cB" x="298.1" y="357.8"/><use href="#cB" x="372.2" y="454.5"/><use href="#cB" x="615.2" y="434.1"/><use href="#cB" x="344.4" y="436.2"/><use href="#cB" x="322.0" y="336.5"/><use href="#cB" x="370.1" y="426.8"/><use href="#cC" x="299.8" y="336.3"/><use href="#cC" x="649.9" y="516.1"/><use href="#cB" x="307.5" y="447.1"/><use href="#cB" x="359.4" y="433.2"/><use href="#cB" x="301.4" y="440.9"/><use href="#cG" x="598.2" y="437.9"/><use href="#cB" x="526.4" y="413.5"/><use href="#cG" x="320.7" y="375.0"/><use href="#cB" x="625.6" y="417.8"/><use href="#cB" x="309.4" y="421.0"/><use href="#cB" x="390.3" y="447.4"/><use href="#cB" x="627.9" y="418.3"/><use href="#cG" x="644.3" y="498.0"/><use href="#cB" x="284.6" y="364.9"/><use href="#cB" x="312.7" y="438.7"/><use href="#cR" x="666.5" y="513.6"/><use href="#cB" x="620.7" y="449.6"/><use href="#cY" x="340.6" y="453.7"/><use href="#cB" x="453.6" y="424.3"/><use href="#cB" x="380.9" y="327.4"/><use href="#cB" x="488.6" y="411.3"/><use href="#cY" x="413.2" y="328.1"/><use href="#cB" x="629.6" y="454.3"/><use href="#cB" x="640.7" y="442.4"/><use href="#cB" x="597.7" y="415.4"/><use href="#cB" x="340.4" y="436.5"/><use href="#cB" x="302.8" y="403.7"/><use href="#cB" x="387.2" y="317.3"/><use href="#cB" x="647.3" y="445.8"/><use href="#cB" x="364.4" y="434.8"/><use href="#cB" x="342.4" y="447.8"/><use href="#cY" x="382.1" y="337.0"/><use href="#cB" x="453.1" y="438.3"/><use href="#cG" x="334.0" y="423.5"/><use href="#cB" x="282.4" y="361.7"/><use href="#cB" x="307.6" y="383.9"/><use href="#cB" x="531.0" y="403.1"/><use href="#cB" x="295.8" y="427.5"/><use href="#cY" x="499.6" y="410.0"/><use href="#cB" x="358.2" y="444.1"/><use href="#cB" x="352.5" y="334.2"/><use href="#cB" x="641.6" y="528.6"/><use href="#cB" x="588.3" y="422.2"/><use href="#cB" x="440.4" y="294.0"/><use href="#cC" x="380.4" y="447.8"/><use href="#cB" x="305.0" y="376.3"/><use href="#cC" x="288.3" y="364.2"/><use href="#cB" x="400.5" y="307.5"/><use href="#cB" x="631.0" y="439.5"/><use href="#cG" x="568.0" y="420.6"/><use href="#cB" x="649.7" y="467.8"/><use href="#cB" x="312.2" y="436.7"/><use href="#cC" x="631.5" y="426.3"/><use href="#cG" x="658.7" y="483.7"/><use href="#cB" x="324.6" y="416.5"/><use href="#cC" x="572.6" y="425.7"/><use href="#cB" x="456.8" y="420.1"/><use href="#cB" x="290.9" y="360.6"/><use href="#cB" x="359.6" y="327.2"/><use href="#cB" x="652.4" y="500.6"/><use href="#cB" x="411.3" y="333.3"/><use href="#cB" x="386.1" y="332.7"/><use href="#cC" x="368.4" y="424.4"/><use href="#cB" x="376.1" y="337.3"/><use href="#cB" x="389.0" y="310.9"/><use href="#cB" x="333.9" y="320.0"/><use href="#cB" x="332.0" y="415.7"/><use href="#cB" x="591.6" y="409.2"/><use href="#cB" x="488.6" y="403.9"/><use href="#cC" x="379.8" y="339.3"/><use href="#cB" x="587.6" y="436.4"/><use href="#cB" x="466.1" y="424.7"/><use href="#cB" x="285.4" y="364.8"/><use href="#cB" x="385.3" y="452.5"/><use href="#cB" x="372.5" y="439.1"/><use href="#cB" x="379.3" y="436.6"/><use href="#cB" x="362.6" y="324.6"/><use href="#cB" x="320.2" y="384.1"/><use href="#cB" x="657.6" y="484.5"/><use href="#cB" x="607.1" y="431.7"/><use href="#cB" x="362.9" y="426.9"/><use href="#cB" x="650.8" y="482.9"/><use href="#cB" x="657.6" y="504.5"/><use href="#cB" x="368.0" y="342.8"/><use href="#cB" x="436.5" y="291.0"/><use href="#cB" x="319.0" y="432.3"/><use href="#cC" x="430.7" y="416.0"/><use href="#cB" x="407.1" y="437.6"/><use href="#cB" x="451.2" y="441.8"/><use href="#cB" x="356.2" y="316.9"/><use href="#cB" x="287.2" y="390.7"/><use href="#cG" x="568.6" y="428.4"/><use href="#cB" x="394.5" y="450.0"/><use href="#cB" x="595.4" y="438.3"/><use href="#cB" x="495.9" y="438.7"/><use href="#cB" x="648.5" y="515.0"/><use href="#cB" x="407.3" y="315.9"/><use href="#cB" x="589.5" y="403.1"/><use href="#cB" x="369.4" y="430.8"/><use href="#cB" x="491.3" y="415.1"/><use href="#cB" x="652.9" y="507.5"/><use href="#cB" x="425.4" y="439.3"/><use href="#cB" x="397.6" y="293.2"/><use href="#cB" x="368.7" y="347.2"/><use href="#cC" x="438.6" y="430.9"/><use href="#cB" x="357.9" y="342.6"/><use href="#cB" x="395.4" y="310.8"/><use href="#cB" x="328.1" y="318.4"/><use href="#cC" x="634.3" y="441.1"/><use href="#cN" x="311.5" y="379.1"/><use href="#cC" x="569.0" y="403.9"/><use href="#cB" x="323.7" y="348.8"/><use href="#cB" x="398.2" y="291.5"/><use href="#cG" x="640.8" y="454.4"/><use href="#cB" x="589.7" y="438.1"/><use href="#cB" x="619.4" y="455.4"/><use href="#cC" x="535.1" y="414.9"/><use href="#cB" x="296.0" y="356.9"/><use href="#cC" x="629.6" y="441.0"/><use href="#cB" x="331.2" y="440.7"/><use href="#cB" x="618.9" y="447.4"/><use href="#cB" x="424.4" y="437.9"/><use href="#cB" x="306.8" y="443.4"/><use href="#cC" x="318.9" y="376.5"/><use href="#cC" x="386.2" y="308.8"/><use href="#cB" x="407.2" y="436.0"/><use href="#cB" x="548.8" y="405.5"/><use href="#cB" x="325.7" y="417.9"/><use href="#cB" x="288.7" y="400.0"/><use href="#cB" x="519.0" y="417.9"/><use href="#cB" x="327.5" y="417.2"/><use href="#cB" x="364.3" y="449.5"/><use href="#cB" x="565.6" y="416.5"/><use href="#cC" x="320.1" y="382.2"/><use href="#cC" x="590.2" y="404.4"/><use href="#cB" x="404.5" y="325.6"/><use href="#cB" x="295.2" y="335.7"/><use href="#cB" x="635.7" y="437.5"/><use href="#cC" x="324.7" y="374.8"/><use href="#cB" x="562.5" y="421.5"/><use href="#cB" x="616.0" y="446.5"/><use href="#cB" x="306.2" y="358.0"/><use href="#cB" x="296.4" y="391.7"/><use href="#cB" x="451.6" y="301.7"/><use href="#cB" x="592.8" y="442.8"/><use href="#cB" x="643.9" y="463.8"/><use href="#cC" x="375.4" y="453.2"/><use href="#cB" x="507.0" y="411.7"/><use href="#cB" x="641.3" y="443.1"/><use href="#cB" x="642.3" y="487.1"/><use href="#cB" x="442.6" y="320.4"/><use href="#cB" x="631.8" y="445.1"/><use href="#cB" x="342.6" y="434.4"/><use href="#cC" x="398.9" y="322.6"/><use href="#cB" x="477.0" y="414.3"/><use href="#cB" x="406.3" y="308.7"/><use href="#cB" x="441.0" y="316.3"/><use href="#cB" x="314.5" y="425.6"/><use href="#cB" x="601.2" y="446.1"/><use href="#cO" x="387.9" y="329.1"/><use href="#cB" x="509.4" y="415.8"/><use href="#cB" x="388.0" y="312.3"/><use href="#cB" x="665.6" y="500.6"/><use href="#cC" x="651.1" y="469.7"/><use href="#cB" x="629.4" y="443.6"/><use href="#cB" x="622.9" y="453.6"/><use href="#cB" x="371.8" y="431.5"/><use href="#cB" x="660.0" y="473.3"/><use href="#cB" x="600.3" y="425.7"/><use href="#cB" x="646.9" y="485.5"/><use href="#cB" x="379.1" y="341.5"/><use href="#cB" x="451.1" y="310.5"/><use href="#cB" x="458.1" y="293.1"/><use href="#cG" x="651.0" y="468.2"/><use href="#cB" x="550.8" y="420.0"/><use href="#cB" x="346.3" y="324.4"/><use href="#cB" x="307.8" y="342.4"/><use href="#cB" x="309.3" y="378.2"/><use href="#cC" x="657.8" y="472.0"/><use href="#cB" x="308.1" y="417.1"/><use href="#cC" x="382.5" y="296.9"/><use href="#cB" x="634.3" y="496.3"/><use href="#cB" x="628.8" y="477.1"/><use href="#cB" x="288.8" y="403.2"/><use href="#cG" x="643.0" y="415.1"/><use href="#cB" x="308.0" y="432.5"/><use href="#cB" x="637.2" y="534.2"/><use href="#cG" x="318.1" y="321.7"/><use href="#cO" x="362.0" y="420.0"/><use href="#cB" x="285.7" y="405.7"/><use href="#cB" x="302.4" y="439.7"/><use href="#cB" x="308.0" y="382.2"/><use href="#cC" x="267.3" y="383.9"/><use href="#cB" x="312.5" y="420.7"/><use href="#cC" x="546.4" y="397.6"/><use href="#cC" x="454.8" y="425.8"/><use href="#cC" x="474.3" y="398.4"/><use href="#cR" x="595.0" y="494.0"/><use href="#cG" x="449.0" y="294.4"/><use href="#cB" x="553.2" y="431.7"/><use href="#cO" x="380.6" y="284.6"/><use href="#cB" x="390.3" y="418.0"/><use href="#cN" x="632.3" y="468.8"/><use href="#cB" x="370.5" y="451.4"/><use href="#cC" x="327.0" y="451.4"/><use href="#cB" x="438.6" y="424.7"/><use href="#cB" x="320.3" y="428.0"/><use href="#cO" x="606.9" y="446.4"/><use href="#cO" x="493.9" y="396.2"/><use href="#cN" x="594.0" y="488.0"/><use href="#cB" x="406.0" y="343.0"/><use href="#cC" x="412.9" y="435.3"/><use href="#cB" x="367.2" y="414.6"/><use href="#cC" x="421.0" y="355.0"/><use href="#cC" x="299.1" y="387.3"/><use href="#cG" x="300.7" y="455.4"/><use href="#cB" x="442.5" y="432.5"/><use href="#cB" x="602.0" y="464.0"/><use href="#cC" x="353.8" y="449.2"/><use href="#cB" x="450.9" y="438.0"/><use href="#cB" x="363.8" y="444.2"/><use href="#cG" x="426.9" y="410.1"/><use href="#cB" x="253.0" y="493.7"/><use href="#cC" x="436.9" y="409.6"/><use href="#cY" x="495.0" y="390.6"/><use href="#cB" x="308.0" y="426.3"/><use href="#cR" x="647.9" y="536.2"/><use href="#cC" x="643.0" y="479.6"/><use href="#cB" x="664.5" y="483.5"/><use href="#cC" x="388.4" y="309.1"/><use href="#cY" x="519.0" y="444.0"/><use href="#cG" x="323.0" y="318.8"/><use href="#cB" x="495.0" y="450.0"/><use href="#cG" x="369.9" y="376.4"/><use href="#cC" x="424.1" y="415.7"/><use href="#cN" x="671.7" y="487.4"/><use href="#cB" x="358.8" y="430.8"/><use href="#cY" x="666.4" y="458.1"/><use href="#cB" x="470.4" y="431.9"/><use href="#cO" x="430.4" y="312.0"/><use href="#cG" x="298.6" y="327.6"/><use href="#cC" x="507.3" y="398.5"/><use href="#cY" x="671.3" y="467.3"/><use href="#cB" x="368.8" y="427.4"/><use href="#cB" x="574.7" y="442.5"/><use href="#cY" x="338.1" y="439.7"/><use href="#cC" x="472.1" y="438.0"/><use href="#cG" x="454.8" y="295.4"/><use href="#cN" x="388.4" y="438.6"/><use href="#cB" x="485.5" y="430.2"/><use href="#cB" x="361.0" y="453.7"/><use href="#cB" x="466.5" y="414.0"/><use href="#cR" x="556.0" y="486.0"/><use href="#cB" x="343.2" y="426.9"/><use href="#cR" x="546.4" y="425.9"/><use href="#cG" x="374.7" y="375.5"/><use href="#cC" x="482.1" y="418.5"/><use href="#cB" x="383.4" y="426.3"/><use href="#cB" x="483.3" y="407.3"/><use href="#cG" x="383.5" y="283.7"/><use href="#cC" x="300.7" y="395.6"/><use href="#cC" x="459.3" y="412.9"/><use href="#cB" x="419.0" y="351.0"/><use href="#cY" x="630.3" y="536.2"/><use href="#cO" x="551.3" y="412.2"/><use href="#cR" x="373.4" y="286.0"/><use href="#cB" x="654.7" y="448.3"/><use href="#cY" x="258.9" y="416.8"/><use href="#cY" x="549.0" y="480.0"/><use href="#cB" x="386.1" y="454.8"/><use href="#cB" x="594.2" y="399.5"/><use href="#cB" x="392.3" y="448.1"/><use href="#cB" x="492.2" y="406.8"/><use href="#cB" x="480.5" y="442.0"/><use href="#cC" x="628.4" y="479.6"/><use href="#cB" x="585.0" y="458.0"/><use href="#cB" x="313.6" y="403.4"/><use href="#cG" x="570.8" y="399.5"/><use href="#cB" x="309.7" y="446.4"/><use href="#cY" x="598.0" y="468.0"/><use href="#cO" x="400.0" y="352.0"/><use href="#cB" x="579.0" y="497.0"/><use href="#cB" x="372.7" y="457.6"/><use href="#cB" x="477.7" y="413.5"/><use href="#cG" x="417.4" y="413.5"/><use href="#cY" x="414.8" y="287.6"/><use href="#cC" x="354.9" y="418.5"/><use href="#cN" x="404.0" y="351.0"/><use href="#cB" x="329.8" y="413.5"/><use href="#cB" x="291.8" y="423.5"/><use href="#cC" x="457.6" y="421.3"/><use href="#cG" x="318.0" y="462.0"/><use href="#cO" x="656.7" y="460.0"/><use href="#cC" x="631.3" y="509.8"/><use href="#cG" x="488.8" y="424.1"/><use href="#cB" x="315.3" y="383.3"/><use href="#cB" x="289.0" y="397.3"/><use href="#cG" x="382.8" y="449.8"/><use href="#cB" x="349.3" y="402.3"/><use href="#cN" x="388.4" y="381.1"/><use href="#cR" x="648.9" y="487.4"/><use href="#cG" x="673.3" y="505.9"/><use href="#cY" x="310.2" y="459.8"/><use href="#cY" x="427.5" y="319.8"/><use href="#cB" x="339.5" y="407.3"/><use href="#cG" x="555.2" y="399.5"/><use href="#cN" x="521.0" y="439.0"/><use href="#cN" x="340.6" y="337.4"/><use href="#cB" x="332.0" y="425.2"/><use href="#cB" x="339.3" y="413.5"/><use href="#cB" x="342.6" y="434.7"/><use href="#cC" x="268.4" y="408.5"/><use href="#cB" x="433.0" y="424.7"/><use href="#cB" x="658.6" y="519.6"/><use href="#cO" x="316.9" y="468.2"/><use href="#cG" x="563.0" y="397.6"/><use href="#cC" x="661.5" y="468.8"/><use href="#cC" x="358.0" y="416.0"/><use href="#cG" x="533.7" y="426.8"/><use href="#cR" x="354.3" y="436.9"/><use href="#cC" x="299.1" y="448.1"/><use href="#cC" x="319.7" y="435.3"/><use href="#cN" x="504.4" y="414.2"/><use href="#cC" x="604.0" y="415.1"/><use href="#cN" x="382.2" y="442.0"/><use href="#cY" x="625.4" y="463.0"/><use href="#cY" x="634.2" y="412.2"/><use href="#cB" x="474.3" y="407.9"/><use href="#cC" x="604.0" y="405.4"/><use href="#cB" x="471.5" y="420.7"/><use href="#cO" x="361.0" y="423.5"/><use href="#cB" x="402.3" y="443.6"/><use href="#cR" x="627.4" y="530.3"/><use href="#cB" x="322.5" y="416.3"/><use href="#cB" x="493.3" y="438.0"/><use href="#cG" x="398.2" y="306.1"/><use href="#cG" x="490.0" y="384.5"/><use href="#cB" x="421.3" y="433.6"/><use href="#cO" x="380.6" y="360.8"/><use href="#cB" x="332.6" y="446.4"/><use href="#cC" x="572.7" y="438.6"/><use href="#cG" x="327.9" y="327.6"/><use href="#cC" x="319.7" y="449.2"/><use href="#cG" x="634.2" y="459.1"/><use href="#cC" x="293.7" y="359.8"/><use href="#cB" x="354.9" y="462.0"/><use href="#cR" x="423.6" y="309.1"/><use href="#cY" x="407.9" y="288.6"/><use href="#cG" x="261.7" y="409.0"/><use href="#cC" x="348.2" y="439.2"/><use href="#cG" x="396.2" y="429.7"/><use href="#cC" x="365.0" y="284.6"/><use href="#cR" x="633.2" y="406.4"/><use href="#cB" x="326.4" y="399.5"/><use href="#cC" x="611.8" y="426.8"/><use href="#cY" x="285.9" y="349.1"/><use href="#cR" x="497.8" y="436.9"/><use href="#cB" x="373.9" y="444.2"/><use href="#cB" x="342.6" y="449.2"/><use href="#cY" x="581.0" y="496.0"/><use href="#cB" x="379.6" y="365.7"/><use href="#cB" x="303.5" y="413.5"/><use href="#cB" x="457.6" y="432.5"/><use href="#cB" x="363.0" y="367.6"/><use href="#cN" x="635.2" y="427.8"/><use href="#cG" x="673.3" y="511.8"/><use href="#cB" x="369.9" y="299.3"/><use href="#cG" x="483.8" y="392.8"/><use href="#cB" x="298.0" y="429.1"/><use href="#cC" x="637.2" y="529.3"/><use href="#cC" x="286.9" y="344.2"/><use href="#cB" x="492.2" y="415.7"/><use href="#cB" x="408.9" y="329.6"/><use href="#cR" x="560.0" y="490.0"/><use href="#cY" x="324.2" y="462.0"/><use href="#cY" x="292.4" y="436.4"/><use href="#cN" x="388.4" y="380.3"/><use href="#cB" x="442.0" y="440.8"/><use href="#cB" x="329.2" y="432.5"/><use href="#cC" x="291.8" y="443.6"/><use href="#cB" x="429.1" y="430.8"/><use href="#cY" x="381.6" y="333.5"/><use href="#cB" x="286.8" y="387.8"/><use href="#cN" x="380.6" y="348.1"/><use href="#cY" x="385.5" y="325.7"/><use href="#cC" x="366.9" y="285.2"/><use href="#cR" x="592.0" y="497.0"/><use href="#cB" x="375.5" y="434.7"/><use href="#cB" x="487.7" y="450.9"/><use href="#cG" x="381.1" y="460.4"/><use href="#cB" x="401.2" y="434.7"/><use href="#cO" x="294.0" y="406.2"/><use href="#cY" x="581.0" y="461.0"/><use href="#cY" x="660.6" y="458.1"/><use href="#p" x="406.0" y="345.2"/><use href="#p" x="405.0" y="350.6"/><use href="#p" x="419.3" y="352.8"/><use href="#p" x="360.7" y="417.4"/><use href="#p" x="497.2" y="448.3"/><use href="#p" x="521.2" y="441.1"/><use href="#p" x="583.9" y="459.4"/><use href="#p" x="600.8" y="466.3"/><use href="#p" x="549.3" y="480.5"/><use href="#p" x="553.0" y="484.0"/><use href="#p" x="557.0" y="487.5"/><use href="#p" x="561.0" y="490.9"/><use href="#p" x="582.1" y="494.2"/><use href="#p" x="582.1" y="498.7"/><use href="#p" x="594.2" y="489.7"/><use href="#p" x="594.2" y="495.2"/>
</g>
<g id="axes" fill="none" stroke-linecap="butt">
<path d="M56 0.9H782.3M56 259.6H1024.6M56 776.4H1024.6M56 0.9V776.4M782.3 0.9V776.4M1024.6 259.6V776.4" stroke="#000" stroke-width="1.8" stroke-linecap="square"/>
<path d="M76.2 776.4v-3.6M76.2 256v7.2M76.2 0.9v3.6M96.3 776.4v-7.3M96.3 252.3v14.6M96.3 0.9v7.3M116.5 776.4v-3.6M116.5 256v7.2M116.5 0.9v3.6M136.7 776.4v-3.6M136.7 256v7.2M136.7 0.9v3.6M156.9 776.4v-3.6M156.9 256v7.2M156.9 0.9v3.6M177.1 776.4v-7.3M177.1 252.3v14.6M177.1 0.9v7.3M197.2 776.4v-3.6M197.2 256v7.2M197.2 0.9v3.6M217.4 776.4v-3.6M217.4 256v7.2M217.4 0.9v3.6M237.6 776.4v-3.6M237.6 256v7.2M237.6 0.9v3.6M257.8 776.4v-7.3M257.8 252.3v14.6M257.8 0.9v7.3M277.9 776.4v-3.6M277.9 256v7.2M277.9 0.9v3.6M298.1 776.4v-3.6M298.1 256v7.2M298.1 0.9v3.6M318.3 776.4v-3.6M318.3 256v7.2M318.3 0.9v3.6M338.4 776.4v-7.3M338.4 252.3v14.6M338.4 0.9v7.3M358.6 776.4v-3.6M358.6 256v7.2M358.6 0.9v3.6M378.8 776.4v-3.6M378.8 256v7.2M378.8 0.9v3.6M399 776.4v-3.6M399 256v7.2M399 0.9v3.6M419.1 776.4v-7.3M419.1 252.3v14.6M419.1 0.9v7.3M439.3 776.4v-3.6M439.3 256v7.2M439.3 0.9v3.6M459.5 776.4v-3.6M459.5 256v7.2M459.5 0.9v3.6M479.7 776.4v-3.6M479.7 256v7.2M479.7 0.9v3.6M499.9 776.4v-7.3M499.9 252.3v14.6M499.9 0.9v7.3M520 776.4v-3.6M520 256v7.2M520 0.9v3.6M540.2 776.4v-3.6M540.2 256v7.2M540.2 0.9v3.6M560.4 776.4v-3.6M560.4 256v7.2M560.4 0.9v3.6M580.5 776.4v-7.3M580.5 252.3v14.6M580.5 0.9v7.3M600.7 776.4v-3.6M600.7 256v7.2M600.7 0.9v3.6M620.9 776.4v-3.6M620.9 256v7.2M620.9 0.9v3.6M641.1 776.4v-3.6M641.1 256v7.2M641.1 0.9v3.6M661.2 776.4v-7.3M661.2 252.3v14.6M661.2 0.9v7.3M681.4 776.4v-3.6M681.4 256v7.2M681.4 0.9v3.6M701.6 776.4v-3.6M701.6 256v7.2M701.6 0.9v3.6M721.8 776.4v-3.6M721.8 256v7.2M721.8 0.9v3.6M741.9 776.4v-7.3M741.9 252.3v14.6M741.9 0.9v7.3M762.1 776.4v-3.6M762.1 256v7.2M762.1 0.9v3.6M56 762h3.6M778.7 762h7.2M1024.6 762h-3.6M56 747.7h7.3M775 747.7h14.6M1024.6 747.7h-7.3M56 733.3h3.6M778.7 733.3h7.2M1024.6 733.3h-3.6M56 719h3.6M778.7 719h7.2M1024.6 719h-3.6M56 704.6h3.6M778.7 704.6h7.2M1024.6 704.6h-3.6M56 690.3h7.3M775 690.3h14.6M1024.6 690.3h-7.3M56 675.9h3.6M778.7 675.9h7.2M1024.6 675.9h-3.6M56 661.6h3.6M778.7 661.6h7.2M1024.6 661.6h-3.6M56 647.2h3.6M778.7 647.2h7.2M1024.6 647.2h-3.6M56 632.8h7.3M775 632.8h14.6M1024.6 632.8h-7.3M56 618.5h3.6M778.7 618.5h7.2M1024.6 618.5h-3.6M56 604.1h3.6M778.7 604.1h7.2M1024.6 604.1h-3.6M56 589.8h3.6M778.7 589.8h7.2M1024.6 589.8h-3.6M56 575.4h7.3M775 575.4h14.6M1024.6 575.4h-7.3M56 561.1h3.6M778.7 561.1h7.2M1024.6 561.1h-3.6M56 546.7h3.6M778.7 546.7h7.2M1024.6 546.7h-3.6M56 532.4h3.6M778.7 532.4h7.2M1024.6 532.4h-3.6M56 518h7.3M775 518h14.6M1024.6 518h-7.3M56 503.6h3.6M778.7 503.6h7.2M1024.6 503.6h-3.6M56 489.3h3.6M778.7 489.3h7.2M1024.6 489.3h-3.6M56 474.9h3.6M778.7 474.9h7.2M1024.6 474.9h-3.6M56 460.6h7.3M775 460.6h14.6M1024.6 460.6h-7.3M56 446.2h3.6M778.7 446.2h7.2M1024.6 446.2h-3.6M56 431.9h3.6M778.7 431.9h7.2M1024.6 431.9h-3.6M56 417.5h3.6M778.7 417.5h7.2M1024.6 417.5h-3.6M56 403.2h7.3M775 403.2h14.6M1024.6 403.2h-7.3M56 388.8h3.6M778.7 388.8h7.2M1024.6 388.8h-3.6M56 374.4h3.6M778.7 374.4h7.2M1024.6 374.4h-3.6M56 360.1h3.6M778.7 360.1h7.2M1024.6 360.1h-3.6M56 345.7h7.3M775 345.7h14.6M1024.6 345.7h-7.3M56 331.4h3.6M778.7 331.4h7.2M1024.6 331.4h-3.6M56 317h3.6M778.7 317h7.2M1024.6 317h-3.6M56 302.7h3.6M778.7 302.7h7.2M1024.6 302.7h-3.6M56 288.3h7.3M775 288.3h14.6M1024.6 288.3h-7.3M56 274h3.6M778.7 274h7.2M1024.6 274h-3.6M56 250.3h3.6M782.3 250.3h-3.6M56 242.5h3.6M782.3 242.5h-3.6M56 236.1h3.6M782.3 236.1h-3.6M56 230.7h3.6M782.3 230.7h-3.6M56 226h3.6M782.3 226h-3.6M56 221.9h3.6M782.3 221.9h-3.6M56 218.2h7.3M782.3 218.2h-7.3M56 193.9h3.6M782.3 193.9h-3.6M56 179.8h3.6M782.3 179.8h-3.6M56 169.7h3.6M782.3 169.7h-3.6M56 161.9h3.6M782.3 161.9h-3.6M56 155.5h3.6M782.3 155.5h-3.6M56 150.1h3.6M782.3 150.1h-3.6M56 145.4h3.6M782.3 145.4h-3.6M56 141.3h3.6M782.3 141.3h-3.6M56 137.6h7.3M782.3 137.6h-7.3M56 113.4h3.6M782.3 113.4h-3.6M56 99.2h3.6M782.3 99.2h-3.6M56 89.1h3.6M782.3 89.1h-3.6M56 81.3h3.6M782.3 81.3h-3.6M56 74.9h3.6M782.3 74.9h-3.6M56 69.5h3.6M782.3 69.5h-3.6M56 64.9h3.6M782.3 64.9h-3.6M56 60.7h3.6M782.3 60.7h-3.6M56 57.1h7.3M782.3 57.1h-7.3M56 32.8h3.6M782.3 32.8h-3.6M56 18.6h3.6M782.3 18.6h-3.6M56 8.6h3.6M782.3 8.6h-3.6M56 0.7h3.6M782.3 0.7h-3.6M875.4 776.4v-7.3M875.4 259.6v7.3" stroke="#000" stroke-width="1.5"/>
</g>
<g id="tophist" shape-rendering="crispEdges">
<rect x="156.88" y="217.63" width="20.32" height="41.42" fill="#808080"/>
<rect x="177.05" y="90.80" width="20.32" height="168.25" fill="#808080"/>
<rect x="197.22" y="54.19" width="20.32" height="204.86" fill="#808080"/>
<rect x="217.40" y="49.21" width="20.32" height="209.84" fill="#808080"/>
<rect x="237.57" y="217.63" width="20.32" height="41.42" fill="#8cff78"/>
<rect x="237.57" y="179.55" width="20.32" height="38.08" fill="#1470ff"/>
<rect x="237.57" y="161.39" width="20.32" height="18.16" fill="#ff6e0f"/>
<rect x="237.57" y="63.27" width="20.32" height="98.13" fill="#808080"/>
<rect x="257.75" y="217.63" width="20.32" height="41.42" fill="#1470ff"/>
<rect x="257.75" y="193.32" width="20.32" height="24.31" fill="#8cff78"/>
<rect x="257.75" y="179.55" width="20.32" height="13.77" fill="#ff6e0f"/>
<rect x="257.75" y="155.24" width="20.32" height="24.31" fill="#ffeb14"/>
<rect x="257.75" y="130.93" width="20.32" height="24.31" fill="#1ef5e6"/>
<rect x="257.75" y="103.98" width="20.32" height="26.95" fill="#808080"/>
<rect x="277.93" y="217.63" width="20.32" height="41.42" fill="#9b1212"/>
<rect x="277.93" y="179.55" width="20.32" height="38.08" fill="#14148f"/>
<rect x="277.93" y="145.58" width="20.32" height="33.98" fill="#ff6e0f"/>
<rect x="277.93" y="123.61" width="20.32" height="21.97" fill="#8cff78"/>
<rect x="277.93" y="109.84" width="20.32" height="13.77" fill="#ffeb14"/>
<rect x="277.93" y="90.22" width="20.32" height="19.63" fill="#1ef5e6"/>
<rect x="277.93" y="56.82" width="20.32" height="33.39" fill="#1470ff"/>
<rect x="298.10" y="193.32" width="20.32" height="65.73" fill="#14148f"/>
<rect x="298.10" y="161.39" width="20.32" height="31.93" fill="#ff6e0f"/>
<rect x="298.10" y="137.67" width="20.32" height="23.73" fill="#ffeb14"/>
<rect x="298.10" y="118.63" width="20.32" height="19.04" fill="#8cff78"/>
<rect x="298.10" y="94.90" width="20.32" height="23.73" fill="#808080"/>
<rect x="298.10" y="73.81" width="20.32" height="21.09" fill="#1ef5e6"/>
<rect x="298.10" y="37.49" width="20.32" height="36.32" fill="#1470ff"/>
<rect x="318.27" y="217.63" width="20.32" height="41.42" fill="#14148f"/>
<rect x="318.27" y="149.38" width="20.32" height="68.25" fill="#ffeb14"/>
<rect x="318.27" y="120.97" width="20.32" height="28.41" fill="#8cff78"/>
<rect x="318.27" y="95.78" width="20.32" height="25.19" fill="#1ef5e6"/>
<rect x="318.27" y="57.70" width="20.32" height="38.08" fill="#808080"/>
<rect x="318.27" y="37.49" width="20.32" height="20.21" fill="#1470ff"/>
<rect x="338.45" y="193.32" width="20.32" height="65.73" fill="#14148f"/>
<rect x="338.45" y="169.30" width="20.32" height="24.02" fill="#ff6e0f"/>
<rect x="338.45" y="150.26" width="20.32" height="19.04" fill="#9b1212"/>
<rect x="338.45" y="130.93" width="20.32" height="19.33" fill="#8cff78"/>
<rect x="338.45" y="117.16" width="20.32" height="13.77" fill="#ffeb14"/>
<rect x="338.45" y="95.20" width="20.32" height="21.97" fill="#1ef5e6"/>
<rect x="338.45" y="57.70" width="20.32" height="37.49" fill="#1470ff"/>
<rect x="338.45" y="30.76" width="20.32" height="26.95" fill="#808080"/>
<rect x="358.62" y="217.63" width="20.32" height="41.42" fill="#000000"/>
<rect x="358.62" y="169.30" width="20.32" height="48.33" fill="#9b1212"/>
<rect x="358.62" y="140.60" width="20.32" height="28.71" fill="#ffeb14"/>
<rect x="358.62" y="123.61" width="20.32" height="16.99" fill="#14148f"/>
<rect x="358.62" y="111.89" width="20.32" height="11.72" fill="#ff6e0f"/>
<rect x="358.62" y="99.00" width="20.32" height="12.89" fill="#1ef5e6"/>
<rect x="358.62" y="85.82" width="20.32" height="13.18" fill="#8cff78"/>
<rect x="358.62" y="48.33" width="20.32" height="37.49" fill="#1470ff"/>
<rect x="358.62" y="24.02" width="20.32" height="24.31" fill="#808080"/>
<rect x="378.80" y="169.30" width="20.32" height="89.75" fill="#14148f"/>
<rect x="378.80" y="134.15" width="20.32" height="35.15" fill="#ffeb14"/>
<rect x="378.80" y="114.24" width="20.32" height="19.92" fill="#ff6e0f"/>
<rect x="378.80" y="100.47" width="20.32" height="13.77" fill="#8cff78"/>
<rect x="378.80" y="81.43" width="20.32" height="19.04" fill="#1ef5e6"/>
<rect x="378.80" y="46.87" width="20.32" height="34.56" fill="#1470ff"/>
<rect x="378.80" y="16.11" width="20.32" height="30.76" fill="#808080"/>
<rect x="398.97" y="193.32" width="20.32" height="65.73" fill="#000000"/>
<rect x="398.97" y="161.39" width="20.32" height="31.93" fill="#14148f"/>
<rect x="398.97" y="145.58" width="20.32" height="15.82" fill="#9b1212"/>
<rect x="398.97" y="123.61" width="20.32" height="21.97" fill="#8cff78"/>
<rect x="398.97" y="109.84" width="20.32" height="13.77" fill="#ff6e0f"/>
<rect x="398.97" y="98.13" width="20.32" height="11.72" fill="#1ef5e6"/>
<rect x="398.97" y="86.99" width="20.32" height="11.13" fill="#ffeb14"/>
<rect x="398.97" y="62.10" width="20.32" height="24.90" fill="#1470ff"/>
<rect x="398.97" y="21.09" width="20.32" height="41.01" fill="#808080"/>
<rect x="419.15" y="217.63" width="20.32" height="41.42" fill="#000000"/>
<rect x="419.15" y="169.30" width="20.32" height="48.33" fill="#14148f"/>
<rect x="419.15" y="150.26" width="20.32" height="19.04" fill="#9b1212"/>
<rect x="419.15" y="134.15" width="20.32" height="16.11" fill="#ff6e0f"/>
<rect x="419.15" y="120.97" width="20.32" height="13.18" fill="#ffeb14"/>
<rect x="419.15" y="106.91" width="20.32" height="14.06" fill="#8cff78"/>
<rect x="419.15" y="94.32" width="20.32" height="12.60" fill="#1ef5e6"/>
<rect x="419.15" y="64.44" width="20.32" height="29.88" fill="#1470ff"/>
<rect x="419.15" y="19.92" width="20.32" height="44.52" fill="#808080"/>
<rect x="439.32" y="193.32" width="20.32" height="65.73" fill="#ff6e0f"/>
<rect x="439.32" y="161.39" width="20.32" height="31.93" fill="#9b1212"/>
<rect x="439.32" y="137.67" width="20.32" height="23.73" fill="#ffeb14"/>
<rect x="439.32" y="114.82" width="20.32" height="22.85" fill="#8cff78"/>
<rect x="439.32" y="96.66" width="20.32" height="18.16" fill="#1ef5e6"/>
<rect x="439.32" y="66.78" width="20.32" height="29.88" fill="#1470ff"/>
<rect x="439.32" y="24.31" width="20.32" height="42.47" fill="#808080"/>
<rect x="459.50" y="217.63" width="20.32" height="41.42" fill="#9b1212"/>
<rect x="459.50" y="179.55" width="20.32" height="38.08" fill="#ffeb14"/>
<rect x="459.50" y="161.39" width="20.32" height="18.16" fill="#ff6e0f"/>
<rect x="459.50" y="130.93" width="20.32" height="30.46" fill="#8cff78"/>
<rect x="459.50" y="111.31" width="20.32" height="19.63" fill="#1ef5e6"/>
<rect x="459.50" y="76.74" width="20.32" height="34.56" fill="#1470ff"/>
<rect x="459.50" y="28.71" width="20.32" height="48.04" fill="#808080"/>
<rect x="479.68" y="217.63" width="20.32" height="41.42" fill="#ff6e0f"/>
<rect x="479.68" y="193.32" width="20.32" height="24.31" fill="#000000"/>
<rect x="479.68" y="169.30" width="20.32" height="24.02" fill="#14148f"/>
<rect x="479.68" y="155.24" width="20.32" height="14.06" fill="#9b1212"/>
<rect x="479.68" y="130.93" width="20.32" height="24.31" fill="#8cff78"/>
<rect x="479.68" y="115.11" width="20.32" height="15.82" fill="#1ef5e6"/>
<rect x="479.68" y="98.13" width="20.32" height="16.99" fill="#ffeb14"/>
<rect x="479.68" y="70.30" width="20.32" height="27.83" fill="#1470ff"/>
<rect x="479.68" y="29.58" width="20.32" height="40.71" fill="#808080"/>
<rect x="499.85" y="193.32" width="20.32" height="65.73" fill="#8cff78"/>
<rect x="499.85" y="169.30" width="20.32" height="24.02" fill="#9b1212"/>
<rect x="499.85" y="150.26" width="20.32" height="19.04" fill="#14148f"/>
<rect x="499.85" y="137.67" width="20.32" height="12.60" fill="#ff6e0f"/>
<rect x="499.85" y="125.95" width="20.32" height="11.72" fill="#ffeb14"/>
<rect x="499.85" y="105.45" width="20.32" height="20.50" fill="#1ef5e6"/>
<rect x="499.85" y="68.83" width="20.32" height="36.61" fill="#1470ff"/>
<rect x="499.85" y="37.49" width="20.32" height="31.34" fill="#808080"/>
<rect x="520.02" y="217.63" width="20.32" height="41.42" fill="#000000"/>
<rect x="520.02" y="179.55" width="20.32" height="38.08" fill="#ff6e0f"/>
<rect x="520.02" y="161.39" width="20.32" height="18.16" fill="#9b1212"/>
<rect x="520.02" y="145.58" width="20.32" height="15.82" fill="#14148f"/>
<rect x="520.02" y="128.00" width="20.32" height="17.57" fill="#ffeb14"/>
<rect x="520.02" y="111.31" width="20.32" height="16.70" fill="#8cff78"/>
<rect x="520.02" y="99.00" width="20.32" height="12.30" fill="#1ef5e6"/>
<rect x="520.02" y="75.57" width="20.32" height="23.43" fill="#1470ff"/>
<rect x="520.02" y="48.92" width="20.32" height="26.65" fill="#808080"/>
<rect x="540.20" y="169.30" width="20.32" height="89.75" fill="#9b1212"/>
<rect x="540.20" y="141.48" width="20.32" height="27.83" fill="#8cff78"/>
<rect x="540.20" y="125.95" width="20.32" height="15.52" fill="#ff6e0f"/>
<rect x="540.20" y="113.65" width="20.32" height="12.30" fill="#000000"/>
<rect x="540.20" y="101.64" width="20.32" height="12.01" fill="#ffeb14"/>
<rect x="540.20" y="89.34" width="20.32" height="12.30" fill="#1ef5e6"/>
<rect x="540.20" y="71.18" width="20.32" height="18.16" fill="#808080"/>
<rect x="540.20" y="52.72" width="20.32" height="18.45" fill="#1470ff"/>
<rect x="560.38" y="217.63" width="20.32" height="41.42" fill="#ffeb14"/>
<rect x="560.38" y="193.32" width="20.32" height="24.31" fill="#000000"/>
<rect x="560.38" y="161.39" width="20.32" height="31.93" fill="#8cff78"/>
<rect x="560.38" y="128.00" width="20.32" height="33.39" fill="#1ef5e6"/>
<rect x="560.38" y="102.52" width="20.32" height="25.48" fill="#1470ff"/>
<rect x="580.55" y="217.63" width="20.32" height="41.42" fill="#ff6e0f"/>
<rect x="580.55" y="179.55" width="20.32" height="38.08" fill="#9b1212"/>
<rect x="580.55" y="155.24" width="20.32" height="24.31" fill="#14148f"/>
<rect x="580.55" y="141.48" width="20.32" height="13.77" fill="#8cff78"/>
<rect x="580.55" y="123.61" width="20.32" height="17.87" fill="#ffeb14"/>
<rect x="580.55" y="109.84" width="20.32" height="13.77" fill="#1ef5e6"/>
<rect x="580.55" y="98.13" width="20.32" height="11.72" fill="#000000"/>
<rect x="580.55" y="65.91" width="20.32" height="32.22" fill="#1470ff"/>
<rect x="600.73" y="217.63" width="20.32" height="41.42" fill="#14148f"/>
<rect x="600.73" y="193.32" width="20.32" height="24.31" fill="#ffeb14"/>
<rect x="600.73" y="179.55" width="20.32" height="13.77" fill="#ff6e0f"/>
<rect x="600.73" y="169.30" width="20.32" height="10.25" fill="#9b1212"/>
<rect x="600.73" y="161.39" width="20.32" height="7.91" fill="#000000"/>
<rect x="600.73" y="145.58" width="20.32" height="15.82" fill="#8cff78"/>
<rect x="600.73" y="118.63" width="20.32" height="26.95" fill="#1ef5e6"/>
<rect x="600.73" y="77.33" width="20.32" height="41.30" fill="#1470ff"/>
<rect x="620.90" y="179.55" width="20.32" height="79.50" fill="#ff6e0f"/>
<rect x="620.90" y="145.58" width="20.32" height="33.98" fill="#14148f"/>
<rect x="620.90" y="123.61" width="20.32" height="21.97" fill="#8cff78"/>
<rect x="620.90" y="108.96" width="20.32" height="14.65" fill="#9b1212"/>
<rect x="620.90" y="95.20" width="20.32" height="13.77" fill="#ffeb14"/>
<rect x="620.90" y="78.50" width="20.32" height="16.70" fill="#1ef5e6"/>
<rect x="620.90" y="52.14" width="20.32" height="26.36" fill="#1470ff"/>
<rect x="641.08" y="217.63" width="20.32" height="41.42" fill="#14148f"/>
<rect x="641.08" y="179.55" width="20.32" height="38.08" fill="#9b1212"/>
<rect x="641.08" y="145.58" width="20.32" height="33.98" fill="#8cff78"/>
<rect x="641.08" y="120.97" width="20.32" height="24.60" fill="#ff6e0f"/>
<rect x="641.08" y="105.45" width="20.32" height="15.52" fill="#ffeb14"/>
<rect x="641.08" y="84.94" width="20.32" height="20.50" fill="#1ef5e6"/>
<rect x="641.08" y="50.38" width="20.32" height="34.56" fill="#1470ff"/>
<rect x="661.25" y="217.63" width="20.32" height="41.42" fill="#ff6e0f"/>
<rect x="661.25" y="193.32" width="20.32" height="24.31" fill="#9b1212"/>
<rect x="661.25" y="161.39" width="20.32" height="31.93" fill="#14148f"/>
<rect x="661.25" y="145.58" width="20.32" height="15.82" fill="#8cff78"/>
<rect x="661.25" y="130.93" width="20.32" height="14.65" fill="#ffeb14"/>
<rect x="661.25" y="117.16" width="20.32" height="13.77" fill="#1470ff"/>
<rect x="661.25" y="102.52" width="20.32" height="14.65" fill="#1ef5e6"/>
</g>
<g id="righthist" shape-rendering="crispEdges">
<rect x="781.70" y="273.96" width="51.42" height="14.51" fill="#1ef5e6"/>
<rect x="833.12" y="273.96" width="24.22" height="14.51" fill="#ff6e0f"/>
<rect x="857.33" y="273.96" width="18.10" height="14.51" fill="#8cff78"/>
<rect x="875.43" y="273.96" width="11.73" height="14.51" fill="#9b1212"/>
<rect x="887.16" y="273.96" width="10.96" height="14.51" fill="#ffeb14"/>
<rect x="781.70" y="288.31" width="13.18" height="14.51" fill="#14148f"/>
<rect x="794.88" y="288.31" width="24.22" height="14.51" fill="#9b1212"/>
<rect x="819.10" y="288.31" width="32.12" height="14.51" fill="#ff6e0f"/>
<rect x="851.22" y="288.31" width="27.53" height="14.51" fill="#8cff78"/>
<rect x="878.75" y="288.31" width="15.29" height="14.51" fill="#ffeb14"/>
<rect x="894.04" y="288.31" width="23.20" height="14.51" fill="#1ef5e6"/>
<rect x="917.24" y="288.31" width="17.08" height="14.51" fill="#1470ff"/>
<rect x="781.70" y="302.67" width="37.40" height="14.51" fill="#14148f"/>
<rect x="819.10" y="302.67" width="24.22" height="14.51" fill="#ff6e0f"/>
<rect x="843.32" y="302.67" width="19.63" height="14.51" fill="#ffeb14"/>
<rect x="862.94" y="302.67" width="12.49" height="14.51" fill="#9b1212"/>
<rect x="875.43" y="302.67" width="16.31" height="14.51" fill="#8cff78"/>
<rect x="891.75" y="302.67" width="20.14" height="14.51" fill="#1ef5e6"/>
<rect x="911.89" y="302.67" width="44.35" height="14.51" fill="#1470ff"/>
<rect x="781.70" y="317.02" width="37.40" height="14.51" fill="#ff6e0f"/>
<rect x="819.10" y="317.02" width="43.84" height="14.51" fill="#14148f"/>
<rect x="862.94" y="317.02" width="18.86" height="14.51" fill="#ffeb14"/>
<rect x="881.81" y="317.02" width="19.88" height="14.51" fill="#8cff78"/>
<rect x="901.69" y="317.02" width="14.53" height="14.51" fill="#1ef5e6"/>
<rect x="916.22" y="317.02" width="33.90" height="14.51" fill="#1470ff"/>
<rect x="781.70" y="331.38" width="37.40" height="14.51" fill="#14148f"/>
<rect x="819.10" y="331.38" width="24.22" height="14.51" fill="#ff6e0f"/>
<rect x="843.32" y="331.38" width="24.22" height="14.51" fill="#ffeb14"/>
<rect x="867.53" y="331.38" width="26.51" height="14.51" fill="#8cff78"/>
<rect x="894.04" y="331.38" width="20.14" height="14.51" fill="#1ef5e6"/>
<rect x="914.18" y="331.38" width="35.94" height="14.51" fill="#1470ff"/>
<rect x="781.70" y="345.73" width="13.18" height="14.51" fill="#8cff78"/>
<rect x="794.88" y="345.73" width="24.22" height="14.51" fill="#9b1212"/>
<rect x="819.10" y="345.73" width="32.12" height="14.51" fill="#14148f"/>
<rect x="851.22" y="345.73" width="16.31" height="14.51" fill="#ffeb14"/>
<rect x="867.53" y="345.73" width="11.22" height="14.51" fill="#ff6e0f"/>
<rect x="878.75" y="345.73" width="8.41" height="14.51" fill="#000000"/>
<rect x="887.16" y="345.73" width="20.65" height="14.51" fill="#1ef5e6"/>
<rect x="907.81" y="345.73" width="43.59" height="14.51" fill="#1470ff"/>
<rect x="781.70" y="360.09" width="13.18" height="14.51" fill="#ffeb14"/>
<rect x="794.88" y="360.09" width="38.24" height="14.51" fill="#14148f"/>
<rect x="833.12" y="360.09" width="18.10" height="14.51" fill="#ff6e0f"/>
<rect x="851.22" y="360.09" width="20.39" height="14.51" fill="#8cff78"/>
<rect x="871.61" y="360.09" width="18.10" height="14.51" fill="#1ef5e6"/>
<rect x="889.71" y="360.09" width="40.28" height="14.51" fill="#1470ff"/>
<rect x="781.70" y="374.44" width="13.18" height="14.51" fill="#14148f"/>
<rect x="794.88" y="374.44" width="24.22" height="14.51" fill="#ff6e0f"/>
<rect x="819.10" y="374.44" width="43.84" height="14.51" fill="#ffeb14"/>
<rect x="862.94" y="374.44" width="21.67" height="14.51" fill="#8cff78"/>
<rect x="884.61" y="374.44" width="24.47" height="14.51" fill="#1ef5e6"/>
<rect x="909.08" y="374.44" width="29.82" height="14.51" fill="#1470ff"/>
<rect x="781.70" y="388.80" width="13.18" height="14.51" fill="#9b1212"/>
<rect x="794.88" y="388.80" width="48.43" height="14.51" fill="#ff6e0f"/>
<rect x="843.32" y="388.80" width="41.29" height="14.51" fill="#8cff78"/>
<rect x="884.61" y="388.80" width="20.39" height="14.51" fill="#ffeb14"/>
<rect x="905.00" y="388.80" width="20.90" height="14.51" fill="#1ef5e6"/>
<rect x="925.90" y="388.80" width="29.06" height="14.51" fill="#1470ff"/>
<rect x="781.70" y="403.16" width="13.18" height="14.51" fill="#000000"/>
<rect x="794.88" y="403.16" width="62.45" height="14.51" fill="#14148f"/>
<rect x="857.33" y="403.16" width="29.82" height="14.51" fill="#ff6e0f"/>
<rect x="887.16" y="403.16" width="16.06" height="14.51" fill="#9b1212"/>
<rect x="903.22" y="403.16" width="12.75" height="14.51" fill="#8cff78"/>
<rect x="915.96" y="403.16" width="11.47" height="14.51" fill="#ffeb14"/>
<rect x="927.43" y="403.16" width="19.88" height="14.51" fill="#1ef5e6"/>
<rect x="947.32" y="403.16" width="34.92" height="14.51" fill="#1470ff"/>
<rect x="781.70" y="417.51" width="37.40" height="14.51" fill="#14148f"/>
<rect x="819.10" y="417.51" width="24.22" height="14.51" fill="#9b1212"/>
<rect x="843.32" y="417.51" width="19.63" height="14.51" fill="#ff6e0f"/>
<rect x="862.94" y="417.51" width="15.80" height="14.51" fill="#ffeb14"/>
<rect x="878.75" y="417.51" width="22.94" height="14.51" fill="#8cff78"/>
<rect x="901.69" y="417.51" width="31.35" height="14.51" fill="#1ef5e6"/>
<rect x="933.04" y="417.51" width="51.49" height="14.51" fill="#1470ff"/>
<rect x="781.70" y="431.87" width="13.18" height="14.51" fill="#000000"/>
<rect x="794.88" y="431.87" width="48.43" height="14.51" fill="#ff6e0f"/>
<rect x="843.32" y="431.87" width="24.22" height="14.51" fill="#9b1212"/>
<rect x="867.53" y="431.87" width="28.55" height="14.51" fill="#14148f"/>
<rect x="896.08" y="431.87" width="15.29" height="14.51" fill="#8cff78"/>
<rect x="911.38" y="431.87" width="15.80" height="14.51" fill="#ffeb14"/>
<rect x="927.18" y="431.87" width="16.82" height="14.51" fill="#1ef5e6"/>
<rect x="944.00" y="431.87" width="40.79" height="14.51" fill="#1470ff"/>
<rect x="781.70" y="446.22" width="13.18" height="14.51" fill="#ff6e0f"/>
<rect x="794.88" y="446.22" width="38.24" height="14.51" fill="#14148f"/>
<rect x="833.12" y="446.22" width="18.10" height="14.51" fill="#000000"/>
<rect x="851.22" y="446.22" width="24.22" height="14.51" fill="#ffeb14"/>
<rect x="875.43" y="446.22" width="24.22" height="14.51" fill="#8cff78"/>
<rect x="899.65" y="446.22" width="27.78" height="14.51" fill="#1ef5e6"/>
<rect x="927.43" y="446.22" width="40.28" height="14.51" fill="#1470ff"/>
<rect x="781.70" y="460.58" width="13.18" height="14.51" fill="#14148f"/>
<rect x="794.88" y="460.58" width="24.22" height="14.51" fill="#000000"/>
<rect x="819.10" y="460.58" width="38.24" height="14.51" fill="#ff6e0f"/>
<rect x="857.33" y="460.58" width="21.41" height="14.51" fill="#8cff78"/>
<rect x="878.75" y="460.58" width="17.33" height="14.51" fill="#1ef5e6"/>
<rect x="896.08" y="460.58" width="15.29" height="14.51" fill="#ffeb14"/>
<rect x="911.38" y="460.58" width="21.41" height="14.51" fill="#1470ff"/>
<rect x="781.70" y="474.93" width="13.18" height="14.51" fill="#ff6e0f"/>
<rect x="794.88" y="474.93" width="24.22" height="14.51" fill="#9b1212"/>
<rect x="819.10" y="474.93" width="24.22" height="14.51" fill="#808080"/>
<rect x="843.32" y="474.93" width="24.22" height="14.51" fill="#8cff78"/>
<rect x="867.53" y="474.93" width="17.08" height="14.51" fill="#000000"/>
<rect x="884.61" y="474.93" width="13.26" height="14.51" fill="#ffeb14"/>
<rect x="897.87" y="474.93" width="11.22" height="14.51" fill="#14148f"/>
<rect x="909.08" y="474.93" width="11.47" height="14.51" fill="#1ef5e6"/>
<rect x="920.55" y="474.93" width="17.08" height="14.51" fill="#1470ff"/>
<rect x="781.70" y="489.29" width="51.42" height="14.51" fill="#ff6e0f"/>
<rect x="833.12" y="489.29" width="24.22" height="14.51" fill="#9b1212"/>
<rect x="857.33" y="489.29" width="18.10" height="14.51" fill="#8cff78"/>
<rect x="875.43" y="489.29" width="16.31" height="14.51" fill="#1ef5e6"/>
<rect x="891.75" y="489.29" width="16.06" height="14.51" fill="#ffeb14"/>
<rect x="907.81" y="489.29" width="11.98" height="14.51" fill="#000000"/>
<rect x="919.79" y="489.29" width="25.24" height="14.51" fill="#1470ff"/>
<rect x="945.02" y="489.29" width="16.57" height="14.51" fill="#808080"/>
<rect x="781.70" y="503.64" width="13.18" height="14.51" fill="#ffeb14"/>
<rect x="794.88" y="503.64" width="24.22" height="14.51" fill="#9b1212"/>
<rect x="819.10" y="503.64" width="24.22" height="14.51" fill="#ff6e0f"/>
<rect x="843.32" y="503.64" width="38.49" height="14.51" fill="#8cff78"/>
<rect x="881.81" y="503.64" width="21.41" height="14.51" fill="#1ef5e6"/>
<rect x="903.22" y="503.64" width="29.82" height="14.51" fill="#1470ff"/>
<rect x="933.04" y="503.64" width="22.94" height="14.51" fill="#808080"/>
<rect x="781.70" y="518.00" width="13.18" height="14.51" fill="#14148f"/>
<rect x="794.88" y="518.00" width="38.24" height="14.51" fill="#8cff78"/>
<rect x="833.12" y="518.00" width="18.10" height="14.51" fill="#9b1212"/>
<rect x="851.22" y="518.00" width="20.39" height="14.51" fill="#ff6e0f"/>
<rect x="871.61" y="518.00" width="22.43" height="14.51" fill="#ffeb14"/>
<rect x="894.04" y="518.00" width="16.31" height="14.51" fill="#1ef5e6"/>
<rect x="910.36" y="518.00" width="15.55" height="14.51" fill="#1470ff"/>
<rect x="925.90" y="518.00" width="42.06" height="14.51" fill="#808080"/>
<rect x="781.70" y="532.36" width="51.42" height="14.51" fill="#8cff78"/>
<rect x="833.12" y="532.36" width="24.22" height="14.51" fill="#ffeb14"/>
<rect x="857.33" y="532.36" width="14.27" height="14.51" fill="#9b1212"/>
<rect x="871.61" y="532.36" width="13.00" height="14.51" fill="#1470ff"/>
<rect x="884.61" y="532.36" width="9.43" height="14.51" fill="#1ef5e6"/>
<rect x="894.04" y="532.36" width="12.49" height="14.51" fill="#ff6e0f"/>
<rect x="906.53" y="532.36" width="58.63" height="14.51" fill="#808080"/>
<rect x="781.70" y="546.71" width="13.18" height="14.51" fill="#ffeb14"/>
<rect x="794.88" y="546.71" width="24.22" height="14.51" fill="#ff6e0f"/>
<rect x="819.10" y="546.71" width="24.22" height="14.51" fill="#1470ff"/>
<rect x="843.32" y="546.71" width="118.53" height="14.51" fill="#808080"/>
<rect x="781.70" y="561.07" width="13.18" height="14.51" fill="#8cff78"/>
<rect x="794.88" y="561.07" width="38.24" height="14.51" fill="#9b1212"/>
<rect x="833.12" y="561.07" width="140.96" height="14.51" fill="#808080"/>
<rect x="781.70" y="575.42" width="13.18" height="14.51" fill="#9b1212"/>
<rect x="794.88" y="575.42" width="38.24" height="14.51" fill="#ff6e0f"/>
<rect x="833.12" y="575.42" width="148.10" height="14.51" fill="#808080"/>
<rect x="781.70" y="589.78" width="13.18" height="14.51" fill="#8cff78"/>
<rect x="794.88" y="589.78" width="24.22" height="14.51" fill="#ff6e0f"/>
<rect x="819.10" y="589.78" width="14.02" height="14.51" fill="#9b1212"/>
<rect x="833.12" y="589.78" width="153.20" height="14.51" fill="#808080"/>
<rect x="781.70" y="604.13" width="13.18" height="14.51" fill="#1ef5e6"/>
<rect x="794.88" y="604.13" width="38.24" height="14.51" fill="#8cff78"/>
<rect x="833.12" y="604.13" width="153.96" height="14.51" fill="#808080"/>
<rect x="781.70" y="618.49" width="13.18" height="14.51" fill="#9b1212"/>
<rect x="794.88" y="618.49" width="38.24" height="14.51" fill="#8cff78"/>
<rect x="833.12" y="618.49" width="18.10" height="14.51" fill="#ffeb14"/>
<rect x="851.22" y="618.49" width="11.73" height="14.51" fill="#ff6e0f"/>
<rect x="862.94" y="618.49" width="120.57" height="14.51" fill="#808080"/>
<rect x="781.70" y="632.84" width="37.40" height="14.51" fill="#1470ff"/>
<rect x="819.10" y="632.84" width="24.22" height="14.51" fill="#ffeb14"/>
<rect x="843.32" y="632.84" width="131.02" height="14.51" fill="#808080"/>
<rect x="781.70" y="647.20" width="13.18" height="14.51" fill="#1470ff"/>
<rect x="794.88" y="647.20" width="24.22" height="14.51" fill="#1ef5e6"/>
<rect x="819.10" y="647.20" width="14.02" height="14.51" fill="#ff6e0f"/>
<rect x="833.12" y="647.20" width="128.73" height="14.51" fill="#808080"/>
<rect x="781.70" y="661.56" width="13.18" height="14.51" fill="#1470ff"/>
<rect x="794.88" y="661.56" width="24.22" height="14.51" fill="#ff6e0f"/>
<rect x="819.10" y="661.56" width="14.02" height="14.51" fill="#9b1212"/>
<rect x="833.12" y="661.56" width="18.10" height="14.51" fill="#8cff78"/>
<rect x="851.22" y="661.56" width="16.31" height="14.51" fill="#ffeb14"/>
<rect x="867.53" y="661.56" width="95.59" height="14.51" fill="#808080"/>
<rect x="781.70" y="675.91" width="13.18" height="14.51" fill="#1470ff"/>
<rect x="794.88" y="675.91" width="24.22" height="14.51" fill="#8cff78"/>
<rect x="819.10" y="675.91" width="14.02" height="14.51" fill="#ffeb14"/>
<rect x="833.12" y="675.91" width="10.20" height="14.51" fill="#ff6e0f"/>
<rect x="843.32" y="675.91" width="7.90" height="14.51" fill="#9b1212"/>
<rect x="851.22" y="675.91" width="94.06" height="14.51" fill="#808080"/>
<rect x="781.70" y="690.27" width="13.18" height="14.51" fill="#8cff78"/>
<rect x="794.88" y="690.27" width="24.22" height="14.51" fill="#ff6e0f"/>
<rect x="819.10" y="690.27" width="120.57" height="14.51" fill="#808080"/>
<rect x="781.70" y="704.62" width="97.05" height="14.51" fill="#808080"/>
</g>
<rect x="55" y="0" width="728.3" height="1" fill="#fff" fill-opacity=".5"/>
<g id="ticklabels" font-size="23.65">
<text x="96.3" y="803.1" font-size="23.65" text-anchor="middle">−80</text>
<text x="46.9" y="756.3" font-size="23.65" text-anchor="end">−80</text>
<text x="177.1" y="803.1" font-size="23.65" text-anchor="middle">−60</text>
<text x="46.9" y="698.9" font-size="23.65" text-anchor="end">−60</text>
<text x="257.8" y="803.1" font-size="23.65" text-anchor="middle">−40</text>
<text x="46.9" y="641.4" font-size="23.65" text-anchor="end">−40</text>
<text x="338.4" y="803.1" font-size="23.65" text-anchor="middle">−20</text>
<text x="46.9" y="584.0" font-size="23.65" text-anchor="end">−20</text>
<text x="419.1" y="803.1" font-size="23.65" text-anchor="middle">0</text>
<text x="46.9" y="526.6" font-size="23.65" text-anchor="end">0</text>
<text x="499.9" y="803.1" font-size="23.65" text-anchor="middle">20</text>
<text x="46.9" y="469.2" font-size="23.65" text-anchor="end">20</text>
<text x="580.5" y="803.1" font-size="23.65" text-anchor="middle">40</text>
<text x="46.9" y="411.8" font-size="23.65" text-anchor="end">40</text>
<text x="661.2" y="803.1" font-size="23.65" text-anchor="middle">60</text>
<text x="46.9" y="354.3" font-size="23.65" text-anchor="end">60</text>
<text x="741.9" y="803.1" font-size="23.65" text-anchor="middle">80</text>
<text x="46.9" y="296.9" font-size="23.65" text-anchor="end">80</text>
<text x="46.0" y="226.8" font-size="23.65" text-anchor="end">10<tspan dy="-9.3" font-size="16.6">0</tspan></text>
<text x="46.0" y="146.2" font-size="23.65" text-anchor="end">10<tspan dy="-9.3" font-size="16.6">1</tspan></text>
<text x="46.0" y="65.7" font-size="23.65" text-anchor="end">10<tspan dy="-9.3" font-size="16.6">2</tspan></text>
<text x="875.4" y="803.1" font-size="23.65" text-anchor="middle">10<tspan dy="-9.3" font-size="16.6">1</tspan></text>
</g>
<g id="cbar">
<rect x="56.00" y="828.00" width="103.96" height="30.20" fill="#2b2b9f" shape-rendering="crispEdges"/>
<rect x="159.76" y="828.00" width="103.96" height="30.20" fill="#2a7fff" shape-rendering="crispEdges"/>
<rect x="263.51" y="828.00" width="103.96" height="30.20" fill="#35f5eb" shape-rendering="crispEdges"/>
<rect x="367.27" y="828.00" width="103.96" height="30.20" fill="#98ff85" shape-rendering="crispEdges"/>
<rect x="471.03" y="828.00" width="103.96" height="30.20" fill="#fff02a" shape-rendering="crispEdges"/>
<rect x="574.79" y="828.00" width="103.96" height="30.20" fill="#ff7d26" shape-rendering="crispEdges"/>
<rect x="678.54" y="828.00" width="103.96" height="30.20" fill="#a2282a" shape-rendering="crispEdges"/>
<rect x="56.0" y="828.0" width="726.3" height="30.2" fill="none" stroke="#000" stroke-width="1.5"/>
<path d="M56 858.2v-6.8M81.9 858.2v-3.5M107.9 858.2v-3.5M133.8 858.2v-3.5M159.8 858.2v-6.8M185.7 858.2v-3.5M211.6 858.2v-3.5M237.6 858.2v-3.5M263.5 858.2v-6.8M289.5 858.2v-3.5M315.4 858.2v-3.5M341.3 858.2v-3.5M367.3 858.2v-6.8M393.2 858.2v-3.5M419.1 858.2v-3.5M445.1 858.2v-3.5M471 858.2v-6.8M497 858.2v-3.5M522.9 858.2v-3.5M548.8 858.2v-3.5M574.8 858.2v-6.8M600.7 858.2v-3.5M626.7 858.2v-3.5M652.6 858.2v-3.5M678.5 858.2v-6.8M704.5 858.2v-3.5M730.4 858.2v-3.5M756.4 858.2v-3.5M782.3 858.2v-6.8" stroke="#000" stroke-width="1.2" fill="none"/>
<text x="56.0" y="885.4" font-size="23.65" text-anchor="middle">0.0</text>
<text x="159.8" y="885.4" font-size="23.65" text-anchor="middle">0.1</text>
<text x="263.5" y="885.4" font-size="23.65" text-anchor="middle">0.2</text>
<text x="367.3" y="885.4" font-size="23.65" text-anchor="middle">0.3</text>
<text x="471.0" y="885.4" font-size="23.65" text-anchor="middle">0.4</text>
<text x="574.8" y="885.4" font-size="23.65" text-anchor="middle">0.6</text>
<text x="678.5" y="885.4" font-size="23.65" text-anchor="middle">1.0</text>
<text x="782.3" y="885.4" font-size="23.65" text-anchor="middle">3.0</text>
<text x="419.2" y="917.0" font-size="23.65" text-anchor="middle"><tspan font-style="italic">σ</tspan> (Hardness Ratio [50-300 KeV / 10-50 KeV])</text>
</g>
<g id="legend1">
<path d="M803.5 86.2a6 6 0 0 0 0 12z" fill="#2b2fa8"/>
<path d="M803.5 86.2a6 6 0 0 1 0 12z" fill="#a21a1a"/>
<rect x="797.3" y="110.3" width="6.2" height="12.4" fill="#2b2fa8"/>
<rect x="803.5" y="110.3" width="6.2" height="12.4" fill="#a21a1a"/>
<circle cx="803.5" cy="142.3" r="5.4" fill="none" stroke="#000" stroke-opacity="0.6" stroke-width="0.7"/>
<rect x="797.9" y="161.1" width="11.2" height="11.2" fill="none" stroke="#000" stroke-width="1.8"/>
<text x="833.8" y="98.1" font-size="16.65" text-anchor="start">GRB of TP (Fill Colors)</text>
<text x="833.8" y="122.5" font-size="16.65" text-anchor="start">GRB of FN (Fill Colors)</text>
<text x="833.8" y="146.9" font-size="16.65" text-anchor="start">non-GRB of TN</text>
<text x="833.8" y="171.3" font-size="16.65" text-anchor="start">non-GRB of FP</text>
</g>
<g id="ax3d">
<path d="M1658.0 226.3 L1227.0 258.5 L1235.0 606.9 L1656.0 560.1 Z" fill="#f9f9f9"/>
<path d="M1658.0 226.3 L1917.8 286.5 L1909.2 647.4 L1656.0 560.1 Z" fill="#f2f2f2"/>
<path d="M1656.0 560.1 L1909.2 647.4 L1463.2 702.7 L1235.0 606.9 Z" fill="#f5f5f5"/>
<path d="M1248.7 612.6L1671.2 565.4M1671.2 565.4L1673.6 229.9M1891.6 649.5L1639.3 562.0M1639.3 562.0L1641.0 227.5M1916.8 329.2L1657.8 265.7M1657.8 265.7L1228.0 299.7M1287.8 629.0L1714.7 580.4M1714.7 580.4L1718.2 240.2M1809.7 659.7L1561.7 570.6M1561.7 570.6L1561.6 233.5M1915.3 393.7L1657.4 325.3M1657.4 325.3L1229.4 362.0M1328.0 646.0L1759.5 595.8M1759.5 595.8L1764.1 250.8M1726.2 670.1L1482.8 579.4M1482.8 579.4L1480.9 239.5M1913.8 457.6L1657.1 384.5M1657.1 384.5L1230.8 423.7M1369.6 663.4L1805.6 611.7M1805.6 611.7L1811.4 261.8M1641.2 680.6L1402.6 588.3M1402.6 588.3L1398.7 245.7M1912.2 521.0L1656.7 443.1M1656.7 443.1L1232.2 484.9M1412.5 681.4L1853.1 628.0M1853.1 628.0L1860.2 273.1M1554.6 691.3L1321.0 597.4M1321.0 597.4L1315.2 251.9M1910.7 583.9L1656.3 501.3M1656.3 501.3L1233.6 545.6" stroke="#b0b0b0" stroke-width="1.1" fill="none" stroke-linejoin="round"/>
</g>
<g id="scatter3d">
<use href="#d" x="1438.3" y="385.8"/><use href="#d" x="1559.8" y="423.5"/><use href="#d" x="1575.3" y="417.1"/><use href="#d" x="1426.9" y="465.0"/><use href="#d" x="1458.6" y="482.9"/><use href="#d" x="1535.3" y="374.4"/><use href="#d" x="1375.9" y="458.8"/><use href="#d" x="1451.0" y="362.9"/><use href="#d" x="1528.7" y="447.8"/><use href="#d" x="1387.4" y="360.9"/><use href="#d" x="1567.8" y="460.1"/><use href="#d" x="1566.0" y="476.2"/><use href="#d" x="1444.9" y="490.5"/><use href="#d" x="1418.5" y="426.5"/><use href="#d" x="1528.0" y="357.9"/><use href="#d" x="1563.8" y="419.6"/><use href="#d" x="1548.9" y="386.3"/><use href="#d" x="1455.1" y="478.6"/><use href="#d" x="1545.1" y="420.5"/><use href="#d" x="1399.5" y="484.3"/><use href="#d" x="1375.5" y="451.8"/><use href="#d" x="1477.7" y="411.7"/><use href="#d" x="1377.2" y="459.0"/><use href="#d" x="1523.1" y="420.6"/><use href="#d" x="1365.1" y="376.2"/><use href="#d" x="1442.1" y="400.0"/><use href="#d" x="1483.1" y="501.5"/><use href="#d" x="1421.2" y="454.2"/><use href="#d" x="1561.2" y="471.4"/><use href="#d" x="1382.2" y="369.5"/><use href="#d" x="1403.4" y="420.6"/><use href="#d" x="1515.2" y="400.9"/><use href="#d" x="1533.9" y="464.7"/><use href="#d" x="1558.3" y="471.4"/><use href="#d" x="1508.3" y="441.9"/><use href="#d" x="1375.3" y="438.1"/><use href="#d" x="1414.5" y="477.5"/><use href="#d" x="1594.7" y="452.7"/><use href="#d" x="1524.3" y="435.4"/><use href="#d" x="1417.3" y="414.8"/><use href="#d" x="1410.6" y="459.0"/><use href="#d" x="1482.0" y="474.5"/><use href="#d" x="1452.4" y="382.9"/><use href="#d" x="1520.8" y="382.1"/><use href="#d" x="1522.0" y="507.8"/><use href="#d" x="1545.5" y="448.9"/><use href="#d" x="1612.9" y="440.9"/><use href="#d" x="1527.1" y="417.9"/><use href="#d" x="1407.8" y="483.8"/><use href="#d" x="1416.4" y="418.1"/><use href="#d" x="1506.8" y="345.6"/><use href="#d" x="1501.0" y="463.7"/><use href="#d" x="1420.0" y="452.2"/><use href="#d" x="1450.5" y="399.8"/><use href="#d" x="1421.7" y="483.9"/><use href="#d" x="1531.7" y="382.9"/><use href="#d" x="1550.5" y="426.7"/><use href="#d" x="1516.9" y="478.9"/><use href="#d" x="1503.2" y="431.6"/><use href="#d" x="1545.8" y="411.1"/><use href="#d" x="1521.1" y="471.3"/><use href="#d" x="1440.4" y="455.3"/><use href="#d" x="1412.6" y="450.3"/><use href="#d" x="1386.8" y="450.1"/><use href="#d" x="1448.7" y="398.3"/><use href="#d" x="1501.3" y="336.4"/><use href="#d" x="1436.5" y="443.4"/><use href="#d" x="1544.4" y="424.9"/><use href="#d" x="1475.1" y="424.4"/><use href="#d" x="1598.2" y="438.4"/><use href="#d" x="1374.1" y="444.9"/><use href="#d" x="1506.1" y="424.8"/><use href="#d" x="1554.8" y="399.9"/><use href="#d" x="1469.1" y="364.7"/><use href="#d" x="1400.8" y="377.1"/><use href="#d" x="1559.3" y="410.9"/><use href="#d" x="1626.4" y="463.0"/><use href="#d" x="1447.4" y="470.6"/><use href="#d" x="1483.9" y="505.0"/><use href="#d" x="1462.4" y="445.6"/><use href="#d" x="1417.7" y="456.0"/><use href="#d" x="1544.3" y="418.6"/><use href="#d" x="1524.4" y="426.9"/><use href="#d" x="1586.3" y="468.1"/><use href="#d" x="1403.4" y="381.0"/><use href="#d" x="1618.9" y="459.5"/><use href="#d" x="1401.0" y="368.1"/><use href="#d" x="1496.8" y="448.5"/><use href="#d" x="1396.7" y="420.4"/><use href="#d" x="1541.5" y="384.8"/><use href="#d" x="1540.4" y="388.6"/><use href="#d" x="1529.6" y="462.7"/><use href="#d" x="1532.2" y="368.0"/><use href="#d" x="1556.0" y="411.3"/><use href="#d" x="1366.4" y="424.9"/><use href="#d" x="1448.2" y="488.3"/><use href="#d" x="1474.0" y="385.6"/><use href="#d" x="1464.6" y="394.5"/><use href="#d" x="1383.7" y="388.5"/><use href="#d" x="1374.8" y="405.8"/><use href="#d" x="1418.9" y="439.7"/><use href="#d" x="1416.0" y="368.8"/><use href="#d" x="1543.1" y="398.9"/><use href="#d" x="1453.1" y="473.7"/><use href="#d" x="1580.8" y="439.3"/><use href="#d" x="1512.0" y="422.9"/><use href="#d" x="1465.2" y="350.2"/><use href="#d" x="1529.9" y="380.5"/><use href="#d" x="1510.1" y="396.4"/><use href="#d" x="1514.1" y="345.6"/><use href="#d" x="1529.5" y="451.7"/><use href="#d" x="1589.9" y="441.8"/><use href="#d" x="1464.2" y="465.8"/><use href="#d" x="1475.2" y="491.5"/><use href="#d" x="1370.6" y="414.8"/><use href="#d" x="1370.5" y="391.0"/><use href="#d" x="1505.8" y="426.0"/><use href="#d" x="1549.7" y="455.3"/><use href="#d" x="1486.0" y="411.0"/><use href="#d" x="1428.5" y="379.2"/><use href="#d" x="1478.7" y="475.9"/><use href="#d" x="1547.5" y="440.5"/><use href="#d" x="1359.7" y="441.1"/><use href="#d" x="1455.0" y="346.2"/><use href="#d" x="1444.1" y="349.5"/><use href="#d" x="1596.2" y="436.9"/><use href="#d" x="1434.7" y="477.2"/><use href="#d" x="1558.9" y="455.6"/><use href="#d" x="1511.8" y="453.9"/><use href="#d" x="1350.3" y="439.9"/><use href="#d" x="1329.6" y="413.3"/><use href="#d" x="1337.4" y="418.2"/><use href="#d" x="1450.7" y="470.4"/><use href="#d" x="1546.1" y="390.9"/><use href="#d" x="1513.5" y="398.0"/><use href="#d" x="1545.5" y="419.8"/><use href="#d" x="1388.2" y="425.8"/><use href="#d" x="1411.2" y="452.5"/><use href="#d" x="1593.1" y="435.5"/><use href="#d" x="1419.4" y="356.3"/><use href="#d" x="1441.4" y="396.3"/><use href="#d" x="1355.2" y="429.3"/><use href="#d" x="1383.3" y="403.0"/><use href="#d" x="1500.4" y="455.7"/><use href="#d" x="1471.9" y="495.3"/><use href="#d" x="1539.0" y="413.1"/><use href="#d" x="1354.0" y="388.2"/><use href="#d" x="1525.7" y="417.9"/><use href="#d" x="1373.1" y="383.9"/><use href="#d" x="1379.1" y="382.2"/><use href="#d" x="1543.4" y="481.8"/><use href="#d" x="1504.4" y="382.7"/><use href="#d" x="1491.7" y="416.8"/><use href="#d" x="1455.4" y="386.9"/><use href="#d" x="1348.4" y="398.4"/><use href="#d" x="1395.7" y="369.8"/><use href="#d" x="1584.1" y="458.7"/><use href="#d" x="1497.6" y="446.6"/><use href="#d" x="1434.1" y="407.4"/><use href="#d" x="1511.1" y="431.4"/><use href="#d" x="1550.8" y="428.0"/><use href="#d" x="1366.8" y="425.7"/><use href="#d" x="1431.0" y="473.9"/><use href="#d" x="1578.1" y="449.0"/><use href="#d" x="1545.7" y="412.5"/><use href="#d" x="1603.7" y="468.3"/><use href="#d" x="1544.6" y="386.9"/><use href="#d" x="1490.7" y="444.1"/><use href="#d" x="1499.5" y="505.5"/><use href="#d" x="1570.6" y="467.5"/><use href="#d" x="1530.8" y="435.3"/><use href="#d" x="1339.3" y="429.7"/><use href="#d" x="1610.2" y="447.3"/><use href="#d" x="1492.4" y="424.0"/><use href="#d" x="1554.2" y="421.3"/><use href="#d" x="1515.1" y="407.8"/><use href="#d" x="1516.9" y="451.0"/><use href="#d" x="1566.7" y="464.9"/><use href="#d" x="1562.6" y="452.7"/><use href="#d" x="1599.3" y="458.5"/><use href="#d" x="1415.6" y="440.2"/><use href="#d" x="1466.6" y="455.6"/><use href="#d" x="1534.0" y="363.6"/><use href="#d" x="1488.0" y="377.1"/><use href="#d" x="1491.7" y="479.1"/><use href="#d" x="1360.0" y="412.3"/><use href="#d" x="1393.5" y="364.5"/><use href="#d" x="1492.8" y="413.7"/><use href="#d" x="1494.5" y="390.4"/><use href="#d" x="1374.5" y="432.1"/><use href="#d" x="1555.9" y="416.2"/><use href="#d" x="1446.1" y="476.5"/><use href="#d" x="1460.5" y="447.9"/><use href="#d" x="1508.9" y="395.7"/><use href="#d" x="1551.4" y="443.2"/><use href="#d" x="1540.7" y="460.9"/><use href="#d" x="1393.7" y="402.0"/><use href="#d" x="1396.5" y="456.9"/><use href="#d" x="1357.6" y="439.8"/><use href="#d" x="1490.8" y="422.4"/><use href="#d" x="1497.3" y="348.6"/><use href="#d" x="1430.2" y="470.2"/><use href="#d" x="1559.7" y="415.6"/><use href="#d" x="1535.5" y="432.5"/><use href="#d" x="1601.6" y="439.5"/><use href="#d" x="1585.7" y="417.5"/><use href="#d" x="1561.5" y="468.7"/><use href="#d" x="1482.5" y="435.2"/><use href="#d" x="1476.7" y="411.8"/><use href="#d" x="1563.1" y="438.1"/><use href="#d" x="1511.6" y="372.7"/><use href="#d" x="1535.4" y="418.3"/><use href="#d" x="1457.3" y="420.3"/><use href="#d" x="1509.6" y="427.1"/><use href="#d" x="1432.2" y="480.3"/><use href="#d" x="1533.2" y="473.4"/><use href="#d" x="1429.5" y="384.4"/><use href="#d" x="1380.6" y="371.1"/><use href="#d" x="1581.4" y="471.5"/><use href="#d" x="1512.1" y="401.7"/><use href="#d" x="1510.1" y="414.0"/><use href="#d" x="1455.5" y="409.4"/><use href="#d" x="1440.4" y="447.5"/><use href="#d" x="1431.7" y="412.9"/><use href="#d" x="1614.6" y="451.9"/><use href="#d" x="1342.2" y="393.8"/><use href="#d" x="1387.9" y="442.5"/><use href="#d" x="1577.0" y="430.3"/><use href="#d" x="1497.4" y="466.6"/><use href="#d" x="1521.7" y="460.5"/><use href="#d" x="1522.8" y="345.0"/><use href="#d" x="1435.3" y="448.6"/><use href="#d" x="1406.4" y="474.9"/><use href="#d" x="1538.5" y="390.8"/><use href="#d" x="1462.7" y="406.9"/><use href="#d" x="1512.3" y="394.0"/><use href="#d" x="1412.4" y="469.4"/><use href="#d" x="1483.0" y="419.1"/><use href="#d" x="1502.9" y="359.9"/><use href="#d" x="1508.7" y="486.3"/><use href="#d" x="1453.8" y="364.2"/><use href="#d" x="1543.5" y="492.5"/><use href="#d" x="1425.8" y="488.8"/><use href="#d" x="1533.0" y="437.2"/><use href="#d" x="1431.0" y="376.8"/><use href="#d" x="1440.3" y="459.1"/><use href="#d" x="1391.2" y="398.4"/><use href="#d" x="1447.3" y="341.0"/><use href="#d" x="1387.4" y="383.6"/><use href="#d" x="1443.2" y="452.3"/><use href="#d" x="1529.3" y="466.2"/><use href="#d" x="1539.9" y="371.0"/><use href="#d" x="1527.9" y="483.7"/><use href="#d" x="1399.2" y="433.4"/><use href="#d" x="1549.9" y="498.7"/><use href="#d" x="1483.5" y="339.7"/><use href="#d" x="1584.3" y="476.4"/><use href="#d" x="1516.2" y="426.9"/><use href="#d" x="1551.9" y="490.8"/><use href="#d" x="1554.3" y="417.9"/><use href="#d" x="1473.7" y="424.2"/><use href="#d" x="1525.9" y="484.0"/><use href="#d" x="1371.6" y="473.7"/><use href="#d" x="1362.5" y="415.3"/><use href="#d" x="1460.9" y="389.4"/><use href="#d" x="1524.7" y="422.0"/><use href="#d" x="1422.9" y="461.2"/><use href="#d" x="1364.9" y="428.5"/><use href="#d" x="1431.0" y="356.5"/><use href="#d" x="1463.9" y="408.7"/><use href="#d" x="1345.8" y="413.8"/><use href="#d" x="1369.9" y="416.7"/><use href="#d" x="1452.8" y="355.7"/><use href="#d" x="1488.7" y="506.7"/><use href="#d" x="1437.4" y="414.7"/><use href="#d" x="1459.1" y="438.9"/><use href="#d" x="1491.4" y="462.9"/><use href="#d" x="1586.5" y="475.5"/><use href="#d" x="1462.2" y="393.0"/><use href="#d" x="1438.8" y="415.7"/><use href="#d" x="1431.0" y="402.1"/><use href="#d" x="1465.9" y="450.2"/><use href="#d" x="1439.8" y="480.4"/><use href="#d" x="1526.0" y="418.0"/><use href="#d" x="1393.7" y="481.3"/><use href="#d" x="1438.7" y="416.3"/><use href="#d" x="1526.1" y="437.6"/><use href="#d" x="1504.5" y="390.7"/><use href="#d" x="1335.7" y="404.0"/><use href="#d" x="1544.2" y="389.5"/><use href="#d" x="1507.6" y="406.4"/><use href="#d" x="1414.1" y="448.3"/><use href="#d" x="1570.4" y="444.4"/><use href="#d" x="1537.5" y="427.8"/><use href="#d" x="1533.5" y="457.1"/><use href="#d" x="1512.9" y="457.7"/><use href="#d" x="1575.3" y="457.1"/><use href="#d" x="1504.6" y="454.1"/><use href="#d" x="1563.6" y="481.5"/><use href="#d" x="1413.4" y="387.8"/><use href="#d" x="1499.5" y="385.0"/><use href="#d" x="1540.8" y="452.6"/><use href="#d" x="1529.1" y="489.6"/><use href="#d" x="1485.1" y="439.8"/><use href="#d" x="1592.0" y="432.5"/><use href="#d" x="1416.0" y="391.5"/><use href="#d" x="1365.1" y="428.9"/><use href="#d" x="1395.3" y="394.1"/><use href="#d" x="1512.2" y="496.3"/><use href="#d" x="1539.4" y="493.2"/><use href="#d" x="1421.8" y="412.5"/><use href="#d" x="1428.4" y="412.4"/><use href="#d" x="1415.5" y="420.3"/><use href="#d" x="1549.0" y="455.4"/><use href="#d" x="1411.9" y="455.3"/><use href="#d" x="1503.0" y="438.8"/><use href="#d" x="1534.9" y="459.5"/><use href="#d" x="1572.5" y="446.5"/><use href="#d" x="1482.4" y="427.2"/><use href="#d" x="1478.2" y="353.6"/><use href="#d" x="1424.8" y="481.8"/><use href="#d" x="1437.5" y="386.0"/><use href="#d" x="1545.4" y="402.6"/><use href="#d" x="1416.1" y="392.6"/><use href="#d" x="1489.9" y="404.9"/><use href="#d" x="1424.3" y="476.2"/><use href="#d" x="1432.2" y="458.9"/><use href="#d" x="1616.2" y="443.6"/><use href="#d" x="1380.8" y="453.1"/><use href="#d" x="1578.5" y="413.1"/><use href="#d" x="1455.1" y="417.3"/><use href="#d" x="1419.6" y="475.9"/><use href="#d" x="1550.7" y="423.0"/><use href="#d" x="1450.5" y="434.3"/><use href="#d" x="1554.4" y="384.3"/><use href="#d" x="1419.4" y="471.5"/><use href="#d" x="1490.6" y="444.0"/><use href="#d" x="1490.2" y="350.5"/><use href="#d" x="1452.1" y="445.8"/><use href="#d" x="1361.1" y="392.2"/><use href="#d" x="1418.8" y="405.1"/><use href="#d" x="1460.5" y="372.2"/><use href="#d" x="1390.3" y="421.6"/><use href="#d" x="1515.9" y="411.3"/><use href="#d" x="1493.1" y="370.1"/><use href="#d" x="1424.0" y="437.3"/><use href="#d" x="1363.0" y="455.5"/><use href="#d" x="1392.9" y="428.5"/><use href="#d" x="1458.3" y="395.6"/><use href="#d" x="1512.0" y="408.2"/><use href="#d" x="1342.1" y="445.2"/><use href="#d" x="1347.0" y="416.0"/><use href="#d" x="1504.6" y="458.0"/><use href="#d" x="1519.2" y="394.4"/><use href="#d" x="1560.0" y="403.6"/><use href="#d" x="1322.1" y="408.1"/><use href="#d" x="1421.1" y="487.8"/><use href="#d" x="1450.6" y="452.3"/><use href="#d" x="1498.8" y="352.5"/><use href="#d" x="1524.3" y="436.4"/><use href="#d" x="1525.4" y="372.1"/><use href="#d" x="1551.7" y="433.1"/><use href="#d" x="1473.2" y="431.8"/><use href="#d" x="1438.9" y="345.0"/><use href="#d" x="1385.7" y="420.5"/><use href="#d" x="1447.3" y="448.1"/><use href="#d" x="1512.8" y="400.8"/><use href="#d" x="1558.6" y="452.0"/><use href="#d" x="1430.5" y="387.0"/><use href="#d" x="1450.7" y="396.4"/><use href="#d" x="1564.7" y="421.8"/><use href="#d" x="1365.5" y="424.8"/><use href="#d" x="1513.7" y="456.6"/><use href="#d" x="1534.3" y="475.7"/><use href="#d" x="1527.7" y="345.2"/><use href="#d" x="1547.2" y="493.9"/><use href="#d" x="1568.1" y="402.3"/><use href="#d" x="1399.1" y="423.7"/><use href="#d" x="1466.1" y="456.5"/><use href="#d" x="1385.4" y="454.9"/><use href="#d" x="1544.1" y="433.1"/><use href="#d" x="1466.8" y="484.9"/><use href="#d" x="1438.9" y="442.0"/><use href="#d" x="1423.4" y="411.0"/><use href="#d" x="1410.6" y="419.0"/><use href="#d" x="1380.1" y="438.8"/><use href="#d" x="1422.6" y="434.1"/><use href="#d" x="1461.1" y="473.1"/><use href="#d" x="1402.1" y="487.7"/><use href="#d" x="1545.7" y="465.6"/><use href="#d" x="1564.7" y="441.0"/><use href="#d" x="1436.4" y="447.1"/><use href="#d" x="1493.4" y="454.3"/><use href="#d" x="1391.6" y="416.7"/><use href="#d" x="1553.5" y="412.7"/><use href="#d" x="1462.6" y="458.4"/><use href="#d" x="1368.4" y="440.9"/><use href="#d" x="1451.3" y="381.3"/><use href="#d" x="1570.0" y="482.7"/><use href="#d" x="1525.9" y="473.7"/><use href="#d" x="1534.8" y="404.5"/><use href="#d" x="1403.8" y="487.8"/><use href="#d" x="1377.6" y="441.5"/><use href="#d" x="1381.4" y="427.7"/><use href="#d" x="1502.4" y="440.4"/><use href="#d" x="1487.6" y="467.8"/><use href="#d" x="1578.0" y="453.8"/><use href="#d" x="1529.4" y="410.8"/><use href="#d" x="1416.9" y="395.1"/><use href="#d" x="1514.2" y="448.3"/><use href="#d" x="1527.2" y="440.5"/><use href="#d" x="1493.6" y="397.2"/><use href="#d" x="1489.5" y="384.9"/><use href="#d" x="1341.3" y="411.4"/><use href="#d" x="1585.3" y="431.6"/><use href="#d" x="1377.9" y="436.5"/><use href="#d" x="1353.1" y="413.3"/><use href="#d" x="1418.6" y="468.0"/><use href="#d" x="1453.1" y="451.8"/><use href="#d" x="1349.0" y="419.3"/><use href="#d" x="1476.8" y="412.0"/><use href="#d" x="1379.6" y="412.2"/><use href="#d" x="1586.9" y="459.7"/><use href="#d" x="1353.3" y="385.2"/><use href="#d" x="1517.9" y="439.6"/><use href="#d" x="1527.1" y="469.9"/><use href="#d" x="1487.8" y="362.1"/><use href="#d" x="1407.7" y="469.6"/><use href="#d" x="1511.5" y="406.6"/><use href="#d" x="1430.1" y="392.6"/><use href="#d" x="1432.1" y="441.9"/><use href="#d" x="1410.4" y="411.0"/><use href="#d" x="1440.4" y="445.3"/><use href="#d" x="1576.9" y="467.3"/><use href="#d" x="1442.0" y="455.6"/><use href="#d" x="1536.0" y="425.0"/><use href="#d" x="1476.2" y="461.1"/><use href="#d" x="1444.4" y="456.9"/><use href="#d" x="1521.3" y="387.1"/><use href="#d" x="1463.7" y="464.1"/><use href="#d" x="1553.2" y="485.7"/><use href="#d" x="1609.1" y="458.8"/><use href="#d" x="1571.1" y="408.1"/><use href="#d" x="1489.8" y="453.6"/><use href="#d" x="1545.6" y="475.3"/><use href="#d" x="1458.7" y="389.7"/><use href="#d" x="1434.3" y="429.6"/><use href="#d" x="1446.6" y="343.4"/><use href="#d" x="1386.5" y="466.0"/><use href="#d" x="1537.6" y="483.3"/><use href="#d" x="1568.1" y="462.2"/><use href="#d" x="1511.9" y="460.5"/><use href="#d" x="1365.7" y="423.1"/><use href="#d" x="1416.4" y="467.8"/><use href="#d" x="1546.0" y="432.9"/><use href="#d" x="1446.2" y="408.0"/><use href="#d" x="1386.7" y="451.8"/><use href="#d" x="1535.8" y="382.4"/><use href="#d" x="1471.0" y="411.3"/><use href="#d" x="1434.7" y="463.1"/><use href="#d" x="1469.3" y="478.7"/><use href="#d" x="1479.1" y="478.9"/><use href="#d" x="1403.8" y="421.0"/><use href="#d" x="1567.8" y="402.2"/><use href="#d" x="1507.9" y="384.6"/><use href="#d" x="1504.3" y="465.1"/><use href="#d" x="1524.3" y="412.0"/><use href="#d" x="1408.6" y="458.7"/><use href="#d" x="1354.6" y="411.2"/><use href="#d" x="1492.4" y="450.6"/><use href="#d" x="1385.3" y="377.2"/><use href="#d" x="1446.5" y="457.9"/><use href="#d" x="1513.1" y="508.6"/><use href="#d" x="1448.6" y="454.0"/><use href="#d" x="1364.0" y="461.9"/><use href="#d" x="1535.7" y="376.9"/><use href="#d" x="1417.4" y="425.1"/><use href="#d" x="1422.3" y="377.1"/><use href="#d" x="1559.9" y="393.5"/><use href="#d" x="1461.2" y="492.9"/><use href="#d" x="1454.9" y="491.1"/><use href="#d" x="1401.3" y="457.1"/><use href="#d" x="1581.9" y="467.0"/><use href="#d" x="1398.9" y="425.9"/><use href="#d" x="1563.5" y="407.2"/><use href="#d" x="1554.8" y="401.9"/><use href="#d" x="1402.2" y="477.4"/><use href="#d" x="1516.2" y="443.3"/><use href="#d" x="1462.0" y="374.2"/><use href="#d" x="1492.9" y="385.7"/><use href="#d" x="1382.7" y="438.0"/><use href="#d" x="1494.4" y="452.0"/><use href="#d" x="1484.3" y="496.8"/><use href="#d" x="1494.2" y="451.5"/><use href="#d" x="1448.6" y="405.7"/><use href="#d" x="1513.3" y="401.1"/><use href="#d" x="1447.8" y="471.9"/><use href="#d" x="1423.7" y="453.3"/><use href="#d" x="1457.4" y="485.4"/><use href="#d" x="1527.5" y="475.9"/><use href="#d" x="1471.4" y="452.6"/><use href="#d" x="1532.9" y="442.2"/><use href="#d" x="1407.3" y="368.2"/><use href="#d" x="1493.5" y="410.7"/><use href="#d" x="1470.2" y="431.1"/><use href="#d" x="1391.8" y="391.7"/><use href="#d" x="1474.5" y="421.1"/><use href="#d" x="1492.6" y="448.7"/><use href="#d" x="1530.9" y="403.5"/><use href="#d" x="1460.3" y="356.2"/><use href="#d" x="1366.7" y="465.5"/><use href="#d" x="1586.3" y="465.9"/><use href="#d" x="1387.3" y="454.4"/><use href="#d" x="1476.5" y="450.9"/><use href="#d" x="1558.9" y="396.7"/><use href="#d" x="1391.4" y="380.6"/><use href="#d" x="1437.0" y="453.9"/><use href="#d" x="1486.2" y="353.3"/><use href="#d" x="1509.4" y="370.3"/><use href="#d" x="1362.2" y="400.8"/><use href="#d" x="1492.0" y="491.4"/><use href="#d" x="1516.1" y="431.0"/><use href="#d" x="1523.1" y="444.2"/><use href="#d" x="1404.0" y="444.2"/><use href="#d" x="1385.8" y="362.0"/><use href="#d" x="1446.9" y="408.7"/><use href="#d" x="1498.1" y="430.6"/><use href="#d" x="1454.3" y="492.2"/><use href="#d" x="1557.4" y="390.4"/><use href="#d" x="1459.1" y="425.5"/><use href="#d" x="1523.7" y="498.6"/><use href="#d" x="1536.2" y="418.5"/><use href="#d" x="1524.4" y="441.5"/><use href="#d" x="1497.2" y="432.0"/><use href="#d" x="1471.0" y="382.7"/><use href="#d" x="1436.4" y="357.3"/><use href="#d" x="1562.7" y="396.9"/><use href="#d" x="1469.0" y="391.6"/><use href="#d" x="1392.9" y="442.8"/><use href="#d" x="1609.8" y="436.3"/><use href="#d" x="1471.3" y="358.7"/><use href="#d" x="1511.1" y="362.6"/><use href="#d" x="1557.6" y="435.4"/><use href="#d" x="1449.6" y="494.2"/><use href="#d" x="1527.5" y="419.2"/><use href="#d" x="1397.9" y="484.7"/><use href="#d" x="1479.3" y="426.1"/><use href="#d" x="1468.5" y="475.2"/><use href="#d" x="1524.4" y="444.2"/><use href="#d" x="1369.7" y="429.7"/><use href="#d" x="1495.2" y="488.2"/><use href="#d" x="1438.0" y="439.8"/><use href="#d" x="1534.3" y="398.4"/><use href="#d" x="1610.9" y="439.1"/><use href="#d" x="1499.3" y="492.6"/><use href="#d" x="1370.9" y="445.6"/><use href="#d" x="1434.3" y="463.5"/><use href="#d" x="1368.5" y="422.7"/><use href="#d" x="1459.8" y="369.6"/><use href="#d" x="1381.7" y="440.8"/><use href="#d" x="1436.9" y="339.6"/><use href="#d" x="1373.5" y="444.4"/><use href="#d" x="1466.8" y="388.7"/><use href="#d" x="1415.1" y="392.0"/><use href="#d" x="1459.7" y="361.4"/><use href="#d" x="1532.4" y="430.9"/><use href="#d" x="1379.2" y="460.8"/><use href="#d" x="1486.6" y="495.5"/><use href="#d" x="1429.4" y="431.0"/><use href="#d" x="1610.4" y="435.8"/><use href="#d" x="1524.2" y="442.9"/><use href="#d" x="1424.0" y="427.8"/><use href="#d" x="1400.2" y="445.1"/><use href="#d" x="1527.8" y="401.5"/><use href="#d" x="1479.0" y="377.1"/><use href="#d" x="1444.3" y="351.4"/><use href="#d" x="1495.7" y="351.7"/><use href="#d" x="1556.4" y="440.5"/><use href="#d" x="1567.9" y="459.6"/><use href="#d" x="1505.5" y="443.1"/><use href="#d" x="1528.7" y="496.1"/><use href="#d" x="1570.5" y="426.5"/><use href="#d" x="1431.7" y="418.2"/><use href="#d" x="1529.1" y="434.1"/><use href="#d" x="1385.6" y="393.3"/><use href="#d" x="1373.4" y="387.1"/><use href="#d" x="1489.4" y="492.6"/><use href="#d" x="1500.6" y="442.6"/><use href="#d" x="1371.1" y="413.0"/><use href="#d" x="1625.2" y="450.4"/><use href="#d" x="1425.3" y="413.4"/><use href="#d" x="1476.4" y="490.4"/><use href="#d" x="1444.9" y="488.0"/><use href="#d" x="1580.1" y="440.4"/><use href="#d" x="1512.5" y="426.9"/><use href="#d" x="1433.9" y="481.1"/><use href="#d" x="1440.3" y="481.2"/><use href="#d" x="1369.5" y="434.5"/><use href="#d" x="1529.9" y="461.7"/><use href="#d" x="1427.6" y="451.7"/><use href="#d" x="1518.9" y="404.1"/><use href="#d" x="1460.3" y="463.8"/><use href="#d" x="1437.8" y="431.8"/><use href="#d" x="1427.5" y="436.2"/><use href="#d" x="1440.6" y="444.3"/><use href="#d" x="1449.7" y="364.6"/><use href="#d" x="1423.1" y="417.3"/><use href="#d" x="1527.1" y="416.4"/><use href="#d" x="1474.0" y="487.6"/><use href="#d" x="1411.5" y="442.1"/><use href="#d" x="1363.0" y="416.5"/><use href="#d" x="1404.1" y="399.1"/><use href="#d" x="1449.6" y="414.1"/><use href="#d" x="1504.2" y="432.8"/><use href="#d" x="1477.1" y="344.3"/><use href="#d" x="1397.2" y="367.6"/><use href="#d" x="1433.1" y="401.6"/><use href="#d" x="1410.9" y="432.1"/><use href="#d" x="1542.2" y="405.6"/><use href="#d" x="1464.6" y="427.2"/><use href="#d" x="1568.7" y="408.1"/><use href="#d" x="1345.9" y="390.2"/><use href="#d" x="1528.9" y="492.6"/><use href="#d" x="1498.1" y="398.2"/><use href="#d" x="1488.7" y="396.3"/><use href="#d" x="1408.9" y="448.2"/><use href="#d" x="1446.3" y="370.7"/><use href="#d" x="1544.5" y="446.3"/><use href="#d" x="1515.8" y="391.7"/><use href="#d" x="1513.8" y="440.3"/><use href="#d" x="1490.4" y="448.3"/><use href="#d" x="1410.8" y="470.0"/><use href="#d" x="1531.3" y="493.4"/><use href="#d" x="1344.2" y="433.2"/><use href="#d" x="1455.6" y="420.5"/><use href="#d" x="1357.9" y="436.4"/><use href="#d" x="1527.1" y="351.7"/><use href="#d" x="1513.9" y="414.3"/><use href="#d" x="1480.0" y="463.3"/><use href="#d" x="1532.8" y="436.5"/><use href="#d" x="1429.4" y="458.6"/><use href="#d" x="1522.0" y="432.4"/><use href="#d" x="1437.3" y="371.8"/><use href="#d" x="1524.3" y="380.0"/><use href="#d" x="1538.3" y="371.3"/><use href="#d" x="1415.8" y="407.4"/><use href="#d" x="1530.1" y="429.1"/><use href="#d" x="1506.3" y="500.2"/><use href="#d" x="1429.5" y="455.6"/><use href="#d" x="1430.6" y="473.2"/><use href="#d" x="1391.5" y="380.8"/><use href="#d" x="1380.4" y="374.5"/><use href="#d" x="1546.4" y="449.8"/><use href="#d" x="1396.7" y="413.8"/><use href="#d" x="1425.2" y="476.3"/><use href="#d" x="1500.8" y="502.0"/><use href="#d" x="1535.4" y="413.0"/><use href="#d" x="1386.6" y="357.8"/><use href="#d" x="1495.9" y="443.5"/><use href="#d" x="1458.4" y="334.6"/><use href="#d" x="1591.1" y="469.1"/><use href="#d" x="1449.9" y="425.6"/><use href="#d" x="1511.5" y="490.2"/><use href="#d" x="1447.7" y="474.5"/><use href="#d" x="1423.0" y="426.6"/><use href="#d" x="1454.1" y="454.9"/><use href="#d" x="1494.5" y="433.4"/><use href="#d" x="1461.4" y="464.3"/><use href="#d" x="1461.5" y="357.4"/><use href="#d" x="1494.3" y="476.8"/><use href="#d" x="1498.7" y="373.1"/><use href="#d" x="1471.4" y="425.7"/><use href="#d" x="1585.7" y="472.3"/><use href="#d" x="1373.0" y="390.0"/><use href="#d" x="1571.5" y="448.3"/><use href="#d" x="1478.7" y="411.8"/><use href="#d" x="1436.2" y="393.1"/><use href="#d" x="1519.2" y="372.6"/><use href="#d" x="1609.6" y="455.1"/><use href="#d" x="1471.3" y="439.7"/><use href="#d" x="1420.4" y="459.4"/><use href="#d" x="1578.2" y="465.8"/><use href="#d" x="1476.7" y="421.8"/><use href="#d" x="1413.9" y="369.8"/><use href="#d" x="1514.2" y="413.8"/><use href="#d" x="1456.6" y="363.2"/><use href="#d" x="1409.4" y="408.6"/><use href="#d" x="1497.9" y="441.2"/><use href="#d" x="1580.4" y="421.7"/><use href="#d" x="1519.1" y="497.6"/><use href="#d" x="1342.7" y="401.5"/><use href="#d" x="1527.9" y="364.1"/><use href="#d" x="1362.0" y="415.1"/><use href="#d" x="1491.6" y="385.7"/><use href="#d" x="1484.6" y="327.8"/><use href="#d" x="1439.3" y="451.1"/><use href="#d" x="1440.2" y="407.7"/><use href="#d" x="1391.5" y="465.6"/><use href="#d" x="1522.2" y="373.4"/><use href="#d" x="1514.8" y="382.3"/><use href="#d" x="1409.2" y="391.9"/><use href="#d" x="1388.0" y="393.9"/><use href="#d" x="1615.8" y="458.1"/><use href="#d" x="1433.2" y="394.5"/><use href="#d" x="1503.5" y="444.8"/><use href="#d" x="1346.7" y="422.0"/><use href="#d" x="1571.9" y="454.6"/><use href="#d" x="1503.8" y="494.8"/><use href="#d" x="1409.9" y="353.7"/><use href="#d" x="1549.3" y="478.5"/><use href="#d" x="1360.0" y="390.7"/><use href="#d" x="1437.2" y="461.2"/><use href="#d" x="1580.4" y="422.1"/><use href="#d" x="1403.0" y="452.1"/><use href="#d" x="1519.1" y="470.4"/><use href="#d" x="1475.2" y="410.3"/><use href="#d" x="1542.8" y="495.3"/><use href="#d" x="1448.3" y="438.8"/><use href="#d" x="1371.5" y="384.5"/><use href="#d" x="1439.1" y="377.3"/><use href="#d" x="1405.1" y="399.0"/><use href="#d" x="1367.2" y="440.5"/><use href="#d" x="1572.0" y="437.4"/><use href="#d" x="1329.2" y="418.3"/><use href="#d" x="1466.2" y="488.0"/><use href="#d" x="1503.0" y="354.8"/><use href="#d" x="1625.5" y="460.5"/><use href="#d" x="1465.9" y="434.1"/><use href="#d" x="1536.0" y="417.7"/><use href="#d" x="1372.2" y="424.2"/><use href="#d" x="1418.8" y="396.6"/><use href="#d" x="1439.1" y="417.9"/><use href="#d" x="1403.9" y="486.8"/><use href="#d" x="1555.1" y="379.4"/><use href="#d" x="1488.9" y="382.8"/><use href="#d" x="1478.0" y="416.0"/><use href="#d" x="1437.1" y="401.0"/><use href="#d" x="1436.6" y="357.5"/><use href="#d" x="1562.3" y="397.8"/><use href="#d" x="1513.5" y="419.3"/><use href="#d" x="1420.4" y="436.0"/><use href="#d" x="1439.7" y="468.3"/><use href="#d" x="1578.8" y="432.0"/><use href="#d" x="1436.4" y="356.4"/><use href="#d" x="1483.8" y="408.7"/><use href="#d" x="1555.0" y="473.1"/><use href="#d" x="1441.5" y="453.4"/><use href="#d" x="1415.2" y="480.3"/><use href="#d" x="1450.8" y="411.9"/><use href="#d" x="1550.4" y="431.7"/><use href="#d" x="1585.8" y="431.1"/><use href="#d" x="1515.1" y="438.0"/><use href="#d" x="1585.0" y="485.9"/><use href="#d" x="1504.6" y="362.6"/><use href="#d" x="1382.3" y="374.1"/><use href="#d" x="1352.4" y="404.7"/><use href="#d" x="1570.5" y="480.1"/><use href="#d" x="1409.9" y="405.3"/><use href="#d" x="1495.9" y="398.9"/><use href="#d" x="1378.3" y="429.9"/><use href="#d" x="1530.8" y="461.6"/><use href="#d" x="1545.4" y="465.9"/><use href="#d" x="1463.8" y="481.6"/><use href="#d" x="1429.9" y="486.3"/><use href="#d" x="1450.9" y="481.9"/><use href="#d" x="1459.1" y="401.7"/><use href="#d" x="1466.9" y="438.1"/><use href="#d" x="1460.5" y="452.8"/><use href="#d" x="1472.1" y="336.2"/><use href="#d" x="1337.2" y="439.5"/><use href="#d" x="1615.9" y="440.7"/><use href="#d" x="1411.0" y="441.9"/><use href="#d" x="1428.1" y="423.3"/><use href="#d" x="1435.2" y="406.7"/><use href="#d" x="1417.4" y="422.4"/><use href="#d" x="1581.7" y="475.2"/><use href="#d" x="1572.5" y="464.8"/><use href="#d" x="1509.2" y="450.0"/><use href="#d" x="1334.3" y="428.3"/><use href="#d" x="1451.6" y="494.6"/><use href="#d" x="1449.6" y="392.6"/><use href="#d" x="1397.3" y="428.9"/><use href="#d" x="1374.4" y="371.0"/><use href="#d" x="1518.9" y="361.6"/><use href="#d" x="1471.7" y="357.1"/><use href="#d" x="1375.1" y="404.5"/><use href="#d" x="1488.5" y="457.3"/><use href="#d" x="1416.0" y="360.9"/><use href="#d" x="1586.9" y="469.8"/><use href="#d" x="1466.1" y="401.3"/><use href="#d" x="1350.5" y="438.7"/><use href="#d" x="1574.6" y="457.6"/><use href="#d" x="1406.5" y="426.3"/><use href="#d" x="1523.7" y="472.0"/><use href="#d" x="1537.0" y="422.8"/><use href="#d" x="1397.7" y="463.6"/><use href="#d" x="1569.5" y="412.1"/><use href="#d" x="1395.2" y="379.7"/><use href="#d" x="1503.6" y="421.7"/><use href="#d" x="1531.9" y="405.7"/><use href="#d" x="1526.5" y="431.6"/><use href="#d" x="1431.3" y="375.8"/><use href="#d" x="1478.9" y="448.0"/><use href="#d" x="1525.6" y="416.6"/><use href="#d" x="1547.6" y="371.9"/><use href="#d" x="1483.3" y="383.5"/><use href="#d" x="1489.0" y="384.6"/><use href="#d" x="1494.2" y="490.9"/><use href="#d" x="1370.2" y="431.9"/><use href="#d" x="1495.4" y="431.4"/><use href="#d" x="1447.6" y="374.3"/><use href="#d" x="1390.3" y="477.6"/><use href="#d" x="1502.9" y="452.6"/><use href="#d" x="1524.5" y="478.2"/><use href="#d" x="1529.5" y="383.3"/><use href="#d" x="1530.5" y="349.1"/><use href="#d" x="1443.5" y="491.0"/><use href="#d" x="1414.3" y="413.8"/><use href="#d" x="1425.4" y="398.5"/><use href="#d" x="1454.0" y="374.5"/><use href="#d" x="1469.1" y="389.8"/><use href="#d" x="1480.7" y="450.8"/><use href="#d" x="1605.6" y="455.5"/><use href="#d" x="1402.7" y="376.1"/><use href="#d" x="1547.0" y="440.4"/><use href="#d" x="1582.2" y="428.1"/><use href="#d" x="1410.1" y="470.3"/><use href="#d" x="1487.7" y="340.6"/><use href="#d" x="1340.8" y="402.7"/><use href="#d" x="1430.0" y="375.4"/><use href="#d" x="1408.1" y="391.4"/><use href="#d" x="1598.1" y="461.5"/><use href="#d" x="1468.7" y="443.3"/><use href="#d" x="1466.0" y="407.6"/><use href="#d" x="1483.3" y="408.8"/><use href="#d" x="1401.4" y="405.8"/><use href="#d" x="1348.0" y="392.4"/><use href="#d" x="1482.4" y="491.2"/><use href="#d" x="1544.2" y="429.3"/><use href="#d" x="1517.3" y="375.0"/><use href="#d" x="1393.4" y="379.3"/><use href="#d" x="1431.3" y="478.2"/><use href="#d" x="1556.6" y="450.1"/><use href="#d" x="1367.9" y="440.2"/><use href="#d" x="1423.2" y="416.5"/><use href="#d" x="1424.5" y="395.1"/><use href="#d" x="1528.0" y="466.5"/><use href="#d" x="1372.8" y="416.4"/><use href="#d" x="1452.8" y="452.0"/><use href="#d" x="1368.1" y="439.5"/><use href="#d" x="1532.3" y="423.2"/><use href="#d" x="1599.1" y="427.5"/><use href="#d" x="1460.4" y="489.8"/><use href="#d" x="1343.0" y="401.7"/><use href="#d" x="1352.5" y="388.6"/><use href="#d" x="1555.4" y="414.8"/><use href="#d" x="1409.5" y="413.5"/><use href="#d" x="1484.7" y="494.6"/><use href="#d" x="1481.1" y="485.2"/><use href="#d" x="1519.1" y="451.1"/><use href="#d" x="1502.6" y="416.0"/><use href="#d" x="1516.8" y="496.2"/><use href="#d" x="1386.2" y="427.8"/><use href="#d" x="1531.3" y="406.6"/><use href="#d" x="1468.5" y="369.2"/><use href="#d" x="1540.5" y="503.6"/><use href="#d" x="1403.0" y="461.3"/><use href="#d" x="1506.2" y="483.9"/><use href="#d" x="1421.1" y="427.7"/><use href="#d" x="1328.5" y="425.0"/><use href="#d" x="1527.2" y="487.0"/><use href="#d" x="1498.0" y="421.0"/><use href="#d" x="1567.6" y="452.5"/><use href="#d" x="1442.8" y="491.8"/><use href="#d" x="1464.7" y="448.5"/><use href="#d" x="1414.3" y="457.1"/><use href="#d" x="1566.6" y="420.2"/><use href="#d" x="1466.2" y="390.9"/><use href="#d" x="1561.0" y="470.8"/><use href="#d" x="1499.7" y="467.1"/><use href="#d" x="1497.5" y="482.3"/><use href="#d" x="1535.8" y="390.2"/><use href="#d" x="1521.0" y="383.8"/><use href="#d" x="1531.4" y="457.7"/><use href="#d" x="1391.7" y="392.8"/><use href="#d" x="1468.9" y="473.0"/><use href="#d" x="1487.7" y="397.4"/><use href="#d" x="1381.0" y="417.0"/><use href="#d" x="1462.9" y="385.2"/><use href="#d" x="1390.5" y="410.3"/><use href="#d" x="1480.8" y="414.5"/><use href="#d" x="1390.8" y="475.0"/><use href="#d" x="1359.3" y="449.0"/><use href="#d" x="1456.6" y="388.5"/><use href="#d" x="1526.7" y="417.6"/><use href="#d" x="1417.1" y="427.3"/><use href="#d" x="1400.0" y="483.4"/><use href="#d" x="1471.5" y="379.8"/><use href="#d" x="1518.7" y="491.2"/><use href="#d" x="1436.0" y="466.1"/><use href="#d" x="1446.6" y="464.3"/><use href="#d" x="1442.4" y="398.6"/><use href="#d" x="1467.9" y="498.7"/><use href="#d" x="1541.4" y="439.0"/><use href="#d" x="1465.7" y="403.8"/><use href="#d" x="1388.8" y="376.5"/><use href="#d" x="1537.0" y="403.7"/><use href="#d" x="1589.0" y="434.5"/><use href="#d" x="1490.2" y="417.8"/><use href="#d" x="1488.6" y="347.0"/><use href="#d" x="1479.6" y="380.7"/><use href="#d" x="1410.9" y="409.6"/><use href="#d" x="1560.0" y="463.0"/><use href="#d" x="1537.9" y="406.4"/><use href="#d" x="1584.0" y="441.8"/><use href="#d" x="1495.5" y="391.4"/><use href="#d" x="1457.8" y="452.4"/><use href="#d" x="1556.2" y="395.0"/><use href="#d" x="1564.1" y="415.3"/><use href="#d" x="1537.4" y="377.2"/><use href="#d" x="1376.7" y="455.1"/><use href="#d" x="1588.9" y="431.8"/><use href="#d" x="1560.9" y="454.1"/><use href="#d" x="1357.1" y="396.7"/><use href="#d" x="1457.3" y="456.2"/><use href="#d" x="1549.9" y="419.6"/><use href="#d" x="1482.8" y="445.5"/><use href="#d" x="1458.2" y="392.4"/><use href="#d" x="1495.4" y="480.8"/><use href="#d" x="1527.0" y="429.4"/><use href="#d" x="1500.0" y="436.8"/><use href="#d" x="1546.8" y="402.0"/><use href="#d" x="1477.4" y="408.4"/><use href="#d" x="1389.4" y="360.8"/><use href="#d" x="1530.4" y="441.9"/><use href="#d" x="1543.7" y="443.9"/><use href="#d" x="1494.3" y="410.4"/><use href="#d" x="1506.4" y="350.6"/><use href="#d" x="1601.3" y="436.6"/><use href="#d" x="1552.7" y="427.8"/><use href="#d" x="1461.6" y="400.4"/><use href="#d" x="1605.2" y="452.1"/><use href="#d" x="1374.4" y="426.5"/><use href="#d" x="1427.5" y="470.9"/><use href="#d" x="1445.4" y="379.1"/><use href="#d" x="1488.6" y="366.6"/><use href="#d" x="1544.3" y="369.0"/><use href="#d" x="1511.4" y="349.4"/><use href="#d" x="1609.8" y="465.0"/><use href="#d" x="1399.6" y="478.7"/><use href="#d" x="1410.7" y="420.8"/><use href="#d" x="1454.3" y="474.4"/><use href="#d" x="1459.8" y="344.7"/><use href="#d" x="1474.2" y="368.5"/><use href="#d" x="1539.8" y="400.4"/><use href="#d" x="1409.8" y="438.9"/><use href="#d" x="1482.1" y="422.8"/><use href="#d" x="1389.0" y="397.3"/><use href="#d" x="1343.7" y="439.6"/><use href="#d" x="1484.3" y="503.6"/><use href="#d" x="1485.5" y="348.5"/><use href="#d" x="1376.3" y="466.3"/><use href="#d" x="1532.0" y="463.9"/><use href="#d" x="1398.0" y="437.4"/><use href="#d" x="1552.6" y="456.6"/><use href="#d" x="1559.4" y="443.4"/><use href="#d" x="1540.1" y="480.1"/><use href="#d" x="1419.0" y="422.5"/><use href="#d" x="1417.6" y="485.6"/><use href="#d" x="1556.8" y="461.8"/><use href="#d" x="1411.2" y="400.2"/><use href="#d" x="1504.3" y="356.8"/><use href="#d" x="1458.5" y="383.6"/><use href="#d" x="1540.3" y="431.0"/><use href="#d" x="1368.5" y="399.9"/><use href="#d" x="1518.6" y="467.1"/><use href="#d" x="1557.6" y="472.2"/><use href="#d" x="1477.4" y="459.2"/><use href="#d" x="1600.1" y="471.8"/><use href="#d" x="1443.7" y="416.5"/><use href="#d" x="1475.3" y="456.3"/><use href="#d" x="1465.7" y="343.7"/><use href="#d" x="1489.8" y="468.7"/><use href="#d" x="1567.4" y="425.7"/><use href="#d" x="1515.6" y="369.8"/><use href="#d" x="1377.3" y="461.8"/><use href="#d" x="1467.1" y="475.0"/><use href="#d" x="1451.7" y="471.9"/><use href="#d" x="1590.3" y="422.3"/><use href="#d" x="1601.2" y="447.3"/><use href="#d" x="1507.0" y="450.9"/><use href="#d" x="1472.3" y="341.3"/><use href="#d" x="1490.9" y="492.3"/><use href="#d" x="1509.5" y="453.7"/><use href="#d" x="1511.7" y="452.2"/><use href="#d" x="1467.5" y="465.9"/><use href="#d" x="1380.3" y="473.7"/><use href="#d" x="1373.6" y="457.0"/><use href="#d" x="1547.0" y="425.7"/><use href="#d" x="1421.6" y="461.6"/><use href="#d" x="1555.2" y="443.4"/><use href="#d" x="1363.8" y="399.9"/><use href="#d" x="1533.5" y="496.1"/><use href="#d" x="1399.9" y="367.5"/><use href="#d" x="1519.4" y="452.1"/><use href="#d" x="1516.8" y="412.4"/><use href="#d" x="1449.9" y="405.6"/><use href="#d" x="1359.8" y="421.1"/><use href="#d" x="1493.2" y="439.8"/><use href="#d" x="1493.6" y="398.1"/><use href="#d" x="1343.0" y="429.9"/><use href="#d" x="1412.9" y="417.7"/><use href="#d" x="1406.0" y="402.1"/><use href="#d" x="1541.5" y="414.2"/><use href="#d" x="1335.1" y="426.7"/><use href="#d" x="1382.9" y="407.6"/><use href="#d" x="1507.2" y="501.1"/><use href="#d" x="1511.4" y="454.9"/><use href="#d" x="1418.6" y="374.5"/><use href="#d" x="1494.1" y="401.2"/><use href="#d" x="1507.4" y="406.0"/><use href="#d" x="1475.7" y="362.4"/><use href="#d" x="1454.4" y="368.9"/><use href="#d" x="1375.9" y="439.0"/><use href="#d" x="1528.0" y="378.7"/><use href="#d" x="1502.6" y="390.3"/><use href="#d" x="1538.5" y="464.8"/><use href="#d" x="1500.8" y="492.0"/><use href="#d" x="1537.1" y="403.5"/><use href="#d" x="1370.6" y="453.9"/><use href="#d" x="1532.9" y="388.5"/><use href="#d" x="1542.4" y="472.4"/><use href="#d" x="1532.4" y="359.5"/><use href="#d" x="1587.4" y="459.4"/><use href="#d" x="1552.7" y="448.0"/><use href="#d" x="1394.8" y="439.0"/><use href="#d" x="1474.4" y="499.9"/><use href="#d" x="1474.3" y="501.8"/><use href="#d" x="1466.7" y="388.0"/><use href="#d" x="1449.1" y="468.9"/><use href="#d" x="1565.1" y="416.8"/><use href="#d" x="1477.1" y="419.2"/><use href="#d" x="1497.1" y="384.6"/><use href="#d" x="1543.4" y="484.8"/><use href="#d" x="1356.9" y="440.8"/><use href="#d" x="1437.8" y="434.8"/><use href="#d" x="1387.0" y="380.1"/><use href="#d" x="1419.9" y="396.3"/><use href="#d" x="1528.2" y="368.1"/><use href="#d" x="1550.8" y="441.4"/><use href="#d" x="1537.0" y="393.3"/><use href="#d" x="1413.5" y="470.5"/><use href="#d" x="1597.4" y="438.3"/><use href="#d" x="1462.2" y="477.6"/><use href="#d" x="1457.7" y="492.1"/><use href="#d" x="1362.7" y="407.9"/><use href="#d" x="1472.6" y="382.7"/><use href="#d" x="1470.9" y="434.3"/><use href="#d" x="1595.1" y="435.7"/><use href="#d" x="1375.4" y="396.7"/><use href="#d" x="1556.4" y="394.9"/><use href="#d" x="1324.8" y="420.5"/><use href="#d" x="1501.0" y="336.8"/><use href="#d" x="1376.7" y="418.8"/><use href="#d" x="1458.3" y="478.9"/><use href="#d" x="1547.0" y="377.4"/><use href="#d" x="1504.7" y="408.8"/><use href="#d" x="1578.7" y="453.1"/><use href="#d" x="1517.6" y="412.7"/><use href="#d" x="1527.5" y="473.0"/><use href="#d" x="1529.2" y="496.5"/><use href="#d" x="1478.4" y="406.6"/><use href="#d" x="1594.6" y="477.6"/><use href="#d" x="1533.0" y="456.6"/><use href="#d" x="1354.7" y="410.4"/><use href="#d" x="1581.1" y="453.5"/><use href="#d" x="1545.9" y="423.2"/><use href="#d" x="1583.6" y="420.0"/><use href="#d" x="1476.6" y="503.7"/><use href="#d" x="1563.5" y="410.1"/><use href="#d" x="1340.8" y="418.8"/><use href="#d" x="1533.6" y="495.5"/><use href="#d" x="1379.1" y="471.2"/><use href="#d" x="1582.1" y="416.4"/><use href="#d" x="1515.4" y="343.4"/><use href="#d" x="1363.1" y="421.6"/><use href="#d" x="1363.8" y="442.8"/><use href="#d" x="1588.4" y="468.5"/><use href="#d" x="1522.7" y="399.3"/><use href="#d" x="1532.9" y="504.1"/><use href="#d" x="1401.5" y="431.6"/><use href="#d" x="1490.2" y="457.1"/><use href="#d" x="1381.9" y="454.1"/><use href="#d" x="1456.4" y="363.6"/><use href="#d" x="1513.8" y="412.2"/><use href="#d" x="1494.0" y="472.5"/><use href="#d" x="1484.5" y="338.1"/><use href="#d" x="1485.0" y="457.8"/><use href="#d" x="1549.0" y="457.5"/><use href="#d" x="1537.0" y="498.6"/><use href="#d" x="1504.7" y="414.0"/><use href="#d" x="1408.9" y="489.7"/><use href="#d" x="1480.5" y="375.4"/><use href="#d" x="1384.3" y="418.5"/><use href="#d" x="1537.6" y="494.7"/><use href="#d" x="1471.0" y="392.5"/><use href="#d" x="1515.3" y="396.2"/><use href="#d" x="1392.5" y="443.1"/><use href="#d" x="1501.2" y="396.5"/><use href="#d" x="1559.8" y="455.8"/><use href="#d" x="1502.6" y="472.8"/><use href="#d" x="1461.5" y="488.3"/><use href="#d" x="1567.3" y="479.6"/><use href="#d" x="1490.5" y="506.2"/><use href="#d" x="1526.7" y="431.3"/><use href="#d" x="1541.9" y="437.8"/><use href="#d" x="1549.1" y="444.9"/><use href="#d" x="1581.2" y="448.9"/><use href="#d" x="1572.2" y="442.8"/><use href="#d" x="1495.8" y="444.9"/><use href="#d" x="1518.8" y="414.0"/><use href="#d" x="1431.5" y="424.0"/><use href="#d" x="1511.1" y="502.0"/><use href="#d" x="1487.0" y="446.9"/><use href="#d" x="1390.1" y="356.7"/><use href="#d" x="1490.6" y="340.3"/><use href="#d" x="1426.0" y="352.0"/><use href="#d" x="1455.2" y="498.4"/><use href="#d" x="1540.9" y="421.9"/><use href="#d" x="1357.6" y="440.8"/><use href="#d" x="1501.8" y="368.1"/><use href="#d" x="1419.9" y="482.4"/><use href="#d" x="1505.1" y="376.3"/><use href="#d" x="1516.4" y="347.9"/><use href="#d" x="1520.3" y="444.0"/><use href="#d" x="1563.2" y="425.3"/><use href="#d" x="1451.0" y="448.0"/><use href="#d" x="1445.3" y="344.3"/><use href="#d" x="1493.2" y="474.3"/><use href="#d" x="1483.8" y="391.2"/><use href="#d" x="1531.4" y="505.8"/><use href="#d" x="1400.4" y="474.0"/><use href="#d" x="1378.6" y="389.5"/><use href="#d" x="1507.9" y="343.8"/><use href="#d" x="1533.0" y="382.8"/><use href="#d" x="1510.2" y="448.4"/><use href="#d" x="1569.7" y="473.2"/><use href="#d" x="1419.9" y="482.9"/><use href="#d" x="1402.2" y="362.5"/><use href="#d" x="1345.7" y="414.1"/><use href="#d" x="1444.2" y="479.1"/><use href="#d" x="1421.0" y="352.4"/><use href="#d" x="1483.7" y="445.1"/><use href="#d" x="1430.8" y="347.3"/><use href="#d" x="1388.0" y="372.1"/><use href="#d" x="1460.8" y="447.4"/><use href="#d" x="1436.7" y="367.8"/><use href="#d" x="1616.3" y="443.3"/><use href="#d" x="1462.0" y="421.6"/><use href="#d" x="1551.9" y="444.0"/><use href="#d" x="1452.6" y="461.2"/><use href="#d" x="1502.2" y="375.9"/><use href="#d" x="1430.9" y="433.7"/><use href="#d" x="1405.7" y="383.2"/><use href="#d" x="1386.6" y="363.2"/><use href="#d" x="1471.6" y="409.8"/><use href="#d" x="1491.2" y="327.8"/><use href="#d" x="1499.8" y="490.7"/><use href="#d" x="1472.0" y="396.3"/><use href="#d" x="1521.5" y="503.9"/><use href="#d" x="1436.8" y="450.3"/><use href="#d" x="1498.2" y="474.7"/><use href="#d" x="1458.3" y="463.7"/><use href="#d" x="1592.0" y="479.3"/><use href="#d" x="1531.0" y="454.1"/><use href="#d" x="1540.5" y="430.2"/><use href="#d" x="1443.3" y="410.8"/><use href="#d" x="1444.4" y="437.7"/><use href="#d" x="1536.6" y="473.8"/><use href="#d" x="1485.1" y="359.6"/><use href="#d" x="1475.0" y="459.9"/><use href="#d" x="1469.7" y="358.6"/><use href="#d" x="1503.5" y="481.6"/><use href="#d" x="1597.2" y="474.0"/><use href="#d" x="1596.5" y="440.7"/><use href="#d" x="1623.2" y="445.0"/><use href="#d" x="1415.7" y="414.2"/><use href="#d" x="1514.1" y="387.2"/><use href="#d" x="1343.3" y="418.2"/><use href="#d" x="1441.0" y="413.5"/><use href="#d" x="1558.7" y="398.2"/><use href="#d" x="1447.1" y="445.0"/><use href="#d" x="1378.2" y="450.8"/><use href="#d" x="1510.6" y="385.8"/><use href="#d" x="1439.7" y="475.8"/><use href="#d" x="1397.2" y="372.7"/><use href="#d" x="1481.4" y="399.0"/><use href="#d" x="1473.7" y="353.0"/><use href="#d" x="1623.1" y="446.4"/><use href="#d" x="1511.4" y="469.9"/><use href="#d" x="1476.0" y="372.0"/><use href="#d" x="1428.2" y="470.6"/><use href="#d" x="1482.4" y="381.8"/><use href="#d" x="1430.2" y="365.4"/><use href="#d" x="1455.5" y="378.3"/><use href="#d" x="1577.0" y="476.9"/><use href="#d" x="1415.4" y="356.6"/><use href="#d" x="1480.2" y="450.4"/><use href="#d" x="1338.9" y="395.5"/><use href="#d" x="1408.8" y="438.0"/><use href="#d" x="1444.7" y="381.1"/><use href="#d" x="1541.4" y="447.9"/><use href="#d" x="1511.0" y="383.1"/><use href="#d" x="1401.4" y="399.4"/><use href="#d" x="1386.5" y="421.8"/><use href="#d" x="1469.5" y="353.8"/><use href="#d" x="1456.9" y="481.9"/><use href="#d" x="1477.6" y="348.0"/><use href="#d" x="1407.1" y="487.0"/><use href="#d" x="1474.9" y="435.7"/><use href="#d" x="1516.1" y="490.5"/><use href="#d" x="1548.8" y="375.3"/><use href="#d" x="1380.6" y="459.0"/><use href="#d" x="1490.1" y="498.3"/><use href="#d" x="1467.4" y="390.4"/><use href="#d" x="1572.1" y="444.4"/><use href="#d" x="1352.4" y="383.8"/><use href="#d" x="1598.9" y="463.5"/><use href="#d" x="1455.4" y="346.9"/><use href="#d" x="1506.3" y="389.5"/><use href="#d" x="1496.5" y="337.8"/><use href="#d" x="1555.7" y="437.4"/><use href="#d" x="1504.6" y="435.7"/><use href="#d" x="1380.2" y="421.1"/><use href="#d" x="1501.6" y="444.3"/><use href="#d" x="1499.6" y="413.1"/><use href="#d" x="1464.9" y="376.7"/><use href="#d" x="1493.3" y="400.5"/><use href="#d" x="1420.2" y="386.0"/><use href="#d" x="1564.2" y="455.4"/><use href="#d" x="1561.9" y="433.3"/><use href="#d" x="1609.0" y="467.9"/><use href="#d" x="1416.0" y="373.6"/><use href="#d" x="1497.5" y="469.7"/><use href="#d" x="1572.6" y="485.5"/><use href="#d" x="1382.0" y="373.9"/><use href="#d" x="1363.3" y="438.5"/><use href="#d" x="1410.9" y="368.3"/><use href="#d" x="1374.8" y="474.4"/><use href="#d" x="1427.4" y="465.7"/><use href="#d" x="1472.0" y="427.2"/><use href="#d" x="1454.1" y="438.3"/><use href="#d" x="1398.9" y="352.8"/><use href="#d" x="1334.8" y="405.2"/><use href="#d" x="1449.4" y="356.7"/><use href="#d" x="1502.0" y="469.8"/><use href="#d" x="1500.0" y="501.1"/><use href="#d" x="1341.9" y="443.7"/><use href="#d" x="1503.9" y="359.0"/><use href="#d" x="1503.4" y="482.0"/><use href="#d" x="1389.1" y="372.6"/><use href="#d" x="1462.2" y="436.5"/><use href="#d" x="1566.0" y="438.9"/><use href="#d" x="1534.8" y="477.2"/><use href="#d" x="1531.3" y="493.2"/><use href="#d" x="1487.8" y="365.0"/><use href="#d" x="1470.8" y="404.8"/><use href="#d" x="1527.9" y="398.0"/><use href="#d" x="1523.6" y="380.9"/><use href="#d" x="1547.6" y="437.1"/><use href="#d" x="1333.0" y="406.6"/><use href="#d" x="1551.6" y="424.8"/><use href="#d" x="1504.2" y="460.6"/><use href="#d" x="1411.9" y="463.2"/><use href="#d" x="1559.7" y="412.3"/><use href="#d" x="1606.7" y="453.4"/><use href="#d" x="1369.9" y="414.6"/><use href="#d" x="1504.3" y="340.2"/><use href="#d" x="1387.5" y="483.2"/><use href="#d" x="1379.1" y="419.8"/><use href="#d" x="1484.5" y="400.4"/><use href="#d" x="1588.0" y="433.7"/><use href="#d" x="1319.9" y="410.1"/><use href="#d" x="1514.3" y="419.8"/><use href="#d" x="1584.9" y="417.9"/><use href="#d" x="1482.6" y="396.4"/><use href="#d" x="1492.8" y="351.2"/><use href="#d" x="1474.3" y="376.4"/><use href="#d" x="1500.4" y="454.2"/><use href="#d" x="1356.7" y="396.9"/><use href="#d" x="1423.5" y="488.6"/><use href="#d" x="1548.7" y="495.3"/><use href="#d" x="1573.4" y="459.6"/><use href="#d" x="1436.9" y="384.2"/><use href="#d" x="1494.8" y="384.6"/><use href="#d" x="1479.0" y="504.4"/><use href="#d" x="1475.7" y="490.6"/><use href="#d" x="1448.0" y="407.8"/><use href="#d" x="1444.6" y="415.5"/><use href="#d" x="1396.9" y="417.0"/><use href="#d" x="1416.0" y="542.4"/><use href="#d" x="1462.2" y="544.6"/><use href="#d" x="1453.2" y="578.5"/><use href="#d" x="1520.5" y="581.7"/><use href="#d" x="1451.6" y="552.3"/><use href="#d" x="1494.5" y="555.2"/><use href="#d" x="1490.2" y="587.1"/><use href="#d" x="1487.4" y="537.3"/><use href="#d" x="1472.9" y="583.1"/><use href="#d" x="1490.4" y="600.2"/><use href="#d" x="1475.2" y="601.7"/><use href="#d" x="1455.5" y="553.4"/><use href="#d" x="1454.2" y="576.7"/><use href="#d" x="1442.4" y="566.0"/><use href="#d" x="1504.2" y="575.7"/><use href="#d" x="1537.7" y="579.4"/><use href="#d" x="1418.2" y="539.4"/><use href="#d" x="1449.2" y="566.1"/><use href="#d" x="1471.0" y="582.4"/><use href="#d" x="1464.1" y="543.1"/><use href="#d" x="1531.8" y="571.8"/><use href="#d" x="1532.0" y="546.1"/><use href="#d" x="1536.4" y="544.1"/><use href="#d" x="1493.3" y="543.6"/><use href="#d" x="1497.6" y="557.3"/><use href="#d" x="1538.4" y="558.6"/><use href="#d" x="1454.5" y="585.2"/><use href="#d" x="1519.0" y="573.6"/><use href="#d" x="1427.5" y="551.7"/><use href="#d" x="1471.2" y="577.7"/><use href="#d" x="1434.6" y="566.3"/><use href="#d" x="1459.1" y="531.1"/><use href="#d" x="1435.4" y="536.1"/><use href="#d" x="1456.5" y="524.0"/><use href="#d" x="1460.1" y="566.4"/><use href="#d" x="1477.5" y="591.1"/><use href="#d" x="1508.0" y="577.4"/><use href="#d" x="1454.6" y="561.5"/><use href="#d" x="1409.0" y="528.3"/><use href="#d" x="1481.2" y="590.3"/><use href="#d" x="1461.5" y="522.7"/><use href="#d" x="1509.5" y="547.5"/><use href="#d" x="1480.3" y="601.1"/><use href="#d" x="1512.3" y="564.1"/><use href="#d" x="1461.4" y="573.1"/><use href="#d" x="1418.3" y="528.1"/><use href="#d" x="1504.1" y="566.4"/><use href="#d" x="1501.0" y="565.0"/><use href="#d" x="1506.0" y="527.3"/><use href="#d" x="1467.5" y="550.5"/><use href="#d" x="1505.1" y="526.1"/><use href="#d" x="1486.0" y="550.9"/><use href="#d" x="1495.8" y="540.5"/><use href="#d" x="1434.2" y="526.7"/><use href="#d" x="1492.6" y="524.3"/><use href="#d" x="1406.6" y="537.4"/><use href="#d" x="1443.3" y="580.6"/><use href="#d" x="1475.8" y="595.8"/><use href="#d" x="1459.7" y="561.3"/><use href="#d" x="1499.1" y="560.2"/><use href="#d" x="1458.0" y="583.2"/><use href="#d" x="1432.7" y="556.8"/><use href="#d" x="1467.7" y="589.7"/><use href="#d" x="1436.9" y="539.5"/><use href="#d" x="1469.3" y="548.9"/><use href="#d" x="1517.0" y="555.6"/><use href="#d" x="1484.8" y="574.6"/><use href="#d" x="1484.8" y="548.5"/><use href="#d" x="1446.8" y="561.8"/><use href="#d" x="1446.6" y="566.6"/><use href="#d" x="1473.2" y="555.9"/><use href="#d" x="1429.3" y="558.1"/><use href="#d" x="1494.6" y="580.8"/><use href="#d" x="1472.4" y="556.7"/><use href="#d" x="1546.7" y="558.5"/><use href="#d" x="1440.0" y="549.0"/><use href="#d" x="1511.6" y="560.9"/><use href="#d" x="1516.6" y="582.9"/><use href="#d" x="1479.5" y="584.4"/><use href="#d" x="1441.2" y="534.5"/><use href="#d" x="1458.3" y="525.2"/><use href="#d" x="1421.9" y="557.6"/><use href="#d" x="1488.4" y="600.7"/><use href="#d" x="1450.9" y="525.7"/><use href="#d" x="1521.7" y="533.0"/><use href="#d" x="1516.5" y="529.0"/><use href="#d" x="1499.6" y="525.2"/><use href="#d" x="1440.1" y="587.3"/><use href="#d" x="1418.5" y="565.0"/><use href="#d" x="1429.3" y="565.6"/><use href="#d" x="1428.3" y="526.8"/><use href="#d" x="1456.0" y="580.0"/><use href="#d" x="1480.3" y="566.0"/><use href="#d" x="1478.1" y="567.5"/><use href="#d" x="1423.4" y="556.7"/><use href="#d" x="1414.9" y="525.5"/><use href="#d" x="1424.5" y="552.3"/><use href="#d" x="1532.9" y="581.6"/><use href="#d" x="1440.5" y="572.7"/><use href="#d" x="1508.1" y="552.9"/><use href="#d" x="1469.9" y="551.2"/><use href="#d" x="1529.7" y="572.5"/><use href="#d" x="1417.7" y="524.9"/><use href="#d" x="1520.0" y="542.5"/><use href="#d" x="1466.0" y="571.0"/><use href="#d" x="1445.5" y="583.8"/><use href="#d" x="1489.1" y="599.7"/><use href="#d" x="1500.1" y="536.3"/><use href="#d" x="1517.7" y="540.0"/><use href="#d" x="1476.7" y="546.8"/><use href="#d" x="1435.9" y="537.2"/><use href="#d" x="1490.4" y="532.8"/><use href="#d" x="1438.0" y="532.9"/><use href="#d" x="1468.0" y="568.3"/><use href="#d" x="1429.8" y="525.8"/><use href="#d" x="1414.2" y="539.4"/><use href="#d" x="1440.8" y="526.4"/><use href="#d" x="1472.6" y="522.5"/><use href="#d" x="1432.8" y="536.1"/><use href="#d" x="1511.5" y="565.3"/><use href="#d" x="1423.7" y="564.1"/><use href="#d" x="1472.7" y="553.7"/><use href="#d" x="1471.4" y="556.3"/><use href="#d" x="1443.3" y="557.9"/><use href="#d" x="1422.9" y="528.3"/><use href="#d" x="1486.7" y="558.1"/><use href="#d" x="1488.5" y="563.7"/><use href="#d" x="1491.4" y="540.9"/><use href="#d" x="1439.2" y="541.4"/><use href="#d" x="1469.9" y="590.8"/><use href="#d" x="1520.1" y="535.6"/><use href="#d" x="1482.1" y="521.8"/><use href="#d" x="1521.7" y="547.9"/><use href="#d" x="1525.4" y="571.7"/><use href="#d" x="1485.9" y="541.0"/><use href="#d" x="1518.7" y="535.5"/><use href="#d" x="1421.7" y="544.8"/><use href="#d" x="1502.1" y="581.2"/><use href="#d" x="1473.4" y="533.5"/><use href="#d" x="1513.3" y="558.5"/><use href="#d" x="1436.7" y="545.9"/><use href="#d" x="1440.1" y="583.1"/><use href="#d" x="1525.8" y="587.8"/><use href="#d" x="1534.8" y="548.9"/><use href="#d" x="1453.8" y="526.3"/><use href="#d" x="1483.7" y="574.5"/><use href="#d" x="1510.4" y="529.2"/><use href="#d" x="1483.5" y="579.2"/><use href="#d" x="1474.1" y="543.3"/><use href="#d" x="1483.2" y="564.8"/><use href="#d" x="1495.7" y="544.9"/><use href="#d" x="1542.0" y="547.2"/><use href="#d" x="1518.3" y="583.4"/><use href="#d" x="1422.3" y="547.6"/><use href="#d" x="1466.4" y="595.4"/><use href="#d" x="1493.2" y="585.1"/><use href="#d" x="1436.3" y="550.4"/><use href="#d" x="1524.3" y="579.8"/><use href="#d" x="1501.6" y="576.7"/><use href="#d" x="1442.7" y="529.1"/><use href="#d" x="1489.8" y="569.4"/><use href="#d" x="1530.9" y="539.1"/><use href="#d" x="1473.5" y="559.9"/><use href="#d" x="1479.0" y="543.3"/><use href="#d" x="1447.6" y="528.9"/><use href="#d" x="1456.6" y="592.6"/><use href="#d" x="1480.0" y="525.8"/><use href="#d" x="1457.9" y="582.8"/><use href="#d" x="1448.5" y="574.3"/><use href="#d" x="1432.4" y="546.5"/><use href="#d" x="1516.9" y="534.0"/><use href="#d" x="1469.4" y="589.0"/><use href="#d" x="1409.9" y="530.5"/><use href="#d" x="1411.1" y="533.7"/><use href="#d" x="1494.0" y="543.6"/><use href="#d" x="1488.8" y="565.2"/><use href="#d" x="1491.3" y="573.3"/><use href="#d" x="1463.9" y="590.5"/><use href="#d" x="1492.5" y="592.3"/><use href="#d" x="1480.0" y="577.8"/><use href="#d" x="1515.5" y="571.3"/><use href="#d" x="1472.7" y="536.1"/><use href="#d" x="1528.0" y="572.7"/><use href="#d" x="1457.5" y="582.7"/><use href="#d" x="1471.8" y="575.3"/><use href="#d" x="1465.3" y="537.9"/><use href="#d" x="1498.6" y="528.2"/><use href="#d" x="1465.3" y="583.6"/><use href="#d" x="1538.9" y="576.1"/><use href="#d" x="1539.3" y="559.4"/><use href="#d" x="1452.7" y="573.5"/><use href="#d" x="1511.3" y="568.6"/><use href="#d" x="1406.2" y="532.0"/><use href="#d" x="1462.4" y="545.7"/><use href="#d" x="1495.0" y="568.3"/><use href="#d" x="1410.9" y="543.1"/><use href="#d" x="1470.9" y="552.0"/><use href="#d" x="1412.3" y="542.1"/><use href="#d" x="1415.4" y="564.6"/><use href="#d" x="1536.6" y="570.9"/><use href="#d" x="1491.8" y="574.8"/><use href="#d" x="1449.3" y="555.7"/><use href="#d" x="1476.8" y="581.8"/><use href="#d" x="1489.7" y="559.9"/><use href="#d" x="1519.0" y="565.9"/><use href="#d" x="1410.3" y="561.5"/><use href="#d" x="1456.1" y="549.0"/><use href="#d" x="1434.3" y="527.9"/><use href="#d" x="1499.4" y="588.2"/><use href="#d" x="1537.3" y="536.6"/><use href="#d" x="1499.9" y="570.6"/><use href="#d" x="1510.8" y="531.0"/><use href="#d" x="1469.7" y="535.7"/><use href="#d" x="1491.8" y="574.4"/><use href="#d" x="1479.1" y="584.0"/><use href="#d" x="1424.6" y="558.3"/><use href="#d" x="1403.3" y="537.8"/><use href="#d" x="1416.7" y="543.1"/><use href="#d" x="1444.9" y="566.0"/><use href="#d" x="1442.7" y="538.2"/><use href="#d" x="1473.4" y="600.1"/><use href="#d" x="1436.6" y="533.6"/><use href="#d" x="1476.9" y="599.9"/><use href="#d" x="1503.6" y="578.2"/><use href="#d" x="1471.0" y="592.9"/><use href="#d" x="1410.1" y="547.5"/><use href="#d" x="1498.3" y="546.6"/><use href="#d" x="1458.5" y="549.8"/><use href="#d" x="1523.7" y="536.3"/><use href="#d" x="1510.9" y="534.8"/><use href="#d" x="1495.3" y="568.0"/><use href="#d" x="1504.5" y="540.1"/><use href="#d" x="1437.3" y="539.5"/><use href="#d" x="1493.1" y="598.7"/><use href="#d" x="1416.4" y="545.5"/><use href="#d" x="1547.0" y="565.2"/><use href="#d" x="1473.0" y="555.0"/><use href="#d" x="1482.2" y="585.5"/><use href="#d" x="1410.0" y="558.6"/><use href="#d" x="1459.1" y="530.9"/><use href="#d" x="1432.1" y="556.5"/><use href="#d" x="1474.7" y="537.9"/><use href="#d" x="1483.3" y="547.0"/><use href="#d" x="1441.4" y="572.6"/><use href="#d" x="1476.1" y="604.1"/><use href="#d" x="1516.4" y="564.0"/><use href="#d" x="1531.2" y="582.6"/><use href="#d" x="1498.3" y="531.3"/><use href="#d" x="1511.8" y="545.7"/><use href="#d" x="1482.6" y="544.0"/><use href="#d" x="1531.7" y="558.8"/><use href="#d" x="1462.6" y="583.5"/><use href="#d" x="1438.1" y="569.3"/><use href="#d" x="1458.0" y="533.6"/><use href="#d" x="1501.3" y="583.7"/><use href="#d" x="1491.2" y="558.0"/><use href="#d" x="1406.2" y="535.8"/><use href="#d" x="1511.2" y="565.2"/><use href="#d" x="1447.5" y="577.4"/><use href="#d" x="1453.9" y="547.5"/><use href="#d" x="1490.9" y="536.5"/><use href="#d" x="1429.3" y="536.6"/><use href="#d" x="1467.5" y="544.2"/><use href="#d" x="1446.8" y="546.4"/><use href="#d" x="1522.7" y="552.2"/><use href="#d" x="1461.5" y="587.3"/><use href="#d" x="1478.2" y="579.0"/><use href="#d" x="1499.8" y="568.7"/><use href="#d" x="1540.7" y="566.3"/><use href="#d" x="1483.4" y="585.9"/><use href="#d" x="1470.6" y="549.6"/><use href="#d" x="1498.2" y="555.8"/><use href="#d" x="1453.8" y="562.2"/><use href="#d" x="1464.5" y="550.4"/><use href="#d" x="1470.7" y="525.4"/><use href="#d" x="1503.6" y="538.2"/><use href="#d" x="1432.5" y="557.8"/><use href="#d" x="1484.2" y="599.4"/><use href="#d" x="1531.2" y="529.6"/><use href="#d" x="1492.4" y="591.5"/><use href="#d" x="1421.9" y="547.9"/><use href="#d" x="1463.6" y="582.0"/><use href="#d" x="1473.7" y="529.2"/><use href="#d" x="1460.4" y="571.9"/><use href="#d" x="1475.8" y="547.9"/><use href="#d" x="1517.4" y="527.5"/><use href="#d" x="1472.7" y="581.0"/><use href="#d" x="1522.4" y="583.5"/><use href="#d" x="1515.6" y="568.6"/><use href="#d" x="1539.7" y="542.9"/><use href="#d" x="1475.0" y="551.3"/><use href="#d" x="1481.3" y="589.7"/><use href="#d" x="1532.1" y="573.3"/><use href="#d" x="1524.5" y="587.1"/><use href="#d" x="1452.1" y="542.0"/><use href="#d" x="1529.1" y="549.8"/><use href="#d" x="1412.1" y="534.7"/><use href="#d" x="1432.3" y="543.4"/><use href="#d" x="1408.9" y="544.0"/><use href="#d" x="1528.6" y="543.3"/><use href="#d" x="1421.1" y="539.6"/><use href="#d" x="1538.2" y="535.5"/><use href="#d" x="1461.5" y="577.3"/><use href="#d" x="1445.4" y="576.0"/><use href="#d" x="1523.5" y="546.9"/><use href="#d" x="1487.7" y="560.0"/><use href="#d" x="1478.8" y="564.9"/><use href="#d" x="1470.5" y="519.5"/><use href="#d" x="1423.7" y="538.3"/><use href="#d" x="1518.6" y="572.1"/><use href="#d" x="1441.8" y="533.2"/><use href="#d" x="1406.4" y="563.6"/><use href="#d" x="1520.9" y="541.4"/><use href="#d" x="1539.2" y="538.1"/><use href="#d" x="1501.6" y="563.6"/><use href="#d" x="1448.1" y="531.3"/><use href="#d" x="1465.5" y="529.4"/><use href="#d" x="1481.1" y="569.5"/><use href="#d" x="1511.6" y="550.7"/><use href="#d" x="1466.4" y="582.3"/><use href="#d" x="1456.9" y="525.2"/><use href="#d" x="1533.6" y="530.2"/><use href="#d" x="1410.4" y="537.9"/><use href="#d" x="1527.8" y="584.1"/><use href="#d" x="1482.0" y="594.2"/><use href="#d" x="1425.0" y="540.4"/><use href="#d" x="1480.7" y="555.3"/><use href="#d" x="1450.5" y="567.3"/><use href="#d" x="1452.9" y="588.2"/><use href="#d" x="1416.9" y="541.2"/><use href="#d" x="1525.1" y="587.0"/><use href="#d" x="1499.6" y="567.9"/><use href="#d" x="1448.9" y="534.0"/><use href="#d" x="1466.0" y="599.7"/><use href="#d" x="1514.5" y="531.6"/><use href="#d" x="1479.2" y="539.0"/><use href="#d" x="1508.5" y="566.0"/><use href="#d" x="1458.8" y="566.4"/><use href="#d" x="1509.3" y="580.1"/><use href="#d" x="1422.3" y="539.3"/><use href="#d" x="1543.4" y="558.5"/><use href="#d" x="1410.6" y="551.4"/><use href="#d" x="1445.2" y="556.8"/><use href="#d" x="1484.5" y="581.7"/><use href="#d" x="1493.7" y="591.7"/><use href="#d" x="1466.1" y="554.0"/><use href="#d" x="1509.2" y="572.5"/><use href="#d" x="1421.2" y="561.2"/><use href="#d" x="1485.4" y="529.8"/><use href="#d" x="1451.7" y="559.3"/><use href="#d" x="1434.7" y="538.6"/><use href="#d" x="1461.4" y="528.4"/><use href="#d" x="1448.0" y="552.2"/><use href="#d" x="1439.7" y="536.3"/><use href="#d" x="1464.5" y="576.1"/><use href="#d" x="1410.6" y="546.0"/><use href="#d" x="1444.1" y="569.0"/><use href="#d" x="1416.1" y="527.3"/><use href="#d" x="1542.0" y="565.5"/><use href="#d" x="1490.5" y="530.9"/><use href="#d" x="1408.4" y="549.0"/><use href="#d" x="1474.4" y="552.4"/><use href="#d" x="1513.0" y="533.5"/><use href="#d" x="1526.9" y="570.9"/><use href="#d" x="1517.8" y="581.4"/><use href="#d" x="1471.7" y="573.4"/><use href="#d" x="1475.9" y="578.0"/><use href="#d" x="1456.7" y="529.2"/><use href="#d" x="1422.1" y="540.4"/><use href="#d" x="1536.0" y="555.4"/><use href="#d" x="1504.4" y="546.7"/><use href="#d" x="1525.1" y="573.0"/><use href="#d" x="1517.2" y="532.4"/><use href="#d" x="1515.2" y="529.1"/><use href="#d" x="1522.2" y="578.9"/><use href="#d" x="1428.8" y="556.6"/><use href="#d" x="1499.5" y="532.7"/><use href="#d" x="1431.4" y="532.6"/><use href="#d" x="1434.5" y="565.6"/><use href="#d" x="1428.5" y="540.8"/><use href="#d" x="1534.0" y="533.4"/><use href="#d" x="1477.7" y="556.4"/><use href="#d" x="1541.4" y="548.7"/><use href="#d" x="1517.8" y="552.5"/><use href="#d" x="1466.0" y="582.3"/><use href="#d" x="1450.2" y="570.8"/><use href="#d" x="1492.1" y="587.9"/><use href="#d" x="1458.2" y="576.4"/><use href="#d" x="1456.5" y="539.5"/><use href="#d" x="1413.6" y="550.6"/><use href="#d" x="1497.3" y="540.7"/><use href="#d" x="1476.4" y="590.7"/><use href="#d" x="1512.3" y="547.4"/><use href="#d" x="1523.3" y="536.2"/><use href="#d" x="1489.8" y="538.4"/><use href="#d" x="1468.3" y="549.2"/><use href="#d" x="1486.2" y="544.6"/><use href="#d" x="1542.8" y="561.0"/><use href="#d" x="1436.4" y="534.7"/><use href="#d" x="1464.2" y="522.4"/><use href="#d" x="1560.8" y="338.2"/><use href="#d" x="1560.8" y="344.1"/><use href="#d" x="1385.4" y="351.3"/><use href="#d" x="1395.0" y="346.5"/><use href="#d" x="1411.7" y="513.5"/><use href="#d" x="1418.8" y="513.5"/><use href="#d" x="1465.3" y="515.9"/><use href="#d" x="1558.4" y="513.5"/><use href="#d" x="1597.7" y="477.7"/><use href="#d" x="1626.4" y="462.2"/><use href="#d" x="1411.0" y="513.4"/><use href="#d" x="1418.6" y="514.2"/><use href="#d" x="1558.2" y="514.9"/><use href="#eG" x="1393.8" y="388.3"/><use href="#eR" x="1406.9" y="388.3"/><use href="#eY" x="1390.2" y="397.1"/><use href="#eY" x="1397.3" y="404.2"/><use href="#eY" x="1421.9" y="392.3"/><use href="#eB" x="1342.5" y="416.9"/><use href="#eG" x="1347.3" y="423.6"/><use href="#eO" x="1352.5" y="427.6"/><use href="#eO" x="1355.6" y="443.1"/><use href="#eG" x="1431.9" y="426.0"/><use href="#eO" x="1453.4" y="418.6"/><use href="#eG" x="1459.8" y="421.7"/><use href="#eR" x="1411.7" y="436.5"/><use href="#eY" x="1457.0" y="435.3"/><use href="#eC" x="1474.9" y="432.4"/><use href="#eC" x="1473.7" y="440.7"/><use href="#eO" x="1424.8" y="446.2"/><use href="#eO" x="1432.4" y="452.0"/><use href="#eG" x="1452.2" y="459.8"/><use href="#eO" x="1459.8" y="457.0"/><use href="#eY" x="1475.6" y="459.8"/><use href="#eO" x="1491.6" y="456.7"/><use href="#eG" x="1391.4" y="469.8"/><use href="#eY" x="1392.6" y="481.3"/><use href="#eB" x="1396.2" y="483.2"/><use href="#eB" x="1430.7" y="481.8"/><use href="#eY" x="1468.9" y="478.4"/><use href="#eG" x="1491.6" y="477.0"/><use href="#eB" x="1471.3" y="494.9"/><use href="#eR" x="1515.0" y="410.9"/><use href="#eG" x="1527.4" y="411.4"/><use href="#eR" x="1499.4" y="423.3"/><use href="#eB" x="1528.5" y="397.8"/><use href="#eB" x="1548.8" y="439.1"/><use href="#eG" x="1537.6" y="453.9"/><use href="#eO" x="1554.3" y="467.5"/><use href="#eR" x="1543.6" y="482.5"/><use href="#eR" x="1559.1" y="494.4"/><use href="#eY" x="1577.0" y="484.9"/><use href="#eG" x="1561.5" y="426.4"/><use href="#eG" x="1575.1" y="425.7"/><use href="#eY" x="1479.6" y="332.2"/><use href="#eR" x="1485.1" y="347.2"/><use href="#eO" x="1537.4" y="359.6"/><use href="#eB" x="1736.0" y="413.0"/><use href="#eC" x="1764.0" y="372.9"/><use href="#eB" x="1660.2" y="481.4"/><use href="#eB" x="1708.3" y="520.5"/><use href="#eB" x="1721.9" y="338.3"/><use href="#eB" x="1714.4" y="505.7"/><use href="#eB" x="1690.1" y="298.6"/><use href="#eB" x="1651.8" y="536.2"/><use href="#eB" x="1734.4" y="356.8"/><use href="#eB" x="1702.7" y="510.1"/><use href="#eB" x="1733.6" y="328.0"/><use href="#eB" x="1760.4" y="452.5"/><use href="#eB" x="1648.9" y="521.9"/><use href="#eB" x="1665.9" y="523.5"/><use href="#eB" x="1561.0" y="365.7"/><use href="#eB" x="1695.2" y="297.7"/><use href="#eB" x="1643.2" y="489.2"/><use href="#eB" x="1754.2" y="404.4"/><use href="#eB" x="1723.8" y="467.8"/><use href="#eB" x="1684.4" y="495.3"/><use href="#eB" x="1620.0" y="402.6"/><use href="#eB" x="1668.7" y="281.1"/><use href="#eB" x="1688.7" y="301.1"/><use href="#eB" x="1673.3" y="530.0"/><use href="#eB" x="1628.1" y="299.1"/><use href="#eB" x="1767.3" y="366.7"/><use href="#eB" x="1693.2" y="324.6"/><use href="#eB" x="1704.9" y="528.5"/><use href="#eB" x="1594.2" y="341.9"/><use href="#eC" x="1676.7" y="433.0"/><use href="#eB" x="1741.9" y="432.2"/><use href="#eB" x="1755.4" y="421.6"/><use href="#eC" x="1639.2" y="485.7"/><use href="#eB" x="1690.4" y="495.3"/><use href="#eB" x="1732.4" y="456.7"/><use href="#eB" x="1755.7" y="404.3"/><use href="#eB" x="1707.7" y="452.1"/><use href="#eB" x="1692.3" y="325.0"/><use href="#eC" x="1632.4" y="396.2"/><use href="#eC" x="1555.8" y="381.8"/><use href="#eB" x="1729.1" y="395.3"/><use href="#eB" x="1722.1" y="476.7"/><use href="#eB" x="1707.2" y="511.6"/><use href="#eB" x="1709.1" y="489.6"/><use href="#eB" x="1586.7" y="362.6"/><use href="#eB" x="1742.5" y="414.1"/><use href="#eB" x="1755.5" y="369.2"/><use href="#eB" x="1691.5" y="350.2"/><use href="#eB" x="1725.0" y="364.4"/><use href="#eC" x="1739.5" y="340.0"/><use href="#eC" x="1610.9" y="334.7"/><use href="#eB" x="1719.2" y="387.9"/><use href="#eB" x="1723.0" y="386.9"/><use href="#eB" x="1675.1" y="310.7"/><use href="#eB" x="1759.6" y="346.8"/><use href="#eB" x="1740.1" y="377.1"/><use href="#eB" x="1690.4" y="490.2"/><use href="#eB" x="1753.7" y="343.8"/><use href="#eB" x="1670.2" y="448.0"/><use href="#eB" x="1589.4" y="347.9"/><use href="#eC" x="1611.9" y="318.5"/><use href="#eB" x="1691.7" y="516.9"/><use href="#eB" x="1692.2" y="505.5"/><use href="#eB" x="1715.0" y="527.7"/><use href="#eB" x="1739.6" y="497.2"/><use href="#eB" x="1647.2" y="485.5"/><use href="#eB" x="1696.8" y="313.4"/><use href="#eC" x="1703.2" y="473.3"/><use href="#eB" x="1666.4" y="453.9"/><use href="#eB" x="1642.6" y="306.9"/><use href="#eB" x="1719.5" y="335.9"/><use href="#eB" x="1719.2" y="370.2"/><use href="#eG" x="1742.2" y="410.8"/><use href="#eC" x="1732.6" y="319.2"/><use href="#eB" x="1742.0" y="367.1"/><use href="#eC" x="1686.3" y="502.0"/><use href="#eB" x="1728.1" y="467.7"/><use href="#eB" x="1721.8" y="445.8"/><use href="#eB" x="1699.1" y="519.5"/><use href="#eB" x="1707.9" y="531.8"/><use href="#eB" x="1654.2" y="338.1"/><use href="#eB" x="1719.2" y="411.6"/><use href="#eB" x="1626.5" y="434.6"/><use href="#eG" x="1697.0" y="411.4"/><use href="#eB" x="1764.8" y="447.8"/><use href="#eB" x="1616.2" y="324.7"/><use href="#eB" x="1652.4" y="322.4"/><use href="#eB" x="1746.6" y="410.3"/><use href="#eR" x="1577.5" y="298.3"/><use href="#eB" x="1588.9" y="373.1"/><use href="#eB" x="1665.1" y="302.2"/><use href="#eC" x="1751.6" y="438.4"/><use href="#eB" x="1721.5" y="502.4"/><use href="#eB" x="1638.3" y="357.4"/><use href="#eB" x="1621.9" y="402.4"/><use href="#eB" x="1593.5" y="364.2"/><use href="#eB" x="1665.5" y="284.3"/><use href="#eB" x="1739.3" y="354.4"/><use href="#eB" x="1759.7" y="435.8"/><use href="#eC" x="1742.5" y="329.7"/><use href="#eB" x="1740.6" y="371.2"/><use href="#eB" x="1772.5" y="371.8"/><use href="#eB" x="1734.5" y="382.3"/><use href="#eG" x="1738.9" y="362.3"/><use href="#eB" x="1710.9" y="334.5"/><use href="#eB" x="1601.5" y="358.5"/><use href="#eC" x="1673.1" y="426.8"/><use href="#eB" x="1774.2" y="334.2"/><use href="#eB" x="1730.0" y="355.0"/><use href="#eB" x="1726.1" y="483.4"/><use href="#eB" x="1632.4" y="414.3"/><use href="#eB" x="1631.0" y="299.8"/><use href="#eB" x="1775.2" y="368.1"/><use href="#eB" x="1688.8" y="467.2"/><use href="#eB" x="1743.2" y="375.7"/><use href="#eB" x="1762.8" y="437.5"/><use href="#eO" x="1745.7" y="377.3"/><use href="#eB" x="1615.0" y="333.9"/><use href="#eB" x="1723.0" y="358.5"/><use href="#eB" x="1709.5" y="472.2"/><use href="#eC" x="1733.8" y="319.7"/><use href="#eB" x="1735.3" y="446.7"/><use href="#eB" x="1651.1" y="341.5"/><use href="#eB" x="1595.6" y="380.9"/><use href="#eB" x="1732.9" y="441.1"/><use href="#eC" x="1719.8" y="337.4"/><use href="#eB" x="1645.1" y="306.6"/><use href="#eC" x="1654.5" y="495.3"/><use href="#eB" x="1591.7" y="374.1"/><use href="#eB" x="1727.7" y="448.4"/><use href="#eB" x="1715.6" y="472.2"/><use href="#eB" x="1645.2" y="408.9"/><use href="#eB" x="1643.5" y="303.7"/><use href="#eB" x="1593.7" y="399.6"/><use href="#eB" x="1741.6" y="397.5"/><use href="#eB" x="1724.9" y="468.2"/><use href="#eB" x="1733.3" y="467.6"/><use href="#eB" x="1624.9" y="417.4"/><use href="#eY" x="1709.8" y="530.9"/><use href="#eB" x="1616.5" y="324.8"/><use href="#eB" x="1713.2" y="407.8"/><use href="#eB" x="1704.5" y="468.9"/><use href="#eB" x="1654.6" y="501.1"/><use href="#eY" x="1738.7" y="435.4"/><use href="#eB" x="1637.8" y="417.7"/><use href="#eB" x="1738.6" y="435.1"/><use href="#eB" x="1652.4" y="529.5"/><use href="#eB" x="1721.3" y="448.2"/><use href="#eB" x="1730.2" y="524.6"/><use href="#eB" x="1690.7" y="499.9"/><use href="#eB" x="1703.4" y="325.8"/><use href="#eN" x="1700.9" y="532.8"/><use href="#eB" x="1774.4" y="333.2"/><use href="#eB" x="1747.1" y="387.8"/><use href="#eB" x="1741.0" y="514.1"/><use href="#eB" x="1714.8" y="451.7"/><use href="#eB" x="1686.2" y="329.6"/><use href="#eB" x="1664.9" y="510.6"/><use href="#eB" x="1581.9" y="369.4"/><use href="#eB" x="1699.7" y="500.0"/><use href="#eB" x="1759.9" y="346.9"/><use href="#eB" x="1708.8" y="441.8"/><use href="#eB" x="1650.2" y="334.0"/><use href="#eB" x="1652.6" y="469.7"/><use href="#eB" x="1763.8" y="422.8"/><use href="#eB" x="1719.4" y="342.4"/><use href="#eC" x="1716.9" y="520.0"/><use href="#eB" x="1628.9" y="411.1"/><use href="#eB" x="1660.4" y="297.6"/><use href="#eC" x="1736.0" y="397.5"/><use href="#eB" x="1739.3" y="363.3"/><use href="#eC" x="1750.0" y="428.2"/><use href="#eB" x="1652.2" y="400.1"/><use href="#eB" x="1626.6" y="406.1"/><use href="#eB" x="1769.6" y="437.9"/><use href="#eB" x="1728.1" y="339.3"/><use href="#eB" x="1692.5" y="496.8"/><use href="#eB" x="1741.2" y="450.5"/><use href="#eB" x="1715.5" y="482.7"/><use href="#eB" x="1608.6" y="378.4"/><use href="#eB" x="1734.3" y="444.5"/><use href="#eB" x="1580.9" y="364.4"/><use href="#eB" x="1740.4" y="400.7"/><use href="#eN" x="1591.1" y="423.7"/><use href="#eB" x="1586.1" y="352.7"/><use href="#eB" x="1705.9" y="487.2"/><use href="#eB" x="1738.7" y="365.0"/><use href="#eC" x="1567.5" y="371.2"/><use href="#eB" x="1598.4" y="354.0"/><use href="#eB" x="1692.4" y="530.9"/><use href="#eG" x="1720.3" y="526.9"/><use href="#eG" x="1752.5" y="415.7"/><use href="#eB" x="1715.1" y="385.5"/><use href="#eB" x="1759.6" y="442.7"/><use href="#eC" x="1744.2" y="420.4"/><use href="#eB" x="1732.3" y="452.3"/><use href="#eB" x="1577.4" y="313.0"/><use href="#eB" x="1613.3" y="390.9"/><use href="#eC" x="1564.3" y="378.1"/><use href="#eG" x="1577.8" y="395.0"/><use href="#eC" x="1656.6" y="359.6"/><use href="#eB" x="1726.7" y="504.1"/><use href="#eB" x="1696.0" y="489.4"/><use href="#eB" x="1689.8" y="516.0"/><use href="#eB" x="1659.9" y="505.2"/><use href="#eC" x="1678.6" y="541.1"/><use href="#eB" x="1757.0" y="337.3"/><use href="#eB" x="1702.4" y="526.2"/><use href="#eB" x="1735.2" y="514.5"/><use href="#eB" x="1667.4" y="516.4"/><use href="#eB" x="1728.8" y="370.6"/><use href="#eN" x="1733.8" y="382.7"/><use href="#eB" x="1727.1" y="425.8"/><use href="#eB" x="1716.0" y="510.2"/><use href="#eY" x="1708.4" y="445.8"/><use href="#eB" x="1595.1" y="335.6"/><use href="#eB" x="1657.2" y="514.4"/><use href="#eB" x="1703.7" y="403.6"/><use href="#eC" x="1704.3" y="305.0"/><use href="#eB" x="1714.3" y="471.7"/><use href="#eB" x="1730.2" y="499.4"/><use href="#eB" x="1649.6" y="340.8"/><use href="#eB" x="1705.6" y="481.9"/><use href="#eB" x="1737.6" y="521.3"/><use href="#eC" x="1700.5" y="328.1"/><use href="#eC" x="1576.1" y="301.6"/><use href="#eB" x="1707.6" y="500.4"/><use href="#eB" x="1701.3" y="506.2"/><use href="#eB" x="1710.8" y="314.9"/><use href="#eB" x="1683.6" y="530.6"/><use href="#eB" x="1638.6" y="435.8"/><use href="#eB" x="1712.8" y="311.0"/><use href="#eB" x="1673.3" y="296.7"/><use href="#eC" x="1718.5" y="383.5"/><use href="#eB" x="1719.8" y="376.4"/><use href="#eB" x="1720.7" y="311.9"/><use href="#eC" x="1740.0" y="417.9"/><use href="#eB" x="1732.2" y="451.6"/><use href="#eB" x="1635.8" y="404.6"/><use href="#eB" x="1673.8" y="305.1"/><use href="#eB" x="1674.2" y="313.4"/><use href="#eB" x="1612.8" y="412.6"/><use href="#eB" x="1680.2" y="500.6"/><use href="#eB" x="1693.1" y="504.9"/><use href="#eB" x="1697.1" y="491.4"/><use href="#eB" x="1612.0" y="311.2"/><use href="#eB" x="1762.0" y="417.6"/><use href="#eB" x="1644.4" y="363.5"/><use href="#eB" x="1715.2" y="461.8"/><use href="#eB" x="1568.6" y="409.1"/><use href="#eG" x="1729.1" y="396.6"/><use href="#eB" x="1706.0" y="322.2"/><use href="#eB" x="1759.7" y="374.5"/><use href="#eB" x="1684.1" y="321.9"/><use href="#eC" x="1629.1" y="395.0"/><use href="#eB" x="1706.1" y="316.6"/><use href="#eB" x="1686.9" y="331.7"/><use href="#eB" x="1712.8" y="334.6"/><use href="#eC" x="1598.0" y="381.1"/><use href="#eB" x="1662.2" y="520.6"/><use href="#eB" x="1621.4" y="345.7"/><use href="#eB" x="1645.8" y="531.0"/><use href="#eC" x="1590.1" y="423.7"/><use href="#eB" x="1758.0" y="351.5"/><use href="#eB" x="1680.5" y="520.8"/><use href="#eB" x="1687.9" y="479.4"/><use href="#eB" x="1602.5" y="374.1"/><use href="#eC" x="1665.7" y="487.3"/><use href="#eB" x="1732.1" y="483.0"/><use href="#eB" x="1617.2" y="400.3"/><use href="#eB" x="1673.1" y="554.5"/><use href="#eB" x="1687.5" y="295.8"/><use href="#eC" x="1753.3" y="382.1"/><use href="#eB" x="1722.6" y="515.5"/><use href="#eB" x="1597.8" y="427.4"/><use href="#eB" x="1614.8" y="320.1"/><use href="#eB" x="1737.0" y="501.6"/><use href="#eB" x="1568.9" y="374.9"/><use href="#eB" x="1707.5" y="410.7"/><use href="#eB" x="1683.4" y="526.0"/><use href="#eB" x="1718.2" y="395.8"/><use href="#eB" x="1744.0" y="375.1"/><use href="#eB" x="1719.6" y="396.5"/><use href="#eB" x="1716.2" y="406.7"/><use href="#eB" x="1718.4" y="329.1"/><use href="#eB" x="1614.5" y="403.8"/><use href="#eB" x="1691.5" y="409.5"/><use href="#eB" x="1755.4" y="357.2"/><use href="#eB" x="1615.0" y="358.5"/><use href="#eC" x="1710.4" y="478.4"/><use href="#eB" x="1754.4" y="446.3"/><use href="#eB" x="1723.0" y="502.2"/><use href="#eB" x="1758.3" y="380.5"/><use href="#eB" x="1587.9" y="326.6"/><use href="#eR" x="1679.2" y="522.6"/><use href="#eB" x="1735.3" y="467.7"/><use href="#eB" x="1709.7" y="502.6"/><use href="#eB" x="1717.4" y="398.5"/><use href="#eB" x="1619.8" y="336.7"/><use href="#eB" x="1572.3" y="397.0"/><use href="#eB" x="1731.4" y="445.3"/><use href="#eB" x="1749.8" y="419.3"/><use href="#eB" x="1575.4" y="403.3"/><use href="#eB" x="1754.7" y="436.1"/><use href="#eB" x="1750.5" y="345.2"/><use href="#eB" x="1588.9" y="397.9"/><use href="#eN" x="1725.9" y="479.1"/><use href="#eB" x="1729.8" y="427.4"/><use href="#eB" x="1735.2" y="375.2"/><use href="#eB" x="1766.9" y="438.7"/><use href="#eB" x="1735.5" y="494.4"/><use href="#eB" x="1750.2" y="367.6"/><use href="#eB" x="1669.7" y="282.4"/><use href="#eB" x="1679.8" y="498.8"/><use href="#eB" x="1654.6" y="466.9"/><use href="#eC" x="1726.9" y="399.7"/><use href="#eC" x="1707.9" y="520.3"/><use href="#eC" x="1607.6" y="405.3"/><use href="#eB" x="1625.7" y="341.4"/><use href="#eB" x="1695.3" y="537.9"/><use href="#eB" x="1557.9" y="377.1"/><use href="#eB" x="1722.0" y="503.8"/><use href="#eB" x="1630.3" y="298.1"/><use href="#eB" x="1569.3" y="385.5"/><use href="#eB" x="1749.9" y="405.3"/><use href="#eB" x="1756.3" y="410.7"/><use href="#eB" x="1742.8" y="377.5"/><use href="#eB" x="1673.4" y="517.4"/><use href="#eG" x="1636.8" y="396.3"/><use href="#eB" x="1728.4" y="489.0"/><use href="#eB" x="1730.7" y="473.3"/><use href="#eB" x="1721.3" y="444.8"/><use href="#eB" x="1579.3" y="389.9"/><use href="#eB" x="1689.6" y="526.5"/><use href="#eC" x="1691.1" y="358.1"/><use href="#eB" x="1630.6" y="431.8"/><use href="#eB" x="1624.5" y="340.9"/><use href="#eB" x="1635.3" y="415.0"/><use href="#eB" x="1731.5" y="446.4"/><use href="#eC" x="1728.1" y="394.4"/><use href="#eB" x="1752.4" y="430.3"/><use href="#eC" x="1759.6" y="426.9"/><use href="#eB" x="1716.0" y="517.9"/><use href="#eB" x="1746.2" y="464.6"/><use href="#eG" x="1720.0" y="342.5"/><use href="#eB" x="1739.0" y="366.4"/><use href="#eB" x="1741.5" y="431.0"/><use href="#eB" x="1707.1" y="506.6"/><use href="#eB" x="1725.3" y="502.4"/><use href="#eB" x="1703.6" y="422.0"/><use href="#eB" x="1718.8" y="416.4"/><use href="#eB" x="1767.7" y="348.9"/><use href="#eB" x="1723.5" y="446.7"/><use href="#eB" x="1692.1" y="502.4"/><use href="#eB" x="1726.2" y="353.8"/><use href="#eO" x="1712.5" y="324.7"/><use href="#eB" x="1755.9" y="355.3"/><use href="#eB" x="1709.0" y="517.4"/><use href="#eO" x="1648.6" y="295.9"/><use href="#eB" x="1733.0" y="360.7"/><use href="#eB" x="1623.7" y="391.8"/><use href="#eB" x="1674.2" y="544.5"/><use href="#eB" x="1623.3" y="329.4"/><use href="#eN" x="1582.3" y="317.1"/><use href="#eB" x="1645.4" y="299.5"/><use href="#eB" x="1732.0" y="463.5"/><use href="#eB" x="1720.2" y="406.9"/><use href="#eB" x="1680.0" y="407.7"/><use href="#eB" x="1704.1" y="524.8"/><use href="#eC" x="1724.0" y="415.9"/><use href="#eB" x="1690.1" y="317.1"/><use href="#eB" x="1743.1" y="343.2"/><use href="#eB" x="1721.3" y="442.4"/><use href="#eB" x="1772.9" y="348.0"/><use href="#eC" x="1609.2" y="320.4"/><use href="#eG" x="1761.4" y="427.4"/><use href="#eC" x="1707.1" y="330.6"/><use href="#eB" x="1654.4" y="493.6"/><use href="#eB" x="1655.9" y="364.8"/><use href="#eC" x="1765.7" y="345.3"/><use href="#eB" x="1648.4" y="416.2"/><use href="#eB" x="1731.2" y="451.5"/><use href="#eB" x="1726.8" y="353.8"/><use href="#eC" x="1733.2" y="460.3"/><use href="#eG" x="1768.6" y="379.4"/><use href="#eB" x="1726.3" y="480.3"/><use href="#eB" x="1717.5" y="409.7"/><use href="#eB" x="1604.8" y="308.5"/><use href="#eB" x="1672.3" y="495.3"/><use href="#eB" x="1777.4" y="370.9"/><use href="#eB" x="1740.4" y="380.2"/><use href="#eC" x="1752.5" y="344.8"/><use href="#eN" x="1645.0" y="518.2"/><use href="#eB" x="1734.5" y="421.5"/><use href="#eB" x="1623.4" y="330.6"/><use href="#eC" x="1734.3" y="345.4"/><use href="#eB" x="1758.7" y="337.9"/><use href="#eB" x="1659.9" y="297.2"/><use href="#eB" x="1628.2" y="300.5"/><use href="#eB" x="1696.3" y="505.0"/><use href="#eB" x="1670.3" y="498.3"/><use href="#eB" x="1712.9" y="531.9"/><use href="#eB" x="1763.3" y="361.0"/><use href="#eB" x="1606.4" y="360.7"/><use href="#eB" x="1620.9" y="399.8"/><use href="#eG" x="1727.5" y="498.1"/><use href="#eB" x="1673.7" y="525.7"/><use href="#eB" x="1648.2" y="309.2"/><use href="#eC" x="1586.8" y="411.5"/><use href="#eB" x="1740.0" y="343.7"/><use href="#eB" x="1668.4" y="453.1"/><use href="#eB" x="1695.2" y="514.0"/><use href="#eB" x="1760.7" y="451.7"/><use href="#eB" x="1737.5" y="433.3"/><use href="#eC" x="1590.9" y="325.9"/><use href="#eB" x="1719.7" y="358.4"/><use href="#eB" x="1600.6" y="386.3"/><use href="#eB" x="1558.6" y="365.8"/><use href="#eB" x="1714.9" y="477.5"/><use href="#eB" x="1713.3" y="504.7"/><use href="#eB" x="1705.4" y="400.1"/><use href="#eB" x="1719.8" y="382.7"/><use href="#eO" x="1656.8" y="335.7"/><use href="#eC" x="1732.4" y="319.9"/><use href="#eB" x="1579.7" y="361.4"/><use href="#eB" x="1727.6" y="495.0"/><use href="#eB" x="1757.4" y="379.3"/><use href="#eB" x="1745.8" y="415.9"/><use href="#eB" x="1589.7" y="423.0"/><use href="#eB" x="1634.5" y="483.6"/><use href="#eB" x="1713.7" y="335.5"/><use href="#eC" x="1623.4" y="398.5"/><use href="#eB" x="1723.6" y="411.8"/><use href="#eB" x="1703.4" y="473.3"/><use href="#eB" x="1595.4" y="366.3"/><use href="#eB" x="1722.6" y="397.8"/><use href="#eB" x="1749.2" y="365.7"/><use href="#eB" x="1732.6" y="468.5"/><use href="#eB" x="1611.3" y="371.8"/><use href="#eN" x="1577.0" y="388.9"/><use href="#eB" x="1740.4" y="387.4"/><use href="#eB" x="1693.9" y="503.1"/><use href="#eN" x="1744.9" y="445.4"/><use href="#eC" x="1688.8" y="349.9"/><use href="#eB" x="1687.8" y="294.7"/><use href="#eB" x="1702.8" y="340.0"/><use href="#eB" x="1718.7" y="524.5"/><use href="#eB" x="1614.1" y="317.2"/><use href="#eB" x="1686.4" y="329.2"/><use href="#eB" x="1741.2" y="454.9"/><use href="#eB" x="1693.8" y="428.0"/><use href="#eB" x="1750.3" y="363.7"/><use href="#eB" x="1683.7" y="305.4"/><use href="#eB" x="1716.6" y="441.6"/><use href="#eB" x="1733.1" y="461.3"/><use href="#eB" x="1678.1" y="536.1"/><use href="#eB" x="1595.0" y="331.4"/><use href="#eB" x="1679.3" y="299.2"/><use href="#eB" x="1698.4" y="532.4"/><use href="#eB" x="1713.6" y="464.6"/><use href="#eB" x="1717.1" y="442.4"/><use href="#eB" x="1609.5" y="413.3"/><use href="#eB" x="1676.4" y="533.6"/><use href="#eB" x="1738.7" y="357.3"/><use href="#eB" x="1720.9" y="336.9"/><use href="#eB" x="1639.2" y="478.8"/><use href="#eB" x="1677.6" y="414.3"/><use href="#eB" x="1601.6" y="377.6"/><use href="#eC" x="1591.1" y="347.9"/><use href="#eB" x="1646.2" y="298.4"/><use href="#eB" x="1641.3" y="325.8"/><use href="#eC" x="1615.4" y="300.6"/><use href="#eB" x="1731.4" y="512.9"/><use href="#eB" x="1716.2" y="414.2"/><use href="#eB" x="1650.4" y="497.1"/><use href="#eB" x="1621.5" y="396.1"/><use href="#eC" x="1755.1" y="391.6"/><use href="#eB" x="1738.7" y="520.5"/><use href="#eB" x="1570.4" y="374.5"/><use href="#eB" x="1654.3" y="519.2"/><use href="#eB" x="1735.8" y="433.6"/><use href="#eB" x="1755.5" y="341.5"/><use href="#eB" x="1755.6" y="465.0"/><use href="#eC" x="1678.0" y="520.1"/><use href="#eB" x="1634.8" y="478.1"/><use href="#eB" x="1763.7" y="453.1"/><use href="#eB" x="1555.6" y="398.5"/><use href="#eB" x="1688.5" y="355.1"/><use href="#eB" x="1755.0" y="446.4"/><use href="#eC" x="1610.7" y="380.3"/><use href="#eB" x="1732.2" y="518.1"/><use href="#eB" x="1578.8" y="362.1"/><use href="#eB" x="1666.0" y="503.4"/><use href="#eC" x="1685.8" y="297.3"/><use href="#eB" x="1759.3" y="432.6"/><use href="#eB" x="1717.3" y="456.7"/><use href="#eB" x="1615.1" y="417.9"/><use href="#eC" x="1583.0" y="300.0"/><use href="#eY" x="1656.2" y="309.6"/><use href="#eC" x="1676.1" y="538.5"/><use href="#eB" x="1641.3" y="482.0"/><use href="#eB" x="1726.6" y="500.2"/><use href="#eB" x="1718.9" y="405.9"/><use href="#eB" x="1695.6" y="314.3"/><use href="#eY" x="1735.1" y="441.5"/><use href="#eB" x="1585.1" y="390.4"/><use href="#eB" x="1755.6" y="404.1"/><use href="#eB" x="1676.6" y="537.5"/><use href="#eB" x="1756.1" y="445.5"/><use href="#eB" x="1724.6" y="451.1"/><use href="#eB" x="1715.7" y="409.1"/><use href="#eB" x="1627.0" y="309.1"/><use href="#eB" x="1708.1" y="415.8"/><use href="#eB" x="1738.2" y="361.3"/><use href="#eB" x="1722.6" y="499.4"/><use href="#eC" x="1651.2" y="504.0"/><use href="#eB" x="1707.9" y="309.6"/><use href="#eB" x="1593.8" y="314.4"/><use href="#eB" x="1744.7" y="444.7"/><use href="#eB" x="1698.3" y="301.6"/><use href="#eB" x="1731.3" y="468.9"/><use href="#eC" x="1752.0" y="345.2"/><use href="#eB" x="1751.4" y="438.7"/><use href="#eB" x="1727.3" y="482.3"/><use href="#eB" x="1647.3" y="545.0"/><use href="#eB" x="1602.3" y="311.6"/><use href="#eB" x="1667.7" y="429.0"/><use href="#eB" x="1750.9" y="340.4"/><use href="#eB" x="1734.8" y="387.4"/><use href="#eB" x="1763.2" y="454.2"/><use href="#eB" x="1747.0" y="434.1"/><use href="#eB" x="1695.1" y="493.4"/><use href="#eB" x="1744.9" y="389.5"/><use href="#eB" x="1559.4" y="379.8"/><use href="#eB" x="1733.9" y="375.4"/><use href="#eY" x="1609.3" y="359.4"/><use href="#eC" x="1614.4" y="418.6"/><use href="#eB" x="1658.7" y="486.9"/><use href="#eB" x="1749.7" y="442.5"/><use href="#eB" x="1644.8" y="295.2"/><use href="#eB" x="1615.9" y="425.4"/><use href="#eB" x="1732.7" y="500.4"/><use href="#eB" x="1674.2" y="313.2"/><use href="#eB" x="1638.1" y="362.3"/><use href="#eB" x="1758.0" y="443.7"/><use href="#eN" x="1723.8" y="400.7"/><use href="#eN" x="1613.6" y="331.3"/><use href="#eB" x="1637.7" y="300.3"/><use href="#eC" x="1564.8" y="385.0"/><use href="#eB" x="1701.0" y="499.7"/><use href="#eB" x="1734.9" y="485.1"/><use href="#eB" x="1640.9" y="321.0"/><use href="#eC" x="1713.3" y="400.7"/><use href="#eB" x="1755.0" y="372.9"/><use href="#eB" x="1716.0" y="396.2"/><use href="#eB" x="1715.1" y="412.7"/><use href="#eB" x="1612.5" y="413.3"/><use href="#eB" x="1655.7" y="332.5"/><use href="#eB" x="1585.8" y="384.9"/><use href="#eB" x="1662.9" y="522.7"/><use href="#eB" x="1711.6" y="415.7"/><use href="#eB" x="1730.6" y="501.1"/><use href="#eB" x="1661.9" y="492.2"/><use href="#eB" x="1642.3" y="340.7"/><use href="#eB" x="1639.9" y="525.7"/><use href="#eB" x="1768.6" y="433.8"/><use href="#eB" x="1730.6" y="468.2"/><use href="#eB" x="1605.1" y="347.8"/><use href="#eB" x="1602.5" y="336.5"/><use href="#eN" x="1752.3" y="436.7"/><use href="#eB" x="1770.9" y="349.7"/><use href="#eB" x="1758.6" y="343.6"/><use href="#eB" x="1728.5" y="493.7"/><use href="#eB" x="1719.0" y="483.1"/><use href="#eB" x="1669.1" y="510.3"/><use href="#eB" x="1716.7" y="463.3"/><use href="#eB" x="1695.0" y="465.2"/><use href="#eB" x="1601.0" y="359.7"/><use href="#eB" x="1713.6" y="449.5"/><use href="#eB" x="1729.2" y="486.3"/><use href="#eO" x="1753.5" y="419.4"/><use href="#eB" x="1693.2" y="483.9"/><use href="#eB" x="1732.3" y="519.7"/><use href="#eB" x="1638.7" y="296.1"/><use href="#eB" x="1672.4" y="309.6"/><use href="#eB" x="1713.9" y="407.7"/><use href="#eB" x="1748.7" y="409.5"/><use href="#eB" x="1703.5" y="475.5"/><use href="#eC" x="1672.2" y="316.0"/><use href="#eB" x="1675.3" y="411.4"/><use href="#eB" x="1665.9" y="443.3"/><use href="#eB" x="1654.5" y="472.1"/><use href="#eB" x="1658.3" y="502.9"/><use href="#eB" x="1726.4" y="412.6"/><use href="#eB" x="1659.0" y="310.9"/><use href="#eB" x="1722.0" y="340.0"/><use href="#eB" x="1701.9" y="517.8"/><use href="#eB" x="1740.9" y="362.0"/><use href="#eB" x="1640.8" y="411.3"/><use href="#eB" x="1647.9" y="333.8"/><use href="#eB" x="1603.8" y="363.6"/><use href="#eG" x="1712.3" y="443.6"/><use href="#eB" x="1718.9" y="371.6"/><use href="#eB" x="1638.9" y="485.8"/><use href="#eB" x="1705.6" y="525.2"/><use href="#eB" x="1599.3" y="340.2"/><use href="#eB" x="1677.6" y="492.3"/><use href="#eB" x="1583.0" y="386.6"/><use href="#eB" x="1721.2" y="482.9"/><use href="#eB" x="1742.6" y="340.9"/><use href="#eB" x="1636.0" y="425.5"/><use href="#eB" x="1681.1" y="323.4"/><use href="#eB" x="1608.5" y="413.0"/><use href="#eB" x="1692.6" y="301.0"/><use href="#eB" x="1729.6" y="480.9"/><use href="#eB" x="1711.1" y="491.6"/><use href="#eB" x="1677.3" y="535.9"/><use href="#eB" x="1760.5" y="424.5"/><use href="#eB" x="1764.7" y="381.5"/><use href="#eB" x="1683.9" y="538.0"/><use href="#eB" x="1686.9" y="499.1"/><use href="#eB" x="1558.9" y="364.9"/><use href="#eB" x="1699.2" y="525.2"/><use href="#eB" x="1713.6" y="347.8"/><use href="#eB" x="1722.5" y="430.6"/><use href="#eB" x="1705.1" y="525.7"/><use href="#eB" x="1663.5" y="450.0"/><use href="#eO" x="1715.8" y="405.8"/><use href="#eB" x="1733.6" y="396.8"/><use href="#eB" x="1731.4" y="451.1"/><use href="#eB" x="1654.1" y="309.2"/><use href="#eB" x="1714.0" y="415.3"/><use href="#eB" x="1723.3" y="459.8"/><use href="#eB" x="1691.5" y="309.3"/><use href="#eB" x="1739.0" y="373.8"/><use href="#eB" x="1603.2" y="408.9"/><use href="#eG" x="1585.0" y="427.6"/><use href="#eB" x="1593.9" y="366.3"/><use href="#eB" x="1741.7" y="457.6"/><use href="#eO" x="1623.7" y="303.5"/><use href="#eB" x="1737.7" y="508.4"/><use href="#eB" x="1594.8" y="332.1"/><use href="#eB" x="1734.7" y="485.7"/><use href="#eB" x="1689.6" y="415.8"/><use href="#eB" x="1743.6" y="415.6"/><use href="#eY" x="1668.4" y="320.6"/><use href="#eB" x="1669.5" y="513.9"/><use href="#eB" x="1746.6" y="376.6"/><use href="#eB" x="1709.3" y="499.5"/><use href="#eB" x="1580.8" y="362.7"/><use href="#eB" x="1653.6" y="425.9"/><use href="#eB" x="1610.0" y="316.5"/><use href="#eB" x="1717.1" y="471.7"/><use href="#eB" x="1719.8" y="455.0"/><use href="#eB" x="1684.2" y="408.8"/><use href="#eB" x="1758.2" y="426.4"/><use href="#eC" x="1734.0" y="371.3"/><use href="#eB" x="1674.6" y="539.3"/><use href="#eB" x="1655.4" y="315.3"/><use href="#eB" x="1711.0" y="526.5"/><use href="#eN" x="1609.4" y="379.5"/><use href="#eC" x="1658.6" y="295.8"/><use href="#eB" x="1741.1" y="446.1"/><use href="#eB" x="1654.1" y="500.9"/><use href="#eB" x="1715.7" y="352.2"/><use href="#eB" x="1745.0" y="454.3"/><use href="#eB" x="1735.8" y="427.6"/><use href="#eB" x="1758.1" y="389.8"/><use href="#eO" x="1715.3" y="515.7"/><use href="#eB" x="1740.8" y="480.1"/><use href="#eB" x="1595.4" y="308.7"/><use href="#eB" x="1689.5" y="497.2"/><use href="#eB" x="1736.0" y="363.4"/><use href="#eB" x="1722.2" y="394.0"/><use href="#eB" x="1686.4" y="525.8"/><use href="#eB" x="1749.5" y="374.2"/><use href="#eC" x="1760.5" y="453.7"/><use href="#eC" x="1734.1" y="380.3"/><use href="#eG" x="1715.4" y="478.0"/><use href="#eB" x="1734.3" y="512.6"/><use href="#eB" x="1756.4" y="349.9"/><use href="#eB" x="1743.5" y="449.0"/><use href="#eB" x="1642.5" y="430.7"/><use href="#eB" x="1718.8" y="414.9"/><use href="#eB" x="1623.9" y="319.9"/><use href="#eB" x="1611.4" y="317.6"/><use href="#eB" x="1752.4" y="392.0"/><use href="#eB" x="1731.4" y="450.5"/><use href="#eB" x="1766.0" y="433.5"/><use href="#eG" x="1634.8" y="471.3"/><use href="#eB" x="1716.2" y="380.5"/><use href="#eB" x="1757.8" y="412.9"/><use href="#eB" x="1611.3" y="398.1"/><use href="#eC" x="1633.8" y="301.2"/><use href="#eB" x="1742.7" y="379.8"/><use href="#eB" x="1604.5" y="311.4"/><use href="#eB" x="1739.0" y="439.1"/><use href="#eB" x="1691.4" y="533.2"/><use href="#eB" x="1703.5" y="338.0"/><use href="#eB" x="1653.8" y="518.8"/><use href="#eB" x="1708.3" y="526.5"/><use href="#eB" x="1731.0" y="398.7"/><use href="#eB" x="1746.4" y="461.9"/><use href="#eB" x="1727.9" y="468.9"/><use href="#eB" x="1585.4" y="316.2"/><use href="#eB" x="1632.8" y="306.5"/><use href="#eB" x="1754.3" y="443.0"/><use href="#eB" x="1576.1" y="387.5"/><use href="#eB" x="1715.2" y="523.1"/><use href="#eB" x="1658.6" y="415.0"/><use href="#eB" x="1704.7" y="429.1"/><use href="#eB" x="1575.2" y="384.1"/><use href="#eB" x="1631.1" y="308.4"/><use href="#eB" x="1700.0" y="521.2"/><use href="#eB" x="1650.9" y="341.9"/><use href="#eB" x="1712.2" y="453.5"/><use href="#eB" x="1723.8" y="504.4"/><use href="#eB" x="1774.6" y="335.3"/><use href="#eB" x="1614.9" y="386.5"/><use href="#eB" x="1735.9" y="345.5"/><use href="#eB" x="1720.4" y="463.0"/><use href="#eY" x="1677.2" y="533.1"/><use href="#eB" x="1673.4" y="543.0"/><use href="#eB" x="1718.9" y="320.2"/><use href="#eB" x="1666.4" y="503.3"/><use href="#eB" x="1575.2" y="408.0"/><use href="#eB" x="1633.5" y="307.6"/><use href="#eB" x="1618.3" y="330.9"/><use href="#eB" x="1719.9" y="427.7"/><use href="#eB" x="1715.2" y="455.0"/><use href="#eG" x="1706.3" y="490.3"/><use href="#eB" x="1682.3" y="502.2"/><use href="#eB" x="1576.9" y="391.1"/><use href="#eB" x="1653.2" y="489.6"/><use href="#eB" x="1747.2" y="415.6"/><use href="#eB" x="1660.5" y="300.2"/><use href="#eB" x="1711.5" y="492.4"/><use href="#eB" x="1728.6" y="361.1"/><use href="#eB" x="1583.8" y="368.3"/><use href="#eB" x="1701.8" y="518.3"/><use href="#eG" x="1690.5" y="322.4"/><use href="#eB" x="1603.8" y="315.9"/><use href="#eB" x="1744.6" y="352.4"/><use href="#eB" x="1672.8" y="475.8"/><use href="#eB" x="1642.8" y="341.0"/><use href="#eB" x="1581.3" y="367.2"/><use href="#eB" x="1772.4" y="374.1"/><use href="#eB" x="1732.0" y="427.9"/><use href="#eB" x="1734.1" y="345.6"/><use href="#eB" x="1648.9" y="483.5"/><use href="#eB" x="1713.0" y="412.5"/><use href="#eB" x="1701.3" y="426.1"/><use href="#eB" x="1607.8" y="415.6"/><use href="#eB" x="1601.5" y="371.3"/><use href="#eB" x="1578.9" y="379.0"/><use href="#eB" x="1714.8" y="445.9"/><use href="#eB" x="1642.8" y="308.9"/><use href="#eB" x="1725.6" y="521.4"/><use href="#eB" x="1616.9" y="341.5"/><use href="#eB" x="1669.0" y="549.3"/><use href="#eC" x="1721.2" y="315.5"/><use href="#eB" x="1719.7" y="465.5"/><use href="#eC" x="1736.7" y="432.0"/><use href="#eB" x="1661.9" y="495.8"/><use href="#eB" x="1612.1" y="309.4"/><use href="#eB" x="1735.1" y="481.3"/><use href="#eB" x="1626.0" y="425.9"/><use href="#eB" x="1718.8" y="445.6"/><use href="#eB" x="1724.7" y="496.1"/><use href="#eB" x="1646.7" y="311.3"/><use href="#eN" x="1778.2" y="341.7"/><use href="#eB" x="1560.5" y="408.9"/><use href="#eB" x="1733.6" y="473.1"/><use href="#eB" x="1715.5" y="461.2"/><use href="#eB" x="1712.6" y="513.7"/><use href="#eB" x="1723.8" y="376.8"/><use href="#eB" x="1728.5" y="497.6"/><use href="#eC" x="1678.8" y="439.1"/><use href="#eB" x="1728.9" y="477.4"/><use href="#eB" x="1663.1" y="524.1"/><use href="#eB" x="1583.8" y="404.6"/><use href="#eB" x="1707.9" y="324.9"/><use href="#eB" x="1659.2" y="483.4"/><use href="#eB" x="1742.8" y="462.1"/><use href="#eB" x="1574.2" y="388.7"/><use href="#eB" x="1723.9" y="478.0"/><use href="#eB" x="1660.2" y="489.6"/><use href="#eB" x="1764.2" y="382.6"/><use href="#eB" x="1735.4" y="336.3"/><use href="#eB" x="1644.7" y="309.2"/><use href="#eB" x="1740.1" y="421.3"/><use href="#eB" x="1721.4" y="505.3"/><use href="#eB" x="1652.5" y="473.9"/><use href="#eN" x="1725.6" y="373.6"/><use href="#eB" x="1736.1" y="375.4"/><use href="#eB" x="1678.7" y="535.3"/><use href="#eB" x="1726.5" y="459.6"/><use href="#eB" x="1562.2" y="393.7"/><use href="#eB" x="1664.2" y="521.5"/><use href="#eB" x="1729.5" y="373.2"/><use href="#eB" x="1566.6" y="369.3"/><use href="#eB" x="1707.5" y="508.5"/><use href="#eB" x="1761.3" y="442.6"/><use href="#eB" x="1740.6" y="414.4"/><use href="#eB" x="1713.5" y="412.0"/><use href="#eB" x="1699.2" y="527.7"/><use href="#eB" x="1640.3" y="512.0"/><use href="#eB" x="1729.1" y="375.1"/><use href="#eB" x="1751.5" y="353.4"/><use href="#eB" x="1711.5" y="481.5"/><use href="#eB" x="1735.8" y="410.7"/><use href="#eB" x="1763.8" y="387.2"/><use href="#eB" x="1737.4" y="341.6"/><use href="#eB" x="1762.6" y="394.6"/><use href="#eO" x="1726.8" y="432.1"/><use href="#eB" x="1657.3" y="363.2"/><use href="#eB" x="1769.7" y="351.6"/><use href="#eY" x="1746.0" y="466.1"/><use href="#eB" x="1739.7" y="463.1"/><use href="#eB" x="1718.9" y="431.3"/><use href="#eB" x="1686.9" y="305.2"/><use href="#eB" x="1738.6" y="403.4"/><use href="#eB" x="1606.8" y="360.4"/><use href="#eN" x="1653.2" y="473.3"/><use href="#eC" x="1628.5" y="304.9"/><use href="#eB" x="1627.6" y="348.9"/><use href="#eB" x="1613.8" y="403.2"/><use href="#eB" x="1702.5" y="325.6"/><use href="#eY" x="1689.0" y="334.0"/><use href="#eG" x="1581.8" y="434.2"/><use href="#eC" x="1733.6" y="319.1"/><use href="#eB" x="1565.0" y="372.0"/><use href="#eY" x="1726.3" y="495.3"/><use href="#eB" x="1735.1" y="461.7"/><use href="#eB" x="1703.3" y="313.8"/><use href="#eB" x="1730.5" y="337.6"/><use href="#eB" x="1695.0" y="467.1"/><use href="#eB" x="1768.3" y="436.3"/><use href="#eB" x="1751.6" y="370.1"/><use href="#eB" x="1731.5" y="412.3"/><use href="#eN" x="1601.3" y="391.3"/><use href="#eB" x="1694.6" y="512.4"/><use href="#eC" x="1620.4" y="312.0"/><use href="#eB" x="1601.9" y="362.6"/><use href="#eB" x="1599.6" y="392.6"/><use href="#eB" x="1711.1" y="288.7"/><use href="#eB" x="1711.5" y="527.6"/><use href="#eB" x="1657.3" y="316.6"/><use href="#eB" x="1722.9" y="518.9"/><use href="#eB" x="1716.4" y="505.5"/><use href="#eB" x="1731.9" y="514.1"/><use href="#eC" x="1734.5" y="504.7"/><use href="#eC" x="1713.0" y="390.2"/><use href="#eB" x="1664.7" y="497.8"/><use href="#eC" x="1643.8" y="534.6"/><use href="#eB" x="1578.5" y="356.6"/><use href="#eB" x="1737.3" y="436.4"/><use href="#eB" x="1745.3" y="391.2"/><use href="#eC" x="1700.5" y="508.0"/><use href="#eB" x="1609.0" y="362.0"/><use href="#eB" x="1687.0" y="313.9"/><use href="#eB" x="1673.6" y="301.4"/><use href="#eB" x="1607.4" y="411.1"/><use href="#eC" x="1710.8" y="476.3"/><use href="#eB" x="1686.2" y="511.8"/><use href="#eB" x="1562.4" y="384.7"/><use href="#eB" x="1664.2" y="361.2"/><use href="#eB" x="1753.7" y="430.2"/><use href="#eB" x="1724.1" y="513.0"/><use href="#eB" x="1686.4" y="318.2"/><use href="#eB" x="1674.4" y="292.1"/><use href="#eB" x="1698.9" y="408.9"/><use href="#eB" x="1743.1" y="459.0"/><use href="#eB" x="1597.8" y="307.5"/><use href="#eB" x="1633.9" y="307.4"/><use href="#eB" x="1768.6" y="429.7"/><use href="#eB" x="1692.1" y="515.2"/><use href="#eB" x="1640.9" y="410.4"/><use href="#eC" x="1611.6" y="362.3"/><use href="#eB" x="1683.7" y="498.5"/><use href="#eG" x="1762.0" y="401.0"/><use href="#eB" x="1729.5" y="434.7"/><use href="#eB" x="1749.2" y="350.3"/><use href="#eB" x="1638.4" y="301.7"/><use href="#eB" x="1704.1" y="528.5"/><use href="#eB" x="1657.7" y="366.7"/><use href="#eY" x="1615.3" y="370.3"/><use href="#eB" x="1684.0" y="291.0"/><use href="#eB" x="1735.3" y="455.9"/><use href="#eB" x="1701.3" y="330.0"/><use href="#eB" x="1680.9" y="526.9"/><use href="#eB" x="1712.9" y="463.9"/><use href="#eB" x="1636.1" y="308.9"/><use href="#eB" x="1637.7" y="298.6"/><use href="#eB" x="1694.1" y="490.7"/><use href="#eB" x="1671.3" y="300.7"/><use href="#eB" x="1726.0" y="387.4"/><use href="#eB" x="1702.2" y="472.7"/><use href="#eB" x="1772.4" y="337.7"/><use href="#eB" x="1700.9" y="324.9"/><use href="#eB" x="1763.6" y="425.3"/><use href="#eB" x="1736.2" y="342.8"/><use href="#eB" x="1713.0" y="477.6"/><use href="#eB" x="1722.6" y="408.3"/><use href="#eB" x="1682.3" y="424.4"/><use href="#eC" x="1744.0" y="439.8"/><use href="#eB" x="1699.5" y="413.6"/><use href="#eB" x="1718.9" y="480.1"/><use href="#eC" x="1677.2" y="540.6"/><use href="#eB" x="1618.2" y="424.4"/><use href="#eB" x="1732.6" y="458.7"/><use href="#eB" x="1687.4" y="505.2"/><use href="#eB" x="1593.8" y="337.3"/><use href="#eB" x="1652.6" y="529.8"/><use href="#eB" x="1750.1" y="440.8"/><use href="#eB" x="1763.9" y="425.7"/><use href="#eB" x="1556.7" y="373.0"/><use href="#eB" x="1739.9" y="411.7"/><use href="#eB" x="1601.0" y="315.3"/><use href="#eB" x="1751.8" y="417.0"/><use href="#eB" x="1728.5" y="509.2"/><use href="#eB" x="1738.2" y="365.5"/><use href="#eY" x="1719.8" y="340.2"/><use href="#eB" x="1692.8" y="497.5"/><use href="#eB" x="1724.9" y="438.2"/><use href="#eB" x="1771.5" y="356.7"/><use href="#eG" x="1745.9" y="442.9"/><use href="#eB" x="1639.7" y="305.8"/><use href="#eB" x="1639.4" y="357.9"/><use href="#eB" x="1728.2" y="504.7"/><use href="#eO" x="1718.9" y="494.0"/><use href="#eB" x="1698.9" y="334.2"/><use href="#eB" x="1610.4" y="402.2"/><use href="#eB" x="1723.6" y="500.4"/><use href="#eB" x="1719.8" y="337.0"/><use href="#eB" x="1706.7" y="334.6"/><use href="#eB" x="1561.4" y="364.5"/><use href="#eB" x="1707.5" y="315.0"/><use href="#eB" x="1588.2" y="344.9"/><use href="#eB" x="1643.7" y="522.0"/><use href="#eB" x="1652.9" y="500.1"/><use href="#eB" x="1744.5" y="366.1"/><use href="#eB" x="1657.3" y="437.3"/><use href="#eB" x="1710.6" y="409.7"/><use href="#eB" x="1737.2" y="401.5"/><use href="#eB" x="1698.2" y="533.9"/><use href="#eR" x="1699.5" y="331.3"/><use href="#eB" x="1720.3" y="409.1"/><use href="#eC" x="1663.8" y="509.2"/><use href="#eB" x="1707.6" y="485.6"/><use href="#eB" x="1705.0" y="476.2"/><use href="#eB" x="1722.4" y="429.1"/><use href="#eB" x="1639.5" y="508.7"/><use href="#eB" x="1613.6" y="358.3"/><use href="#eB" x="1627.2" y="412.6"/><use href="#eC" x="1684.4" y="325.6"/><use href="#eB" x="1725.6" y="449.4"/><use href="#eC" x="1719.8" y="519.2"/><use href="#eB" x="1685.5" y="316.7"/><use href="#eB" x="1732.9" y="448.5"/><use href="#eY" x="1610.8" y="418.6"/><use href="#eB" x="1741.4" y="445.4"/><use href="#eC" x="1650.1" y="550.5"/><use href="#eY" x="1586.2" y="409.9"/><use href="#eN" x="1711.1" y="516.1"/><use href="#eB" x="1587.4" y="360.4"/><use href="#eB" x="1668.3" y="537.2"/><use href="#eN" x="1756.3" y="333.6"/><use href="#eB" x="1732.6" y="355.5"/><use href="#eB" x="1776.4" y="335.8"/><use href="#eB" x="1718.7" y="524.1"/><use href="#eG" x="1585.3" y="359.4"/><use href="#eB" x="1730.4" y="478.1"/><use href="#eB" x="1599.7" y="391.0"/><use href="#eN" x="1733.2" y="434.2"/><use href="#eC" x="1578.2" y="409.6"/><use href="#eB" x="1716.8" y="517.2"/><use href="#eB" x="1588.5" y="323.8"/><use href="#eY" x="1658.1" y="485.7"/><use href="#eB" x="1644.8" y="317.0"/><use href="#eB" x="1695.6" y="336.2"/><use href="#eB" x="1636.4" y="421.1"/><use href="#eC" x="1710.9" y="318.6"/><use href="#eB" x="1740.2" y="394.3"/><use href="#eB" x="1625.7" y="341.8"/><use href="#eB" x="1607.8" y="342.2"/><use href="#eB" x="1749.7" y="381.5"/><use href="#eB" x="1718.8" y="336.6"/><use href="#eB" x="1769.4" y="351.4"/><use href="#eB" x="1670.4" y="506.1"/><use href="#eB" x="1679.2" y="534.1"/><use href="#eB" x="1731.0" y="391.6"/><use href="#eB" x="1757.8" y="354.1"/><use href="#eB" x="1717.2" y="500.0"/><use href="#eB" x="1691.5" y="308.7"/><use href="#eB" x="1752.3" y="415.7"/><use href="#eB" x="1611.6" y="305.8"/><use href="#eB" x="1701.6" y="456.2"/><use href="#eB" x="1762.0" y="393.8"/><use href="#eB" x="1777.8" y="348.4"/><use href="#eB" x="1708.8" y="465.7"/><use href="#eB" x="1729.8" y="523.5"/><use href="#eB" x="1735.2" y="513.8"/><use href="#eB" x="1640.3" y="433.7"/><use href="#eG" x="1631.6" y="413.6"/><use href="#eB" x="1689.6" y="534.6"/><use href="#eB" x="1685.7" y="294.1"/><use href="#eB" x="1763.6" y="450.9"/><use href="#eB" x="1583.1" y="386.3"/><use href="#eB" x="1642.8" y="302.6"/><use href="#eB" x="1754.4" y="424.1"/><use href="#eB" x="1561.2" y="386.7"/><use href="#eB" x="1692.6" y="306.6"/><use href="#eB" x="1659.5" y="517.6"/><use href="#eB" x="1755.9" y="344.1"/><use href="#eB" x="1680.7" y="527.4"/><use href="#eB" x="1640.5" y="357.1"/><use href="#eB" x="1639.7" y="362.0"/><use href="#eB" x="1717.6" y="494.0"/><use href="#eB" x="1711.8" y="516.9"/><use href="#eB" x="1697.5" y="404.7"/><use href="#eC" x="1721.2" y="322.1"/><use href="#eB" x="1720.0" y="357.8"/><use href="#eB" x="1750.6" y="344.6"/><use href="#eB" x="1560.7" y="363.4"/><use href="#eB" x="1642.0" y="430.2"/><use href="#eB" x="1654.6" y="484.8"/><use href="#eB" x="1738.1" y="454.8"/><use href="#eB" x="1731.4" y="437.7"/><use href="#eB" x="1736.4" y="339.8"/><use href="#eC" x="1751.9" y="417.4"/><use href="#eC" x="1597.1" y="380.3"/><use href="#eO" x="1580.9" y="294.8"/><use href="#eB" x="1730.9" y="421.2"/><use href="#eC" x="1719.5" y="404.3"/><use href="#eB" x="1593.6" y="347.2"/><use href="#eC" x="1735.8" y="423.9"/><use href="#eB" x="1688.8" y="317.0"/><use href="#eB" x="1643.1" y="472.2"/><use href="#eB" x="1656.9" y="423.6"/><use href="#eB" x="1577.3" y="311.8"/><use href="#eB" x="1608.0" y="378.6"/><use href="#eB" x="1726.3" y="363.3"/><use href="#eB" x="1755.4" y="434.2"/><use href="#eC" x="1652.4" y="517.6"/><use href="#eY" x="1680.7" y="493.9"/><use href="#eB" x="1704.4" y="475.1"/><use href="#eB" x="1732.2" y="444.7"/><use href="#eB" x="1717.3" y="397.1"/><use href="#eB" x="1726.1" y="371.2"/><use href="#eB" x="1642.0" y="404.6"/><use href="#eB" x="1739.1" y="332.3"/><use href="#eB" x="1770.9" y="353.0"/><use href="#eB" x="1711.9" y="386.2"/><use href="#eB" x="1592.6" y="374.6"/><use href="#eB" x="1717.4" y="419.5"/><use href="#eG" x="1757.5" y="439.1"/><use href="#eB" x="1657.7" y="509.4"/><use href="#eB" x="1673.7" y="287.4"/><use href="#eB" x="1713.3" y="508.3"/><use href="#eB" x="1746.7" y="361.2"/><use href="#eB" x="1710.6" y="322.1"/><use href="#eB" x="1712.5" y="516.3"/><use href="#eB" x="1742.5" y="442.3"/><use href="#eB" x="1720.0" y="425.0"/><use href="#eB" x="1747.1" y="358.8"/><use href="#eB" x="1616.2" y="396.2"/><use href="#eB" x="1744.0" y="401.3"/><use href="#eC" x="1616.2" y="341.5"/><use href="#eB" x="1725.0" y="350.4"/><use href="#eB" x="1712.0" y="512.2"/><use href="#eB" x="1738.1" y="453.0"/><use href="#eB" x="1697.6" y="513.2"/><use href="#eB" x="1721.1" y="454.7"/><use href="#eB" x="1739.7" y="370.5"/><use href="#eB" x="1720.3" y="492.0"/><use href="#eB" x="1742.9" y="331.0"/><use href="#eY" x="1740.1" y="375.5"/><use href="#eB" x="1730.0" y="465.7"/><use href="#eB" x="1614.1" y="399.7"/><use href="#eB" x="1655.9" y="525.8"/><use href="#eB" x="1620.0" y="322.3"/><use href="#eB" x="1711.8" y="289.4"/><use href="#eB" x="1750.0" y="408.6"/><use href="#eC" x="1745.0" y="446.6"/><use href="#eB" x="1749.9" y="413.1"/><use href="#eB" x="1587.7" y="329.2"/><use href="#eB" x="1637.2" y="472.2"/><use href="#eB" x="1749.1" y="420.3"/><use href="#eB" x="1763.5" y="344.2"/><use href="#eB" x="1601.8" y="388.8"/><use href="#eB" x="1665.3" y="308.4"/><use href="#eB" x="1731.9" y="514.2"/><use href="#eB" x="1666.9" y="443.9"/><use href="#eC" x="1748.7" y="401.3"/><use href="#eB" x="1647.8" y="466.4"/><use href="#eN" x="1643.3" y="486.2"/><use href="#eB" x="1597.6" y="376.0"/><use href="#eB" x="1712.4" y="456.2"/><use href="#eC" x="1747.7" y="417.4"/><use href="#eB" x="1716.8" y="421.8"/><use href="#eB" x="1733.2" y="505.3"/><use href="#eN" x="1693.9" y="353.4"/><use href="#eB" x="1735.2" y="507.3"/><use href="#eB" x="1768.2" y="372.7"/><use href="#eB" x="1595.4" y="380.2"/><use href="#eC" x="1606.1" y="416.2"/><use href="#eB" x="1752.8" y="400.2"/><use href="#eB" x="1585.3" y="343.2"/><use href="#eB" x="1658.2" y="301.9"/><use href="#eB" x="1565.7" y="409.0"/><use href="#eB" x="1690.3" y="321.9"/><use href="#eB" x="1742.1" y="426.0"/><use href="#eB" x="1654.3" y="333.4"/><use href="#eB" x="1609.7" y="406.0"/><use href="#eB" x="1746.4" y="362.0"/><use href="#eC" x="1725.9" y="315.6"/><use href="#eB" x="1654.3" y="482.6"/><use href="#eG" x="1673.0" y="303.0"/><use href="#eB" x="1640.5" y="506.4"/><use href="#eB" x="1621.4" y="348.9"/><use href="#eB" x="1723.8" y="462.7"/><use href="#eB" x="1704.3" y="422.8"/><use href="#eB" x="1676.6" y="310.2"/><use href="#eO" x="1732.1" y="384.0"/><use href="#eB" x="1638.1" y="320.6"/><use href="#eB" x="1745.9" y="475.7"/><use href="#eB" x="1753.8" y="462.1"/><use href="#eB" x="1745.0" y="412.2"/><use href="#eG" x="1719.4" y="376.6"/><use href="#eB" x="1770.2" y="376.6"/><use href="#eB" x="1744.8" y="454.4"/><use href="#eB" x="1606.6" y="411.9"/><use href="#eB" x="1716.8" y="400.0"/><use href="#eB" x="1716.8" y="462.0"/><use href="#eB" x="1752.3" y="383.9"/><use href="#eC" x="1567.4" y="383.9"/><use href="#eC" x="1590.6" y="321.6"/><use href="#eC" x="1747.1" y="386.0"/><use href="#eB" x="1652.7" y="481.9"/><use href="#eB" x="1620.7" y="391.9"/><use href="#eN" x="1569.1" y="423.0"/><use href="#eB" x="1738.1" y="400.7"/><use href="#eB" x="1616.4" y="332.9"/><use href="#eB" x="1560.1" y="368.7"/><use href="#eB" x="1713.3" y="400.7"/><use href="#eB" x="1661.2" y="522.2"/><use href="#eB" x="1620.8" y="400.0"/><use href="#eB" x="1622.9" y="340.1"/><use href="#eB" x="1586.4" y="362.7"/><use href="#eB" x="1705.9" y="311.6"/><use href="#eB" x="1751.5" y="373.1"/><use href="#eB" x="1687.3" y="518.5"/><use href="#eC" x="1715.0" y="432.0"/><use href="#eC" x="1738.6" y="435.7"/><use href="#eB" x="1755.8" y="374.7"/><use href="#eB" x="1639.9" y="482.7"/><use href="#eB" x="1752.4" y="434.4"/><use href="#eB" x="1721.8" y="373.0"/><use href="#eB" x="1654.4" y="396.1"/><use href="#eB" x="1739.1" y="439.0"/><use href="#eB" x="1552.4" y="386.3"/><use href="#eB" x="1730.2" y="394.9"/><use href="#eB" x="1742.2" y="443.9"/><use href="#eB" x="1649.5" y="472.9"/><use href="#eB" x="1633.5" y="470.0"/><use href="#eB" x="1647.7" y="307.2"/><use href="#eB" x="1685.3" y="506.3"/><use href="#eB" x="1657.8" y="494.4"/><use href="#eB" x="1724.8" y="453.3"/><use href="#eB" x="1725.3" y="390.5"/><use href="#eN" x="1563.1" y="381.8"/><use href="#eN" x="1695.9" y="352.4"/><use href="#eB" x="1691.6" y="537.3"/><use href="#eB" x="1576.9" y="366.1"/><use href="#eB" x="1575.4" y="385.3"/><use href="#eB" x="1562.1" y="364.1"/><use href="#eB" x="1613.8" y="302.6"/><use href="#eB" x="1657.7" y="500.3"/><use href="#eB" x="1661.6" y="532.2"/><use href="#eB" x="1687.7" y="307.4"/><use href="#eB" x="1641.4" y="303.3"/><use href="#eB" x="1602.2" y="359.6"/><use href="#eG" x="1652.9" y="466.4"/><use href="#eB" x="1736.5" y="383.5"/><use href="#eB" x="1739.2" y="447.1"/><use href="#eB" x="1748.8" y="394.7"/><use href="#eC" x="1706.9" y="305.8"/><use href="#eC" x="1602.6" y="412.7"/><use href="#eB" x="1716.2" y="494.7"/><use href="#eC" x="1743.1" y="420.9"/><use href="#eB" x="1691.4" y="513.9"/><use href="#eB" x="1749.4" y="432.8"/><use href="#eB" x="1704.4" y="336.1"/><use href="#eB" x="1703.6" y="472.6"/><use href="#eB" x="1705.4" y="316.9"/><use href="#eB" x="1708.0" y="316.0"/><use href="#eC" x="1764.4" y="439.5"/><use href="#eB" x="1719.0" y="340.9"/><use href="#eC" x="1638.4" y="413.1"/><use href="#eB" x="1657.8" y="297.9"/><use href="#eB" x="1626.1" y="298.1"/><use href="#eB" x="1691.1" y="518.5"/><use href="#eB" x="1719.5" y="471.2"/><use href="#eB" x="1579.4" y="410.7"/><use href="#eR" x="1691.8" y="492.7"/><use href="#eB" x="1740.4" y="415.7"/><use href="#eB" x="1765.5" y="342.1"/><use href="#eB" x="1759.7" y="337.6"/><use href="#eB" x="1598.4" y="425.4"/><use href="#eB" x="1758.1" y="355.9"/><use href="#eB" x="1696.8" y="334.2"/><use href="#eB" x="1704.2" y="502.8"/><use href="#eB" x="1647.6" y="535.8"/><use href="#eB" x="1704.1" y="414.3"/><use href="#eB" x="1755.2" y="428.8"/><use href="#eB" x="1711.2" y="497.5"/><use href="#eG" x="1596.7" y="383.8"/><use href="#eB" x="1719.1" y="339.6"/><use href="#eB" x="1731.3" y="430.6"/><use href="#eB" x="1759.5" y="346.6"/><use href="#eB" x="1640.8" y="313.4"/><use href="#eB" x="1708.0" y="530.9"/><use href="#eB" x="1761.4" y="433.4"/><use href="#eB" x="1676.5" y="315.3"/><use href="#eG" x="1691.1" y="515.7"/><use href="#eB" x="1754.0" y="373.6"/><use href="#eB" x="1711.2" y="419.9"/><use href="#eB" x="1748.1" y="459.3"/><use href="#eB" x="1696.4" y="527.6"/><use href="#eB" x="1729.8" y="350.6"/><use href="#eR" x="1715.8" y="506.7"/><use href="#eB" x="1595.7" y="335.8"/><use href="#eB" x="1667.8" y="323.7"/><use href="#eB" x="1715.9" y="483.1"/><use href="#eC" x="1629.0" y="398.5"/><use href="#eB" x="1696.9" y="308.0"/><use href="#eC" x="1705.9" y="310.5"/><use href="#eC" x="1742.2" y="345.7"/><use href="#eB" x="1767.1" y="341.0"/><use href="#eC" x="1726.5" y="524.0"/><use href="#eC" x="1634.1" y="475.7"/><use href="#eB" x="1644.9" y="361.9"/><use href="#eB" x="1692.7" y="307.2"/><use href="#eB" x="1728.6" y="497.0"/><use href="#eB" x="1751.5" y="466.8"/><use href="#eB" x="1730.3" y="379.5"/><use href="#eB" x="1720.4" y="452.4"/><use href="#eB" x="1729.0" y="393.4"/><use href="#eB" x="1724.2" y="453.3"/><use href="#eB" x="1720.1" y="370.2"/><use href="#eB" x="1594.2" y="327.1"/><use href="#eB" x="1618.7" y="325.3"/><use href="#eB" x="1598.6" y="383.9"/><use href="#eB" x="1632.5" y="473.4"/><use href="#eB" x="1605.4" y="415.0"/><use href="#eB" x="1581.8" y="401.3"/><use href="#eB" x="1773.2" y="350.0"/><use href="#eB" x="1741.4" y="372.5"/><use href="#eB" x="1614.4" y="358.0"/><use href="#eB" x="1741.7" y="351.4"/><use href="#eB" x="1759.7" y="424.8"/><use href="#eB" x="1690.4" y="325.2"/><use href="#eB" x="1727.3" y="369.2"/><use href="#eB" x="1751.1" y="421.6"/><use href="#eB" x="1643.9" y="492.1"/><use href="#eN" x="1587.6" y="417.9"/><use href="#eB" x="1739.4" y="336.9"/><use href="#eB" x="1761.1" y="439.6"/><use href="#eB" x="1757.1" y="424.7"/><use href="#eB" x="1716.0" y="495.1"/><use href="#eB" x="1630.6" y="432.4"/><use href="#eB" x="1604.4" y="316.4"/><use href="#eB" x="1701.7" y="420.6"/><use href="#eB" x="1622.8" y="312.9"/><use href="#eB" x="1602.0" y="431.5"/><use href="#eG" x="1723.0" y="422.0"/><use href="#eC" x="1640.5" y="301.6"/><use href="#eB" x="1581.3" y="391.0"/><use href="#eB" x="1726.6" y="417.9"/><use href="#eC" x="1658.4" y="360.6"/><use href="#eB" x="1714.9" y="491.8"/><use href="#eB" x="1737.2" y="378.8"/><use href="#eB" x="1718.7" y="401.0"/><use href="#eB" x="1607.5" y="349.1"/><use href="#eC" x="1664.8" y="508.0"/><use href="#eB" x="1604.4" y="314.0"/><use href="#eC" x="1620.8" y="404.1"/><use href="#eB" x="1687.2" y="333.9"/><use href="#eB" x="1707.9" y="527.7"/><use href="#eB" x="1755.8" y="426.3"/><use href="#eB" x="1675.8" y="541.1"/><use href="#eB" x="1712.4" y="450.8"/><use href="#eB" x="1737.1" y="319.4"/><use href="#eB" x="1722.7" y="508.0"/><use href="#eB" x="1605.4" y="426.7"/><use href="#eC" x="1709.9" y="310.0"/><use href="#eB" x="1707.8" y="500.8"/><use href="#eC" x="1748.5" y="386.6"/><use href="#eC" x="1682.3" y="470.4"/><use href="#eB" x="1579.6" y="392.4"/><use href="#eB" x="1597.0" y="357.5"/><use href="#eB" x="1635.0" y="506.6"/><use href="#eB" x="1686.4" y="521.9"/><use href="#eB" x="1723.4" y="437.2"/><use href="#eB" x="1605.4" y="312.5"/><use href="#eB" x="1716.2" y="518.7"/><use href="#eB" x="1655.8" y="428.8"/><use href="#eB" x="1727.3" y="369.6"/><use href="#eB" x="1725.9" y="527.6"/><use href="#eB" x="1635.1" y="302.8"/><use href="#eC" x="1727.3" y="350.8"/><use href="#eB" x="1743.0" y="342.9"/><use href="#eB" x="1724.5" y="452.8"/><use href="#eB" x="1722.9" y="392.6"/><use href="#eB" x="1582.5" y="363.3"/><use href="#eB" x="1661.0" y="520.2"/><use href="#eB" x="1622.6" y="315.4"/><use href="#eB" x="1768.1" y="390.0"/><use href="#eB" x="1612.9" y="373.3"/><use href="#eB" x="1718.0" y="486.9"/><use href="#eB" x="1582.9" y="299.0"/><use href="#eB" x="1679.0" y="495.1"/><use href="#eB" x="1746.2" y="403.1"/><use href="#eB" x="1680.6" y="543.4"/><use href="#eB" x="1701.6" y="316.3"/><use href="#eB" x="1735.1" y="491.8"/><use href="#eB" x="1713.5" y="494.2"/><use href="#eB" x="1677.3" y="298.2"/><use href="#eB" x="1733.6" y="377.3"/><use href="#eB" x="1741.5" y="414.5"/><use href="#eB" x="1596.2" y="356.0"/><use href="#eB" x="1718.0" y="511.0"/><use href="#eB" x="1759.0" y="351.1"/><use href="#eB" x="1660.0" y="505.3"/><use href="#eB" x="1653.4" y="516.0"/><use href="#eB" x="1679.8" y="408.0"/><use href="#eB" x="1649.5" y="405.2"/><use href="#eB" x="1762.8" y="389.1"/><use href="#eB" x="1701.4" y="472.0"/><use href="#eB" x="1586.1" y="389.6"/><use href="#eB" x="1668.5" y="299.5"/><use href="#eB" x="1639.3" y="503.4"/><use href="#eG" x="1653.0" y="492.3"/><use href="#eB" x="1598.2" y="330.2"/><use href="#eB" x="1597.1" y="369.0"/><use href="#eB" x="1617.4" y="398.9"/><use href="#eB" x="1678.8" y="521.9"/><use href="#eB" x="1616.6" y="343.5"/><use href="#eB" x="1720.9" y="503.1"/><use href="#eG" x="1719.3" y="525.4"/><use href="#eB" x="1618.7" y="405.3"/><use href="#eB" x="1611.8" y="371.6"/><use href="#eB" x="1714.7" y="441.2"/><use href="#eB" x="1723.5" y="338.0"/><use href="#eB" x="1726.2" y="442.7"/><use href="#eG" x="1734.6" y="324.5"/><use href="#eC" x="1735.5" y="480.4"/><use href="#eN" x="1579.5" y="368.9"/><use href="#eB" x="1666.0" y="427.8"/><use href="#eN" x="1620.8" y="313.1"/><use href="#eB" x="1666.3" y="311.3"/><use href="#eB" x="1757.5" y="405.2"/><use href="#eB" x="1670.4" y="318.7"/><use href="#eC" x="1598.3" y="310.2"/><use href="#eB" x="1668.6" y="286.3"/><use href="#eB" x="1666.9" y="321.2"/><use href="#eC" x="1720.6" y="311.3"/><use href="#eB" x="1668.9" y="516.4"/><use href="#eB" x="1624.7" y="314.9"/><use href="#eB" x="1612.8" y="323.7"/><use href="#eB" x="1657.6" y="302.5"/><use href="#eB" x="1672.7" y="311.9"/><use href="#eB" x="1663.7" y="324.5"/><use href="#eB" x="1715.8" y="419.7"/><use href="#eB" x="1683.6" y="300.2"/><use href="#eB" x="1582.4" y="357.3"/><use href="#eB" x="1713.5" y="413.1"/><use href="#eB" x="1713.7" y="292.8"/><use href="#eG" x="1712.6" y="310.8"/><use href="#eC" x="1704.6" y="490.9"/><use href="#eB" x="1626.8" y="419.0"/><use href="#eB" x="1680.0" y="500.5"/><use href="#eB" x="1646.6" y="531.6"/><use href="#eB" x="1596.4" y="383.5"/><use href="#eB" x="1593.1" y="424.5"/><use href="#eG" x="1583.1" y="357.9"/><use href="#eC" x="1636.7" y="304.3"/><use href="#eG" x="1711.8" y="308.5"/><use href="#eG" x="1742.1" y="437.1"/><use href="#eB" x="1694.8" y="510.6"/><use href="#eB" x="1646.6" y="336.4"/><use href="#eB" x="1713.5" y="314.9"/><use href="#eB" x="1654.5" y="312.1"/><use href="#eB" x="1740.3" y="348.5"/><use href="#eB" x="1708.7" y="517.6"/><use href="#eB" x="1676.2" y="303.3"/><use href="#eB" x="1562.1" y="405.8"/><use href="#eB" x="1725.6" y="391.6"/><use href="#eB" x="1709.2" y="451.2"/><use href="#eB" x="1579.2" y="362.8"/><use href="#eB" x="1567.6" y="387.5"/><use href="#eB" x="1724.8" y="366.2"/><use href="#eB" x="1736.6" y="336.7"/><use href="#eC" x="1742.4" y="406.7"/><use href="#eB" x="1720.1" y="521.5"/><use href="#eB" x="1583.7" y="390.5"/><use href="#eB" x="1569.5" y="378.3"/><use href="#eC" x="1751.2" y="356.4"/><use href="#eG" x="1600.4" y="339.8"/><use href="#eB" x="1722.9" y="420.9"/><use href="#eB" x="1690.9" y="496.0"/><use href="#eB" x="1650.3" y="505.8"/><use href="#eG" x="1717.7" y="383.3"/><use href="#eY" x="1565.6" y="365.9"/><use href="#eG" x="1718.6" y="327.0"/><use href="#eB" x="1611.6" y="407.9"/><use href="#eB" x="1717.0" y="380.3"/><use href="#eB" x="1636.4" y="410.7"/><use href="#eB" x="1634.1" y="475.6"/><use href="#eB" x="1697.1" y="537.7"/><use href="#eB" x="1734.1" y="519.8"/><use href="#eB" x="1734.4" y="394.9"/><use href="#eB" x="1710.9" y="477.4"/><use href="#eB" x="1756.7" y="349.6"/><use href="#eB" x="1722.2" y="375.5"/><use href="#eB" x="1693.7" y="411.3"/><use href="#eB" x="1693.2" y="498.0"/><use href="#eB" x="1732.2" y="414.2"/><use href="#eB" x="1710.1" y="455.7"/><use href="#eB" x="1706.8" y="487.9"/><use href="#eB" x="1751.7" y="367.5"/><use href="#eB" x="1599.8" y="385.9"/><use href="#eB" x="1600.8" y="366.7"/><use href="#eB" x="1708.6" y="479.7"/><use href="#eG" x="1719.2" y="474.8"/><use href="#eB" x="1758.8" y="450.6"/><use href="#eB" x="1726.0" y="429.5"/><use href="#eB" x="1717.9" y="428.9"/><use href="#eB" x="1676.9" y="298.4"/><use href="#eB" x="1686.6" y="508.9"/><use href="#eB" x="1575.1" y="395.5"/><use href="#eB" x="1751.4" y="358.6"/><use href="#eC" x="1722.5" y="450.5"/><use href="#eB" x="1729.9" y="376.5"/><use href="#eB" x="1641.6" y="412.6"/><use href="#eB" x="1672.8" y="294.8"/><use href="#eB" x="1772.2" y="352.1"/><use href="#eB" x="1662.1" y="363.2"/><use href="#eB" x="1724.3" y="461.6"/><use href="#eB" x="1750.9" y="357.9"/><use href="#eB" x="1730.8" y="496.7"/><use href="#eB" x="1652.7" y="306.7"/><use href="#eB" x="1675.5" y="318.2"/><use href="#eB" x="1720.2" y="379.3"/><use href="#eB" x="1662.2" y="555.9"/><use href="#eB" x="1679.7" y="525.5"/><use href="#eB" x="1644.5" y="434.4"/><use href="#eB" x="1671.7" y="318.7"/><use href="#eB" x="1707.3" y="491.8"/><use href="#eB" x="1711.6" y="402.0"/><use href="#eB" x="1649.6" y="508.4"/><use href="#eB" x="1714.9" y="500.4"/><use href="#eB" x="1678.3" y="410.4"/><use href="#eB" x="1593.0" y="375.3"/><use href="#eB" x="1722.4" y="390.5"/><use href="#eC" x="1661.8" y="522.6"/><use href="#eB" x="1592.5" y="420.5"/><use href="#eB" x="1614.2" y="370.5"/><use href="#eB" x="1663.1" y="425.2"/><use href="#eB" x="1589.1" y="371.3"/><use href="#eB" x="1679.1" y="312.5"/><use href="#eB" x="1637.0" y="396.1"/><use href="#eB" x="1694.9" y="300.6"/><use href="#eB" x="1727.2" y="480.4"/><use href="#eB" x="1758.1" y="401.9"/><use href="#eB" x="1724.2" y="488.7"/><use href="#eB" x="1690.0" y="298.8"/><use href="#eB" x="1653.8" y="308.5"/><use href="#eB" x="1649.4" y="539.0"/><use href="#eB" x="1689.3" y="492.1"/><use href="#eB" x="1654.3" y="529.8"/><use href="#eB" x="1572.0" y="396.8"/><use href="#eB" x="1758.0" y="406.6"/><use href="#eC" x="1703.5" y="536.6"/><use href="#eN" x="1619.7" y="338.9"/><use href="#eB" x="1632.9" y="389.2"/><use href="#eB" x="1752.0" y="459.5"/><use href="#eB" x="1614.8" y="379.2"/><use href="#eB" x="1701.0" y="338.4"/><use href="#eC" x="1607.9" y="358.2"/><use href="#eB" x="1692.0" y="487.0"/><use href="#eB" x="1719.9" y="479.8"/><use href="#eB" x="1705.4" y="423.1"/><use href="#eB" x="1619.1" y="310.4"/><use href="#eC" x="1562.8" y="388.4"/><use href="#eB" x="1640.7" y="511.7"/><use href="#eB" x="1725.6" y="513.8"/><use href="#eB" x="1586.8" y="386.3"/><use href="#eB" x="1588.0" y="388.3"/><use href="#eB" x="1759.1" y="379.0"/><use href="#eB" x="1750.6" y="412.3"/><use href="#eB" x="1708.0" y="412.2"/><use href="#eC" x="1616.1" y="373.3"/><use href="#eB" x="1739.3" y="348.4"/><use href="#eC" x="1750.7" y="381.8"/><use href="#eB" x="1741.8" y="413.8"/><use href="#eB" x="1563.0" y="362.3"/><use href="#eB" x="1579.7" y="379.6"/><use href="#eC" x="1732.3" y="444.7"/><use href="#eN" x="1696.5" y="351.5"/><use href="#eB" x="1763.6" y="336.8"/><use href="#eB" x="1739.0" y="399.0"/><use href="#eB" x="1696.3" y="407.9"/><use href="#eB" x="1612.1" y="318.2"/><use href="#eB" x="1649.8" y="304.6"/><use href="#eC" x="1573.3" y="374.5"/><use href="#eB" x="1753.3" y="427.6"/><use href="#eB" x="1766.4" y="444.9"/><use href="#eG" x="1609.1" y="412.6"/><use href="#eB" x="1618.0" y="301.5"/><use href="#eB" x="1734.1" y="476.4"/><use href="#eB" x="1613.2" y="378.7"/><use href="#eC" x="1630.3" y="393.3"/><use href="#eB" x="1706.8" y="467.4"/><use href="#eB" x="1649.7" y="518.8"/><use href="#eB" x="1664.2" y="308.9"/><use href="#eB" x="1692.9" y="333.3"/><use href="#eB" x="1701.9" y="505.5"/><use href="#eB" x="1745.3" y="419.1"/><use href="#eB" x="1689.9" y="492.5"/><use href="#eB" x="1726.0" y="425.1"/><use href="#eB" x="1711.8" y="528.0"/><use href="#eB" x="1722.0" y="329.8"/><use href="#eB" x="1721.9" y="436.1"/><use href="#eB" x="1678.0" y="318.4"/><use href="#eB" x="1601.6" y="387.4"/><use href="#eG" x="1741.4" y="428.3"/><use href="#eC" x="1718.0" y="391.2"/><use href="#eC" x="1714.5" y="448.3"/><use href="#eC" x="1713.5" y="450.6"/><use href="#eN" x="1744.6" y="395.7"/><use href="#eB" x="1595.3" y="376.9"/><use href="#eB" x="1755.8" y="436.8"/><use href="#eB" x="1709.7" y="530.6"/><use href="#eB" x="1775.5" y="372.2"/><use href="#eC" x="1708.4" y="314.3"/><use href="#eB" x="1737.0" y="403.8"/><use href="#eB" x="1705.8" y="330.1"/><use href="#eB" x="1718.6" y="420.2"/><use href="#eB" x="1578.7" y="408.6"/><use href="#eB" x="1749.0" y="373.4"/><use href="#eG" x="1756.5" y="352.4"/><use href="#eG" x="1765.9" y="391.4"/><use href="#eB" x="1633.0" y="433.3"/><use href="#eB" x="1725.5" y="407.3"/><use href="#eB" x="1753.0" y="388.7"/><use href="#eB" x="1636.9" y="296.1"/><use href="#eB" x="1706.5" y="517.7"/><use href="#eB" x="1754.4" y="460.1"/><use href="#eB" x="1591.5" y="357.5"/><use href="#eG" x="1730.9" y="378.2"/><use href="#eC" x="1705.4" y="325.2"/><use href="#eB" x="1745.0" y="458.4"/><use href="#eB" x="1582.0" y="403.0"/><use href="#eB" x="1695.5" y="324.6"/><use href="#eB" x="1616.1" y="345.6"/><use href="#eC" x="1718.4" y="508.0"/><use href="#eB" x="1665.9" y="287.0"/><use href="#eB" x="1731.1" y="361.0"/><use href="#eB" x="1736.0" y="413.1"/><use href="#eB" x="1752.4" y="341.3"/><use href="#eN" x="1579.1" y="382.4"/><use href="#eB" x="1689.9" y="552.4"/><use href="#eR" x="1597.4" y="379.1"/><use href="#eB" x="1742.7" y="361.3"/><use href="#eB" x="1658.4" y="516.0"/><use href="#eB" x="1657.8" y="295.9"/><use href="#eB" x="1717.9" y="482.2"/><use href="#eC" x="1696.5" y="418.2"/><use href="#eB" x="1611.0" y="308.0"/><use href="#eB" x="1601.8" y="410.2"/><use href="#eB" x="1649.6" y="494.2"/><use href="#eG" x="1749.3" y="425.5"/><use href="#eB" x="1621.9" y="313.7"/><use href="#eB" x="1575.1" y="391.5"/><use href="#eB" x="1731.3" y="423.8"/><use href="#eB" x="1666.0" y="490.6"/><use href="#eG" x="1726.4" y="424.8"/><use href="#eB" x="1657.6" y="472.3"/><use href="#eB" x="1769.3" y="428.3"/><use href="#eB" x="1638.9" y="429.5"/><use href="#eB" x="1717.5" y="286.6"/><use href="#eB" x="1703.7" y="327.3"/><use href="#eB" x="1724.5" y="372.7"/><use href="#eB" x="1710.4" y="399.1"/><use href="#eG" x="1689.4" y="418.5"/><use href="#eB" x="1748.3" y="357.8"/><use href="#eB" x="1677.4" y="534.3"/><use href="#eC" x="1690.1" y="494.7"/><use href="#eB" x="1744.6" y="342.0"/><use href="#eB" x="1695.2" y="416.2"/><use href="#eB" x="1743.8" y="351.2"/><use href="#eB" x="1720.1" y="505.7"/><use href="#eB" x="1760.9" y="360.1"/><use href="#eB" x="1600.9" y="382.8"/><use href="#eB" x="1662.7" y="504.9"/><use href="#eB" x="1649.1" y="313.5"/><use href="#eB" x="1720.7" y="401.3"/><use href="#eG" x="1589.2" y="413.5"/><use href="#eN" x="1603.8" y="305.6"/><use href="#eB" x="1768.2" y="433.5"/><use href="#eB" x="1701.0" y="531.1"/><use href="#eB" x="1711.1" y="404.2"/><use href="#eB" x="1699.3" y="411.0"/><use href="#eB" x="1696.8" y="525.1"/><use href="#eB" x="1665.5" y="469.8"/><use href="#eB" x="1732.6" y="495.0"/><use href="#eB" x="1720.5" y="496.5"/><use href="#eB" x="1594.2" y="412.1"/><use href="#eB" x="1740.1" y="367.4"/><use href="#eB" x="1692.4" y="512.7"/><use href="#eB" x="1713.8" y="406.1"/><use href="#eB" x="1717.4" y="477.7"/><use href="#eB" x="1584.5" y="350.0"/><use href="#eC" x="1645.7" y="518.0"/><use href="#eB" x="1730.5" y="424.0"/><use href="#eB" x="1583.1" y="310.1"/><use href="#eB" x="1683.5" y="408.6"/><use href="#eB" x="1679.3" y="294.9"/><use href="#eB" x="1748.4" y="367.6"/><use href="#eB" x="1687.4" y="301.6"/><use href="#eB" x="1610.9" y="414.4"/><use href="#eB" x="1680.6" y="413.3"/><use href="#eC" x="1635.8" y="435.5"/><use href="#eC" x="1703.1" y="507.2"/><use href="#eB" x="1657.5" y="486.0"/><use href="#eB" x="1726.6" y="436.6"/><use href="#eC" x="1656.2" y="498.3"/><use href="#eB" x="1626.0" y="397.4"/><use href="#eC" x="1563.8" y="388.3"/><use href="#eB" x="1623.9" y="323.5"/><use href="#eB" x="1713.9" y="344.0"/><use href="#eB" x="1725.2" y="448.8"/><use href="#eB" x="1643.6" y="313.8"/><use href="#eB" x="1609.9" y="416.1"/><use href="#eB" x="1643.1" y="410.3"/><use href="#eB" x="1674.9" y="301.5"/><use href="#eB" x="1760.3" y="340.6"/><use href="#eC" x="1683.3" y="497.1"/><use href="#eC" x="1638.5" y="415.0"/><use href="#eC" x="1732.5" y="378.9"/><use href="#eB" x="1729.3" y="355.0"/><use href="#eB" x="1647.4" y="332.8"/><use href="#eB" x="1677.6" y="412.0"/><use href="#eB" x="1740.9" y="457.4"/><use href="#eB" x="1582.8" y="382.7"/><use href="#eB" x="1615.5" y="375.8"/><use href="#eC" x="1737.1" y="440.3"/><use href="#eC" x="1744.8" y="377.5"/><use href="#eB" x="1721.5" y="368.3"/><use href="#eB" x="1757.8" y="395.7"/><use href="#eC" x="1611.2" y="433.2"/><use href="#eB" x="1706.5" y="312.5"/><use href="#eB" x="1737.2" y="387.1"/><use href="#eB" x="1736.3" y="459.7"/><use href="#eB" x="1569.4" y="380.0"/><use href="#eB" x="1693.1" y="523.3"/><use href="#eB" x="1691.0" y="290.7"/><use href="#eB" x="1735.3" y="435.3"/><use href="#eB" x="1729.1" y="477.2"/><use href="#eB" x="1670.3" y="544.0"/><use href="#eB" x="1601.9" y="394.3"/><use href="#eB" x="1640.1" y="507.8"/><use href="#eB" x="1717.9" y="318.7"/><use href="#eB" x="1713.3" y="386.0"/><use href="#eB" x="1737.1" y="490.4"/><use href="#eB" x="1710.1" y="501.8"/><use href="#eB" x="1725.3" y="361.0"/><use href="#eB" x="1719.0" y="386.3"/><use href="#eC" x="1739.3" y="452.9"/><use href="#eB" x="1606.7" y="319.1"/><use href="#eC" x="1652.3" y="301.4"/><use href="#eB" x="1700.2" y="467.3"/><use href="#eB" x="1653.0" y="470.7"/><use href="#eB" x="1709.5" y="498.1"/><use href="#eO" x="1653.7" y="468.8"/><use href="#eC" x="1710.3" y="443.9"/><use href="#eB" x="1654.5" y="430.1"/><use href="#eB" x="1721.4" y="462.6"/><use href="#eB" x="1756.0" y="444.9"/><use href="#eB" x="1743.1" y="416.9"/><use href="#eG" x="1760.6" y="395.8"/><use href="#eB" x="1767.4" y="379.7"/><use href="#eB" x="1671.4" y="537.8"/><use href="#eB" x="1638.3" y="412.0"/><use href="#eB" x="1722.5" y="498.1"/><use href="#eB" x="1705.5" y="503.1"/><use href="#eB" x="1729.6" y="508.3"/><use href="#eB" x="1631.0" y="413.5"/><use href="#eB" x="1571.7" y="350.2"/><use href="#eB" x="1618.8" y="422.6"/><use href="#eB" x="1724.4" y="487.3"/><use href="#eB" x="1762.6" y="404.5"/><use href="#eB" x="1758.0" y="434.7"/><use href="#eB" x="1702.6" y="408.5"/><use href="#eB" x="1747.7" y="376.8"/><use href="#eB" x="1734.3" y="495.4"/><use href="#eB" x="1687.7" y="318.5"/><use href="#eB" x="1708.8" y="397.8"/><use href="#eB" x="1602.9" y="361.5"/><use href="#eB" x="1645.6" y="427.5"/><use href="#eB" x="1757.4" y="440.4"/><use href="#eB" x="1705.5" y="489.5"/><use href="#eB" x="1666.6" y="294.1"/><use href="#eB" x="1630.0" y="346.4"/><use href="#eB" x="1740.4" y="339.3"/><use href="#eB" x="1613.2" y="416.2"/><use href="#eB" x="1608.2" y="422.3"/><use href="#eC" x="1591.6" y="376.8"/><use href="#eN" x="1771.6" y="365.9"/><use href="#eB" x="1729.2" y="492.9"/><use href="#eB" x="1723.9" y="425.6"/><use href="#eB" x="1755.4" y="405.4"/><use href="#eB" x="1750.4" y="376.9"/><use href="#eB" x="1710.3" y="513.3"/><use href="#eB" x="1710.5" y="505.2"/><use href="#eB" x="1774.6" y="353.7"/><use href="#eB" x="1728.4" y="362.1"/><use href="#eB" x="1661.9" y="499.3"/><use href="#eB" x="1645.0" y="308.8"/><use href="#eB" x="1678.3" y="434.6"/><use href="#eB" x="1739.8" y="399.7"/><use href="#eC" x="1744.6" y="346.9"/><use href="#eB" x="1736.5" y="426.8"/><use href="#eB" x="1743.5" y="446.8"/><use href="#eB" x="1687.6" y="516.5"/><use href="#eB" x="1765.0" y="361.6"/><use href="#eB" x="1719.0" y="397.8"/><use href="#eB" x="1662.6" y="450.9"/><use href="#eB" x="1766.3" y="356.1"/><use href="#eB" x="1705.6" y="306.7"/><use href="#eC" x="1717.3" y="371.3"/><use href="#eB" x="1754.5" y="347.6"/><use href="#eB" x="1578.8" y="362.8"/><use href="#eB" x="1763.9" y="390.7"/><use href="#eB" x="1712.8" y="486.6"/><use href="#eB" x="1756.5" y="407.5"/><use href="#eB" x="1705.4" y="313.4"/><use href="#eB" x="1655.3" y="497.9"/><use href="#eB" x="1607.5" y="424.6"/><use href="#eC" x="1776.4" y="366.8"/><use href="#eB" x="1750.4" y="460.5"/><use href="#eB" x="1734.1" y="400.6"/><use href="#eB" x="1709.5" y="498.1"/><use href="#eB" x="1756.6" y="355.7"/><use href="#eB" x="1767.2" y="431.0"/><use href="#eB" x="1600.4" y="308.2"/><use href="#eB" x="1704.6" y="312.5"/><use href="#eB" x="1630.6" y="309.1"/><use href="#eB" x="1704.6" y="307.3"/><use href="#eB" x="1615.2" y="324.2"/><use href="#eB" x="1562.9" y="374.1"/><use href="#eB" x="1708.2" y="432.1"/><use href="#eB" x="1697.2" y="407.5"/><use href="#eB" x="1557.2" y="379.1"/><use href="#eB" x="1689.4" y="327.0"/><use href="#eB" x="1721.2" y="471.4"/><use href="#eB" x="1640.0" y="435.0"/><use href="#eC" x="1679.9" y="511.8"/><use href="#eC" x="1636.7" y="512.9"/><use href="#eB" x="1579.6" y="410.1"/><use href="#eB" x="1729.3" y="463.2"/><use href="#eG" x="1672.1" y="288.7"/><use href="#eB" x="1592.1" y="413.7"/><use href="#eC" x="1748.4" y="459.1"/><use href="#eB" x="1728.0" y="437.5"/><use href="#eB" x="1698.2" y="532.8"/><use href="#eB" x="1695.5" y="358.2"/><use href="#eB" x="1630.3" y="417.6"/><use href="#eB" x="1739.5" y="383.0"/><use href="#eY" x="1652.7" y="534.7"/><use href="#eB" x="1592.6" y="365.6"/><use href="#eC" x="1731.9" y="423.2"/><use href="#eB" x="1754.1" y="407.9"/><use href="#eB" x="1748.7" y="344.0"/><use href="#eB" x="1623.2" y="340.8"/><use href="#eB" x="1714.3" y="450.0"/><use href="#eB" x="1572.2" y="395.9"/><use href="#eB" x="1753.2" y="421.6"/><use href="#eB" x="1744.3" y="378.7"/><use href="#eB" x="1670.4" y="543.8"/><use href="#eB" x="1594.4" y="306.3"/><use href="#eC" x="1645.1" y="492.7"/><use href="#eY" x="1622.7" y="340.6"/><use href="#eB" x="1707.4" y="464.6"/><use href="#eC" x="1651.3" y="417.7"/><use href="#eB" x="1612.9" y="397.4"/><use href="#eB" x="1767.6" y="439.0"/><use href="#eB" x="1694.0" y="406.9"/><use href="#eB" x="1695.8" y="540.6"/><use href="#eB" x="1599.7" y="339.4"/><use href="#eB" x="1635.6" y="302.0"/><use href="#eG" x="1684.9" y="293.3"/><use href="#eB" x="1728.3" y="450.2"/><use href="#eB" x="1724.1" y="501.5"/><use href="#eB" x="1643.6" y="345.3"/><use href="#eB" x="1760.2" y="442.0"/><use href="#eB" x="1709.2" y="316.8"/><use href="#eB" x="1661.5" y="426.2"/><use href="#eB" x="1682.6" y="415.3"/><use href="#eB" x="1747.1" y="366.8"/><use href="#eB" x="1591.0" y="425.1"/><use href="#eB" x="1741.1" y="415.5"/><use href="#eB" x="1650.5" y="428.0"/><use href="#eB" x="1603.6" y="414.7"/><use href="#eB" x="1578.9" y="363.6"/><use href="#eC" x="1703.1" y="458.1"/><use href="#eB" x="1651.2" y="468.7"/><use href="#eC" x="1686.3" y="323.5"/><use href="#eB" x="1723.6" y="443.5"/><use href="#eG" x="1716.2" y="335.8"/><use href="#eB" x="1744.1" y="403.1"/><use href="#eB" x="1749.6" y="460.2"/><use href="#eB" x="1762.8" y="380.4"/><use href="#eB" x="1744.7" y="408.2"/><use href="#eB" x="1577.3" y="385.5"/><use href="#eB" x="1667.5" y="519.2"/><use href="#eC" x="1645.5" y="308.0"/><use href="#eB" x="1609.2" y="372.2"/><use href="#eG" x="1732.7" y="328.8"/><use href="#eB" x="1598.6" y="360.6"/><use href="#eB" x="1598.5" y="350.5"/><use href="#eB" x="1613.6" y="343.9"/><use href="#eG" x="1611.6" y="322.2"/><use href="#eC" x="1608.2" y="298.7"/><use href="#eB" x="1574.2" y="389.4"/><use href="#eC" x="1722.0" y="491.2"/><use href="#eB" x="1662.8" y="523.5"/><use href="#eB" x="1727.5" y="457.1"/><use href="#eB" x="1608.6" y="362.8"/><use href="#eB" x="1733.5" y="358.9"/><use href="#eB" x="1733.9" y="390.2"/><use href="#eB" x="1663.7" y="526.0"/><use href="#eB" x="1761.5" y="444.3"/><use href="#eB" x="1686.5" y="509.8"/><use href="#eB" x="1734.8" y="417.2"/><use href="#eB" x="1743.6" y="345.2"/><use href="#eB" x="1744.3" y="346.3"/><use href="#eB" x="1729.3" y="369.1"/><use href="#eB" x="1730.6" y="369.8"/><use href="#eB" x="1713.8" y="451.3"/><use href="#eC" x="1676.2" y="412.3"/><use href="#eB" x="1712.1" y="458.8"/><use href="#eB" x="1737.6" y="356.9"/><use href="#eB" x="1610.0" y="420.8"/><use href="#eB" x="1630.9" y="477.2"/><use href="#eG" x="1665.3" y="281.8"/><use href="#eB" x="1734.8" y="326.5"/><use href="#eB" x="1728.9" y="507.8"/><use href="#eB" x="1736.9" y="404.9"/><use href="#eC" x="1729.0" y="363.5"/><use href="#eR" x="1583.4" y="293.8"/><use href="#eB" x="1703.3" y="511.8"/><use href="#eB" x="1610.7" y="356.9"/><use href="#eB" x="1744.8" y="403.1"/><use href="#eB" x="1719.8" y="528.4"/><use href="#eB" x="1669.0" y="500.6"/><use href="#eB" x="1683.0" y="526.0"/><use href="#eB" x="1695.4" y="539.6"/><use href="#eB" x="1603.5" y="312.0"/><use href="#eB" x="1684.4" y="492.2"/><use href="#eB" x="1602.3" y="408.0"/><use href="#eB" x="1749.4" y="345.8"/><use href="#eB" x="1695.2" y="299.9"/><use href="#eC" x="1619.1" y="381.3"/><use href="#eC" x="1741.3" y="414.5"/><use href="#eB" x="1712.9" y="383.2"/><use href="#eB" x="1744.0" y="460.0"/><use href="#eB" x="1736.2" y="389.5"/><use href="#eB" x="1672.4" y="439.7"/><use href="#eC" x="1748.8" y="455.6"/><use href="#eB" x="1708.8" y="524.2"/><use href="#eB" x="1571.7" y="388.5"/><use href="#eB" x="1711.0" y="462.8"/><use href="#eB" x="1571.8" y="368.7"/><use href="#eB" x="1707.3" y="459.5"/><use href="#eB" x="1714.3" y="318.2"/><use href="#eB" x="1717.8" y="493.6"/><use href="#eB" x="1601.4" y="317.9"/><use href="#eB" x="1647.5" y="412.0"/><use href="#eB" x="1754.9" y="355.2"/><use href="#eB" x="1692.2" y="331.5"/><use href="#eC" x="1735.6" y="427.4"/><use href="#eC" x="1655.9" y="419.3"/><use href="#eB" x="1587.6" y="396.8"/><use href="#eB" x="1708.4" y="531.9"/><use href="#eG" x="1644.3" y="315.3"/><use href="#eC" x="1716.2" y="514.2"/><use href="#eB" x="1761.8" y="399.7"/><use href="#eC" x="1641.9" y="294.8"/><use href="#eB" x="1624.4" y="298.5"/><use href="#eB" x="1712.5" y="312.4"/><use href="#eB" x="1690.9" y="502.5"/><use href="#eB" x="1635.6" y="296.2"/><use href="#eG" x="1722.2" y="316.5"/><use href="#eB" x="1728.1" y="358.8"/><use href="#eC" x="1644.1" y="435.7"/><use href="#eB" x="1757.4" y="426.3"/><use href="#eB" x="1636.5" y="390.9"/><use href="#eB" x="1673.9" y="296.8"/><use href="#eN" x="1583.6" y="364.5"/><use href="#eC" x="1658.2" y="398.4"/><use href="#eC" x="1616.1" y="296.2"/><use href="#eB" x="1715.4" y="452.3"/><use href="#eB" x="1759.0" y="359.9"/><use href="#eB" x="1694.8" y="517.3"/><use href="#eB" x="1673.3" y="309.0"/><use href="#eB" x="1622.0" y="324.2"/><use href="#eB" x="1760.2" y="443.8"/><use href="#eB" x="1751.0" y="414.7"/><use href="#eB" x="1739.8" y="408.3"/><use href="#eB" x="1644.8" y="521.7"/><use href="#eB" x="1722.0" y="427.6"/><use href="#eB" x="1731.4" y="430.1"/><use href="#eC" x="1702.5" y="337.0"/><use href="#eC" x="1658.2" y="425.1"/><use href="#eB" x="1735.1" y="461.2"/><use href="#eB" x="1710.0" y="530.8"/><use href="#eB" x="1745.5" y="357.0"/><use href="#eB" x="1633.9" y="309.4"/><use href="#eG" x="1740.1" y="391.2"/><use href="#eB" x="1712.9" y="464.7"/><use href="#eB" x="1701.7" y="529.8"/><use href="#eB" x="1693.7" y="313.7"/><use href="#eC" x="1718.2" y="319.6"/><use href="#eB" x="1754.0" y="427.6"/><use href="#eB" x="1668.3" y="444.2"/><use href="#eB" x="1611.3" y="400.9"/><use href="#eC" x="1733.2" y="402.7"/><use href="#eB" x="1709.1" y="524.4"/><use href="#eB" x="1595.7" y="388.5"/><use href="#eB" x="1700.7" y="505.4"/><use href="#eC" x="1769.6" y="371.2"/><use href="#eO" x="1695.3" y="540.4"/><use href="#eB" x="1672.8" y="299.0"/><use href="#eB" x="1736.1" y="443.4"/><use href="#eB" x="1597.5" y="386.4"/><use href="#eB" x="1744.6" y="334.0"/><use href="#eB" x="1595.8" y="421.3"/><use href="#eB" x="1714.9" y="450.5"/><use href="#eB" x="1676.7" y="292.4"/><use href="#eB" x="1602.2" y="420.4"/><use href="#eB" x="1744.3" y="365.7"/><use href="#eB" x="1660.1" y="516.7"/><use href="#eB" x="1691.1" y="325.8"/><use href="#eB" x="1746.8" y="459.1"/><use href="#eB" x="1716.6" y="467.2"/><use href="#eN" x="1672.4" y="426.0"/><use href="#eB" x="1661.2" y="366.9"/><use href="#eB" x="1758.9" y="361.3"/><use href="#eB" x="1631.2" y="320.5"/><use href="#eC" x="1751.7" y="446.3"/><use href="#eB" x="1734.3" y="461.5"/><use href="#eB" x="1735.1" y="422.9"/><use href="#eB" x="1731.2" y="471.9"/><use href="#eB" x="1673.7" y="508.7"/><use href="#eB" x="1655.2" y="303.4"/><use href="#eB" x="1667.6" y="425.5"/><use href="#eB" x="1731.9" y="364.8"/><use href="#eB" x="1590.7" y="425.3"/><use href="#eB" x="1603.2" y="363.1"/><use href="#eG" x="1722.6" y="361.6"/><use href="#eB" x="1690.0" y="295.8"/><use href="#eB" x="1725.3" y="505.9"/><use href="#eB" x="1608.7" y="386.0"/><use href="#eB" x="1657.8" y="487.7"/><use href="#eG" x="1691.0" y="489.8"/><use href="#eB" x="1630.8" y="309.3"/><use href="#eB" x="1733.5" y="423.7"/><use href="#eB" x="1693.7" y="291.6"/><use href="#eB" x="1674.7" y="312.5"/><use href="#eB" x="1686.3" y="498.6"/><use href="#eB" x="1705.3" y="534.1"/><use href="#eB" x="1682.4" y="418.0"/><use href="#eB" x="1597.2" y="360.0"/><use href="#eB" x="1685.7" y="329.3"/><use href="#eC" x="1611.7" y="301.0"/><use href="#eB" x="1675.8" y="287.9"/><use href="#eB" x="1710.2" y="419.1"/><use href="#eC" x="1727.5" y="394.2"/><use href="#eB" x="1735.9" y="389.7"/><use href="#eB" x="1614.5" y="385.7"/><use href="#eB" x="1752.0" y="392.6"/><use href="#eB" x="1638.0" y="482.7"/><use href="#eB" x="1685.7" y="300.4"/><use href="#eB" x="1702.7" y="333.0"/><use href="#eB" x="1657.7" y="490.2"/><use href="#eB" x="1633.4" y="307.0"/><use href="#eB" x="1767.0" y="380.2"/><use href="#eB" x="1751.5" y="372.5"/><use href="#eB" x="1721.7" y="386.1"/><use href="#eB" x="1648.3" y="520.6"/><use href="#eB" x="1561.0" y="367.3"/><use href="#eB" x="1709.5" y="304.2"/><use href="#eB" x="1685.1" y="314.5"/><use href="#eB" x="1690.7" y="518.2"/><use href="#eB" x="1740.5" y="507.4"/><use href="#eB" x="1739.4" y="370.1"/><use href="#eB" x="1763.2" y="393.3"/><use href="#eB" x="1651.4" y="520.4"/><use href="#eC" x="1731.0" y="496.0"/><use href="#eB" x="1639.1" y="359.2"/><use href="#eN" x="1682.8" y="410.2"/><use href="#eB" x="1645.6" y="487.1"/><use href="#eB" x="1739.0" y="402.4"/><use href="#eB" x="1763.0" y="381.9"/><use href="#eB" x="1737.5" y="331.6"/><use href="#eB" x="1583.9" y="411.9"/><use href="#eB" x="1720.5" y="505.0"/><use href="#eB" x="1742.0" y="470.3"/><use href="#eY" x="1692.1" y="518.1"/><use href="#eB" x="1716.3" y="494.9"/><use href="#eB" x="1669.0" y="429.3"/><use href="#eB" x="1710.8" y="443.2"/><use href="#eG" x="1739.7" y="359.7"/><use href="#eB" x="1766.4" y="366.8"/><use href="#eB" x="1712.4" y="498.0"/><use href="#eB" x="1715.2" y="509.4"/><use href="#eB" x="1751.4" y="460.4"/><use href="#eB" x="1748.6" y="390.7"/><use href="#eY" x="1664.0" y="519.9"/><use href="#eC" x="1750.0" y="342.8"/><use href="#eB" x="1607.9" y="318.5"/><use href="#eC" x="1714.6" y="471.8"/><use href="#eB" x="1691.1" y="496.9"/><use href="#eB" x="1659.0" y="494.3"/><use href="#eC" x="1709.1" y="507.9"/><use href="#eB" x="1583.7" y="411.4"/><use href="#eB" x="1630.6" y="298.4"/><use href="#eB" x="1646.0" y="520.2"/><use href="#eB" x="1749.3" y="438.7"/><use href="#eB" x="1691.4" y="519.8"/><use href="#eB" x="1620.4" y="312.0"/><use href="#eB" x="1691.1" y="290.6"/><use href="#eB" x="1713.3" y="449.9"/><use href="#eB" x="1719.1" y="316.9"/><use href="#eB" x="1621.1" y="381.7"/><use href="#eB" x="1695.5" y="306.0"/><use href="#eB" x="1563.5" y="376.1"/><use href="#eB" x="1603.6" y="411.4"/><use href="#eB" x="1715.6" y="458.4"/><use href="#eG" x="1736.6" y="360.2"/><use href="#eB" x="1711.0" y="509.1"/><use href="#eB" x="1715.6" y="288.1"/><use href="#eB" x="1646.1" y="409.5"/><use href="#eB" x="1597.9" y="391.7"/><use href="#eB" x="1612.8" y="312.6"/><use href="#eB" x="1572.3" y="386.9"/><use href="#eB" x="1738.2" y="439.1"/><use href="#eB" x="1664.5" y="448.5"/><use href="#eC" x="1662.2" y="524.1"/><use href="#eB" x="1697.6" y="428.4"/><use href="#eO" x="1743.4" y="349.6"/><use href="#eB" x="1719.8" y="499.7"/><use href="#eB" x="1748.8" y="399.7"/><use href="#eC" x="1633.8" y="398.7"/><use href="#eB" x="1620.0" y="425.1"/><use href="#eB" x="1714.3" y="337.1"/><use href="#eB" x="1664.8" y="431.0"/><use href="#eB" x="1694.1" y="307.0"/><use href="#eB" x="1749.7" y="461.6"/><use href="#eB" x="1711.9" y="379.8"/><use href="#eB" x="1717.3" y="498.5"/><use href="#eB" x="1746.1" y="411.4"/><use href="#eB" x="1579.9" y="308.5"/><use href="#eB" x="1715.7" y="291.2"/><use href="#eB" x="1579.9" y="405.0"/><use href="#eC" x="1729.2" y="464.5"/><use href="#eB" x="1589.5" y="328.8"/><use href="#eB" x="1667.9" y="512.6"/><use href="#eB" x="1714.0" y="430.6"/><use href="#eB" x="1697.0" y="404.2"/><use href="#eB" x="1596.8" y="362.7"/><use href="#eB" x="1732.9" y="498.2"/><use href="#eC" x="1738.3" y="411.6"/><use href="#eB" x="1719.5" y="430.4"/><use href="#eY" x="1656.0" y="312.9"/><use href="#eB" x="1737.0" y="496.8"/><use href="#eB" x="1651.5" y="308.0"/><use href="#eB" x="1609.8" y="327.0"/><use href="#eB" x="1707.5" y="419.5"/><use href="#eB" x="1680.5" y="518.7"/><use href="#eB" x="1718.3" y="473.9"/><use href="#eB" x="1698.0" y="489.5"/><use href="#eB" x="1740.7" y="376.9"/><use href="#eC" x="1600.5" y="360.4"/><use href="#eB" x="1692.1" y="326.3"/><use href="#eB" x="1698.6" y="511.3"/><use href="#eB" x="1764.9" y="390.5"/><use href="#eB" x="1721.1" y="492.5"/><use href="#eB" x="1629.0" y="384.3"/><use href="#eB" x="1713.3" y="401.7"/><use href="#eB" x="1755.5" y="367.0"/><use href="#eB" x="1665.4" y="519.1"/><use href="#eB" x="1705.4" y="491.5"/><use href="#eC" x="1715.6" y="463.7"/><use href="#eB" x="1759.3" y="430.0"/><use href="#eB" x="1725.0" y="457.4"/><use href="#eB" x="1707.3" y="500.7"/><use href="#eB" x="1615.4" y="341.2"/><use href="#eB" x="1596.3" y="318.2"/><use href="#eB" x="1719.5" y="432.7"/><use href="#eB" x="1725.5" y="438.8"/><use href="#eB" x="1773.2" y="347.9"/><use href="#eO" x="1635.3" y="430.2"/><use href="#eB" x="1597.8" y="356.7"/><use href="#eB" x="1734.5" y="338.0"/><use href="#eB" x="1727.2" y="448.7"/><use href="#eB" x="1745.5" y="408.3"/><use href="#eB" x="1644.4" y="486.3"/><use href="#eC" x="1734.5" y="327.9"/><use href="#eB" x="1704.6" y="513.9"/><use href="#eB" x="1684.4" y="316.9"/><use href="#eC" x="1611.1" y="296.4"/><use href="#eB" x="1760.2" y="401.0"/><use href="#eB" x="1622.0" y="430.1"/><use href="#eB" x="1722.2" y="375.0"/><use href="#eB" x="1722.1" y="404.9"/><use href="#eB" x="1672.1" y="305.3"/><use href="#eB" x="1715.0" y="450.3"/><use href="#eB" x="1633.4" y="413.9"/><use href="#eB" x="1732.5" y="454.2"/><use href="#eB" x="1667.1" y="313.4"/><use href="#eB" x="1777.2" y="337.1"/><use href="#eG" x="1738.4" y="386.7"/><use href="#eB" x="1750.8" y="413.0"/><use href="#eB" x="1648.2" y="476.8"/><use href="#eB" x="1656.3" y="477.6"/><use href="#eB" x="1763.6" y="381.9"/><use href="#eB" x="1608.6" y="361.4"/><use href="#eB" x="1632.4" y="479.2"/><use href="#eB" x="1776.2" y="335.2"/><use href="#eB" x="1682.5" y="322.1"/><use href="#eB" x="1724.8" y="506.7"/><use href="#eB" x="1647.0" y="306.1"/><use href="#eB" x="1591.3" y="347.7"/><use href="#eB" x="1596.1" y="370.6"/><use href="#eB" x="1733.8" y="483.8"/><use href="#eB" x="1652.9" y="505.5"/><use href="#eB" x="1733.3" y="463.3"/><use href="#eB" x="1658.2" y="493.3"/><use href="#eB" x="1755.4" y="369.3"/><use href="#eB" x="1761.7" y="422.4"/><use href="#eB" x="1645.1" y="525.2"/><use href="#eB" x="1719.2" y="344.8"/><use href="#eG" x="1667.1" y="447.7"/><use href="#eB" x="1639.0" y="476.1"/><use href="#eB" x="1584.1" y="389.5"/><use href="#eB" x="1724.4" y="359.6"/><use href="#eN" x="1705.9" y="542.0"/><use href="#eG" x="1798.6" y="402.5"/><use href="#eY" x="1651.3" y="382.6"/><use href="#eB" x="1788.9" y="403.5"/><use href="#eO" x="1623.9" y="560.5"/><use href="#eO" x="1619.1" y="388.8"/><use href="#eG" x="1582.0" y="433.7"/><use href="#eC" x="1742.0" y="329.3"/><use href="#eG" x="1601.5" y="334.2"/><use href="#eY" x="1578.1" y="346.9"/><use href="#eC" x="1729.3" y="393.7"/><use href="#eB" x="1668.8" y="554.7"/><use href="#eR" x="1642.5" y="457.1"/><use href="#eB" x="1659.1" y="373.2"/><use href="#eG" x="1793.8" y="422.0"/><use href="#eO" x="1614.2" y="544.9"/><use href="#eB" x="1551.7" y="355.6"/><use href="#eR" x="1623.9" y="402.5"/><use href="#eY" x="1705.9" y="296.1"/><use href="#eC" x="1709.8" y="373.2"/><use href="#d" x="1683.5" y="417.1"/><use href="#eC" x="1731.3" y="340.0"/><use href="#eB" x="1630.8" y="502.0"/><use href="#eO" x="1552.7" y="388.8"/><use href="#eR" x="1622.0" y="557.6"/><use href="#eG" x="1621.0" y="544.9"/><use href="#eN" x="1679.6" y="510.2"/><use href="#eC" x="1708.8" y="362.5"/><use href="#eO" x="1559.5" y="393.7"/><use href="#eC" x="1690.3" y="284.4"/><use href="#eC" x="1699.1" y="309.8"/><use href="#eR" x="1702.0" y="322.5"/><use href="#eC" x="1781.1" y="418.1"/><use href="#eO" x="1706.9" y="405.4"/><use href="#eG" x="1700.1" y="363.5"/><use href="#eB" x="1752.8" y="328.3"/><use href="#eN" x="1557.6" y="400.5"/><use href="#eG" x="1624.9" y="549.8"/><use href="#eC" x="1689.3" y="277.2"/><use href="#eN" x="1785.9" y="336.1"/><use href="#eG" x="1682.5" y="404.4"/><use href="#eY" x="1795.7" y="410.3"/><use href="#eB" x="1664.9" y="553.7"/><use href="#eY" x="1619.1" y="522.5"/><use href="#d" x="1661.0" y="392.7"/><use href="#eB" x="1743.0" y="489.3"/><use href="#eG" x="1561.5" y="426.9"/><use href="#eG" x="1721.5" y="294.6"/><use href="#eG" x="1793.8" y="400.5"/><use href="#eR" x="1589.8" y="402.5"/><use href="#eC" x="1781.1" y="372.2"/><use href="#eC" x="1792.8" y="434.7"/><use href="#eO" x="1681.5" y="315.2"/><use href="#eB" x="1633.7" y="453.2"/><use href="#eY" x="1674.7" y="489.3"/><use href="#eR" x="1604.4" y="496.1"/><use href="#eO" x="1700.1" y="430.8"/><use href="#eY" x="1592.7" y="411.3"/><use href="#d" x="1604.4" y="379.1"/><use href="#eO" x="1605.4" y="503.0"/><use href="#eY" x="1623.9" y="386.9"/><use href="#eG" x="1648.3" y="468.8"/><use href="#eY" x="1573.2" y="306.8"/><use href="#d" x="1561.5" y="344.9"/><use href="#eY" x="1630.8" y="485.4"/><use href="#eB" x="1659.1" y="398.6"/><use href="#eN" x="1579.0" y="330.3"/><use href="#eN" x="1690.3" y="481.9"/><use href="#eG" x="1630.8" y="525.4"/><use href="#d" x="1558.5" y="514.7"/><use href="#eG" x="1575.1" y="425.9"/><use href="#eG" x="1706.9" y="307.8"/><use href="#eG" x="1657.1" y="433.7"/><use href="#eG" x="1627.8" y="478.6"/><use href="#eB" x="1633.7" y="379.1"/><use href="#eG" x="1617.1" y="491.2"/><use href="#eC" x="1719.6" y="286.4"/><use href="#eC" x="1627.8" y="427.9"/><use href="#eC" x="1591.7" y="392.7"/><use href="#eY" x="1606.4" y="412.3"/><use href="#d" x="1614.2" y="383.0"/><use href="#eC" x="1623.0" y="496.1"/><use href="#eB" x="1612.2" y="456.1"/><use href="#eB" x="1661.0" y="536.1"/><use href="#eY" x="1731.3" y="406.4"/><use href="#eY" x="1704.9" y="370.3"/><use href="#eR" x="1655.2" y="416.2"/><use href="#eG" x="1659.1" y="514.7"/><use href="#eY" x="1688.4" y="526.4"/><use href="#eC" x="1599.5" y="431.8"/><use href="#eY" x="1679.6" y="448.3"/><use href="#eO" x="1635.6" y="350.8"/><use href="#eY" x="1786.9" y="434.7"/><use href="#eY" x="1680.5" y="424.9"/><use href="#eO" x="1564.4" y="403.5"/><use href="#eC" x="1618.1" y="328.3"/><use href="#eN" x="1733.2" y="380.0"/><use href="#eO" x="1694.2" y="476.0"/><use href="#eY" x="1546.8" y="373.2"/><use href="#eY" x="1769.4" y="451.2"/><use href="#eG" x="1630.8" y="517.6"/><use href="#eC" x="1584.9" y="422.0"/><use href="#eY" x="1676.6" y="363.5"/><use href="#eY" x="1689.3" y="425.9"/><use href="#eY" x="1631.7" y="544.0"/><use href="#eO" x="1806.4" y="395.7"/><use href="#eC" x="1610.3" y="497.1"/><use href="#eB" x="1771.3" y="386.9"/><use href="#eG" x="1629.8" y="447.3"/><use href="#eY" x="1670.8" y="421.0"/><use href="#eB" x="1639.6" y="386.9"/><use href="#eC" x="1737.2" y="490.3"/><use href="#eN" x="1639.6" y="400.5"/><use href="#eN" x="1585.9" y="384.0"/><use href="#eB" x="1692.3" y="542.0"/><use href="#eN" x="1694.2" y="467.4"/><use href="#eC" x="1700.1" y="418.1"/><use href="#eB" x="1772.3" y="424.0"/><use href="#eY" x="1789.9" y="394.7"/><use href="#eN" x="1639.6" y="498.1"/><use href="#eG" x="1666.9" y="559.6"/><use href="#eY" x="1663.0" y="478.6"/><use href="#eY" x="1615.2" y="517.6"/><use href="#eC" x="1625.9" y="418.1"/><use href="#eB" x="1666.9" y="469.8"/><use href="#eC" x="1661.0" y="322.5"/><use href="#d" x="1561.5" y="338.1"/><use href="#eG" x="1707.9" y="377.1"/><use href="#eC" x="1616.1" y="557.6"/><use href="#eY" x="1608.3" y="397.6"/><use href="#eG" x="1582.0" y="375.2"/><use href="#d" x="1625.9" y="365.4"/><use href="#eC" x="1644.4" y="494.2"/><use href="#eY" x="1800.6" y="396.6"/><use href="#eC" x="1610.3" y="489.3"/><use href="#eR" x="1667.9" y="498.1"/><use href="#d" x="1669.8" y="371.3"/><use href="#eC" x="1641.5" y="316.6"/><use href="#eC" x="1637.6" y="333.2"/><use href="#eG" x="1668.8" y="295.1"/><use href="#eB" x="1635.6" y="544.0"/><use href="#eB" x="1668.8" y="363.5"/><use href="#eY" x="1711.8" y="422.0"/><use href="#eC" x="1754.7" y="346.9"/><use href="#eC" x="1668.8" y="407.4"/><use href="#eC" x="1679.6" y="466.8"/><use href="#eG" x="1668.8" y="537.1"/><use href="#eY" x="1696.2" y="443.4"/><use href="#eC" x="1793.8" y="427.9"/><use href="#eN" x="1672.7" y="467.4"/><use href="#eC" x="1727.4" y="518.6"/><use href="#eG" x="1721.5" y="343.0"/><use href="#eO" x="1602.5" y="437.6"/><use href="#eO" x="1646.4" y="443.4"/><use href="#d" x="1674.7" y="431.8"/><use href="#eB" x="1739.1" y="518.6"/><use href="#eO" x="1555.6" y="371.3"/><use href="#eC" x="1678.6" y="279.5"/><use href="#eC" x="1563.4" y="355.6"/><use href="#eB" x="1677.6" y="340.0"/><use href="#eY" x="1707.9" y="350.8"/><use href="#eB" x="1684.4" y="548.8"/><use href="#eO" x="1645.4" y="375.2"/><use href="#eN" x="1700.1" y="355.6"/><use href="#eC" x="1579.0" y="338.1"/><use href="#eB" x="1668.8" y="338.1"/><use href="#eY" x="1624.9" y="524.4"/><use href="#eC" x="1583.9" y="316.6"/><use href="#eN" x="1746.9" y="389.8"/><use href="#eC" x="1657.1" y="552.7"/><use href="#eC" x="1674.7" y="550.8"/><use href="#eC" x="1656.1" y="444.4"/><use href="#eO" x="1647.4" y="449.3"/><use href="#eC" x="1626.9" y="543.0"/><use href="#eC" x="1637.6" y="526.4"/><use href="#eB" x="1754.7" y="469.8"/><use href="#eG" x="1612.2" y="481.5"/><use href="#eY" x="1653.2" y="404.4"/><use href="#eC" x="1622.0" y="487.3"/><use href="#eO" x="1668.8" y="486.4"/><use href="#eC" x="1719.6" y="399.6"/><use href="#eO" x="1720.6" y="473.1"/><use href="#eB" x="1782.0" y="404.4"/><use href="#eB" x="1735.2" y="527.4"/><use href="#eY" x="1651.3" y="510.8"/><use href="#eR" x="1615.2" y="550.4"/><use href="#eC" x="1625.9" y="324.4"/><use href="#eG" x="1750.8" y="365.4"/><use href="#eY" x="1637.6" y="412.3"/><use href="#eC" x="1787.9" y="424.0"/><use href="#eG" x="1730.3" y="373.2"/><use href="#eG" x="1763.5" y="352.7"/><use href="#eG" x="1663.0" y="544.9"/><use href="#eR" x="1686.4" y="339.1"/><use href="#eG" x="1589.8" y="432.8"/><use href="#eR" x="1714.7" y="360.5"/><use href="#eC" x="1571.2" y="408.4"/><use href="#eC" x="1782.0" y="411.3"/><use href="#eC" x="1780.1" y="442.4"/><use href="#eG" x="1732.3" y="318.6"/><use href="#eC" x="1694.2" y="459.0"/><use href="#eC" x="1707.9" y="482.5"/><use href="#eO" x="1602.5" y="439.5"/><use href="#eO" x="1678.6" y="333.2"/><use href="#eB" x="1792.8" y="450.3"/><use href="#eN" x="1678.6" y="517.6"/><use href="#eB" x="1633.7" y="367.4"/><use href="#eR" x="1594.7" y="302.0"/><use href="#eB" x="1772.3" y="445.4"/><use href="#eC" x="1634.7" y="537.1"/><use href="#eG" x="1645.4" y="528.3"/><use href="#eR" x="1688.4" y="434.7"/><use href="#eC" x="1684.4" y="537.1"/><use href="#eY" x="1705.9" y="440.5"/><use href="#d" x="1652.2" y="396.6"/><use href="#eG" x="1645.4" y="422.0"/><use href="#eC" x="1672.7" y="527.4"/><use href="#eG" x="1717.6" y="353.7"/><use href="#eY" x="1547.8" y="366.4"/><use href="#eG" x="1653.2" y="549.8"/>
</g>
<g id="ax3dlines">
<path d="M1235.0 606.9L1463.2 702.7M1463.2 702.7L1909.2 647.4M1909.2 647.4L1917.8 286.5M1254.7 612.0L1242.7 613.3M1885.9 647.6L1897.3 651.5M1911.0 327.7L1922.6 330.6M1293.7 628.4L1281.8 629.7M1804.0 657.7L1815.3 661.7M1909.5 392.1L1921.1 395.2M1334.0 645.3L1322.1 646.6M1720.6 668.0L1731.8 672.1M1908.0 456.0L1919.5 459.3M1375.6 662.7L1363.6 664.1M1635.6 678.4L1646.8 682.8M1906.5 519.3L1918.0 522.8M1418.4 680.7L1406.5 682.1M1549.0 689.1L1560.2 693.6M1905.0 582.0L1916.5 585.7" stroke="#000" stroke-width="1.1" fill="none"/>
<text x="1226.3" y="650.5" font-size="19.9" text-anchor="middle">−20</text>
<text x="1265.1" y="667.2" font-size="19.9" text-anchor="middle">−10</text>
<text x="1304.0" y="684.8" font-size="19.9" text-anchor="middle">0</text>
<text x="1345.5" y="702.3" font-size="19.9" text-anchor="middle">10</text>
<text x="1387.5" y="720.9" font-size="19.9" text-anchor="middle">20</text>
<text x="1567.2" y="733.3" font-size="19.9" text-anchor="middle">20</text>
<text x="1653.7" y="722.5" font-size="19.9" text-anchor="middle">10</text>
<text x="1738.9" y="711.8" font-size="19.9" text-anchor="middle">0</text>
<text x="1822.4" y="701.1" font-size="19.9" text-anchor="middle">−10</text>
<text x="1904.7" y="690.3" font-size="19.9" text-anchor="middle">−20</text>
<text x="1957.1" y="346.9" font-size="19.9" text-anchor="middle">−20</text>
<text x="1956.0" y="411.4" font-size="19.9" text-anchor="middle">−10</text>
<text x="1953.1" y="475.5" font-size="19.9" text-anchor="middle">0</text>
<text x="1951.0" y="538.8" font-size="19.9" text-anchor="middle">10</text>
<text x="1950.0" y="601.9" font-size="19.9" text-anchor="middle">20</text>
</g>
<g id="legend2">
<circle cx="1839.6" cy="154.7" r="4.3" fill="#2a7fff" stroke="#fff" stroke-width="1"/>
<circle cx="1839.6" cy="176" r="4.3" fill="#383838" stroke="#fff" stroke-width="1"/>
<text x="1864.9" y="159.0" font-size="13.9" text-anchor="start">GRB (Fill Colors)</text>
<text x="1864.9" y="180.0" font-size="13.9" text-anchor="start">non-GRB</text>
</g>
<g id="cbar2">
<rect x="2053.00" y="691.86" width="32.60" height="92.84" fill="#2b2b9f" shape-rendering="crispEdges"/>
<rect x="2053.00" y="599.21" width="32.60" height="92.84" fill="#2a7fff" shape-rendering="crispEdges"/>
<rect x="2053.00" y="506.57" width="32.60" height="92.84" fill="#35f5eb" shape-rendering="crispEdges"/>
<rect x="2053.00" y="413.93" width="32.60" height="92.84" fill="#98ff85" shape-rendering="crispEdges"/>
<rect x="2053.00" y="321.29" width="32.60" height="92.84" fill="#fff02a" shape-rendering="crispEdges"/>
<rect x="2053.00" y="228.64" width="32.60" height="92.84" fill="#ff7d26" shape-rendering="crispEdges"/>
<rect x="2053.00" y="136.00" width="32.60" height="92.84" fill="#a2282a" shape-rendering="crispEdges"/>
<rect x="2053.0" y="136.0" width="32.6" height="648.5" fill="none" stroke="#000" stroke-width="1.3"/>
<path d="M2085.6 784.5h-5M2085.6 761.3h-2.6M2085.6 738.2h-2.6M2085.6 715h-2.6M2085.6 691.9h-5M2085.6 668.7h-2.6M2085.6 645.5h-2.6M2085.6 622.4h-2.6M2085.6 599.2h-5M2085.6 576.1h-2.6M2085.6 552.9h-2.6M2085.6 529.7h-2.6M2085.6 506.6h-5M2085.6 483.4h-2.6M2085.6 460.2h-2.6M2085.6 437.1h-2.6M2085.6 413.9h-5M2085.6 390.8h-2.6M2085.6 367.6h-2.6M2085.6 344.4h-2.6M2085.6 321.3h-5M2085.6 298.1h-2.6M2085.6 275h-2.6M2085.6 251.8h-2.6M2085.6 228.6h-5M2085.6 205.5h-2.6M2085.6 182.3h-2.6M2085.6 159.2h-2.6M2085.6 136h-5" stroke="#000" stroke-width="1.1" fill="none"/>
<text x="2092.0" y="791.7" font-size="19.9" text-anchor="start">0.0</text>
<text x="2092.0" y="699.1" font-size="19.9" text-anchor="start">0.1</text>
<text x="2092.0" y="606.4" font-size="19.9" text-anchor="start">0.2</text>
<text x="2092.0" y="513.8" font-size="19.9" text-anchor="start">0.3</text>
<text x="2092.0" y="421.1" font-size="19.9" text-anchor="start">0.4</text>
<text x="2092.0" y="328.5" font-size="19.9" text-anchor="start">0.6</text>
<text x="2092.0" y="235.8" font-size="19.9" text-anchor="start">1.0</text>
<text x="2092.0" y="143.2" font-size="19.9" text-anchor="start">3.0</text>
<text transform="translate(2146.5 460.7) rotate(-90)" font-size="19.9" text-anchor="middle"><tspan font-style="italic">σ</tspan> (Hardness Ratio [50-300 KeV / 10-50 KeV])</text>
</g>
</svg>
</body></html>
